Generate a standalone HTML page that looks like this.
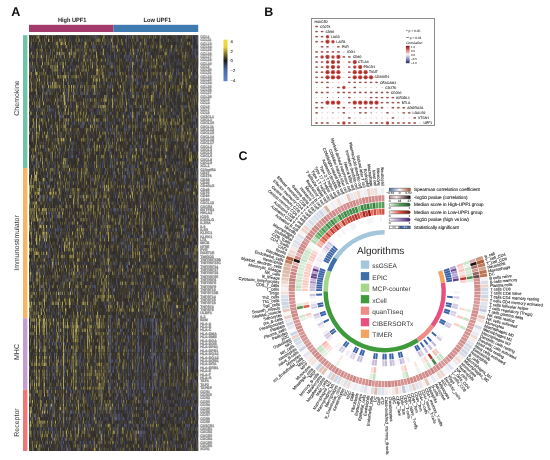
<!DOCTYPE html>
<html><head><meta charset="utf-8"><title>Figure</title>
<style>
html,body{margin:0;padding:0;background:#fff;}
body{width:550px;height:460px;overflow:hidden;}
svg{display:block;font-family:"Liberation Sans", Arial, sans-serif;text-rendering:geometricPrecision;filter:blur(0.3px);}
</style></head>
<body>
<svg width="550" height="460" viewBox="0 0 550 460">
<defs><filter id="hblur" x="-2%" y="-2%" width="104%" height="104%"><feGaussianBlur stdDeviation="0.45"/></filter><filter id="tblur" x="-5%" y="-1%" width="110%" height="102%"><feGaussianBlur stdDeviation="0.25"/></filter></defs>
<rect width="550" height="460" fill="#fff"/>
<text x="11.2" y="15.7" font-size="12.6" font-weight="bold" fill="#111">A</text>
<rect x="29" y="24.8" width="84.6" height="7.2" fill="#a33a6b"/>
<rect x="113.6" y="24.8" width="84.6" height="7.2" fill="#3f7bb0"/>
<text x="58" y="21.7" font-size="6.1" font-weight="bold" fill="#222" textLength="28.4" lengthAdjust="spacingAndGlyphs">High UPF1</text>
<text x="143.6" y="21.8" font-size="6.1" font-weight="bold" fill="#222" textLength="27.6" lengthAdjust="spacingAndGlyphs">Low UPF1</text>
<rect x="23" y="35.2" width="4.4" height="132.80" fill="#6cc6a5"/>
<text transform="translate(18.6 98) rotate(-90)" font-size="7" fill="#333" text-anchor="middle">Chemokine</text>
<rect x="23" y="168.0" width="4.4" height="150.30" fill="#f6b567"/>
<text transform="translate(18.6 243) rotate(-90)" font-size="7" fill="#333" text-anchor="middle">Immunostimulator</text>
<rect x="23" y="318.3" width="4.4" height="71.50" fill="#c69bd2"/>
<text transform="translate(18.6 352) rotate(-90)" font-size="7" fill="#333" text-anchor="middle">MHC</text>
<rect x="23" y="389.8" width="4.4" height="61.20" fill="#f27774"/>
<text transform="translate(18.6 422.6) rotate(-90)" font-size="7" fill="#333" text-anchor="middle">Receptor</text>
<rect x="29.0" y="35.2" width="169.20" height="415.80" fill="#322d27"/>
<g filter="url(#hblur)">
<path d="M29.0 36.9h1.0M50.0 36.9h1.0M71.0 36.9h1.0M98.1 36.9h2.0M113.1 36.9h2.0M124.1 36.9h1.0M134.1 36.9h1.0M146.1 36.9h1.0M156.2 36.9h2.0M164.2 36.9h2.0M179.2 36.9h1.0M184.2 36.9h1.0M45.0 40.2h1.0M53.0 40.2h1.0M63.0 40.2h1.0M73.1 40.2h1.0M83.1 40.2h1.0M107.1 40.2h1.0M134.1 40.2h1.0M141.1 40.2h1.0M148.1 40.2h2.0M170.2 40.2h1.0M193.2 40.2h1.0M37.0 43.5h1.0M41.0 43.5h1.0M43.0 43.5h1.0M47.0 43.5h1.0M83.1 43.5h1.0M107.1 43.5h1.0M115.1 43.5h1.0M129.1 43.5h1.0M134.1 43.5h1.0M163.2 43.5h2.0M172.2 43.5h1.0M178.2 43.5h2.0M186.2 43.5h1.0M195.2 43.5h1.0M32.0 46.8h2.0M52.0 46.8h1.0M73.1 46.8h1.0M77.1 46.8h1.0M79.1 46.8h1.0M86.1 46.8h1.0M90.1 46.8h1.0M100.1 46.8h1.0M104.1 46.8h1.0M108.1 46.8h1.0M115.1 46.8h1.0M120.1 46.8h1.0M137.1 46.8h2.0M168.2 46.8h1.0M172.2 46.8h1.0M178.2 46.8h1.0M189.2 46.8h2.0M197.2 46.8h1.0M31.0 50.1h4.0M72.1 50.1h1.0M105.1 50.1h1.0M111.1 50.1h1.0M118.1 50.1h1.0M126.1 50.1h1.0M136.1 50.1h1.0M153.1 50.1h1.0M173.2 50.1h1.0M183.2 50.1h1.0M40.0 53.5h1.0M44.0 53.5h1.0M47.0 53.5h1.0M54.0 53.5h1.0M99.1 53.5h1.0M115.1 53.5h2.0M140.1 53.5h1.0M154.1 53.5h2.0M157.2 53.5h1.0M161.2 53.5h1.0M171.2 53.5h1.0M174.2 53.5h1.0M176.2 53.5h1.0M197.2 53.5h1.0M55.0 56.8h1.0M66.0 56.8h1.0M72.1 56.8h1.0M82.1 56.8h1.0M86.1 56.8h1.0M112.1 56.8h1.0M115.1 56.8h1.0M117.1 56.8h2.0M134.1 56.8h1.0M138.1 56.8h1.0M140.1 56.8h2.0M143.1 56.8h1.0M150.1 56.8h1.0M155.1 56.8h1.0M169.2 56.8h2.0M183.2 56.8h1.0M186.2 56.8h1.0M188.2 56.8h1.0M190.2 56.8h1.0M194.2 56.8h1.0M32.0 60.1h2.0M59.0 60.1h1.0M80.1 60.1h1.0M82.1 60.1h1.0M91.1 60.1h1.0M93.1 60.1h1.0M103.1 60.1h1.0M109.1 60.1h1.0M114.1 60.1h1.0M123.1 60.1h1.0M149.1 60.1h1.0M167.2 60.1h1.0M176.2 60.1h2.0M179.2 60.1h1.0M181.2 60.1h1.0M187.2 60.1h1.0M39.0 63.4h1.0M67.0 63.4h1.0M72.1 63.4h1.0M91.1 63.4h1.0M108.1 63.4h1.0M113.1 63.4h1.0M134.1 63.4h1.0M140.1 63.4h1.0M143.1 63.4h1.0M149.1 63.4h1.0M162.2 63.4h1.0M164.2 63.4h1.0M167.2 63.4h1.0M172.2 63.4h1.0M197.2 63.4h1.0M45.0 66.7h1.0M58.0 66.7h1.0M66.0 66.7h1.0M68.0 66.7h1.0M72.1 66.7h1.0M74.1 66.7h2.0M80.1 66.7h2.0M84.1 66.7h1.0M91.1 66.7h1.0M94.1 66.7h1.0M122.1 66.7h1.0M134.1 66.7h1.0M162.2 66.7h1.0M167.2 66.7h1.0M172.2 66.7h2.0M176.2 66.7h1.0M186.2 66.7h1.0M39.0 70.1h1.0M67.0 70.1h1.0M69.0 70.1h1.0M71.0 70.1h1.0M77.1 70.1h1.0M94.1 70.1h1.0M109.1 70.1h2.0M124.1 70.1h2.0M133.1 70.1h1.0M138.1 70.1h1.0M141.1 70.1h2.0M164.2 70.1h1.0M167.2 70.1h1.0M181.2 70.1h1.0M184.2 70.1h1.0M32.0 73.4h1.0M34.0 73.4h1.0M49.0 73.4h1.0M53.0 73.4h2.0M73.1 73.4h2.0M86.1 73.4h1.0M92.1 73.4h1.0M107.1 73.4h1.0M111.1 73.4h1.0M114.1 73.4h1.0M136.1 73.4h1.0M164.2 73.4h1.0M181.2 73.4h1.0M41.0 76.7h1.0M49.0 76.7h1.0M79.1 76.7h1.0M92.1 76.7h1.0M107.1 76.7h1.0M112.1 76.7h1.0M114.1 76.7h2.0M117.1 76.7h1.0M146.1 76.7h1.0M150.1 76.7h1.0M154.1 76.7h1.0M164.2 76.7h1.0M179.2 76.7h1.0M34.0 80.0h1.0M42.0 80.0h1.0M46.0 80.0h1.0M48.0 80.0h1.0M57.0 80.0h2.0M61.0 80.0h1.0M69.0 80.0h1.0M72.1 80.0h1.0M81.1 80.0h1.0M88.1 80.0h1.0M119.1 80.0h1.0M123.1 80.0h1.0M145.1 80.0h1.0M148.1 80.0h2.0M151.1 80.0h2.0M158.2 80.0h1.0M34.0 83.3h1.0M43.0 83.3h1.0M45.0 83.3h1.0M49.0 83.3h1.0M79.1 83.3h1.0M82.1 83.3h1.0M95.1 83.3h1.0M98.1 83.3h1.0M102.1 83.3h1.0M105.1 83.3h1.0M109.1 83.3h1.0M114.1 83.3h1.0M128.1 83.3h1.0M133.1 83.3h1.0M140.1 83.3h1.0M145.1 83.3h2.0M154.1 83.3h1.0M159.2 83.3h1.0M167.2 83.3h1.0M187.2 83.3h1.0M30.0 86.7h1.0M33.0 86.7h1.0M90.1 86.7h1.0M97.1 86.7h1.0M114.1 86.7h1.0M124.1 86.7h1.0M126.1 86.7h1.0M152.1 86.7h1.0M56.0 90.0h1.0M58.0 90.0h1.0M72.1 90.0h1.0M85.1 90.0h1.0M91.1 90.0h1.0M97.1 90.0h1.0M103.1 90.0h1.0M110.1 90.0h1.0M128.1 90.0h1.0M149.1 90.0h1.0M152.1 90.0h1.0M174.2 90.0h1.0M192.2 90.0h1.0M194.2 90.0h2.0M29.0 93.3h1.0M54.0 93.3h1.0M60.0 93.3h1.0M70.0 93.3h1.0M78.1 93.3h1.0M85.1 93.3h1.0M88.1 93.3h1.0M91.1 93.3h2.0M96.1 93.3h1.0M98.1 93.3h1.0M164.2 93.3h1.0M175.2 93.3h2.0M30.0 96.6h1.0M35.0 96.6h1.0M43.0 96.6h1.0M67.0 96.6h1.0M72.1 96.6h1.0M87.1 96.6h2.0M99.1 96.6h1.0M108.1 96.6h1.0M110.1 96.6h1.0M114.1 96.6h1.0M119.1 96.6h1.0M129.1 96.6h1.0M131.1 96.6h1.0M143.1 96.6h1.0M155.1 96.6h1.0M158.2 96.6h1.0M171.2 96.6h2.0M190.2 96.6h3.0M197.2 96.6h1.0M34.0 99.9h1.0M49.0 99.9h1.0M56.0 99.9h1.0M66.0 99.9h1.0M80.1 99.9h1.0M88.1 99.9h1.0M100.1 99.9h1.0M109.1 99.9h1.0M121.1 99.9h1.0M131.1 99.9h1.0M155.1 99.9h1.0M158.2 99.9h1.0M170.2 99.9h1.0M35.0 103.3h1.0M46.0 103.3h1.0M79.1 103.3h1.0M88.1 103.3h1.0M92.1 103.3h1.0M109.1 103.3h2.0M114.1 103.3h1.0M127.1 103.3h1.0M144.1 103.3h1.0M146.1 103.3h1.0M150.1 103.3h1.0M155.1 103.3h1.0M158.2 103.3h1.0M171.2 103.3h1.0M183.2 103.3h1.0M186.2 103.3h1.0M42.0 106.6h1.0M52.0 106.6h2.0M73.1 106.6h1.0M90.1 106.6h1.0M97.1 106.6h1.0M106.1 106.6h1.0M110.1 106.6h1.0M113.1 106.6h1.0M115.1 106.6h1.0M161.2 106.6h1.0M163.2 106.6h1.0M168.2 106.6h1.0M174.2 106.6h1.0M187.2 106.6h1.0M196.2 106.6h1.0M54.0 109.9h1.0M70.0 109.9h1.0M96.1 109.9h1.0M99.1 109.9h1.0M116.1 109.9h1.0M124.1 109.9h1.0M131.1 109.9h1.0M142.1 109.9h1.0M148.1 109.9h1.0M155.1 109.9h1.0M167.2 109.9h1.0M170.2 109.9h1.0M172.2 109.9h1.0M175.2 109.9h1.0M178.2 109.9h1.0M188.2 109.9h1.0M195.2 109.9h1.0M43.0 113.2h1.0M50.0 113.2h2.0M66.0 113.2h1.0M72.1 113.2h1.0M90.1 113.2h1.0M95.1 113.2h2.0M98.1 113.2h1.0M107.1 113.2h1.0M109.1 113.2h1.0M113.1 113.2h1.0M115.1 113.2h1.0M149.1 113.2h1.0M151.1 113.2h1.0M170.2 113.2h1.0M189.2 113.2h1.0M35.0 116.5h1.0M39.0 116.5h1.0M42.0 116.5h1.0M49.0 116.5h2.0M54.0 116.5h1.0M56.0 116.5h1.0M72.1 116.5h1.0M86.1 116.5h1.0M115.1 116.5h1.0M120.1 116.5h1.0M126.1 116.5h1.0M130.1 116.5h1.0M134.1 116.5h1.0M141.1 116.5h1.0M149.1 116.5h1.0M153.1 116.5h1.0M156.2 116.5h1.0M189.2 116.5h2.0M75.1 119.9h1.0M95.1 119.9h1.0M124.1 119.9h2.0M130.1 119.9h1.0M142.1 119.9h1.0M197.2 119.9h1.0M73.1 123.2h1.0M75.1 123.2h2.0M81.1 123.2h1.0M86.1 123.2h1.0M103.1 123.2h1.0M106.1 123.2h1.0M115.1 123.2h1.0M142.1 123.2h1.0M146.1 123.2h1.0M154.1 123.2h1.0M185.2 123.2h2.0M188.2 123.2h1.0M193.2 123.2h1.0M35.0 126.5h1.0M49.0 126.5h1.0M55.0 126.5h1.0M60.0 126.5h1.0M68.0 126.5h1.0M75.1 126.5h1.0M89.1 126.5h1.0M95.1 126.5h1.0M99.1 126.5h1.0M101.1 126.5h1.0M104.1 126.5h1.0M109.1 126.5h1.0M118.1 126.5h1.0M121.1 126.5h1.0M125.1 126.5h1.0M149.1 126.5h1.0M152.1 126.5h1.0M174.2 126.5h1.0M176.2 126.5h1.0M180.2 126.5h1.0M194.2 126.5h1.0M82.1 129.8h1.0M84.1 129.8h1.0M104.1 129.8h1.0M113.1 129.8h1.0M117.1 129.8h2.0M120.1 129.8h1.0M137.1 129.8h1.0M140.1 129.8h2.0M147.1 129.8h1.0M150.1 129.8h1.0M154.1 129.8h1.0M180.2 129.8h1.0M183.2 129.8h1.0M185.2 129.8h1.0M33.0 133.1h1.0M62.0 133.1h1.0M67.0 133.1h1.0M70.0 133.1h1.0M72.1 133.1h2.0M81.1 133.1h1.0M87.1 133.1h2.0M90.1 133.1h1.0M92.1 133.1h1.0M128.1 133.1h1.0M142.1 133.1h1.0M153.1 133.1h1.0M166.2 133.1h1.0M183.2 133.1h1.0M188.2 133.1h1.0M31.0 136.5h1.0M35.0 136.5h1.0M50.0 136.5h2.0M89.1 136.5h1.0M93.1 136.5h1.0M121.1 136.5h1.0M130.1 136.5h1.0M135.1 136.5h1.0M141.1 136.5h1.0M143.1 136.5h1.0M185.2 136.5h1.0M29.0 139.8h1.0M50.0 139.8h1.0M73.1 139.8h1.0M77.1 139.8h3.0M86.1 139.8h1.0M89.1 139.8h1.0M139.1 139.8h1.0M142.1 139.8h1.0M149.1 139.8h1.0M170.2 139.8h1.0M172.2 139.8h1.0M178.2 139.8h1.0M195.2 139.8h1.0M42.0 143.1h1.0M47.0 143.1h1.0M65.0 143.1h1.0M75.1 143.1h1.0M88.1 143.1h1.0M99.1 143.1h1.0M117.1 143.1h1.0M144.1 143.1h1.0M152.1 143.1h1.0M159.2 143.1h1.0M163.2 143.1h1.0M170.2 143.1h1.0M173.2 143.1h1.0M180.2 143.1h1.0M186.2 143.1h1.0M41.0 146.4h1.0M66.0 146.4h1.0M71.0 146.4h1.0M85.1 146.4h1.0M102.1 146.4h1.0M138.1 146.4h1.0M141.1 146.4h1.0M149.1 146.4h1.0M155.1 146.4h3.0M178.2 146.4h2.0M191.2 146.4h1.0M29.0 149.7h1.0M43.0 149.7h2.0M61.0 149.7h1.0M90.1 149.7h1.0M123.1 149.7h1.0M125.1 149.7h1.0M133.1 149.7h2.0M138.1 149.7h1.0M141.1 149.7h1.0M157.2 149.7h1.0M167.2 149.7h2.0M174.2 149.7h1.0M178.2 149.7h1.0M192.2 149.7h1.0M37.0 153.1h1.0M44.0 153.1h1.0M49.0 153.1h1.0M56.0 153.1h1.0M60.0 153.1h1.0M66.0 153.1h1.0M78.1 153.1h1.0M86.1 153.1h1.0M88.1 153.1h1.0M106.1 153.1h1.0M117.1 153.1h1.0M128.1 153.1h1.0M131.1 153.1h1.0M141.1 153.1h1.0M148.1 153.1h1.0M159.2 153.1h1.0M167.2 153.1h1.0M176.2 153.1h1.0M188.2 153.1h1.0M29.0 156.4h1.0M58.0 156.4h1.0M64.0 156.4h1.0M73.1 156.4h1.0M78.1 156.4h1.0M88.1 156.4h1.0M91.1 156.4h1.0M97.1 156.4h1.0M107.1 156.4h1.0M128.1 156.4h1.0M131.1 156.4h1.0M142.1 156.4h2.0M153.1 156.4h1.0M156.2 156.4h1.0M162.2 156.4h1.0M167.2 156.4h2.0M170.2 156.4h1.0M186.2 156.4h1.0M196.2 156.4h1.0M30.0 159.7h1.0M34.0 159.7h2.0M54.0 159.7h1.0M57.0 159.7h1.0M59.0 159.7h1.0M76.1 159.7h1.0M82.1 159.7h1.0M86.1 159.7h1.0M97.1 159.7h1.0M105.1 159.7h1.0M109.1 159.7h1.0M119.1 159.7h1.0M122.1 159.7h1.0M134.1 159.7h1.0M137.1 159.7h3.0M143.1 159.7h1.0M148.1 159.7h1.0M162.2 159.7h1.0M168.2 159.7h1.0M173.2 159.7h1.0M180.2 159.7h1.0M183.2 159.7h1.0M29.0 163.0h1.0M40.0 163.0h1.0M50.0 163.0h1.0M69.0 163.0h2.0M83.1 163.0h1.0M95.1 163.0h1.0M131.1 163.0h1.0M134.1 163.0h1.0M144.1 163.0h1.0M159.2 163.0h1.0M164.2 163.0h1.0M169.2 163.0h2.0M181.2 163.0h1.0M183.2 163.0h1.0M195.2 163.0h1.0M46.0 166.3h1.0M74.1 166.3h1.0M76.1 166.3h1.0M87.1 166.3h1.0M92.1 166.3h1.0M103.1 166.3h1.0M118.1 166.3h2.0M125.1 166.3h1.0M143.1 166.3h1.0M148.1 166.3h1.0M150.1 166.3h1.0M159.2 166.3h1.0M176.2 166.3h1.0M180.2 166.3h1.0M184.2 166.3h1.0M186.2 166.3h1.0M191.2 166.3h1.0M30.0 169.7h1.0M38.0 169.7h1.0M49.0 169.7h1.0M61.0 169.7h1.0M68.0 169.7h1.0M92.1 169.7h1.0M100.1 169.7h1.0M102.1 169.7h1.0M108.1 169.7h1.0M113.1 169.7h1.0M120.1 169.7h1.0M140.1 169.7h1.0M151.1 169.7h2.0M179.2 169.7h1.0M181.2 169.7h1.0M192.2 169.7h1.0M31.0 173.0h1.0M38.0 173.0h1.0M44.0 173.0h2.0M48.0 173.0h1.0M55.0 173.0h2.0M60.0 173.0h1.0M75.1 173.0h2.0M110.1 173.0h1.0M126.1 173.0h1.0M135.1 173.0h1.0M140.1 173.0h1.0M144.1 173.0h1.0M156.2 173.0h1.0M171.2 173.0h1.0M192.2 173.0h1.0M37.0 176.4h1.0M48.0 176.4h1.0M56.0 176.4h1.0M72.1 176.4h1.0M79.1 176.4h1.0M82.1 176.4h1.0M91.1 176.4h1.0M110.1 176.4h1.0M112.1 176.4h1.0M116.1 176.4h1.0M127.1 176.4h1.0M146.1 176.4h1.0M152.1 176.4h1.0M160.2 176.4h2.0M172.2 176.4h2.0M175.2 176.4h2.0M178.2 176.4h1.0M190.2 176.4h1.0M58.0 179.7h1.0M63.0 179.7h1.0M71.0 179.7h2.0M74.1 179.7h1.0M82.1 179.7h1.0M102.1 179.7h1.0M109.1 179.7h1.0M111.1 179.7h1.0M113.1 179.7h2.0M123.1 179.7h1.0M126.1 179.7h1.0M130.1 179.7h1.0M134.1 179.7h1.0M149.1 179.7h2.0M156.2 179.7h1.0M173.2 179.7h1.0M185.2 179.7h1.0M193.2 179.7h1.0M195.2 179.7h2.0M37.0 183.0h1.0M45.0 183.0h1.0M71.0 183.0h1.0M99.1 183.0h1.0M121.1 183.0h1.0M127.1 183.0h1.0M144.1 183.0h1.0M166.2 183.0h1.0M171.2 183.0h1.0M182.2 183.0h1.0M189.2 183.0h1.0M55.0 186.4h1.0M64.0 186.4h1.0M68.0 186.4h1.0M71.0 186.4h1.0M75.1 186.4h1.0M96.1 186.4h1.0M116.1 186.4h1.0M132.1 186.4h1.0M138.1 186.4h1.0M146.1 186.4h1.0M154.1 186.4h1.0M162.2 186.4h1.0M175.2 186.4h1.0M177.2 186.4h1.0M189.2 186.4h1.0M193.2 186.4h1.0M43.0 189.7h1.0M54.0 189.7h1.0M63.0 189.7h1.0M80.1 189.7h1.0M100.1 189.7h1.0M110.1 189.7h2.0M113.1 189.7h1.0M116.1 189.7h1.0M118.1 189.7h1.0M132.1 189.7h1.0M134.1 189.7h1.0M149.1 189.7h1.0M157.2 189.7h1.0M172.2 189.7h2.0M177.2 189.7h2.0M64.0 193.1h1.0M67.0 193.1h1.0M71.0 193.1h1.0M79.1 193.1h1.0M82.1 193.1h1.0M84.1 193.1h1.0M107.1 193.1h1.0M110.1 193.1h2.0M115.1 193.1h1.0M117.1 193.1h1.0M126.1 193.1h2.0M144.1 193.1h1.0M171.2 193.1h1.0M182.2 193.1h1.0M55.0 196.4h1.0M59.0 196.4h1.0M61.0 196.4h1.0M64.0 196.4h1.0M79.1 196.4h1.0M125.1 196.4h1.0M138.1 196.4h1.0M146.1 196.4h1.0M150.1 196.4h2.0M162.2 196.4h1.0M165.2 196.4h1.0M170.2 196.4h1.0M173.2 196.4h1.0M175.2 196.4h1.0M183.2 196.4h1.0M191.2 196.4h2.0M31.0 199.7h1.0M41.0 199.7h1.0M47.0 199.7h1.0M58.0 199.7h1.0M62.0 199.7h1.0M76.1 199.7h1.0M110.1 199.7h1.0M114.1 199.7h1.0M121.1 199.7h1.0M125.1 199.7h1.0M129.1 199.7h1.0M135.1 199.7h1.0M138.1 199.7h1.0M160.2 199.7h1.0M167.2 199.7h1.0M182.2 199.7h2.0M186.2 199.7h1.0M192.2 199.7h1.0M195.2 199.7h1.0M59.0 203.1h1.0M68.0 203.1h1.0M87.1 203.1h1.0M95.1 203.1h1.0M125.1 203.1h1.0M134.1 203.1h1.0M138.1 203.1h1.0M145.1 203.1h1.0M164.2 203.1h1.0M176.2 203.1h1.0M45.0 206.4h1.0M74.1 206.4h1.0M79.1 206.4h1.0M83.1 206.4h1.0M89.1 206.4h1.0M99.1 206.4h2.0M107.1 206.4h1.0M115.1 206.4h2.0M128.1 206.4h1.0M132.1 206.4h2.0M136.1 206.4h1.0M144.1 206.4h1.0M168.2 206.4h1.0M174.2 206.4h1.0M185.2 206.4h1.0M195.2 206.4h1.0M49.0 209.8h1.0M60.0 209.8h1.0M116.1 209.8h1.0M152.1 209.8h1.0M154.1 209.8h1.0M171.2 209.8h1.0M192.2 209.8h1.0M32.0 213.1h1.0M47.0 213.1h1.0M60.0 213.1h1.0M72.1 213.1h1.0M92.1 213.1h1.0M110.1 213.1h2.0M118.1 213.1h1.0M120.1 213.1h1.0M131.1 213.1h1.0M133.1 213.1h1.0M155.1 213.1h1.0M159.2 213.1h1.0M163.2 213.1h1.0M178.2 213.1h1.0M186.2 213.1h1.0M190.2 213.1h1.0M192.2 213.1h1.0M55.0 216.4h1.0M70.0 216.4h1.0M105.1 216.4h1.0M131.1 216.4h1.0M159.2 216.4h1.0M171.2 216.4h1.0M42.0 219.8h1.0M45.0 219.8h1.0M55.0 219.8h1.0M58.0 219.8h1.0M63.0 219.8h1.0M70.0 219.8h1.0M75.1 219.8h2.0M88.1 219.8h1.0M99.1 219.8h1.0M101.1 219.8h1.0M124.1 219.8h1.0M140.1 219.8h1.0M147.1 219.8h1.0M149.1 219.8h1.0M156.2 219.8h1.0M159.2 219.8h2.0M171.2 219.8h1.0M174.2 219.8h1.0M178.2 219.8h1.0M194.2 219.8h1.0M37.0 223.1h1.0M55.0 223.1h1.0M57.0 223.1h1.0M76.1 223.1h1.0M78.1 223.1h1.0M87.1 223.1h1.0M109.1 223.1h1.0M114.1 223.1h1.0M116.1 223.1h2.0M124.1 223.1h1.0M140.1 223.1h1.0M149.1 223.1h1.0M185.2 223.1h1.0M195.2 223.1h1.0M35.0 226.4h1.0M49.0 226.4h1.0M61.0 226.4h1.0M64.0 226.4h1.0M66.0 226.4h1.0M82.1 226.4h2.0M94.1 226.4h1.0M97.1 226.4h1.0M116.1 226.4h1.0M125.1 226.4h1.0M127.1 226.4h1.0M139.1 226.4h2.0M152.1 226.4h1.0M156.2 226.4h2.0M168.2 226.4h1.0M37.0 229.8h1.0M54.0 229.8h1.0M62.0 229.8h1.0M64.0 229.8h1.0M73.1 229.8h1.0M97.1 229.8h1.0M118.1 229.8h2.0M126.1 229.8h2.0M143.1 229.8h1.0M180.2 229.8h1.0M187.2 229.8h1.0M32.0 233.1h1.0M41.0 233.1h1.0M61.0 233.1h1.0M67.0 233.1h1.0M78.1 233.1h1.0M92.1 233.1h1.0M94.1 233.1h1.0M110.1 233.1h1.0M124.1 233.1h1.0M129.1 233.1h1.0M146.1 233.1h1.0M152.1 233.1h1.0M154.1 233.1h1.0M170.2 233.1h1.0M172.2 233.1h1.0M178.2 233.1h1.0M185.2 233.1h1.0M41.0 236.5h1.0M48.0 236.5h1.0M61.0 236.5h2.0M64.0 236.5h1.0M82.1 236.5h1.0M86.1 236.5h1.0M88.1 236.5h1.0M90.1 236.5h1.0M99.1 236.5h1.0M104.1 236.5h1.0M133.1 236.5h1.0M155.1 236.5h1.0M159.2 236.5h1.0M164.2 236.5h1.0M188.2 236.5h1.0M32.0 239.8h1.0M41.0 239.8h1.0M61.0 239.8h1.0M92.1 239.8h1.0M102.1 239.8h1.0M106.1 239.8h1.0M120.1 239.8h1.0M122.1 239.8h1.0M136.1 239.8h1.0M138.1 239.8h1.0M155.1 239.8h1.0M179.2 239.8h1.0M181.2 239.8h1.0M192.2 239.8h1.0M32.0 243.2h2.0M48.0 243.2h1.0M56.0 243.2h1.0M61.0 243.2h1.0M72.1 243.2h1.0M88.1 243.2h1.0M102.1 243.2h1.0M110.1 243.2h2.0M114.1 243.2h1.0M124.1 243.2h1.0M128.1 243.2h1.0M133.1 243.2h2.0M143.1 243.2h1.0M145.1 243.2h1.0M159.2 243.2h1.0M162.2 243.2h1.0M173.2 243.2h1.0M179.2 243.2h1.0M48.0 246.5h1.0M50.0 246.5h1.0M55.0 246.5h1.0M88.1 246.5h1.0M96.1 246.5h1.0M141.1 246.5h1.0M143.1 246.5h1.0M153.1 246.5h1.0M157.2 246.5h1.0M167.2 246.5h2.0M179.2 246.5h1.0M188.2 246.5h1.0M190.2 246.5h2.0M39.0 249.8h2.0M53.0 249.8h1.0M110.1 249.8h1.0M115.1 249.8h1.0M119.1 249.8h1.0M125.1 249.8h1.0M131.1 249.8h1.0M161.2 249.8h1.0M163.2 249.8h1.0M186.2 249.8h1.0M49.0 253.2h1.0M64.0 253.2h2.0M74.1 253.2h2.0M97.1 253.2h1.0M100.1 253.2h1.0M109.1 253.2h1.0M116.1 253.2h2.0M141.1 253.2h1.0M167.2 253.2h1.0M173.2 253.2h1.0M190.2 253.2h1.0M40.0 256.5h1.0M44.0 256.5h1.0M96.1 256.5h1.0M104.1 256.5h1.0M106.1 256.5h1.0M125.1 256.5h1.0M129.1 256.5h1.0M131.1 256.5h1.0M140.1 256.5h1.0M153.1 256.5h1.0M157.2 256.5h1.0M165.2 256.5h1.0M170.2 256.5h2.0M173.2 256.5h2.0M184.2 256.5h1.0M197.2 256.5h1.0M57.0 259.9h1.0M64.0 259.9h1.0M105.1 259.9h2.0M153.1 259.9h1.0M157.2 259.9h1.0M179.2 259.9h1.0M181.2 259.9h1.0M192.2 259.9h1.0M47.0 263.2h2.0M57.0 263.2h1.0M80.1 263.2h1.0M85.1 263.2h1.0M89.1 263.2h1.0M112.1 263.2h1.0M117.1 263.2h1.0M119.1 263.2h1.0M125.1 263.2h1.0M133.1 263.2h1.0M143.1 263.2h2.0M164.2 263.2h1.0M174.2 263.2h1.0M177.2 263.2h2.0M189.2 263.2h2.0M38.0 266.5h1.0M42.0 266.5h1.0M62.0 266.5h1.0M71.0 266.5h1.0M91.1 266.5h1.0M94.1 266.5h1.0M101.1 266.5h1.0M107.1 266.5h1.0M123.1 266.5h1.0M139.1 266.5h1.0M157.2 266.5h1.0M159.2 266.5h1.0M177.2 266.5h1.0M190.2 266.5h1.0M35.0 269.9h1.0M42.0 269.9h1.0M46.0 269.9h2.0M68.0 269.9h1.0M76.1 269.9h1.0M79.1 269.9h1.0M81.1 269.9h1.0M91.1 269.9h1.0M111.1 269.9h1.0M136.1 269.9h1.0M155.1 269.9h1.0M160.2 269.9h1.0M162.2 269.9h2.0M168.2 269.9h1.0M172.2 269.9h2.0M180.2 269.9h1.0M182.2 269.9h1.0M186.2 269.9h1.0M188.2 269.9h1.0M190.2 269.9h1.0M45.0 273.2h1.0M48.0 273.2h1.0M82.1 273.2h1.0M88.1 273.2h1.0M91.1 273.2h1.0M115.1 273.2h2.0M127.1 273.2h1.0M130.1 273.2h1.0M133.1 273.2h2.0M169.2 273.2h1.0M179.2 273.2h1.0M189.2 273.2h1.0M31.0 276.6h1.0M48.0 276.6h1.0M119.1 276.6h1.0M137.1 276.6h1.0M149.1 276.6h1.0M152.1 276.6h2.0M156.2 276.6h1.0M192.2 276.6h1.0M195.2 276.6h1.0M31.0 279.9h1.0M41.0 279.9h1.0M54.0 279.9h1.0M60.0 279.9h1.0M88.1 279.9h1.0M107.1 279.9h1.0M109.1 279.9h1.0M119.1 279.9h1.0M133.1 279.9h1.0M155.1 279.9h1.0M158.2 279.9h1.0M164.2 279.9h1.0M42.0 283.2h1.0M47.0 283.2h1.0M76.1 283.2h1.0M82.1 283.2h1.0M88.1 283.2h1.0M109.1 283.2h1.0M113.1 283.2h1.0M117.1 283.2h1.0M119.1 283.2h1.0M139.1 283.2h1.0M144.1 283.2h1.0M150.1 283.2h1.0M160.2 283.2h1.0M176.2 283.2h1.0M190.2 283.2h2.0M50.0 286.6h1.0M62.0 286.6h1.0M91.1 286.6h1.0M98.1 286.6h1.0M109.1 286.6h1.0M124.1 286.6h1.0M129.1 286.6h2.0M149.1 286.6h1.0M157.2 286.6h1.0M161.2 286.6h1.0M163.2 286.6h1.0M192.2 286.6h1.0M195.2 286.6h1.0M45.0 289.9h2.0M76.1 289.9h1.0M94.1 289.9h1.0M111.1 289.9h1.0M127.1 289.9h1.0M130.1 289.9h1.0M137.1 289.9h1.0M140.1 289.9h1.0M147.1 289.9h1.0M161.2 289.9h1.0M163.2 289.9h1.0M168.2 289.9h1.0M170.2 289.9h1.0M175.2 289.9h1.0M177.2 289.9h1.0M181.2 289.9h1.0M190.2 289.9h1.0M35.0 293.2h1.0M66.0 293.2h1.0M71.0 293.2h1.0M73.1 293.2h1.0M80.1 293.2h1.0M89.1 293.2h1.0M94.1 293.2h3.0M107.1 293.2h1.0M109.1 293.2h1.0M113.1 293.2h1.0M116.1 293.2h1.0M136.1 293.2h1.0M141.1 293.2h1.0M147.1 293.2h1.0M152.1 293.2h1.0M155.1 293.2h1.0M163.2 293.2h2.0M172.2 293.2h2.0M177.2 293.2h1.0M180.2 293.2h1.0M185.2 293.2h2.0M42.0 296.6h1.0M47.0 296.6h1.0M53.0 296.6h1.0M63.0 296.6h1.0M66.0 296.6h2.0M78.1 296.6h1.0M124.1 296.6h1.0M133.1 296.6h1.0M135.1 296.6h1.0M154.1 296.6h1.0M172.2 296.6h2.0M188.2 296.6h1.0M191.2 296.6h1.0M37.0 299.9h1.0M48.0 299.9h1.0M50.0 299.9h1.0M119.1 299.9h1.0M162.2 299.9h1.0M165.2 299.9h1.0M181.2 299.9h1.0M184.2 299.9h1.0M194.2 299.9h1.0M54.0 303.3h1.0M103.1 303.3h1.0M105.1 303.3h1.0M120.1 303.3h1.0M128.1 303.3h1.0M133.1 303.3h1.0M140.1 303.3h1.0M172.2 303.3h1.0M174.2 303.3h1.0M180.2 303.3h1.0M184.2 303.3h1.0M189.2 303.3h1.0M193.2 303.3h2.0M35.0 306.6h1.0M45.0 306.6h1.0M47.0 306.6h1.0M50.0 306.6h1.0M75.1 306.6h1.0M82.1 306.6h1.0M86.1 306.6h1.0M104.1 306.6h1.0M123.1 306.6h1.0M128.1 306.6h1.0M154.1 306.6h1.0M173.2 306.6h1.0M175.2 306.6h1.0M38.0 309.9h2.0M42.0 309.9h1.0M48.0 309.9h1.0M54.0 309.9h1.0M59.0 309.9h1.0M99.1 309.9h1.0M105.1 309.9h1.0M139.1 309.9h1.0M148.1 309.9h1.0M174.2 309.9h1.0M178.2 309.9h1.0M184.2 309.9h1.0M194.2 309.9h1.0M197.2 309.9h1.0M47.0 313.3h1.0M49.0 313.3h1.0M52.0 313.3h1.0M57.0 313.3h1.0M63.0 313.3h1.0M66.0 313.3h1.0M78.1 313.3h1.0M86.1 313.3h1.0M91.1 313.3h1.0M101.1 313.3h1.0M126.1 313.3h1.0M134.1 313.3h1.0M137.1 313.3h1.0M156.2 313.3h1.0M161.2 313.3h1.0M168.2 313.3h1.0M175.2 313.3h1.0M178.2 313.3h1.0M32.0 316.6h1.0M37.0 316.6h1.0M50.0 316.6h1.0M61.0 316.6h1.0M70.0 316.6h1.0M72.1 316.6h1.0M99.1 316.6h1.0M105.1 316.6h1.0M112.1 316.6h1.0M117.1 316.6h1.0M125.1 316.6h1.0M132.1 316.6h1.0M140.1 316.6h1.0M156.2 316.6h1.0M164.2 316.6h1.0M172.2 316.6h1.0M175.2 316.6h1.0M178.2 316.6h1.0M181.2 316.6h1.0M184.2 316.6h1.0M193.2 316.6h2.0M59.0 320.0h1.0M64.0 320.0h1.0M85.1 320.0h1.0M113.1 320.0h1.0M117.1 320.0h1.0M121.1 320.0h1.0M124.1 320.0h1.0M129.1 320.0h1.0M140.1 320.0h1.0M143.1 320.0h1.0M146.1 320.0h1.0M148.1 320.0h1.0M165.2 320.0h1.0M176.2 320.0h1.0M178.2 320.0h1.0M186.2 320.0h1.0M191.2 320.0h1.0M31.0 323.4h2.0M52.0 323.4h1.0M55.0 323.4h1.0M95.1 323.4h1.0M106.1 323.4h1.0M109.1 323.4h1.0M124.1 323.4h1.0M127.1 323.4h1.0M139.1 323.4h1.0M145.1 323.4h1.0M153.1 323.4h1.0M163.2 323.4h1.0M168.2 323.4h1.0M197.2 323.4h1.0M45.0 326.8h1.0M47.0 326.8h1.0M61.0 326.8h1.0M69.0 326.8h1.0M85.1 326.8h1.0M94.1 326.8h1.0M100.1 326.8h1.0M125.1 326.8h1.0M128.1 326.8h1.0M144.1 326.8h1.0M157.2 326.8h1.0M163.2 326.8h1.0M168.2 326.8h1.0M188.2 326.8h1.0M29.0 330.2h1.0M41.0 330.2h1.0M47.0 330.2h1.0M80.1 330.2h1.0M92.1 330.2h1.0M112.1 330.2h1.0M125.1 330.2h1.0M127.1 330.2h1.0M142.1 330.2h1.0M146.1 330.2h1.0M165.2 330.2h1.0M37.0 333.6h1.0M48.0 333.6h1.0M61.0 333.6h2.0M65.0 333.6h1.0M70.0 333.6h1.0M80.1 333.6h1.0M92.1 333.6h1.0M94.1 333.6h1.0M121.1 333.6h1.0M127.1 333.6h1.0M148.1 333.6h1.0M166.2 333.6h1.0M176.2 333.6h1.0M29.0 337.0h1.0M35.0 337.0h1.0M37.0 337.0h1.0M42.0 337.0h1.0M52.0 337.0h1.0M55.0 337.0h1.0M61.0 337.0h2.0M111.1 337.0h1.0M121.1 337.0h1.0M135.1 337.0h2.0M141.1 337.0h1.0M163.2 337.0h1.0M171.2 337.0h1.0M191.2 337.0h1.0M194.2 337.0h1.0M33.0 340.4h1.0M35.0 340.4h1.0M40.0 340.4h1.0M50.0 340.4h3.0M59.0 340.4h1.0M61.0 340.4h1.0M86.1 340.4h1.0M96.1 340.4h1.0M106.1 340.4h1.0M116.1 340.4h1.0M127.1 340.4h1.0M133.1 340.4h1.0M137.1 340.4h1.0M141.1 340.4h1.0M144.1 340.4h1.0M148.1 340.4h1.0M150.1 340.4h2.0M171.2 340.4h1.0M176.2 340.4h1.0M179.2 340.4h1.0M194.2 340.4h1.0M29.0 343.8h1.0M51.0 343.8h1.0M53.0 343.8h1.0M58.0 343.8h1.0M68.0 343.8h1.0M74.1 343.8h1.0M83.1 343.8h1.0M86.1 343.8h1.0M92.1 343.8h1.0M98.1 343.8h1.0M113.1 343.8h2.0M117.1 343.8h1.0M122.1 343.8h1.0M125.1 343.8h1.0M144.1 343.8h1.0M153.1 343.8h1.0M162.2 343.8h1.0M171.2 343.8h1.0M186.2 343.8h1.0M47.0 347.2h2.0M61.0 347.2h1.0M80.1 347.2h1.0M82.1 347.2h1.0M92.1 347.2h2.0M111.1 347.2h1.0M113.1 347.2h1.0M122.1 347.2h1.0M130.1 347.2h2.0M159.2 347.2h1.0M174.2 347.2h1.0M196.2 347.2h1.0M38.0 350.6h1.0M40.0 350.6h1.0M80.1 350.6h1.0M114.1 350.6h1.0M125.1 350.6h1.0M127.1 350.6h1.0M131.1 350.6h1.0M142.1 350.6h2.0M146.1 350.6h1.0M153.1 350.6h1.0M157.2 350.6h1.0M171.2 350.6h1.0M179.2 350.6h1.0M196.2 350.6h1.0M30.0 354.1h1.0M37.0 354.1h1.0M49.0 354.1h1.0M55.0 354.1h1.0M61.0 354.1h1.0M65.0 354.1h1.0M70.0 354.1h1.0M78.1 354.1h1.0M93.1 354.1h1.0M96.1 354.1h2.0M149.1 354.1h1.0M157.2 354.1h1.0M160.2 354.1h1.0M172.2 354.1h1.0M176.2 354.1h1.0M188.2 354.1h1.0M194.2 354.1h1.0M43.0 357.5h1.0M61.0 357.5h1.0M65.0 357.5h1.0M69.0 357.5h1.0M83.1 357.5h1.0M85.1 357.5h1.0M90.1 357.5h1.0M93.1 357.5h1.0M100.1 357.5h1.0M105.1 357.5h1.0M112.1 357.5h1.0M122.1 357.5h1.0M130.1 357.5h2.0M133.1 357.5h1.0M140.1 357.5h1.0M158.2 357.5h1.0M162.2 357.5h1.0M171.2 357.5h2.0M179.2 357.5h1.0M184.2 357.5h1.0M196.2 357.5h1.0M48.0 360.9h1.0M50.0 360.9h1.0M85.1 360.9h1.0M92.1 360.9h1.0M118.1 360.9h1.0M121.1 360.9h1.0M125.1 360.9h1.0M128.1 360.9h1.0M131.1 360.9h1.0M133.1 360.9h1.0M145.1 360.9h1.0M150.1 360.9h1.0M153.1 360.9h1.0M157.2 360.9h2.0M162.2 360.9h1.0M168.2 360.9h1.0M185.2 360.9h1.0M196.2 360.9h2.0M47.0 364.3h1.0M59.0 364.3h1.0M62.0 364.3h1.0M68.0 364.3h1.0M82.1 364.3h1.0M93.1 364.3h2.0M116.1 364.3h1.0M125.1 364.3h1.0M140.1 364.3h1.0M145.1 364.3h1.0M148.1 364.3h1.0M168.2 364.3h1.0M186.2 364.3h1.0M196.2 364.3h2.0M33.0 367.7h1.0M50.0 367.7h1.0M53.0 367.7h1.0M62.0 367.7h1.0M74.1 367.7h1.0M82.1 367.7h2.0M102.1 367.7h1.0M111.1 367.7h1.0M120.1 367.7h2.0M127.1 367.7h1.0M140.1 367.7h1.0M145.1 367.7h1.0M162.2 367.7h1.0M173.2 367.7h1.0M175.2 367.7h1.0M186.2 367.7h1.0M196.2 367.7h1.0M29.0 371.1h1.0M54.0 371.1h1.0M61.0 371.1h1.0M65.0 371.1h1.0M118.1 371.1h1.0M127.1 371.1h1.0M151.1 371.1h1.0M159.2 371.1h1.0M162.2 371.1h1.0M178.2 371.1h1.0M29.0 374.5h1.0M37.0 374.5h1.0M45.0 374.5h1.0M50.0 374.5h1.0M55.0 374.5h1.0M62.0 374.5h1.0M65.0 374.5h1.0M70.0 374.5h1.0M72.1 374.5h1.0M80.1 374.5h1.0M82.1 374.5h2.0M122.1 374.5h1.0M129.1 374.5h1.0M133.1 374.5h1.0M139.1 374.5h2.0M144.1 374.5h1.0M148.1 374.5h1.0M179.2 374.5h1.0M185.2 374.5h1.0M188.2 374.5h1.0M195.2 374.5h1.0M29.0 377.9h1.0M48.0 377.9h1.0M66.0 377.9h1.0M69.0 377.9h2.0M77.1 377.9h2.0M93.1 377.9h1.0M100.1 377.9h1.0M130.1 377.9h1.0M138.1 377.9h1.0M146.1 377.9h1.0M148.1 377.9h1.0M165.2 377.9h2.0M183.2 377.9h1.0M37.0 381.3h1.0M48.0 381.3h1.0M54.0 381.3h1.0M59.0 381.3h1.0M64.0 381.3h1.0M80.1 381.3h1.0M83.1 381.3h1.0M94.1 381.3h1.0M106.1 381.3h1.0M118.1 381.3h1.0M121.1 381.3h2.0M130.1 381.3h1.0M139.1 381.3h2.0M145.1 381.3h1.0M172.2 381.3h1.0M41.0 384.7h1.0M66.0 384.7h1.0M69.0 384.7h1.0M83.1 384.7h1.0M86.1 384.7h1.0M93.1 384.7h1.0M107.1 384.7h1.0M111.1 384.7h3.0M115.1 384.7h1.0M125.1 384.7h1.0M130.1 384.7h2.0M142.1 384.7h1.0M162.2 384.7h1.0M184.2 384.7h1.0M190.2 384.7h1.0M29.0 388.1h1.0M41.0 388.1h1.0M45.0 388.1h1.0M47.0 388.1h1.0M52.0 388.1h2.0M57.0 388.1h1.0M62.0 388.1h1.0M68.0 388.1h1.0M78.1 388.1h1.0M105.1 388.1h1.0M120.1 388.1h1.0M131.1 388.1h1.0M135.1 388.1h1.0M140.1 388.1h1.0M145.1 388.1h1.0M148.1 388.1h1.0M151.1 388.1h1.0M161.2 388.1h1.0M177.2 388.1h1.0M179.2 388.1h1.0M183.2 388.1h1.0M186.2 388.1h1.0M188.2 388.1h1.0M192.2 388.1h1.0M52.0 391.5h1.0M56.0 391.5h1.0M59.0 391.5h1.0M67.0 391.5h2.0M91.1 391.5h1.0M95.1 391.5h1.0M106.1 391.5h1.0M111.1 391.5h1.0M113.1 391.5h2.0M119.1 391.5h1.0M124.1 391.5h2.0M129.1 391.5h1.0M138.1 391.5h1.0M146.1 391.5h2.0M150.1 391.5h1.0M161.2 391.5h1.0M165.2 391.5h1.0M176.2 391.5h2.0M180.2 391.5h1.0M183.2 391.5h1.0M186.2 391.5h1.0M192.2 391.5h1.0M194.2 391.5h1.0M31.0 394.9h2.0M51.0 394.9h2.0M64.0 394.9h1.0M67.0 394.9h1.0M85.1 394.9h1.0M91.1 394.9h1.0M114.1 394.9h1.0M123.1 394.9h1.0M125.1 394.9h1.0M131.1 394.9h1.0M137.1 394.9h1.0M141.1 394.9h1.0M144.1 394.9h2.0M147.1 394.9h1.0M157.2 394.9h1.0M161.2 394.9h2.0M165.2 394.9h2.0M190.2 394.9h1.0M31.0 398.3h1.0M36.0 398.3h2.0M41.0 398.3h1.0M45.0 398.3h1.0M47.0 398.3h1.0M65.0 398.3h1.0M67.0 398.3h2.0M71.0 398.3h1.0M87.1 398.3h1.0M97.1 398.3h1.0M119.1 398.3h1.0M130.1 398.3h1.0M142.1 398.3h1.0M164.2 398.3h1.0M167.2 398.3h1.0M180.2 398.3h1.0M188.2 398.3h1.0M42.0 401.7h2.0M81.1 401.7h1.0M91.1 401.7h1.0M98.1 401.7h1.0M100.1 401.7h1.0M113.1 401.7h1.0M122.1 401.7h1.0M134.1 401.7h1.0M149.1 401.7h1.0M171.2 401.7h2.0M176.2 401.7h1.0M39.0 405.1h1.0M43.0 405.1h1.0M62.0 405.1h1.0M76.1 405.1h1.0M81.1 405.1h1.0M88.1 405.1h2.0M115.1 405.1h1.0M127.1 405.1h2.0M134.1 405.1h2.0M143.1 405.1h1.0M145.1 405.1h1.0M157.2 405.1h1.0M167.2 405.1h1.0M174.2 405.1h1.0M181.2 405.1h4.0M186.2 405.1h2.0M190.2 405.1h1.0M55.0 408.5h1.0M58.0 408.5h1.0M62.0 408.5h1.0M73.1 408.5h1.0M90.1 408.5h1.0M92.1 408.5h2.0M129.1 408.5h1.0M135.1 408.5h1.0M138.1 408.5h1.0M141.1 408.5h2.0M149.1 408.5h1.0M157.2 408.5h1.0M172.2 408.5h2.0M189.2 408.5h1.0M50.0 411.9h1.0M55.0 411.9h2.0M69.0 411.9h1.0M74.1 411.9h1.0M91.1 411.9h1.0M103.1 411.9h2.0M118.1 411.9h2.0M121.1 411.9h1.0M124.1 411.9h1.0M126.1 411.9h1.0M140.1 411.9h2.0M144.1 411.9h1.0M148.1 411.9h1.0M150.1 411.9h1.0M155.1 411.9h1.0M162.2 411.9h1.0M167.2 411.9h1.0M181.2 411.9h1.0M184.2 411.9h1.0M187.2 411.9h2.0M29.0 415.3h1.0M40.0 415.3h1.0M47.0 415.3h1.0M55.0 415.3h2.0M64.0 415.3h1.0M73.1 415.3h1.0M86.1 415.3h1.0M89.1 415.3h2.0M96.1 415.3h1.0M98.1 415.3h1.0M107.1 415.3h2.0M122.1 415.3h1.0M152.1 415.3h2.0M161.2 415.3h1.0M169.2 415.3h1.0M177.2 415.3h2.0M180.2 415.3h1.0M187.2 415.3h1.0M191.2 415.3h1.0M196.2 415.3h1.0M29.0 418.7h1.0M34.0 418.7h1.0M36.0 418.7h1.0M43.0 418.7h1.0M51.0 418.7h1.0M74.1 418.7h1.0M86.1 418.7h1.0M98.1 418.7h1.0M108.1 418.7h1.0M120.1 418.7h1.0M124.1 418.7h1.0M130.1 418.7h1.0M133.1 418.7h1.0M135.1 418.7h1.0M148.1 418.7h1.0M151.1 418.7h3.0M156.2 418.7h1.0M159.2 418.7h1.0M167.2 418.7h1.0M170.2 418.7h1.0M176.2 418.7h1.0M178.2 418.7h1.0M181.2 418.7h2.0M197.2 418.7h1.0M46.0 422.1h1.0M57.0 422.1h1.0M62.0 422.1h1.0M76.1 422.1h1.0M80.1 422.1h2.0M87.1 422.1h1.0M91.1 422.1h1.0M93.1 422.1h1.0M106.1 422.1h1.0M109.1 422.1h1.0M113.1 422.1h3.0M118.1 422.1h2.0M124.1 422.1h1.0M126.1 422.1h1.0M133.1 422.1h1.0M148.1 422.1h1.0M160.2 422.1h1.0M171.2 422.1h1.0M176.2 422.1h1.0M180.2 422.1h1.0M195.2 422.1h2.0M44.0 425.5h1.0M46.0 425.5h1.0M48.0 425.5h1.0M50.0 425.5h1.0M56.0 425.5h1.0M61.0 425.5h2.0M66.0 425.5h1.0M73.1 425.5h1.0M76.1 425.5h1.0M91.1 425.5h2.0M95.1 425.5h1.0M112.1 425.5h1.0M119.1 425.5h1.0M143.1 425.5h1.0M165.2 425.5h1.0M194.2 425.5h1.0M197.2 425.5h1.0M32.0 428.9h1.0M46.0 428.9h1.0M49.0 428.9h1.0M54.0 428.9h1.0M61.0 428.9h2.0M71.0 428.9h1.0M76.1 428.9h1.0M80.1 428.9h2.0M95.1 428.9h1.0M100.1 428.9h1.0M102.1 428.9h1.0M106.1 428.9h1.0M121.1 428.9h1.0M125.1 428.9h1.0M134.1 428.9h1.0M140.1 428.9h1.0M142.1 428.9h1.0M148.1 428.9h2.0M151.1 428.9h1.0M153.1 428.9h1.0M165.2 428.9h1.0M178.2 428.9h1.0M186.2 428.9h1.0M35.0 432.3h1.0M43.0 432.3h1.0M53.0 432.3h1.0M72.1 432.3h1.0M95.1 432.3h1.0M97.1 432.3h2.0M145.1 432.3h1.0M147.1 432.3h1.0M158.2 432.3h1.0M167.2 432.3h2.0M171.2 432.3h1.0M180.2 432.3h1.0M182.2 432.3h1.0M192.2 432.3h1.0M197.2 432.3h1.0M53.0 435.7h2.0M61.0 435.7h1.0M73.1 435.7h1.0M80.1 435.7h1.0M90.1 435.7h1.0M98.1 435.7h1.0M102.1 435.7h1.0M107.1 435.7h1.0M138.1 435.7h1.0M142.1 435.7h1.0M150.1 435.7h1.0M155.1 435.7h1.0M168.2 435.7h1.0M183.2 435.7h1.0M188.2 435.7h1.0M190.2 435.7h1.0M196.2 435.7h1.0M39.0 439.1h1.0M48.0 439.1h2.0M59.0 439.1h1.0M67.0 439.1h1.0M73.1 439.1h1.0M79.1 439.1h1.0M85.1 439.1h2.0M88.1 439.1h1.0M90.1 439.1h1.0M93.1 439.1h1.0M124.1 439.1h1.0M141.1 439.1h1.0M161.2 439.1h1.0M169.2 439.1h1.0M172.2 439.1h1.0M178.2 439.1h1.0M185.2 439.1h1.0M195.2 439.1h1.0M35.0 442.5h1.0M53.0 442.5h1.0M56.0 442.5h1.0M58.0 442.5h1.0M65.0 442.5h1.0M72.1 442.5h1.0M82.1 442.5h1.0M88.1 442.5h1.0M92.1 442.5h1.0M118.1 442.5h1.0M127.1 442.5h1.0M154.1 442.5h1.0M179.2 442.5h2.0M184.2 442.5h2.0M192.2 442.5h1.0M29.0 445.9h1.0M42.0 445.9h1.0M45.0 445.9h1.0M48.0 445.9h1.0M64.0 445.9h2.0M68.0 445.9h1.0M88.1 445.9h1.0M90.1 445.9h1.0M118.1 445.9h1.0M153.1 445.9h2.0M162.2 445.9h1.0M178.2 445.9h1.0M185.2 445.9h1.0M189.2 445.9h1.0M36.0 449.3h1.0M42.0 449.3h1.0M51.0 449.3h1.0M59.0 449.3h1.0M82.1 449.3h1.0M97.1 449.3h1.0M105.1 449.3h1.0M126.1 449.3h1.0M137.1 449.3h1.0M143.1 449.3h1.0M151.1 449.3h1.0M161.2 449.3h1.0M168.2 449.3h1.0M174.2 449.3h1.0M179.2 449.3h1.0M182.2 449.3h2.0" stroke="#3b393e" stroke-width="3.45" fill="none"/>
<path d="M31.0 36.9h1.0M33.0 36.9h1.0M44.0 36.9h1.0M54.0 36.9h1.0M63.0 36.9h3.0M85.1 36.9h1.0M89.1 36.9h2.0M93.1 36.9h2.0M96.1 36.9h1.0M102.1 36.9h1.0M111.1 36.9h1.0M116.1 36.9h1.0M135.1 36.9h1.0M139.1 36.9h2.0M144.1 36.9h1.0M151.1 36.9h1.0M159.2 36.9h1.0M172.2 36.9h1.0M175.2 36.9h1.0M189.2 36.9h1.0M35.0 40.2h2.0M40.0 40.2h1.0M42.0 40.2h1.0M55.0 40.2h1.0M57.0 40.2h1.0M70.0 40.2h1.0M87.1 40.2h1.0M89.1 40.2h2.0M94.1 40.2h1.0M100.1 40.2h1.0M103.1 40.2h1.0M105.1 40.2h2.0M108.1 40.2h1.0M117.1 40.2h1.0M142.1 40.2h1.0M166.2 40.2h1.0M177.2 40.2h1.0M180.2 40.2h1.0M185.2 40.2h1.0M196.2 40.2h1.0M30.0 43.5h1.0M40.0 43.5h1.0M46.0 43.5h1.0M54.0 43.5h2.0M58.0 43.5h1.0M76.1 43.5h1.0M95.1 43.5h1.0M98.1 43.5h2.0M125.1 43.5h1.0M139.1 43.5h1.0M151.1 43.5h1.0M155.1 43.5h1.0M180.2 43.5h1.0M31.0 46.8h1.0M45.0 46.8h1.0M53.0 46.8h1.0M55.0 46.8h1.0M60.0 46.8h2.0M67.0 46.8h1.0M74.1 46.8h1.0M88.1 46.8h1.0M123.1 46.8h1.0M130.1 46.8h1.0M133.1 46.8h1.0M140.1 46.8h1.0M151.1 46.8h1.0M164.2 46.8h1.0M167.2 46.8h1.0M170.2 46.8h1.0M182.2 46.8h1.0M39.0 50.1h1.0M52.0 50.1h1.0M56.0 50.1h2.0M79.1 50.1h3.0M91.1 50.1h2.0M96.1 50.1h1.0M100.1 50.1h1.0M122.1 50.1h2.0M150.1 50.1h1.0M160.2 50.1h1.0M178.2 50.1h1.0M29.0 53.5h2.0M34.0 53.5h1.0M78.1 53.5h1.0M83.1 53.5h2.0M93.1 53.5h1.0M106.1 53.5h1.0M134.1 53.5h1.0M158.2 53.5h1.0M181.2 53.5h1.0M187.2 53.5h2.0M191.2 53.5h1.0M29.0 56.8h2.0M34.0 56.8h1.0M38.0 56.8h1.0M43.0 56.8h1.0M48.0 56.8h1.0M59.0 56.8h1.0M61.0 56.8h1.0M67.0 56.8h1.0M70.0 56.8h1.0M85.1 56.8h1.0M97.1 56.8h1.0M119.1 56.8h1.0M132.1 56.8h1.0M168.2 56.8h1.0M61.0 60.1h2.0M71.0 60.1h1.0M75.1 60.1h1.0M88.1 60.1h2.0M92.1 60.1h1.0M95.1 60.1h1.0M100.1 60.1h1.0M102.1 60.1h1.0M115.1 60.1h1.0M120.1 60.1h1.0M127.1 60.1h1.0M139.1 60.1h1.0M147.1 60.1h2.0M150.1 60.1h2.0M159.2 60.1h1.0M165.2 60.1h1.0M168.2 60.1h1.0M188.2 60.1h1.0M193.2 60.1h1.0M29.0 63.4h1.0M34.0 63.4h1.0M50.0 63.4h1.0M53.0 63.4h1.0M56.0 63.4h1.0M61.0 63.4h1.0M70.0 63.4h2.0M78.1 63.4h1.0M82.1 63.4h1.0M94.1 63.4h1.0M100.1 63.4h1.0M122.1 63.4h1.0M145.1 63.4h2.0M150.1 63.4h1.0M171.2 63.4h1.0M186.2 63.4h1.0M191.2 63.4h1.0M29.0 66.7h1.0M31.0 66.7h1.0M38.0 66.7h1.0M42.0 66.7h1.0M47.0 66.7h1.0M53.0 66.7h1.0M105.1 66.7h1.0M109.1 66.7h1.0M116.1 66.7h1.0M123.1 66.7h1.0M127.1 66.7h1.0M152.1 66.7h1.0M156.2 66.7h1.0M184.2 66.7h1.0M194.2 66.7h1.0M46.0 70.1h1.0M51.0 70.1h1.0M74.1 70.1h1.0M76.1 70.1h1.0M84.1 70.1h1.0M92.1 70.1h1.0M108.1 70.1h1.0M118.1 70.1h1.0M129.1 70.1h1.0M157.2 70.1h1.0M40.0 73.4h3.0M46.0 73.4h1.0M65.0 73.4h1.0M76.1 73.4h1.0M99.1 73.4h2.0M105.1 73.4h1.0M108.1 73.4h1.0M116.1 73.4h2.0M123.1 73.4h1.0M141.1 73.4h1.0M144.1 73.4h1.0M152.1 73.4h1.0M154.1 73.4h1.0M161.2 73.4h1.0M169.2 73.4h1.0M185.2 73.4h1.0M30.0 76.7h1.0M33.0 76.7h1.0M48.0 76.7h1.0M53.0 76.7h1.0M59.0 76.7h1.0M61.0 76.7h1.0M77.1 76.7h1.0M96.1 76.7h3.0M104.1 76.7h1.0M106.1 76.7h1.0M116.1 76.7h1.0M120.1 76.7h1.0M125.1 76.7h1.0M129.1 76.7h1.0M138.1 76.7h1.0M161.2 76.7h1.0M165.2 76.7h2.0M184.2 76.7h1.0M187.2 76.7h1.0M190.2 76.7h1.0M35.0 80.0h2.0M44.0 80.0h1.0M51.0 80.0h1.0M59.0 80.0h1.0M65.0 80.0h1.0M94.1 80.0h1.0M105.1 80.0h1.0M129.1 80.0h1.0M154.1 80.0h1.0M165.2 80.0h1.0M168.2 80.0h1.0M188.2 80.0h1.0M192.2 80.0h1.0M29.0 83.3h2.0M33.0 83.3h1.0M35.0 83.3h1.0M58.0 83.3h1.0M76.1 83.3h1.0M78.1 83.3h1.0M80.1 83.3h1.0M108.1 83.3h1.0M118.1 83.3h1.0M125.1 83.3h1.0M127.1 83.3h1.0M158.2 83.3h1.0M170.2 83.3h1.0M173.2 83.3h1.0M185.2 83.3h1.0M189.2 83.3h1.0M39.0 86.7h1.0M44.0 86.7h1.0M58.0 86.7h1.0M64.0 86.7h1.0M86.1 86.7h1.0M100.1 86.7h2.0M104.1 86.7h1.0M108.1 86.7h1.0M119.1 86.7h1.0M122.1 86.7h1.0M131.1 86.7h1.0M136.1 86.7h1.0M142.1 86.7h2.0M145.1 86.7h1.0M151.1 86.7h1.0M160.2 86.7h2.0M188.2 86.7h1.0M196.2 86.7h1.0M42.0 90.0h1.0M53.0 90.0h2.0M92.1 90.0h1.0M98.1 90.0h1.0M100.1 90.0h1.0M107.1 90.0h1.0M113.1 90.0h1.0M119.1 90.0h1.0M135.1 90.0h1.0M139.1 90.0h1.0M145.1 90.0h1.0M147.1 90.0h1.0M153.1 90.0h1.0M44.0 93.3h1.0M52.0 93.3h1.0M58.0 93.3h1.0M65.0 93.3h1.0M75.1 93.3h2.0M83.1 93.3h1.0M106.1 93.3h1.0M112.1 93.3h1.0M123.1 93.3h1.0M130.1 93.3h1.0M141.1 93.3h2.0M146.1 93.3h1.0M151.1 93.3h1.0M161.2 93.3h1.0M169.2 93.3h1.0M178.2 93.3h1.0M31.0 96.6h1.0M40.0 96.6h1.0M47.0 96.6h1.0M56.0 96.6h1.0M65.0 96.6h1.0M71.0 96.6h1.0M78.1 96.6h2.0M116.1 96.6h1.0M118.1 96.6h1.0M120.1 96.6h2.0M147.1 96.6h1.0M184.2 96.6h1.0M189.2 96.6h1.0M31.0 99.9h1.0M44.0 99.9h1.0M47.0 99.9h2.0M50.0 99.9h1.0M71.0 99.9h1.0M89.1 99.9h1.0M91.1 99.9h2.0M98.1 99.9h1.0M110.1 99.9h2.0M116.1 99.9h2.0M119.1 99.9h1.0M135.1 99.9h1.0M150.1 99.9h1.0M187.2 99.9h1.0M37.0 103.3h1.0M51.0 103.3h1.0M62.0 103.3h1.0M78.1 103.3h1.0M85.1 103.3h1.0M89.1 103.3h1.0M99.1 103.3h1.0M113.1 103.3h1.0M121.1 103.3h1.0M123.1 103.3h1.0M129.1 103.3h1.0M134.1 103.3h1.0M160.2 103.3h1.0M166.2 103.3h1.0M168.2 103.3h1.0M181.2 103.3h1.0M191.2 103.3h1.0M30.0 106.6h1.0M40.0 106.6h1.0M45.0 106.6h1.0M48.0 106.6h1.0M59.0 106.6h1.0M63.0 106.6h1.0M68.0 106.6h2.0M74.1 106.6h1.0M80.1 106.6h1.0M96.1 106.6h1.0M99.1 106.6h1.0M107.1 106.6h2.0M111.1 106.6h1.0M122.1 106.6h1.0M132.1 106.6h1.0M135.1 106.6h1.0M144.1 106.6h1.0M148.1 106.6h1.0M157.2 106.6h1.0M175.2 106.6h1.0M183.2 106.6h1.0M191.2 106.6h4.0M41.0 109.9h1.0M52.0 109.9h1.0M74.1 109.9h1.0M80.1 109.9h1.0M102.1 109.9h1.0M106.1 109.9h3.0M122.1 109.9h1.0M144.1 109.9h1.0M163.2 109.9h2.0M190.2 109.9h1.0M193.2 109.9h1.0M40.0 113.2h1.0M46.0 113.2h1.0M81.1 113.2h1.0M92.1 113.2h1.0M103.1 113.2h1.0M111.1 113.2h1.0M116.1 113.2h1.0M121.1 113.2h1.0M123.1 113.2h1.0M162.2 113.2h1.0M165.2 113.2h1.0M175.2 113.2h1.0M184.2 113.2h1.0M187.2 113.2h1.0M190.2 113.2h2.0M34.0 116.5h1.0M43.0 116.5h1.0M77.1 116.5h1.0M80.1 116.5h1.0M82.1 116.5h1.0M91.1 116.5h1.0M103.1 116.5h1.0M105.1 116.5h1.0M109.1 116.5h1.0M127.1 116.5h1.0M164.2 116.5h1.0M166.2 116.5h1.0M181.2 116.5h1.0M29.0 119.9h1.0M40.0 119.9h1.0M43.0 119.9h3.0M51.0 119.9h1.0M55.0 119.9h1.0M69.0 119.9h1.0M81.1 119.9h1.0M83.1 119.9h1.0M86.1 119.9h1.0M99.1 119.9h1.0M112.1 119.9h1.0M118.1 119.9h1.0M121.1 119.9h1.0M152.1 119.9h1.0M156.2 119.9h2.0M172.2 119.9h1.0M188.2 119.9h1.0M43.0 123.2h1.0M48.0 123.2h1.0M52.0 123.2h1.0M56.0 123.2h1.0M80.1 123.2h1.0M97.1 123.2h1.0M121.1 123.2h1.0M123.1 123.2h1.0M129.1 123.2h1.0M145.1 123.2h1.0M173.2 123.2h1.0M187.2 123.2h1.0M54.0 126.5h1.0M66.0 126.5h1.0M70.0 126.5h1.0M106.1 126.5h1.0M120.1 126.5h1.0M122.1 126.5h1.0M134.1 126.5h1.0M143.1 126.5h1.0M153.1 126.5h1.0M161.2 126.5h1.0M196.2 126.5h1.0M29.0 129.8h1.0M47.0 129.8h1.0M64.0 129.8h1.0M67.0 129.8h1.0M73.1 129.8h1.0M75.1 129.8h2.0M85.1 129.8h1.0M88.1 129.8h1.0M102.1 129.8h1.0M115.1 129.8h1.0M144.1 129.8h1.0M175.2 129.8h1.0M186.2 129.8h1.0M192.2 129.8h1.0M59.0 133.1h1.0M65.0 133.1h1.0M69.0 133.1h1.0M77.1 133.1h1.0M91.1 133.1h1.0M93.1 133.1h1.0M117.1 133.1h1.0M145.1 133.1h1.0M151.1 133.1h2.0M164.2 133.1h1.0M168.2 133.1h1.0M172.2 133.1h1.0M177.2 133.1h1.0M179.2 133.1h1.0M185.2 133.1h1.0M196.2 133.1h1.0M43.0 136.5h1.0M48.0 136.5h1.0M59.0 136.5h1.0M69.0 136.5h1.0M78.1 136.5h1.0M98.1 136.5h1.0M101.1 136.5h1.0M108.1 136.5h1.0M122.1 136.5h1.0M125.1 136.5h1.0M157.2 136.5h1.0M159.2 136.5h1.0M169.2 136.5h1.0M174.2 136.5h1.0M186.2 136.5h1.0M31.0 139.8h1.0M33.0 139.8h1.0M38.0 139.8h1.0M49.0 139.8h1.0M66.0 139.8h1.0M85.1 139.8h1.0M104.1 139.8h1.0M106.1 139.8h1.0M125.1 139.8h2.0M148.1 139.8h1.0M156.2 139.8h1.0M164.2 139.8h1.0M173.2 139.8h2.0M184.2 139.8h1.0M186.2 139.8h1.0M196.2 139.8h1.0M33.0 143.1h1.0M39.0 143.1h1.0M41.0 143.1h1.0M45.0 143.1h1.0M57.0 143.1h1.0M63.0 143.1h2.0M74.1 143.1h1.0M123.1 143.1h1.0M135.1 143.1h1.0M138.1 143.1h1.0M145.1 143.1h1.0M155.1 143.1h1.0M161.2 143.1h1.0M164.2 143.1h1.0M177.2 143.1h1.0M191.2 143.1h1.0M196.2 143.1h1.0M39.0 146.4h1.0M47.0 146.4h1.0M76.1 146.4h1.0M81.1 146.4h3.0M87.1 146.4h1.0M101.1 146.4h1.0M113.1 146.4h1.0M115.1 146.4h1.0M118.1 146.4h1.0M122.1 146.4h1.0M126.1 146.4h1.0M147.1 146.4h1.0M161.2 146.4h1.0M31.0 149.7h1.0M36.0 149.7h1.0M40.0 149.7h1.0M46.0 149.7h1.0M50.0 149.7h1.0M54.0 149.7h2.0M67.0 149.7h1.0M76.1 149.7h1.0M81.1 149.7h1.0M84.1 149.7h1.0M95.1 149.7h1.0M100.1 149.7h1.0M115.1 149.7h1.0M129.1 149.7h1.0M139.1 149.7h1.0M152.1 149.7h1.0M176.2 149.7h1.0M181.2 149.7h1.0M184.2 149.7h1.0M187.2 149.7h1.0M33.0 153.1h1.0M39.0 153.1h1.0M42.0 153.1h1.0M46.0 153.1h1.0M70.0 153.1h1.0M85.1 153.1h1.0M87.1 153.1h1.0M129.1 153.1h1.0M132.1 153.1h2.0M144.1 153.1h1.0M146.1 153.1h1.0M171.2 153.1h1.0M40.0 156.4h1.0M46.0 156.4h1.0M51.0 156.4h1.0M59.0 156.4h1.0M63.0 156.4h1.0M104.1 156.4h1.0M109.1 156.4h1.0M117.1 156.4h2.0M147.1 156.4h1.0M195.2 156.4h1.0M51.0 159.7h1.0M61.0 159.7h1.0M67.0 159.7h1.0M98.1 159.7h1.0M104.1 159.7h1.0M128.1 159.7h2.0M133.1 159.7h1.0M151.1 159.7h2.0M155.1 159.7h1.0M182.2 159.7h1.0M53.0 163.0h1.0M61.0 163.0h2.0M91.1 163.0h1.0M130.1 163.0h1.0M132.1 163.0h1.0M135.1 163.0h1.0M138.1 163.0h1.0M154.1 163.0h1.0M184.2 163.0h1.0M190.2 163.0h2.0M196.2 163.0h1.0M30.0 166.3h1.0M33.0 166.3h1.0M43.0 166.3h1.0M47.0 166.3h1.0M54.0 166.3h1.0M57.0 166.3h1.0M62.0 166.3h1.0M73.1 166.3h1.0M97.1 166.3h1.0M109.1 166.3h1.0M115.1 166.3h1.0M121.1 166.3h1.0M145.1 166.3h1.0M154.1 166.3h1.0M177.2 166.3h1.0M182.2 166.3h1.0M193.2 166.3h1.0M33.0 169.7h1.0M36.0 169.7h1.0M41.0 169.7h1.0M54.0 169.7h1.0M63.0 169.7h1.0M66.0 169.7h1.0M72.1 169.7h1.0M74.1 169.7h1.0M83.1 169.7h2.0M96.1 169.7h1.0M106.1 169.7h2.0M112.1 169.7h1.0M126.1 169.7h1.0M134.1 169.7h1.0M136.1 169.7h1.0M158.2 169.7h1.0M161.2 169.7h1.0M163.2 169.7h1.0M168.2 169.7h1.0M177.2 169.7h1.0M193.2 169.7h1.0M196.2 169.7h1.0M40.0 173.0h1.0M49.0 173.0h1.0M53.0 173.0h1.0M65.0 173.0h1.0M69.0 173.0h1.0M87.1 173.0h2.0M95.1 173.0h1.0M99.1 173.0h1.0M115.1 173.0h1.0M119.1 173.0h1.0M151.1 173.0h1.0M155.1 173.0h1.0M158.2 173.0h1.0M182.2 173.0h1.0M44.0 176.4h1.0M62.0 176.4h1.0M80.1 176.4h1.0M85.1 176.4h1.0M98.1 176.4h1.0M103.1 176.4h1.0M120.1 176.4h1.0M128.1 176.4h1.0M133.1 176.4h1.0M135.1 176.4h1.0M138.1 176.4h1.0M145.1 176.4h1.0M147.1 176.4h1.0M157.2 176.4h1.0M166.2 176.4h1.0M179.2 176.4h2.0M187.2 176.4h1.0M195.2 176.4h1.0M49.0 179.7h1.0M55.0 179.7h1.0M69.0 179.7h1.0M78.1 179.7h1.0M97.1 179.7h1.0M117.1 179.7h1.0M122.1 179.7h1.0M131.1 179.7h1.0M137.1 179.7h1.0M142.1 179.7h1.0M157.2 179.7h1.0M170.2 179.7h2.0M183.2 179.7h2.0M29.0 183.0h1.0M66.0 183.0h1.0M81.1 183.0h1.0M95.1 183.0h1.0M97.1 183.0h2.0M113.1 183.0h1.0M117.1 183.0h1.0M123.1 183.0h1.0M167.2 183.0h1.0M181.2 183.0h1.0M195.2 183.0h1.0M35.0 186.4h1.0M51.0 186.4h1.0M58.0 186.4h3.0M67.0 186.4h1.0M82.1 186.4h1.0M87.1 186.4h1.0M90.1 186.4h1.0M113.1 186.4h1.0M131.1 186.4h1.0M143.1 186.4h1.0M163.2 186.4h1.0M168.2 186.4h1.0M188.2 186.4h1.0M34.0 189.7h1.0M36.0 189.7h1.0M45.0 189.7h1.0M60.0 189.7h1.0M70.0 189.7h1.0M74.1 189.7h2.0M87.1 189.7h1.0M97.1 189.7h1.0M112.1 189.7h1.0M119.1 189.7h1.0M135.1 189.7h1.0M138.1 189.7h1.0M143.1 189.7h1.0M150.1 189.7h1.0M160.2 189.7h1.0M162.2 189.7h1.0M170.2 189.7h1.0M196.2 189.7h1.0M31.0 193.1h1.0M43.0 193.1h1.0M45.0 193.1h1.0M83.1 193.1h1.0M87.1 193.1h1.0M108.1 193.1h1.0M114.1 193.1h1.0M136.1 193.1h1.0M142.1 193.1h1.0M149.1 193.1h1.0M153.1 193.1h2.0M167.2 193.1h2.0M173.2 193.1h1.0M183.2 193.1h1.0M188.2 193.1h1.0M195.2 193.1h1.0M46.0 196.4h1.0M50.0 196.4h1.0M54.0 196.4h1.0M60.0 196.4h1.0M67.0 196.4h1.0M84.1 196.4h1.0M108.1 196.4h1.0M120.1 196.4h2.0M129.1 196.4h1.0M155.1 196.4h1.0M157.2 196.4h2.0M161.2 196.4h1.0M168.2 196.4h1.0M172.2 196.4h1.0M178.2 196.4h2.0M187.2 196.4h1.0M189.2 196.4h1.0M34.0 199.7h2.0M37.0 199.7h1.0M52.0 199.7h1.0M68.0 199.7h1.0M85.1 199.7h1.0M94.1 199.7h2.0M105.1 199.7h1.0M132.1 199.7h1.0M134.1 199.7h1.0M145.1 199.7h1.0M149.1 199.7h1.0M158.2 199.7h1.0M163.2 199.7h1.0M177.2 199.7h2.0M187.2 199.7h1.0M197.2 199.7h1.0M30.0 203.1h1.0M52.0 203.1h1.0M75.1 203.1h1.0M92.1 203.1h1.0M99.1 203.1h1.0M103.1 203.1h1.0M113.1 203.1h1.0M123.1 203.1h1.0M126.1 203.1h1.0M146.1 203.1h1.0M152.1 203.1h1.0M158.2 203.1h1.0M169.2 203.1h1.0M190.2 203.1h1.0M196.2 203.1h1.0M30.0 206.4h1.0M32.0 206.4h1.0M35.0 206.4h1.0M38.0 206.4h2.0M52.0 206.4h1.0M56.0 206.4h1.0M94.1 206.4h1.0M101.1 206.4h1.0M105.1 206.4h1.0M113.1 206.4h2.0M150.1 206.4h1.0M158.2 206.4h1.0M169.2 206.4h1.0M190.2 206.4h1.0M196.2 206.4h1.0M35.0 209.8h1.0M59.0 209.8h1.0M65.0 209.8h1.0M69.0 209.8h1.0M73.1 209.8h1.0M81.1 209.8h1.0M89.1 209.8h1.0M106.1 209.8h1.0M111.1 209.8h1.0M125.1 209.8h2.0M132.1 209.8h1.0M146.1 209.8h1.0M161.2 209.8h1.0M166.2 209.8h1.0M180.2 209.8h1.0M191.2 209.8h1.0M45.0 213.1h1.0M52.0 213.1h2.0M63.0 213.1h1.0M71.0 213.1h1.0M74.1 213.1h1.0M86.1 213.1h1.0M97.1 213.1h2.0M106.1 213.1h2.0M116.1 213.1h1.0M129.1 213.1h2.0M145.1 213.1h1.0M165.2 213.1h1.0M31.0 216.4h1.0M33.0 216.4h1.0M38.0 216.4h1.0M40.0 216.4h1.0M68.0 216.4h1.0M81.1 216.4h1.0M93.1 216.4h2.0M99.1 216.4h2.0M109.1 216.4h2.0M132.1 216.4h1.0M144.1 216.4h1.0M167.2 216.4h1.0M179.2 216.4h1.0M35.0 219.8h1.0M73.1 219.8h1.0M85.1 219.8h1.0M87.1 219.8h1.0M103.1 219.8h2.0M123.1 219.8h1.0M136.1 219.8h1.0M152.1 219.8h1.0M158.2 219.8h1.0M165.2 219.8h1.0M175.2 219.8h1.0M183.2 219.8h1.0M187.2 219.8h1.0M33.0 223.1h1.0M40.0 223.1h1.0M53.0 223.1h1.0M65.0 223.1h2.0M68.0 223.1h2.0M93.1 223.1h1.0M104.1 223.1h1.0M113.1 223.1h1.0M120.1 223.1h1.0M128.1 223.1h1.0M132.1 223.1h1.0M134.1 223.1h1.0M138.1 223.1h1.0M148.1 223.1h1.0M150.1 223.1h1.0M161.2 223.1h1.0M164.2 223.1h1.0M166.2 223.1h1.0M171.2 223.1h1.0M183.2 223.1h1.0M190.2 223.1h1.0M196.2 223.1h1.0M33.0 226.4h2.0M38.0 226.4h1.0M44.0 226.4h1.0M69.0 226.4h1.0M91.1 226.4h1.0M112.1 226.4h2.0M130.1 226.4h1.0M149.1 226.4h1.0M151.1 226.4h1.0M158.2 226.4h1.0M169.2 226.4h1.0M174.2 226.4h1.0M187.2 226.4h1.0M41.0 229.8h2.0M65.0 229.8h1.0M78.1 229.8h1.0M86.1 229.8h1.0M102.1 229.8h2.0M166.2 229.8h1.0M35.0 233.1h1.0M37.0 233.1h1.0M54.0 233.1h1.0M62.0 233.1h1.0M66.0 233.1h1.0M69.0 233.1h1.0M84.1 233.1h1.0M93.1 233.1h1.0M102.1 233.1h1.0M105.1 233.1h1.0M114.1 233.1h2.0M117.1 233.1h1.0M145.1 233.1h1.0M176.2 233.1h1.0M30.0 236.5h1.0M37.0 236.5h1.0M58.0 236.5h1.0M72.1 236.5h1.0M95.1 236.5h1.0M117.1 236.5h1.0M140.1 236.5h1.0M158.2 236.5h1.0M163.2 236.5h1.0M174.2 236.5h1.0M190.2 236.5h1.0M193.2 236.5h1.0M70.0 239.8h2.0M73.1 239.8h1.0M80.1 239.8h1.0M99.1 239.8h1.0M115.1 239.8h1.0M123.1 239.8h1.0M140.1 239.8h1.0M142.1 239.8h1.0M144.1 239.8h1.0M167.2 239.8h1.0M186.2 239.8h1.0M189.2 239.8h1.0M53.0 243.2h2.0M62.0 243.2h1.0M70.0 243.2h1.0M91.1 243.2h1.0M98.1 243.2h1.0M116.1 243.2h1.0M137.1 243.2h1.0M139.1 243.2h1.0M141.1 243.2h1.0M146.1 243.2h1.0M156.2 243.2h1.0M170.2 243.2h1.0M172.2 243.2h1.0M184.2 243.2h1.0M29.0 246.5h2.0M33.0 246.5h2.0M39.0 246.5h1.0M41.0 246.5h1.0M72.1 246.5h1.0M79.1 246.5h1.0M83.1 246.5h1.0M86.1 246.5h1.0M93.1 246.5h1.0M113.1 246.5h1.0M136.1 246.5h1.0M156.2 246.5h1.0M173.2 246.5h1.0M176.2 246.5h1.0M178.2 246.5h1.0M194.2 246.5h1.0M36.0 249.8h1.0M54.0 249.8h1.0M58.0 249.8h1.0M81.1 249.8h1.0M95.1 249.8h1.0M134.1 249.8h1.0M160.2 249.8h1.0M168.2 249.8h1.0M177.2 249.8h1.0M31.0 253.2h1.0M33.0 253.2h1.0M39.0 253.2h1.0M44.0 253.2h1.0M50.0 253.2h1.0M56.0 253.2h1.0M70.0 253.2h1.0M76.1 253.2h1.0M80.1 253.2h1.0M103.1 253.2h1.0M106.1 253.2h1.0M120.1 253.2h1.0M123.1 253.2h1.0M126.1 253.2h2.0M138.1 253.2h1.0M154.1 253.2h1.0M157.2 253.2h1.0M159.2 253.2h1.0M191.2 253.2h1.0M196.2 253.2h1.0M43.0 256.5h1.0M50.0 256.5h1.0M76.1 256.5h1.0M78.1 256.5h1.0M87.1 256.5h1.0M107.1 256.5h1.0M122.1 256.5h1.0M137.1 256.5h1.0M152.1 256.5h1.0M158.2 256.5h1.0M187.2 256.5h1.0M195.2 256.5h1.0M32.0 259.9h2.0M40.0 259.9h1.0M42.0 259.9h1.0M56.0 259.9h1.0M62.0 259.9h1.0M66.0 259.9h1.0M69.0 259.9h2.0M73.1 259.9h1.0M81.1 259.9h2.0M87.1 259.9h1.0M91.1 259.9h1.0M99.1 259.9h2.0M115.1 259.9h1.0M132.1 259.9h1.0M146.1 259.9h1.0M148.1 259.9h1.0M172.2 259.9h1.0M178.2 259.9h1.0M183.2 259.9h1.0M31.0 263.2h1.0M36.0 263.2h1.0M60.0 263.2h1.0M62.0 263.2h1.0M69.0 263.2h1.0M74.1 263.2h1.0M103.1 263.2h1.0M111.1 263.2h1.0M115.1 263.2h2.0M145.1 263.2h1.0M158.2 263.2h1.0M182.2 263.2h1.0M187.2 263.2h1.0M29.0 266.5h2.0M36.0 266.5h1.0M51.0 266.5h1.0M75.1 266.5h1.0M82.1 266.5h1.0M92.1 266.5h1.0M111.1 266.5h1.0M140.1 266.5h1.0M145.1 266.5h1.0M147.1 266.5h1.0M152.1 266.5h1.0M155.1 266.5h1.0M176.2 266.5h1.0M180.2 266.5h1.0M194.2 266.5h1.0M196.2 266.5h1.0M43.0 269.9h1.0M51.0 269.9h2.0M61.0 269.9h3.0M90.1 269.9h1.0M93.1 269.9h1.0M97.1 269.9h1.0M103.1 269.9h1.0M112.1 269.9h1.0M114.1 269.9h1.0M116.1 269.9h1.0M119.1 269.9h1.0M130.1 269.9h1.0M145.1 269.9h1.0M147.1 269.9h1.0M152.1 269.9h1.0M175.2 269.9h1.0M29.0 273.2h1.0M61.0 273.2h1.0M66.0 273.2h1.0M72.1 273.2h1.0M75.1 273.2h1.0M77.1 273.2h2.0M84.1 273.2h3.0M96.1 273.2h1.0M103.1 273.2h1.0M108.1 273.2h1.0M113.1 273.2h1.0M131.1 273.2h1.0M135.1 273.2h1.0M140.1 273.2h2.0M161.2 273.2h2.0M184.2 273.2h1.0M188.2 273.2h1.0M29.0 276.6h1.0M33.0 276.6h1.0M47.0 276.6h1.0M50.0 276.6h1.0M54.0 276.6h1.0M59.0 276.6h1.0M64.0 276.6h1.0M75.1 276.6h1.0M84.1 276.6h1.0M92.1 276.6h1.0M96.1 276.6h1.0M105.1 276.6h1.0M113.1 276.6h1.0M117.1 276.6h2.0M128.1 276.6h1.0M131.1 276.6h1.0M150.1 276.6h2.0M155.1 276.6h1.0M158.2 276.6h1.0M161.2 276.6h1.0M172.2 276.6h1.0M180.2 276.6h1.0M187.2 276.6h1.0M35.0 279.9h1.0M45.0 279.9h1.0M50.0 279.9h1.0M57.0 279.9h2.0M62.0 279.9h1.0M75.1 279.9h1.0M86.1 279.9h1.0M93.1 279.9h2.0M96.1 279.9h1.0M122.1 279.9h1.0M131.1 279.9h1.0M135.1 279.9h1.0M161.2 279.9h1.0M167.2 279.9h2.0M170.2 279.9h1.0M175.2 279.9h2.0M183.2 279.9h1.0M34.0 283.2h1.0M66.0 283.2h1.0M75.1 283.2h1.0M90.1 283.2h1.0M124.1 283.2h1.0M130.1 283.2h1.0M154.1 283.2h1.0M156.2 283.2h1.0M158.2 283.2h1.0M172.2 283.2h1.0M179.2 283.2h1.0M187.2 283.2h1.0M30.0 286.6h1.0M59.0 286.6h1.0M64.0 286.6h1.0M67.0 286.6h1.0M72.1 286.6h1.0M97.1 286.6h1.0M100.1 286.6h1.0M125.1 286.6h1.0M134.1 286.6h1.0M138.1 286.6h1.0M153.1 286.6h1.0M166.2 286.6h2.0M169.2 286.6h1.0M178.2 286.6h2.0M193.2 286.6h2.0M63.0 289.9h1.0M72.1 289.9h1.0M75.1 289.9h1.0M82.1 289.9h1.0M89.1 289.9h1.0M123.1 289.9h1.0M129.1 289.9h1.0M153.1 289.9h1.0M174.2 289.9h1.0M196.2 289.9h2.0M41.0 293.2h2.0M45.0 293.2h1.0M53.0 293.2h2.0M67.0 293.2h1.0M69.0 293.2h1.0M85.1 293.2h1.0M88.1 293.2h1.0M90.1 293.2h1.0M98.1 293.2h1.0M101.1 293.2h1.0M104.1 293.2h1.0M110.1 293.2h1.0M120.1 293.2h1.0M122.1 293.2h1.0M150.1 293.2h1.0M161.2 293.2h1.0M187.2 293.2h1.0M197.2 293.2h1.0M35.0 296.6h1.0M39.0 296.6h1.0M50.0 296.6h1.0M58.0 296.6h1.0M69.0 296.6h2.0M79.1 296.6h1.0M81.1 296.6h1.0M90.1 296.6h1.0M106.1 296.6h1.0M122.1 296.6h1.0M137.1 296.6h1.0M151.1 296.6h1.0M158.2 296.6h1.0M166.2 296.6h1.0M175.2 296.6h2.0M193.2 296.6h1.0M196.2 296.6h1.0M30.0 299.9h1.0M38.0 299.9h1.0M51.0 299.9h1.0M56.0 299.9h2.0M67.0 299.9h2.0M70.0 299.9h3.0M94.1 299.9h1.0M104.1 299.9h1.0M110.1 299.9h1.0M122.1 299.9h1.0M135.1 299.9h1.0M142.1 299.9h1.0M147.1 299.9h2.0M151.1 299.9h1.0M154.1 299.9h1.0M160.2 299.9h1.0M166.2 299.9h1.0M188.2 299.9h1.0M30.0 303.3h1.0M36.0 303.3h1.0M38.0 303.3h1.0M50.0 303.3h1.0M68.0 303.3h1.0M72.1 303.3h1.0M74.1 303.3h1.0M98.1 303.3h1.0M106.1 303.3h1.0M136.1 303.3h1.0M158.2 303.3h1.0M162.2 303.3h2.0M167.2 303.3h1.0M32.0 306.6h1.0M34.0 306.6h1.0M41.0 306.6h1.0M65.0 306.6h1.0M78.1 306.6h1.0M97.1 306.6h1.0M109.1 306.6h1.0M112.1 306.6h1.0M121.1 306.6h1.0M142.1 306.6h1.0M144.1 306.6h2.0M147.1 306.6h3.0M157.2 306.6h2.0M162.2 306.6h1.0M164.2 306.6h1.0M179.2 306.6h2.0M34.0 309.9h1.0M44.0 309.9h1.0M52.0 309.9h1.0M72.1 309.9h1.0M87.1 309.9h1.0M107.1 309.9h1.0M111.1 309.9h1.0M114.1 309.9h1.0M117.1 309.9h1.0M124.1 309.9h1.0M127.1 309.9h1.0M141.1 309.9h1.0M150.1 309.9h1.0M177.2 309.9h1.0M196.2 309.9h1.0M30.0 313.3h2.0M35.0 313.3h1.0M40.0 313.3h1.0M51.0 313.3h1.0M82.1 313.3h1.0M92.1 313.3h2.0M108.1 313.3h1.0M132.1 313.3h1.0M136.1 313.3h1.0M145.1 313.3h1.0M151.1 313.3h1.0M153.1 313.3h1.0M164.2 313.3h1.0M177.2 313.3h1.0M195.2 313.3h1.0M31.0 316.6h1.0M44.0 316.6h1.0M47.0 316.6h1.0M58.0 316.6h1.0M64.0 316.6h1.0M71.0 316.6h1.0M76.1 316.6h1.0M80.1 316.6h2.0M89.1 316.6h1.0M95.1 316.6h1.0M129.1 316.6h1.0M138.1 316.6h1.0M151.1 316.6h1.0M179.2 316.6h1.0M196.2 316.6h1.0M41.0 320.0h2.0M60.0 320.0h1.0M65.0 320.0h2.0M71.0 320.0h1.0M78.1 320.0h1.0M89.1 320.0h1.0M102.1 320.0h1.0M107.1 320.0h1.0M114.1 320.0h1.0M126.1 320.0h1.0M135.1 320.0h1.0M164.2 320.0h1.0M167.2 320.0h1.0M169.2 320.0h1.0M177.2 320.0h1.0M181.2 320.0h2.0M192.2 320.0h2.0M42.0 323.4h1.0M56.0 323.4h1.0M71.0 323.4h1.0M73.1 323.4h1.0M89.1 323.4h1.0M105.1 323.4h1.0M107.1 323.4h1.0M114.1 323.4h1.0M125.1 323.4h1.0M134.1 323.4h3.0M140.1 323.4h1.0M164.2 323.4h1.0M177.2 323.4h1.0M35.0 326.8h1.0M38.0 326.8h1.0M41.0 326.8h1.0M70.0 326.8h1.0M96.1 326.8h1.0M102.1 326.8h1.0M112.1 326.8h1.0M124.1 326.8h1.0M136.1 326.8h1.0M169.2 326.8h1.0M190.2 326.8h1.0M192.2 326.8h1.0M35.0 330.2h1.0M49.0 330.2h1.0M79.1 330.2h1.0M81.1 330.2h1.0M83.1 330.2h1.0M96.1 330.2h3.0M102.1 330.2h1.0M114.1 330.2h1.0M154.1 330.2h1.0M186.2 330.2h1.0M196.2 330.2h1.0M34.0 333.6h1.0M42.0 333.6h1.0M53.0 333.6h1.0M56.0 333.6h1.0M58.0 333.6h1.0M85.1 333.6h1.0M89.1 333.6h1.0M100.1 333.6h1.0M102.1 333.6h1.0M105.1 333.6h1.0M112.1 333.6h1.0M118.1 333.6h1.0M126.1 333.6h1.0M142.1 333.6h1.0M173.2 333.6h1.0M183.2 333.6h1.0M193.2 333.6h1.0M196.2 333.6h1.0M31.0 337.0h1.0M39.0 337.0h1.0M56.0 337.0h1.0M74.1 337.0h1.0M78.1 337.0h1.0M99.1 337.0h2.0M102.1 337.0h1.0M107.1 337.0h1.0M167.2 337.0h1.0M169.2 337.0h1.0M177.2 337.0h1.0M181.2 337.0h1.0M58.0 340.4h1.0M66.0 340.4h1.0M72.1 340.4h1.0M74.1 340.4h1.0M88.1 340.4h1.0M102.1 340.4h1.0M104.1 340.4h1.0M129.1 340.4h1.0M135.1 340.4h1.0M146.1 340.4h1.0M154.1 340.4h1.0M177.2 340.4h1.0M33.0 343.8h1.0M43.0 343.8h1.0M49.0 343.8h1.0M76.1 343.8h1.0M93.1 343.8h1.0M103.1 343.8h1.0M135.1 343.8h1.0M146.1 343.8h1.0M156.2 343.8h1.0M167.2 343.8h1.0M169.2 343.8h1.0M174.2 343.8h1.0M182.2 343.8h1.0M32.0 347.2h1.0M35.0 347.2h1.0M46.0 347.2h1.0M81.1 347.2h1.0M85.1 347.2h1.0M88.1 347.2h1.0M132.1 347.2h1.0M140.1 347.2h1.0M147.1 347.2h1.0M169.2 347.2h1.0M181.2 347.2h1.0M42.0 350.6h1.0M51.0 350.6h1.0M66.0 350.6h1.0M72.1 350.6h1.0M82.1 350.6h2.0M102.1 350.6h1.0M118.1 350.6h2.0M134.1 350.6h2.0M158.2 350.6h1.0M160.2 350.6h2.0M168.2 350.6h3.0M175.2 350.6h1.0M192.2 350.6h2.0M35.0 354.1h1.0M68.0 354.1h1.0M81.1 354.1h1.0M100.1 354.1h1.0M111.1 354.1h1.0M124.1 354.1h1.0M135.1 354.1h1.0M143.1 354.1h1.0M150.1 354.1h1.0M181.2 354.1h2.0M190.2 354.1h1.0M29.0 357.5h1.0M34.0 357.5h1.0M40.0 357.5h1.0M71.0 357.5h1.0M88.1 357.5h1.0M91.1 357.5h1.0M97.1 357.5h1.0M107.1 357.5h1.0M124.1 357.5h1.0M134.1 357.5h3.0M150.1 357.5h1.0M169.2 357.5h1.0M183.2 357.5h1.0M34.0 360.9h2.0M45.0 360.9h2.0M62.0 360.9h1.0M65.0 360.9h1.0M102.1 360.9h1.0M104.1 360.9h1.0M117.1 360.9h1.0M126.1 360.9h1.0M167.2 360.9h1.0M170.2 360.9h1.0M180.2 360.9h1.0M190.2 360.9h1.0M52.0 364.3h1.0M86.1 364.3h1.0M91.1 364.3h1.0M95.1 364.3h1.0M100.1 364.3h1.0M104.1 364.3h2.0M117.1 364.3h1.0M119.1 364.3h1.0M124.1 364.3h1.0M131.1 364.3h1.0M135.1 364.3h1.0M143.1 364.3h1.0M154.1 364.3h1.0M164.2 364.3h1.0M173.2 364.3h1.0M180.2 364.3h1.0M183.2 364.3h1.0M43.0 367.7h2.0M46.0 367.7h1.0M58.0 367.7h1.0M75.1 367.7h2.0M86.1 367.7h1.0M104.1 367.7h2.0M118.1 367.7h1.0M126.1 367.7h1.0M134.1 367.7h2.0M158.2 367.7h1.0M170.2 367.7h1.0M174.2 367.7h1.0M190.2 367.7h1.0M32.0 371.1h1.0M35.0 371.1h1.0M49.0 371.1h1.0M55.0 371.1h1.0M58.0 371.1h1.0M60.0 371.1h1.0M86.1 371.1h1.0M88.1 371.1h1.0M96.1 371.1h2.0M119.1 371.1h1.0M145.1 371.1h1.0M179.2 371.1h2.0M190.2 371.1h1.0M31.0 374.5h1.0M35.0 374.5h1.0M38.0 374.5h1.0M60.0 374.5h1.0M86.1 374.5h1.0M93.1 374.5h1.0M102.1 374.5h1.0M107.1 374.5h1.0M121.1 374.5h1.0M123.1 374.5h1.0M126.1 374.5h1.0M135.1 374.5h1.0M147.1 374.5h1.0M160.2 374.5h1.0M173.2 374.5h2.0M183.2 374.5h1.0M186.2 374.5h1.0M34.0 377.9h1.0M42.0 377.9h1.0M49.0 377.9h1.0M57.0 377.9h1.0M71.0 377.9h1.0M86.1 377.9h1.0M91.1 377.9h1.0M103.1 377.9h1.0M126.1 377.9h1.0M131.1 377.9h1.0M143.1 377.9h1.0M168.2 377.9h1.0M171.2 377.9h1.0M191.2 377.9h1.0M31.0 381.3h1.0M41.0 381.3h1.0M49.0 381.3h1.0M60.0 381.3h1.0M67.0 381.3h1.0M72.1 381.3h1.0M89.1 381.3h1.0M101.1 381.3h1.0M111.1 381.3h1.0M156.2 381.3h1.0M174.2 381.3h1.0M179.2 381.3h1.0M182.2 381.3h1.0M196.2 381.3h1.0M31.0 384.7h1.0M49.0 384.7h1.0M58.0 384.7h1.0M76.1 384.7h1.0M119.1 384.7h1.0M135.1 384.7h1.0M156.2 384.7h1.0M167.2 384.7h1.0M179.2 384.7h1.0M182.2 384.7h1.0M186.2 384.7h1.0M197.2 384.7h1.0M35.0 388.1h1.0M39.0 388.1h1.0M46.0 388.1h1.0M72.1 388.1h1.0M85.1 388.1h1.0M88.1 388.1h1.0M124.1 388.1h1.0M149.1 388.1h1.0M164.2 388.1h1.0M169.2 388.1h1.0M191.2 388.1h1.0M29.0 391.5h2.0M33.0 391.5h1.0M57.0 391.5h1.0M60.0 391.5h2.0M75.1 391.5h1.0M78.1 391.5h1.0M102.1 391.5h1.0M122.1 391.5h1.0M148.1 391.5h1.0M182.2 391.5h1.0M187.2 391.5h1.0M189.2 391.5h2.0M196.2 391.5h1.0M33.0 394.9h1.0M53.0 394.9h2.0M57.0 394.9h1.0M66.0 394.9h1.0M76.1 394.9h2.0M82.1 394.9h1.0M105.1 394.9h2.0M138.1 394.9h1.0M140.1 394.9h1.0M146.1 394.9h1.0M148.1 394.9h1.0M170.2 394.9h1.0M188.2 394.9h1.0M196.2 394.9h2.0M29.0 398.3h1.0M32.0 398.3h1.0M34.0 398.3h1.0M59.0 398.3h1.0M69.0 398.3h1.0M75.1 398.3h1.0M85.1 398.3h1.0M99.1 398.3h1.0M112.1 398.3h1.0M156.2 398.3h1.0M179.2 398.3h1.0M184.2 398.3h1.0M190.2 398.3h1.0M36.0 401.7h1.0M39.0 401.7h1.0M59.0 401.7h1.0M61.0 401.7h1.0M66.0 401.7h2.0M94.1 401.7h1.0M102.1 401.7h1.0M105.1 401.7h1.0M112.1 401.7h1.0M132.1 401.7h1.0M136.1 401.7h1.0M140.1 401.7h1.0M148.1 401.7h1.0M163.2 401.7h1.0M197.2 401.7h1.0M31.0 405.1h1.0M35.0 405.1h1.0M53.0 405.1h2.0M56.0 405.1h1.0M61.0 405.1h1.0M77.1 405.1h1.0M83.1 405.1h1.0M126.1 405.1h1.0M130.1 405.1h1.0M141.1 405.1h1.0M158.2 405.1h1.0M191.2 405.1h1.0M197.2 405.1h1.0M37.0 408.5h3.0M47.0 408.5h1.0M53.0 408.5h1.0M64.0 408.5h1.0M66.0 408.5h2.0M72.1 408.5h1.0M83.1 408.5h1.0M87.1 408.5h1.0M91.1 408.5h1.0M104.1 408.5h1.0M112.1 408.5h2.0M120.1 408.5h1.0M171.2 408.5h1.0M175.2 408.5h1.0M187.2 408.5h1.0M32.0 411.9h1.0M36.0 411.9h1.0M38.0 411.9h1.0M40.0 411.9h1.0M43.0 411.9h1.0M53.0 411.9h1.0M59.0 411.9h1.0M66.0 411.9h2.0M76.1 411.9h1.0M83.1 411.9h1.0M101.1 411.9h1.0M136.1 411.9h1.0M159.2 411.9h1.0M169.2 411.9h1.0M175.2 411.9h2.0M180.2 411.9h1.0M191.2 411.9h1.0M32.0 415.3h1.0M42.0 415.3h1.0M51.0 415.3h1.0M105.1 415.3h1.0M112.1 415.3h1.0M130.1 415.3h1.0M149.1 415.3h1.0M154.1 415.3h1.0M172.2 415.3h1.0M73.1 418.7h1.0M75.1 418.7h1.0M105.1 418.7h1.0M172.2 418.7h1.0M196.2 418.7h1.0M31.0 422.1h1.0M33.0 422.1h1.0M36.0 422.1h1.0M45.0 422.1h1.0M49.0 422.1h1.0M53.0 422.1h1.0M58.0 422.1h2.0M72.1 422.1h2.0M77.1 422.1h1.0M82.1 422.1h1.0M101.1 422.1h1.0M122.1 422.1h1.0M135.1 422.1h1.0M139.1 422.1h1.0M158.2 422.1h1.0M164.2 422.1h1.0M169.2 422.1h1.0M187.2 422.1h1.0M192.2 422.1h1.0M35.0 425.5h2.0M42.0 425.5h1.0M57.0 425.5h1.0M68.0 425.5h1.0M72.1 425.5h1.0M94.1 425.5h1.0M106.1 425.5h1.0M146.1 425.5h1.0M151.1 425.5h1.0M169.2 425.5h1.0M181.2 425.5h2.0M65.0 428.9h1.0M82.1 428.9h2.0M103.1 428.9h2.0M107.1 428.9h1.0M114.1 428.9h1.0M152.1 428.9h1.0M156.2 428.9h1.0M163.2 428.9h1.0M176.2 428.9h1.0M183.2 428.9h1.0M33.0 432.3h1.0M46.0 432.3h2.0M50.0 432.3h1.0M56.0 432.3h1.0M58.0 432.3h1.0M65.0 432.3h1.0M81.1 432.3h1.0M87.1 432.3h1.0M101.1 432.3h1.0M125.1 432.3h1.0M132.1 432.3h1.0M156.2 432.3h1.0M169.2 432.3h1.0M177.2 432.3h2.0M183.2 432.3h1.0M187.2 432.3h1.0M29.0 435.7h1.0M37.0 435.7h1.0M45.0 435.7h1.0M56.0 435.7h1.0M58.0 435.7h1.0M97.1 435.7h1.0M123.1 435.7h1.0M127.1 435.7h1.0M149.1 435.7h1.0M153.1 435.7h1.0M160.2 435.7h1.0M197.2 435.7h1.0M31.0 439.1h1.0M57.0 439.1h1.0M70.0 439.1h1.0M72.1 439.1h1.0M77.1 439.1h1.0M81.1 439.1h1.0M84.1 439.1h1.0M98.1 439.1h1.0M126.1 439.1h1.0M130.1 439.1h1.0M134.1 439.1h1.0M165.2 439.1h1.0M184.2 439.1h1.0M187.2 439.1h1.0M194.2 439.1h1.0M31.0 442.5h1.0M34.0 442.5h1.0M39.0 442.5h1.0M54.0 442.5h1.0M59.0 442.5h1.0M84.1 442.5h1.0M109.1 442.5h1.0M120.1 442.5h1.0M122.1 442.5h1.0M152.1 442.5h1.0M165.2 442.5h1.0M38.0 445.9h1.0M74.1 445.9h1.0M144.1 445.9h1.0M147.1 445.9h1.0M164.2 445.9h1.0M166.2 445.9h1.0M172.2 445.9h1.0M190.2 445.9h1.0M29.0 449.3h1.0M37.0 449.3h1.0M40.0 449.3h1.0M44.0 449.3h1.0M57.0 449.3h1.0M69.0 449.3h1.0M84.1 449.3h1.0M92.1 449.3h2.0M98.1 449.3h1.0M103.1 449.3h1.0M106.1 449.3h1.0M108.1 449.3h1.0M110.1 449.3h2.0M117.1 449.3h1.0M122.1 449.3h1.0M136.1 449.3h1.0M190.2 449.3h1.0M192.2 449.3h1.0M196.2 449.3h2.0" stroke="#4c4731" stroke-width="3.45" fill="none"/>
<path d="M57.0 36.9h1.0M59.0 36.9h1.0M70.0 36.9h1.0M79.1 36.9h1.0M84.1 36.9h1.0M100.1 36.9h1.0M118.1 36.9h1.0M120.1 36.9h1.0M123.1 36.9h1.0M143.1 36.9h1.0M148.1 36.9h1.0M154.1 36.9h1.0M170.2 36.9h1.0M177.2 36.9h1.0M181.2 36.9h1.0M32.0 40.2h1.0M38.0 40.2h1.0M46.0 40.2h1.0M56.0 40.2h1.0M66.0 40.2h1.0M68.0 40.2h1.0M84.1 40.2h1.0M91.1 40.2h1.0M93.1 40.2h1.0M115.1 40.2h1.0M120.1 40.2h1.0M123.1 40.2h1.0M129.1 40.2h1.0M143.1 40.2h1.0M145.1 40.2h1.0M175.2 40.2h1.0M29.0 43.5h1.0M34.0 43.5h1.0M42.0 43.5h1.0M50.0 43.5h1.0M69.0 43.5h1.0M74.1 43.5h1.0M80.1 43.5h1.0M87.1 43.5h2.0M94.1 43.5h1.0M106.1 43.5h1.0M136.1 43.5h1.0M138.1 43.5h1.0M142.1 43.5h1.0M149.1 43.5h1.0M152.1 43.5h1.0M154.1 43.5h1.0M157.2 43.5h1.0M162.2 43.5h1.0M168.2 43.5h1.0M170.2 43.5h2.0M181.2 43.5h1.0M185.2 43.5h1.0M188.2 43.5h1.0M190.2 43.5h1.0M196.2 43.5h1.0M43.0 46.8h1.0M48.0 46.8h1.0M56.0 46.8h1.0M63.0 46.8h1.0M81.1 46.8h1.0M83.1 46.8h1.0M142.1 46.8h1.0M147.1 46.8h1.0M157.2 46.8h1.0M162.2 46.8h1.0M185.2 46.8h2.0M29.0 50.1h1.0M47.0 50.1h1.0M60.0 50.1h1.0M62.0 50.1h1.0M68.0 50.1h1.0M74.1 50.1h1.0M83.1 50.1h1.0M87.1 50.1h1.0M106.1 50.1h1.0M109.1 50.1h1.0M116.1 50.1h1.0M125.1 50.1h1.0M144.1 50.1h2.0M152.1 50.1h1.0M156.2 50.1h1.0M167.2 50.1h1.0M177.2 50.1h1.0M179.2 50.1h1.0M187.2 50.1h1.0M42.0 53.5h1.0M45.0 53.5h1.0M48.0 53.5h2.0M66.0 53.5h1.0M76.1 53.5h1.0M87.1 53.5h2.0M90.1 53.5h1.0M108.1 53.5h1.0M111.1 53.5h1.0M117.1 53.5h1.0M119.1 53.5h2.0M126.1 53.5h1.0M128.1 53.5h1.0M136.1 53.5h1.0M142.1 53.5h1.0M150.1 53.5h1.0M159.2 53.5h1.0M168.2 53.5h1.0M180.2 53.5h1.0M44.0 56.8h1.0M58.0 56.8h1.0M63.0 56.8h1.0M78.1 56.8h1.0M87.1 56.8h1.0M102.1 56.8h2.0M105.1 56.8h1.0M123.1 56.8h1.0M161.2 56.8h2.0M173.2 56.8h1.0M40.0 60.1h1.0M47.0 60.1h1.0M52.0 60.1h1.0M57.0 60.1h1.0M64.0 60.1h1.0M69.0 60.1h1.0M85.1 60.1h1.0M104.1 60.1h1.0M113.1 60.1h1.0M132.1 60.1h2.0M144.1 60.1h1.0M157.2 60.1h1.0M171.2 60.1h1.0M173.2 60.1h1.0M175.2 60.1h1.0M183.2 60.1h1.0M190.2 60.1h3.0M54.0 63.4h1.0M87.1 63.4h2.0M99.1 63.4h1.0M104.1 63.4h1.0M115.1 63.4h1.0M117.1 63.4h1.0M120.1 63.4h2.0M125.1 63.4h1.0M127.1 63.4h1.0M144.1 63.4h1.0M147.1 63.4h1.0M153.1 63.4h1.0M161.2 63.4h1.0M179.2 63.4h1.0M187.2 63.4h1.0M192.2 63.4h1.0M194.2 63.4h1.0M35.0 66.7h1.0M44.0 66.7h1.0M46.0 66.7h1.0M65.0 66.7h1.0M79.1 66.7h1.0M85.1 66.7h1.0M99.1 66.7h2.0M102.1 66.7h1.0M106.1 66.7h1.0M113.1 66.7h1.0M118.1 66.7h1.0M121.1 66.7h1.0M129.1 66.7h1.0M138.1 66.7h1.0M144.1 66.7h1.0M157.2 66.7h1.0M171.2 66.7h1.0M191.2 66.7h1.0M196.2 66.7h1.0M37.0 70.1h2.0M59.0 70.1h1.0M63.0 70.1h1.0M91.1 70.1h1.0M103.1 70.1h1.0M111.1 70.1h1.0M126.1 70.1h1.0M134.1 70.1h1.0M151.1 70.1h1.0M156.2 70.1h1.0M160.2 70.1h1.0M169.2 70.1h1.0M171.2 70.1h1.0M187.2 70.1h1.0M44.0 73.4h1.0M50.0 73.4h1.0M58.0 73.4h1.0M66.0 73.4h1.0M70.0 73.4h1.0M79.1 73.4h1.0M83.1 73.4h1.0M85.1 73.4h1.0M91.1 73.4h1.0M124.1 73.4h1.0M134.1 73.4h1.0M139.1 73.4h1.0M142.1 73.4h1.0M158.2 73.4h1.0M163.2 73.4h1.0M168.2 73.4h1.0M173.2 73.4h1.0M177.2 73.4h1.0M180.2 73.4h1.0M186.2 73.4h1.0M42.0 76.7h1.0M45.0 76.7h1.0M51.0 76.7h2.0M70.0 76.7h1.0M80.1 76.7h1.0M82.1 76.7h1.0M84.1 76.7h2.0M113.1 76.7h1.0M119.1 76.7h1.0M127.1 76.7h1.0M141.1 76.7h1.0M153.1 76.7h1.0M163.2 76.7h1.0M175.2 76.7h1.0M29.0 80.0h1.0M31.0 80.0h3.0M38.0 80.0h1.0M41.0 80.0h1.0M45.0 80.0h1.0M50.0 80.0h1.0M64.0 80.0h1.0M74.1 80.0h1.0M86.1 80.0h1.0M89.1 80.0h1.0M92.1 80.0h1.0M101.1 80.0h2.0M109.1 80.0h1.0M118.1 80.0h1.0M139.1 80.0h1.0M170.2 80.0h1.0M183.2 80.0h2.0M187.2 80.0h1.0M189.2 80.0h1.0M32.0 83.3h1.0M38.0 83.3h1.0M40.0 83.3h1.0M42.0 83.3h1.0M57.0 83.3h1.0M59.0 83.3h2.0M84.1 83.3h1.0M112.1 83.3h1.0M120.1 83.3h1.0M163.2 83.3h2.0M168.2 83.3h1.0M175.2 83.3h1.0M188.2 83.3h1.0M192.2 83.3h1.0M29.0 86.7h1.0M34.0 86.7h1.0M38.0 86.7h1.0M41.0 86.7h1.0M45.0 86.7h1.0M62.0 86.7h1.0M76.1 86.7h1.0M78.1 86.7h1.0M89.1 86.7h1.0M103.1 86.7h1.0M113.1 86.7h1.0M127.1 86.7h1.0M133.1 86.7h1.0M158.2 86.7h1.0M171.2 86.7h1.0M179.2 86.7h1.0M192.2 86.7h1.0M30.0 90.0h1.0M33.0 90.0h2.0M39.0 90.0h1.0M46.0 90.0h1.0M52.0 90.0h1.0M62.0 90.0h1.0M74.1 90.0h2.0M89.1 90.0h1.0M93.1 90.0h1.0M108.1 90.0h1.0M122.1 90.0h1.0M129.1 90.0h1.0M140.1 90.0h1.0M142.1 90.0h1.0M146.1 90.0h1.0M151.1 90.0h1.0M159.2 90.0h1.0M168.2 90.0h1.0M171.2 90.0h2.0M180.2 90.0h1.0M182.2 90.0h1.0M184.2 90.0h1.0M186.2 90.0h1.0M191.2 90.0h1.0M196.2 90.0h1.0M30.0 93.3h1.0M57.0 93.3h1.0M62.0 93.3h1.0M71.0 93.3h1.0M89.1 93.3h1.0M126.1 93.3h2.0M139.1 93.3h1.0M184.2 93.3h1.0M188.2 93.3h1.0M50.0 96.6h1.0M54.0 96.6h2.0M75.1 96.6h1.0M77.1 96.6h1.0M94.1 96.6h1.0M102.1 96.6h1.0M126.1 96.6h1.0M139.1 96.6h1.0M141.1 96.6h1.0M149.1 96.6h2.0M154.1 96.6h1.0M160.2 96.6h1.0M173.2 96.6h1.0M179.2 96.6h1.0M188.2 96.6h1.0M194.2 96.6h1.0M35.0 99.9h1.0M53.0 99.9h2.0M78.1 99.9h1.0M82.1 99.9h1.0M86.1 99.9h1.0M93.1 99.9h1.0M99.1 99.9h1.0M118.1 99.9h1.0M129.1 99.9h1.0M139.1 99.9h1.0M144.1 99.9h1.0M147.1 99.9h1.0M154.1 99.9h1.0M159.2 99.9h1.0M168.2 99.9h1.0M178.2 99.9h1.0M188.2 99.9h1.0M29.0 103.3h1.0M31.0 103.3h1.0M41.0 103.3h1.0M44.0 103.3h2.0M60.0 103.3h1.0M63.0 103.3h1.0M77.1 103.3h1.0M93.1 103.3h1.0M100.1 103.3h1.0M105.1 103.3h1.0M139.1 103.3h1.0M142.1 103.3h1.0M167.2 103.3h1.0M179.2 103.3h1.0M182.2 103.3h1.0M193.2 103.3h1.0M29.0 106.6h1.0M43.0 106.6h1.0M55.0 106.6h1.0M81.1 106.6h1.0M85.1 106.6h1.0M91.1 106.6h1.0M117.1 106.6h1.0M119.1 106.6h1.0M125.1 106.6h1.0M133.1 106.6h1.0M152.1 106.6h1.0M158.2 106.6h1.0M165.2 106.6h1.0M177.2 106.6h1.0M31.0 109.9h1.0M34.0 109.9h1.0M36.0 109.9h1.0M45.0 109.9h1.0M57.0 109.9h1.0M73.1 109.9h1.0M75.1 109.9h1.0M83.1 109.9h2.0M93.1 109.9h1.0M113.1 109.9h1.0M117.1 109.9h1.0M121.1 109.9h1.0M127.1 109.9h1.0M136.1 109.9h1.0M143.1 109.9h1.0M146.1 109.9h1.0M156.2 109.9h1.0M158.2 109.9h2.0M169.2 109.9h1.0M184.2 109.9h1.0M186.2 109.9h1.0M191.2 109.9h1.0M33.0 113.2h1.0M48.0 113.2h1.0M53.0 113.2h1.0M57.0 113.2h1.0M77.1 113.2h1.0M79.1 113.2h1.0M84.1 113.2h2.0M100.1 113.2h1.0M108.1 113.2h1.0M118.1 113.2h1.0M134.1 113.2h1.0M152.1 113.2h1.0M156.2 113.2h1.0M166.2 113.2h2.0M30.0 116.5h1.0M48.0 116.5h1.0M76.1 116.5h1.0M84.1 116.5h1.0M87.1 116.5h1.0M118.1 116.5h1.0M121.1 116.5h1.0M139.1 116.5h1.0M145.1 116.5h1.0M150.1 116.5h1.0M174.2 116.5h1.0M186.2 116.5h1.0M52.0 119.9h2.0M60.0 119.9h1.0M73.1 119.9h1.0M77.1 119.9h1.0M79.1 119.9h1.0M84.1 119.9h1.0M89.1 119.9h1.0M92.1 119.9h1.0M102.1 119.9h1.0M108.1 119.9h2.0M111.1 119.9h1.0M113.1 119.9h1.0M122.1 119.9h1.0M133.1 119.9h1.0M146.1 119.9h1.0M153.1 119.9h1.0M158.2 119.9h1.0M161.2 119.9h1.0M186.2 119.9h1.0M189.2 119.9h2.0M192.2 119.9h1.0M51.0 123.2h1.0M61.0 123.2h1.0M64.0 123.2h1.0M71.0 123.2h1.0M89.1 123.2h2.0M104.1 123.2h1.0M112.1 123.2h1.0M119.1 123.2h1.0M130.1 123.2h1.0M136.1 123.2h1.0M139.1 123.2h1.0M143.1 123.2h1.0M148.1 123.2h1.0M156.2 123.2h1.0M159.2 123.2h1.0M166.2 123.2h1.0M168.2 123.2h1.0M176.2 123.2h1.0M179.2 123.2h1.0M189.2 123.2h1.0M29.0 126.5h1.0M42.0 126.5h1.0M62.0 126.5h1.0M72.1 126.5h1.0M77.1 126.5h1.0M131.1 126.5h1.0M138.1 126.5h1.0M163.2 126.5h2.0M184.2 126.5h1.0M32.0 129.8h1.0M53.0 129.8h2.0M56.0 129.8h1.0M62.0 129.8h1.0M68.0 129.8h2.0M74.1 129.8h1.0M95.1 129.8h1.0M99.1 129.8h1.0M101.1 129.8h1.0M123.1 129.8h1.0M127.1 129.8h1.0M130.1 129.8h1.0M136.1 129.8h1.0M148.1 129.8h1.0M161.2 129.8h1.0M163.2 129.8h1.0M166.2 129.8h1.0M169.2 129.8h1.0M171.2 129.8h1.0M173.2 129.8h1.0M46.0 133.1h1.0M48.0 133.1h2.0M58.0 133.1h1.0M63.0 133.1h1.0M74.1 133.1h1.0M78.1 133.1h1.0M84.1 133.1h2.0M89.1 133.1h1.0M107.1 133.1h1.0M112.1 133.1h1.0M120.1 133.1h1.0M123.1 133.1h1.0M135.1 133.1h1.0M162.2 133.1h1.0M39.0 136.5h1.0M49.0 136.5h1.0M52.0 136.5h1.0M58.0 136.5h1.0M62.0 136.5h2.0M68.0 136.5h1.0M70.0 136.5h1.0M80.1 136.5h1.0M82.1 136.5h1.0M84.1 136.5h1.0M92.1 136.5h1.0M97.1 136.5h1.0M117.1 136.5h2.0M129.1 136.5h1.0M133.1 136.5h1.0M148.1 136.5h2.0M152.1 136.5h1.0M158.2 136.5h1.0M172.2 136.5h1.0M187.2 136.5h2.0M191.2 136.5h1.0M196.2 136.5h1.0M35.0 139.8h1.0M39.0 139.8h1.0M43.0 139.8h1.0M45.0 139.8h1.0M47.0 139.8h1.0M51.0 139.8h1.0M59.0 139.8h1.0M65.0 139.8h1.0M74.1 139.8h1.0M80.1 139.8h1.0M91.1 139.8h1.0M96.1 139.8h1.0M101.1 139.8h1.0M119.1 139.8h1.0M121.1 139.8h1.0M123.1 139.8h1.0M133.1 139.8h1.0M144.1 139.8h2.0M154.1 139.8h1.0M190.2 139.8h1.0M194.2 139.8h1.0M35.0 143.1h1.0M46.0 143.1h1.0M51.0 143.1h1.0M53.0 143.1h2.0M62.0 143.1h1.0M66.0 143.1h1.0M70.0 143.1h1.0M85.1 143.1h2.0M96.1 143.1h2.0M118.1 143.1h1.0M157.2 143.1h1.0M162.2 143.1h1.0M166.2 143.1h1.0M179.2 143.1h1.0M181.2 143.1h2.0M187.2 143.1h1.0M48.0 146.4h1.0M50.0 146.4h2.0M53.0 146.4h1.0M57.0 146.4h1.0M62.0 146.4h1.0M78.1 146.4h1.0M120.1 146.4h1.0M124.1 146.4h2.0M142.1 146.4h1.0M154.1 146.4h1.0M168.2 146.4h2.0M181.2 146.4h1.0M197.2 146.4h1.0M34.0 149.7h1.0M39.0 149.7h1.0M51.0 149.7h2.0M62.0 149.7h1.0M64.0 149.7h1.0M69.0 149.7h2.0M78.1 149.7h1.0M101.1 149.7h1.0M149.1 149.7h1.0M179.2 149.7h2.0M197.2 149.7h1.0M35.0 153.1h1.0M47.0 153.1h2.0M54.0 153.1h1.0M63.0 153.1h1.0M81.1 153.1h2.0M91.1 153.1h1.0M95.1 153.1h1.0M100.1 153.1h1.0M103.1 153.1h1.0M105.1 153.1h1.0M118.1 153.1h2.0M122.1 153.1h1.0M135.1 153.1h1.0M153.1 153.1h1.0M156.2 153.1h1.0M170.2 153.1h1.0M32.0 156.4h1.0M45.0 156.4h1.0M47.0 156.4h1.0M70.0 156.4h1.0M82.1 156.4h1.0M94.1 156.4h1.0M98.1 156.4h1.0M100.1 156.4h1.0M106.1 156.4h1.0M115.1 156.4h1.0M124.1 156.4h1.0M136.1 156.4h1.0M139.1 156.4h1.0M152.1 156.4h1.0M182.2 156.4h1.0M184.2 156.4h1.0M187.2 156.4h2.0M190.2 156.4h1.0M48.0 159.7h1.0M68.0 159.7h1.0M72.1 159.7h1.0M83.1 159.7h1.0M89.1 159.7h1.0M92.1 159.7h1.0M101.1 159.7h1.0M113.1 159.7h1.0M130.1 159.7h1.0M149.1 159.7h1.0M153.1 159.7h1.0M165.2 159.7h1.0M171.2 159.7h1.0M184.2 159.7h1.0M192.2 159.7h1.0M31.0 163.0h1.0M46.0 163.0h1.0M51.0 163.0h2.0M58.0 163.0h1.0M78.1 163.0h1.0M97.1 163.0h1.0M99.1 163.0h1.0M119.1 163.0h1.0M121.1 163.0h1.0M128.1 163.0h1.0M146.1 163.0h1.0M153.1 163.0h1.0M158.2 163.0h1.0M177.2 163.0h1.0M186.2 163.0h1.0M37.0 166.3h1.0M49.0 166.3h1.0M51.0 166.3h1.0M61.0 166.3h1.0M77.1 166.3h1.0M99.1 166.3h1.0M108.1 166.3h1.0M116.1 166.3h1.0M123.1 166.3h1.0M146.1 166.3h1.0M149.1 166.3h1.0M152.1 166.3h1.0M157.2 166.3h1.0M160.2 166.3h2.0M42.0 169.7h1.0M44.0 169.7h2.0M60.0 169.7h1.0M67.0 169.7h1.0M70.0 169.7h1.0M76.1 169.7h1.0M78.1 169.7h1.0M82.1 169.7h1.0M101.1 169.7h1.0M109.1 169.7h2.0M121.1 169.7h1.0M130.1 169.7h1.0M137.1 169.7h1.0M160.2 169.7h1.0M169.2 169.7h2.0M180.2 169.7h1.0M182.2 169.7h1.0M43.0 173.0h1.0M94.1 173.0h1.0M101.1 173.0h1.0M112.1 173.0h1.0M149.1 173.0h2.0M167.2 173.0h2.0M195.2 173.0h1.0M43.0 176.4h1.0M49.0 176.4h1.0M65.0 176.4h1.0M67.0 176.4h1.0M83.1 176.4h1.0M86.1 176.4h1.0M93.1 176.4h2.0M101.1 176.4h1.0M108.1 176.4h2.0M111.1 176.4h1.0M118.1 176.4h1.0M121.1 176.4h1.0M170.2 176.4h2.0M186.2 176.4h1.0M37.0 179.7h1.0M48.0 179.7h1.0M59.0 179.7h1.0M61.0 179.7h1.0M70.0 179.7h1.0M85.1 179.7h2.0M99.1 179.7h1.0M119.1 179.7h1.0M128.1 179.7h1.0M135.1 179.7h1.0M172.2 179.7h1.0M188.2 179.7h1.0M34.0 183.0h1.0M41.0 183.0h1.0M44.0 183.0h1.0M56.0 183.0h1.0M59.0 183.0h1.0M77.1 183.0h1.0M83.1 183.0h1.0M85.1 183.0h1.0M93.1 183.0h1.0M100.1 183.0h1.0M120.1 183.0h1.0M122.1 183.0h1.0M129.1 183.0h1.0M136.1 183.0h1.0M160.2 183.0h1.0M179.2 183.0h1.0M184.2 183.0h1.0M191.2 183.0h1.0M34.0 186.4h1.0M38.0 186.4h1.0M40.0 186.4h1.0M42.0 186.4h1.0M46.0 186.4h1.0M72.1 186.4h1.0M83.1 186.4h1.0M94.1 186.4h1.0M105.1 186.4h1.0M127.1 186.4h1.0M149.1 186.4h1.0M167.2 186.4h1.0M176.2 186.4h1.0M182.2 186.4h1.0M195.2 186.4h1.0M30.0 189.7h1.0M44.0 189.7h1.0M48.0 189.7h1.0M51.0 189.7h1.0M57.0 189.7h1.0M84.1 189.7h1.0M94.1 189.7h1.0M101.1 189.7h1.0M103.1 189.7h1.0M123.1 189.7h1.0M137.1 189.7h1.0M147.1 189.7h1.0M161.2 189.7h1.0M165.2 189.7h2.0M168.2 189.7h1.0M171.2 189.7h1.0M195.2 189.7h1.0M47.0 193.1h1.0M54.0 193.1h1.0M58.0 193.1h1.0M68.0 193.1h1.0M75.1 193.1h2.0M81.1 193.1h1.0M86.1 193.1h1.0M93.1 193.1h1.0M99.1 193.1h1.0M109.1 193.1h1.0M118.1 193.1h1.0M120.1 193.1h1.0M134.1 193.1h2.0M139.1 193.1h1.0M143.1 193.1h1.0M147.1 193.1h2.0M151.1 193.1h1.0M166.2 193.1h1.0M170.2 193.1h1.0M172.2 193.1h1.0M176.2 193.1h1.0M178.2 193.1h1.0M185.2 193.1h1.0M187.2 193.1h1.0M190.2 193.1h1.0M197.2 193.1h1.0M30.0 196.4h1.0M45.0 196.4h1.0M51.0 196.4h1.0M56.0 196.4h1.0M65.0 196.4h1.0M76.1 196.4h1.0M85.1 196.4h1.0M101.1 196.4h1.0M110.1 196.4h1.0M142.1 196.4h1.0M145.1 196.4h1.0M153.1 196.4h1.0M156.2 196.4h1.0M184.2 196.4h1.0M64.0 199.7h1.0M67.0 199.7h1.0M75.1 199.7h1.0M89.1 199.7h1.0M92.1 199.7h1.0M97.1 199.7h1.0M99.1 199.7h1.0M103.1 199.7h1.0M106.1 199.7h1.0M142.1 199.7h1.0M150.1 199.7h1.0M155.1 199.7h1.0M162.2 199.7h1.0M179.2 199.7h3.0M190.2 199.7h1.0M37.0 203.1h1.0M39.0 203.1h1.0M42.0 203.1h3.0M50.0 203.1h2.0M62.0 203.1h1.0M72.1 203.1h1.0M80.1 203.1h1.0M106.1 203.1h2.0M114.1 203.1h1.0M131.1 203.1h1.0M135.1 203.1h1.0M142.1 203.1h1.0M154.1 203.1h1.0M160.2 203.1h2.0M43.0 206.4h1.0M57.0 206.4h1.0M86.1 206.4h1.0M92.1 206.4h1.0M104.1 206.4h1.0M108.1 206.4h1.0M112.1 206.4h1.0M120.1 206.4h1.0M122.1 206.4h1.0M131.1 206.4h1.0M137.1 206.4h1.0M160.2 206.4h1.0M167.2 206.4h1.0M171.2 206.4h1.0M184.2 206.4h1.0M41.0 209.8h1.0M103.1 209.8h1.0M107.1 209.8h1.0M122.1 209.8h2.0M134.1 209.8h1.0M139.1 209.8h1.0M141.1 209.8h1.0M150.1 209.8h1.0M156.2 209.8h1.0M169.2 209.8h1.0M187.2 209.8h1.0M196.2 209.8h1.0M37.0 213.1h1.0M65.0 213.1h1.0M70.0 213.1h1.0M91.1 213.1h1.0M124.1 213.1h1.0M127.1 213.1h2.0M138.1 213.1h1.0M140.1 213.1h1.0M150.1 213.1h1.0M156.2 213.1h1.0M160.2 213.1h1.0M168.2 213.1h2.0M180.2 213.1h1.0M183.2 213.1h1.0M53.0 216.4h1.0M65.0 216.4h1.0M78.1 216.4h1.0M83.1 216.4h1.0M90.1 216.4h1.0M107.1 216.4h1.0M122.1 216.4h1.0M127.1 216.4h1.0M130.1 216.4h1.0M137.1 216.4h1.0M148.1 216.4h1.0M152.1 216.4h1.0M36.0 219.8h1.0M46.0 219.8h1.0M48.0 219.8h1.0M59.0 219.8h1.0M68.0 219.8h1.0M71.0 219.8h1.0M100.1 219.8h1.0M105.1 219.8h1.0M114.1 219.8h1.0M116.1 219.8h1.0M131.1 219.8h3.0M138.1 219.8h1.0M166.2 219.8h1.0M173.2 219.8h1.0M190.2 219.8h1.0M44.0 223.1h1.0M50.0 223.1h1.0M89.1 223.1h1.0M94.1 223.1h1.0M108.1 223.1h1.0M112.1 223.1h1.0M127.1 223.1h1.0M131.1 223.1h1.0M137.1 223.1h1.0M153.1 223.1h1.0M179.2 223.1h1.0M30.0 226.4h1.0M42.0 226.4h1.0M53.0 226.4h1.0M60.0 226.4h1.0M65.0 226.4h1.0M87.1 226.4h1.0M89.1 226.4h1.0M95.1 226.4h1.0M111.1 226.4h1.0M115.1 226.4h1.0M122.1 226.4h1.0M134.1 226.4h1.0M143.1 226.4h1.0M145.1 226.4h1.0M148.1 226.4h1.0M150.1 226.4h1.0M160.2 226.4h2.0M167.2 226.4h1.0M171.2 226.4h1.0M178.2 226.4h1.0M196.2 226.4h1.0M53.0 229.8h1.0M63.0 229.8h1.0M84.1 229.8h2.0M87.1 229.8h1.0M92.1 229.8h2.0M99.1 229.8h2.0M109.1 229.8h1.0M120.1 229.8h1.0M122.1 229.8h1.0M135.1 229.8h1.0M137.1 229.8h2.0M147.1 229.8h1.0M157.2 229.8h1.0M161.2 229.8h1.0M176.2 229.8h1.0M178.2 229.8h1.0M182.2 229.8h1.0M29.0 233.1h1.0M40.0 233.1h1.0M53.0 233.1h1.0M58.0 233.1h1.0M63.0 233.1h1.0M65.0 233.1h1.0M81.1 233.1h1.0M103.1 233.1h1.0M112.1 233.1h1.0M126.1 233.1h1.0M131.1 233.1h1.0M135.1 233.1h1.0M137.1 233.1h1.0M148.1 233.1h1.0M168.2 233.1h1.0M173.2 233.1h1.0M197.2 233.1h1.0M35.0 236.5h1.0M52.0 236.5h1.0M54.0 236.5h1.0M65.0 236.5h1.0M67.0 236.5h1.0M81.1 236.5h1.0M107.1 236.5h1.0M109.1 236.5h1.0M118.1 236.5h1.0M125.1 236.5h1.0M147.1 236.5h1.0M169.2 236.5h1.0M183.2 236.5h1.0M43.0 239.8h1.0M74.1 239.8h1.0M81.1 239.8h1.0M85.1 239.8h1.0M95.1 239.8h1.0M103.1 239.8h1.0M114.1 239.8h1.0M126.1 239.8h1.0M130.1 239.8h1.0M133.1 239.8h1.0M146.1 239.8h1.0M163.2 239.8h1.0M187.2 239.8h1.0M52.0 243.2h1.0M66.0 243.2h1.0M71.0 243.2h1.0M75.1 243.2h1.0M99.1 243.2h1.0M104.1 243.2h2.0M115.1 243.2h1.0M118.1 243.2h2.0M129.1 243.2h1.0M138.1 243.2h1.0M148.1 243.2h1.0M157.2 243.2h2.0M171.2 243.2h1.0M174.2 243.2h1.0M177.2 243.2h2.0M182.2 243.2h1.0M187.2 243.2h1.0M31.0 246.5h1.0M42.0 246.5h1.0M44.0 246.5h1.0M52.0 246.5h1.0M54.0 246.5h1.0M68.0 246.5h1.0M71.0 246.5h1.0M76.1 246.5h2.0M81.1 246.5h1.0M90.1 246.5h2.0M115.1 246.5h2.0M119.1 246.5h1.0M144.1 246.5h1.0M151.1 246.5h1.0M174.2 246.5h1.0M183.2 246.5h1.0M186.2 246.5h1.0M34.0 249.8h1.0M41.0 249.8h1.0M46.0 249.8h1.0M56.0 249.8h1.0M65.0 249.8h1.0M67.0 249.8h1.0M71.0 249.8h1.0M75.1 249.8h2.0M79.1 249.8h1.0M86.1 249.8h1.0M89.1 249.8h1.0M97.1 249.8h1.0M101.1 249.8h1.0M107.1 249.8h1.0M111.1 249.8h1.0M120.1 249.8h1.0M127.1 249.8h1.0M139.1 249.8h1.0M142.1 249.8h1.0M147.1 249.8h1.0M152.1 249.8h1.0M157.2 249.8h1.0M193.2 249.8h1.0M42.0 253.2h1.0M54.0 253.2h1.0M60.0 253.2h1.0M68.0 253.2h1.0M72.1 253.2h1.0M81.1 253.2h1.0M83.1 253.2h2.0M111.1 253.2h1.0M118.1 253.2h1.0M130.1 253.2h1.0M145.1 253.2h2.0M156.2 253.2h1.0M163.2 253.2h1.0M166.2 253.2h1.0M168.2 253.2h1.0M176.2 253.2h1.0M178.2 253.2h1.0M182.2 253.2h1.0M197.2 253.2h1.0M41.0 256.5h2.0M46.0 256.5h1.0M60.0 256.5h1.0M66.0 256.5h1.0M97.1 256.5h1.0M105.1 256.5h1.0M109.1 256.5h1.0M115.1 256.5h1.0M123.1 256.5h1.0M142.1 256.5h1.0M149.1 256.5h1.0M156.2 256.5h1.0M159.2 256.5h1.0M163.2 256.5h1.0M178.2 256.5h1.0M180.2 256.5h1.0M38.0 259.9h1.0M41.0 259.9h1.0M47.0 259.9h1.0M50.0 259.9h1.0M59.0 259.9h1.0M63.0 259.9h1.0M71.0 259.9h1.0M86.1 259.9h1.0M90.1 259.9h1.0M94.1 259.9h1.0M97.1 259.9h1.0M112.1 259.9h2.0M120.1 259.9h1.0M122.1 259.9h1.0M124.1 259.9h1.0M127.1 259.9h1.0M129.1 259.9h1.0M135.1 259.9h3.0M140.1 259.9h1.0M149.1 259.9h1.0M152.1 259.9h1.0M155.1 259.9h1.0M168.2 259.9h1.0M180.2 259.9h1.0M29.0 263.2h1.0M33.0 263.2h2.0M67.0 263.2h1.0M78.1 263.2h1.0M87.1 263.2h1.0M92.1 263.2h1.0M95.1 263.2h1.0M99.1 263.2h1.0M105.1 263.2h1.0M134.1 263.2h1.0M140.1 263.2h1.0M149.1 263.2h1.0M171.2 263.2h1.0M185.2 263.2h1.0M196.2 263.2h1.0M39.0 266.5h1.0M58.0 266.5h2.0M64.0 266.5h1.0M66.0 266.5h2.0M76.1 266.5h1.0M90.1 266.5h1.0M98.1 266.5h1.0M103.1 266.5h2.0M110.1 266.5h1.0M112.1 266.5h1.0M115.1 266.5h1.0M154.1 266.5h1.0M162.2 266.5h1.0M166.2 266.5h1.0M173.2 266.5h1.0M189.2 266.5h1.0M36.0 269.9h1.0M40.0 269.9h2.0M50.0 269.9h1.0M55.0 269.9h1.0M57.0 269.9h1.0M60.0 269.9h1.0M70.0 269.9h1.0M73.1 269.9h1.0M82.1 269.9h1.0M84.1 269.9h1.0M104.1 269.9h1.0M107.1 269.9h1.0M117.1 269.9h1.0M121.1 269.9h1.0M123.1 269.9h2.0M132.1 269.9h2.0M138.1 269.9h1.0M153.1 269.9h2.0M156.2 269.9h1.0M158.2 269.9h1.0M161.2 269.9h1.0M169.2 269.9h1.0M177.2 269.9h1.0M187.2 269.9h1.0M194.2 269.9h1.0M33.0 273.2h1.0M41.0 273.2h1.0M43.0 273.2h1.0M52.0 273.2h2.0M63.0 273.2h1.0M80.1 273.2h1.0M107.1 273.2h1.0M128.1 273.2h1.0M132.1 273.2h1.0M150.1 273.2h1.0M157.2 273.2h1.0M174.2 273.2h1.0M178.2 273.2h1.0M180.2 273.2h1.0M182.2 273.2h1.0M196.2 273.2h1.0M46.0 276.6h1.0M49.0 276.6h1.0M62.0 276.6h1.0M97.1 276.6h1.0M101.1 276.6h1.0M112.1 276.6h1.0M115.1 276.6h1.0M138.1 276.6h1.0M146.1 276.6h1.0M157.2 276.6h1.0M176.2 276.6h1.0M188.2 276.6h1.0M190.2 276.6h1.0M197.2 276.6h1.0M34.0 279.9h1.0M40.0 279.9h1.0M42.0 279.9h1.0M47.0 279.9h1.0M49.0 279.9h1.0M63.0 279.9h2.0M74.1 279.9h1.0M84.1 279.9h1.0M97.1 279.9h1.0M117.1 279.9h1.0M120.1 279.9h1.0M125.1 279.9h1.0M147.1 279.9h1.0M165.2 279.9h1.0M179.2 279.9h1.0M182.2 279.9h1.0M184.2 279.9h1.0M189.2 279.9h1.0M29.0 283.2h1.0M41.0 283.2h1.0M44.0 283.2h1.0M54.0 283.2h1.0M58.0 283.2h1.0M67.0 283.2h1.0M72.1 283.2h1.0M78.1 283.2h1.0M86.1 283.2h1.0M110.1 283.2h1.0M129.1 283.2h1.0M147.1 283.2h1.0M155.1 283.2h1.0M157.2 283.2h1.0M163.2 283.2h1.0M165.2 283.2h1.0M169.2 283.2h1.0M188.2 283.2h1.0M197.2 283.2h1.0M35.0 286.6h2.0M44.0 286.6h1.0M47.0 286.6h1.0M56.0 286.6h1.0M60.0 286.6h1.0M66.0 286.6h1.0M82.1 286.6h1.0M87.1 286.6h2.0M99.1 286.6h1.0M114.1 286.6h1.0M120.1 286.6h1.0M122.1 286.6h1.0M139.1 286.6h1.0M145.1 286.6h1.0M155.1 286.6h1.0M184.2 286.6h2.0M191.2 286.6h1.0M30.0 289.9h1.0M37.0 289.9h1.0M60.0 289.9h1.0M62.0 289.9h1.0M64.0 289.9h2.0M67.0 289.9h1.0M69.0 289.9h2.0M79.1 289.9h1.0M86.1 289.9h1.0M92.1 289.9h1.0M106.1 289.9h1.0M119.1 289.9h3.0M124.1 289.9h3.0M139.1 289.9h1.0M146.1 289.9h1.0M148.1 289.9h1.0M165.2 289.9h1.0M176.2 289.9h1.0M30.0 293.2h1.0M40.0 293.2h1.0M43.0 293.2h1.0M52.0 293.2h1.0M55.0 293.2h1.0M79.1 293.2h1.0M86.1 293.2h2.0M92.1 293.2h1.0M100.1 293.2h1.0M121.1 293.2h1.0M123.1 293.2h3.0M139.1 293.2h1.0M168.2 293.2h2.0M183.2 293.2h1.0M34.0 296.6h1.0M52.0 296.6h1.0M64.0 296.6h2.0M68.0 296.6h1.0M86.1 296.6h1.0M112.1 296.6h1.0M114.1 296.6h1.0M116.1 296.6h1.0M123.1 296.6h1.0M147.1 296.6h1.0M155.1 296.6h1.0M160.2 296.6h1.0M170.2 296.6h1.0M177.2 296.6h1.0M192.2 296.6h1.0M31.0 299.9h1.0M55.0 299.9h1.0M62.0 299.9h1.0M66.0 299.9h1.0M80.1 299.9h1.0M88.1 299.9h1.0M98.1 299.9h1.0M111.1 299.9h1.0M116.1 299.9h1.0M121.1 299.9h1.0M131.1 299.9h1.0M136.1 299.9h1.0M144.1 299.9h1.0M156.2 299.9h1.0M171.2 299.9h1.0M179.2 299.9h1.0M182.2 299.9h1.0M185.2 299.9h1.0M193.2 299.9h1.0M67.0 303.3h1.0M73.1 303.3h1.0M80.1 303.3h2.0M86.1 303.3h1.0M88.1 303.3h1.0M96.1 303.3h1.0M112.1 303.3h1.0M114.1 303.3h1.0M119.1 303.3h1.0M135.1 303.3h1.0M137.1 303.3h1.0M144.1 303.3h1.0M147.1 303.3h2.0M160.2 303.3h1.0M177.2 303.3h1.0M181.2 303.3h1.0M187.2 303.3h1.0M48.0 306.6h1.0M53.0 306.6h1.0M64.0 306.6h1.0M72.1 306.6h1.0M77.1 306.6h1.0M83.1 306.6h2.0M89.1 306.6h1.0M95.1 306.6h1.0M98.1 306.6h1.0M106.1 306.6h1.0M118.1 306.6h1.0M134.1 306.6h1.0M160.2 306.6h1.0M190.2 306.6h1.0M192.2 306.6h1.0M53.0 309.9h1.0M63.0 309.9h1.0M73.1 309.9h2.0M89.1 309.9h1.0M94.1 309.9h1.0M96.1 309.9h3.0M100.1 309.9h2.0M110.1 309.9h1.0M113.1 309.9h1.0M118.1 309.9h1.0M126.1 309.9h1.0M135.1 309.9h1.0M137.1 309.9h1.0M144.1 309.9h1.0M160.2 309.9h2.0M176.2 309.9h1.0M181.2 309.9h2.0M32.0 313.3h1.0M46.0 313.3h1.0M53.0 313.3h1.0M71.0 313.3h1.0M107.1 313.3h1.0M111.1 313.3h1.0M119.1 313.3h1.0M127.1 313.3h1.0M129.1 313.3h1.0M131.1 313.3h1.0M138.1 313.3h1.0M142.1 313.3h1.0M144.1 313.3h1.0M147.1 313.3h1.0M172.2 313.3h1.0M194.2 313.3h1.0M196.2 313.3h1.0M34.0 316.6h1.0M36.0 316.6h1.0M52.0 316.6h1.0M85.1 316.6h1.0M87.1 316.6h1.0M102.1 316.6h1.0M107.1 316.6h1.0M115.1 316.6h1.0M118.1 316.6h1.0M124.1 316.6h1.0M131.1 316.6h1.0M135.1 316.6h1.0M186.2 316.6h2.0M195.2 316.6h1.0M35.0 320.0h1.0M45.0 320.0h1.0M51.0 320.0h1.0M68.0 320.0h1.0M74.1 320.0h1.0M83.1 320.0h1.0M86.1 320.0h1.0M136.1 320.0h1.0M175.2 320.0h1.0M41.0 323.4h1.0M51.0 323.4h1.0M61.0 323.4h1.0M84.1 323.4h1.0M86.1 323.4h1.0M90.1 323.4h1.0M104.1 323.4h1.0M50.0 326.8h2.0M53.0 326.8h1.0M57.0 326.8h1.0M60.0 326.8h1.0M84.1 326.8h1.0M107.1 326.8h1.0M111.1 326.8h1.0M114.1 326.8h2.0M118.1 326.8h1.0M143.1 326.8h1.0M193.2 326.8h1.0M197.2 326.8h1.0M30.0 330.2h3.0M40.0 330.2h1.0M69.0 330.2h1.0M101.1 330.2h1.0M118.1 330.2h1.0M132.1 330.2h1.0M139.1 330.2h2.0M145.1 330.2h1.0M149.1 330.2h2.0M164.2 330.2h1.0M167.2 330.2h1.0M38.0 333.6h1.0M66.0 333.6h1.0M77.1 333.6h1.0M104.1 333.6h1.0M111.1 333.6h1.0M113.1 333.6h1.0M124.1 333.6h1.0M131.1 333.6h1.0M133.1 333.6h1.0M146.1 333.6h1.0M150.1 333.6h1.0M154.1 333.6h1.0M171.2 333.6h1.0M182.2 333.6h1.0M43.0 337.0h1.0M49.0 337.0h1.0M53.0 337.0h1.0M85.1 337.0h1.0M90.1 337.0h1.0M98.1 337.0h1.0M103.1 337.0h1.0M119.1 337.0h1.0M123.1 337.0h2.0M156.2 337.0h1.0M174.2 337.0h1.0M190.2 337.0h1.0M193.2 337.0h1.0M55.0 340.4h1.0M62.0 340.4h1.0M71.0 340.4h1.0M81.1 340.4h1.0M98.1 340.4h1.0M119.1 340.4h1.0M122.1 340.4h1.0M126.1 340.4h1.0M136.1 340.4h1.0M147.1 340.4h1.0M173.2 340.4h1.0M175.2 340.4h1.0M91.1 343.8h1.0M107.1 343.8h1.0M112.1 343.8h1.0M119.1 343.8h1.0M128.1 343.8h2.0M134.1 343.8h1.0M140.1 343.8h1.0M143.1 343.8h1.0M147.1 343.8h1.0M183.2 343.8h1.0M42.0 347.2h1.0M51.0 347.2h1.0M123.1 347.2h1.0M134.1 347.2h1.0M148.1 347.2h1.0M154.1 347.2h1.0M164.2 347.2h1.0M177.2 347.2h1.0M31.0 350.6h1.0M34.0 350.6h2.0M46.0 350.6h1.0M53.0 350.6h1.0M56.0 350.6h1.0M60.0 350.6h1.0M67.0 350.6h1.0M88.1 350.6h1.0M112.1 350.6h1.0M154.1 350.6h1.0M167.2 350.6h1.0M34.0 354.1h1.0M46.0 354.1h1.0M57.0 354.1h1.0M86.1 354.1h1.0M90.1 354.1h1.0M102.1 354.1h1.0M108.1 354.1h1.0M113.1 354.1h2.0M122.1 354.1h1.0M125.1 354.1h2.0M129.1 354.1h1.0M136.1 354.1h1.0M146.1 354.1h1.0M156.2 354.1h1.0M158.2 354.1h1.0M175.2 354.1h1.0M179.2 354.1h1.0M186.2 354.1h1.0M30.0 357.5h1.0M32.0 357.5h1.0M35.0 357.5h1.0M70.0 357.5h1.0M92.1 357.5h1.0M98.1 357.5h1.0M103.1 357.5h1.0M114.1 357.5h1.0M132.1 357.5h1.0M146.1 357.5h1.0M173.2 357.5h1.0M175.2 357.5h1.0M180.2 357.5h1.0M186.2 357.5h1.0M29.0 360.9h1.0M40.0 360.9h1.0M43.0 360.9h1.0M55.0 360.9h1.0M66.0 360.9h1.0M68.0 360.9h1.0M84.1 360.9h1.0M96.1 360.9h1.0M98.1 360.9h1.0M101.1 360.9h1.0M134.1 360.9h1.0M169.2 360.9h1.0M175.2 360.9h1.0M181.2 360.9h1.0M191.2 360.9h1.0M193.2 360.9h1.0M29.0 364.3h1.0M37.0 364.3h1.0M40.0 364.3h1.0M55.0 364.3h1.0M84.1 364.3h1.0M89.1 364.3h2.0M102.1 364.3h2.0M134.1 364.3h1.0M139.1 364.3h1.0M149.1 364.3h1.0M171.2 364.3h1.0M181.2 364.3h1.0M38.0 367.7h1.0M66.0 367.7h1.0M77.1 367.7h1.0M100.1 367.7h1.0M114.1 367.7h1.0M124.1 367.7h1.0M143.1 367.7h1.0M151.1 367.7h1.0M179.2 367.7h1.0M30.0 371.1h2.0M45.0 371.1h1.0M59.0 371.1h1.0M68.0 371.1h1.0M72.1 371.1h1.0M77.1 371.1h1.0M92.1 371.1h2.0M100.1 371.1h1.0M107.1 371.1h1.0M132.1 371.1h1.0M164.2 371.1h1.0M173.2 371.1h1.0M196.2 371.1h1.0M33.0 374.5h1.0M108.1 374.5h1.0M124.1 374.5h1.0M134.1 374.5h1.0M136.1 374.5h1.0M143.1 374.5h1.0M150.1 374.5h1.0M158.2 374.5h1.0M170.2 374.5h1.0M35.0 377.9h1.0M41.0 377.9h1.0M56.0 377.9h1.0M58.0 377.9h2.0M67.0 377.9h2.0M74.1 377.9h1.0M88.1 377.9h1.0M107.1 377.9h1.0M114.1 377.9h1.0M121.1 377.9h1.0M136.1 377.9h1.0M173.2 377.9h1.0M180.2 377.9h2.0M196.2 377.9h1.0M46.0 381.3h1.0M56.0 381.3h2.0M74.1 381.3h1.0M78.1 381.3h1.0M85.1 381.3h1.0M90.1 381.3h1.0M98.1 381.3h1.0M119.1 381.3h1.0M124.1 381.3h1.0M134.1 381.3h1.0M143.1 381.3h1.0M153.1 381.3h1.0M166.2 381.3h1.0M170.2 381.3h1.0M175.2 381.3h1.0M181.2 381.3h1.0M190.2 381.3h1.0M193.2 381.3h1.0M37.0 384.7h1.0M53.0 384.7h1.0M89.1 384.7h1.0M95.1 384.7h3.0M147.1 384.7h1.0M158.2 384.7h1.0M174.2 384.7h1.0M177.2 384.7h1.0M183.2 384.7h1.0M32.0 388.1h2.0M37.0 388.1h1.0M50.0 388.1h1.0M56.0 388.1h1.0M67.0 388.1h1.0M77.1 388.1h1.0M94.1 388.1h1.0M112.1 388.1h1.0M117.1 388.1h2.0M126.1 388.1h1.0M181.2 388.1h1.0M196.2 388.1h1.0M38.0 391.5h1.0M53.0 391.5h1.0M58.0 391.5h1.0M65.0 391.5h1.0M85.1 391.5h1.0M96.1 391.5h2.0M149.1 391.5h1.0M154.1 391.5h1.0M175.2 391.5h1.0M60.0 394.9h1.0M78.1 394.9h1.0M93.1 394.9h1.0M112.1 394.9h1.0M124.1 394.9h1.0M142.1 394.9h1.0M167.2 394.9h1.0M173.2 394.9h1.0M176.2 394.9h1.0M33.0 398.3h1.0M39.0 398.3h1.0M53.0 398.3h1.0M60.0 398.3h2.0M73.1 398.3h1.0M92.1 398.3h1.0M95.1 398.3h1.0M98.1 398.3h1.0M104.1 398.3h1.0M109.1 398.3h1.0M117.1 398.3h1.0M176.2 398.3h1.0M189.2 398.3h1.0M191.2 398.3h1.0M31.0 401.7h1.0M38.0 401.7h1.0M48.0 401.7h2.0M72.1 401.7h1.0M75.1 401.7h2.0M79.1 401.7h1.0M82.1 401.7h1.0M87.1 401.7h1.0M95.1 401.7h1.0M117.1 401.7h1.0M130.1 401.7h2.0M194.2 401.7h1.0M36.0 405.1h1.0M59.0 405.1h1.0M68.0 405.1h1.0M73.1 405.1h1.0M95.1 405.1h2.0M99.1 405.1h1.0M109.1 405.1h1.0M113.1 405.1h1.0M117.1 405.1h1.0M136.1 405.1h1.0M152.1 405.1h1.0M159.2 405.1h1.0M163.2 405.1h2.0M29.0 408.5h1.0M51.0 408.5h1.0M61.0 408.5h1.0M70.0 408.5h1.0M75.1 408.5h1.0M80.1 408.5h1.0M98.1 408.5h1.0M102.1 408.5h1.0M117.1 408.5h1.0M130.1 408.5h1.0M145.1 408.5h1.0M147.1 408.5h1.0M161.2 408.5h1.0M170.2 408.5h1.0M186.2 408.5h1.0M188.2 408.5h1.0M39.0 411.9h1.0M41.0 411.9h1.0M65.0 411.9h1.0M68.0 411.9h1.0M98.1 411.9h1.0M105.1 411.9h1.0M112.1 411.9h2.0M123.1 411.9h1.0M130.1 411.9h1.0M135.1 411.9h1.0M138.1 411.9h1.0M149.1 411.9h1.0M165.2 411.9h1.0M190.2 411.9h1.0M37.0 415.3h1.0M58.0 415.3h1.0M66.0 415.3h2.0M70.0 415.3h1.0M75.1 415.3h1.0M101.1 415.3h1.0M131.1 415.3h1.0M135.1 415.3h1.0M146.1 415.3h1.0M157.2 415.3h1.0M160.2 415.3h1.0M197.2 415.3h1.0M54.0 418.7h2.0M78.1 418.7h1.0M113.1 418.7h1.0M137.1 418.7h1.0M140.1 418.7h1.0M147.1 418.7h1.0M158.2 418.7h1.0M186.2 418.7h1.0M190.2 418.7h1.0M192.2 418.7h1.0M29.0 422.1h1.0M66.0 422.1h1.0M68.0 422.1h1.0M94.1 422.1h1.0M107.1 422.1h2.0M111.1 422.1h1.0M121.1 422.1h1.0M123.1 422.1h1.0M134.1 422.1h1.0M140.1 422.1h1.0M152.1 422.1h1.0M175.2 422.1h1.0M177.2 422.1h1.0M186.2 422.1h1.0M39.0 425.5h1.0M45.0 425.5h1.0M59.0 425.5h1.0M70.0 425.5h1.0M77.1 425.5h1.0M87.1 425.5h1.0M96.1 425.5h1.0M122.1 425.5h1.0M132.1 425.5h1.0M134.1 425.5h2.0M145.1 425.5h1.0M155.1 425.5h1.0M172.2 425.5h1.0M183.2 425.5h1.0M191.2 425.5h1.0M45.0 428.9h1.0M66.0 428.9h1.0M70.0 428.9h1.0M77.1 428.9h1.0M88.1 428.9h1.0M92.1 428.9h1.0M96.1 428.9h1.0M98.1 428.9h1.0M101.1 428.9h1.0M108.1 428.9h1.0M120.1 428.9h1.0M127.1 428.9h1.0M154.1 428.9h1.0M164.2 428.9h1.0M174.2 428.9h1.0M187.2 428.9h1.0M41.0 432.3h1.0M51.0 432.3h1.0M71.0 432.3h1.0M77.1 432.3h1.0M86.1 432.3h1.0M92.1 432.3h1.0M115.1 432.3h1.0M120.1 432.3h1.0M129.1 432.3h1.0M146.1 432.3h1.0M160.2 432.3h1.0M172.2 432.3h1.0M174.2 432.3h1.0M33.0 435.7h1.0M38.0 435.7h1.0M59.0 435.7h1.0M86.1 435.7h2.0M91.1 435.7h1.0M103.1 435.7h1.0M106.1 435.7h1.0M110.1 435.7h1.0M125.1 435.7h1.0M129.1 435.7h1.0M144.1 435.7h1.0M148.1 435.7h1.0M158.2 435.7h1.0M171.2 435.7h3.0M187.2 435.7h1.0M33.0 439.1h1.0M37.0 439.1h1.0M43.0 439.1h1.0M68.0 439.1h1.0M78.1 439.1h1.0M108.1 439.1h1.0M148.1 439.1h1.0M156.2 439.1h1.0M166.2 439.1h1.0M33.0 442.5h1.0M57.0 442.5h1.0M66.0 442.5h1.0M85.1 442.5h1.0M123.1 442.5h1.0M129.1 442.5h1.0M132.1 442.5h1.0M158.2 442.5h1.0M166.2 442.5h1.0M177.2 442.5h1.0M187.2 442.5h2.0M191.2 442.5h1.0M194.2 442.5h1.0M31.0 445.9h1.0M44.0 445.9h1.0M54.0 445.9h3.0M58.0 445.9h1.0M67.0 445.9h1.0M92.1 445.9h1.0M95.1 445.9h1.0M103.1 445.9h2.0M106.1 445.9h1.0M109.1 445.9h2.0M114.1 445.9h1.0M119.1 445.9h1.0M123.1 445.9h1.0M129.1 445.9h1.0M131.1 445.9h2.0M135.1 445.9h1.0M137.1 445.9h1.0M139.1 445.9h1.0M142.1 445.9h1.0M195.2 445.9h1.0M30.0 449.3h2.0M53.0 449.3h1.0M63.0 449.3h1.0M85.1 449.3h4.0M90.1 449.3h2.0M119.1 449.3h1.0M121.1 449.3h1.0M133.1 449.3h1.0M180.2 449.3h2.0M184.2 449.3h1.0" stroke="#3f3a2a" stroke-width="3.45" fill="none"/>
<path d="M48.0 40.2h1.0M111.1 40.2h1.0M61.0 43.5h1.0M65.0 43.5h1.0M85.1 43.5h1.0M160.2 46.8h1.0M171.2 46.8h1.0M103.1 50.1h1.0M117.1 50.1h1.0M59.0 53.5h1.0M69.0 53.5h1.0M96.1 53.5h1.0M103.1 53.5h1.0M133.1 53.5h1.0M165.2 53.5h1.0M41.0 56.8h1.0M96.1 56.8h1.0M156.2 60.1h1.0M42.0 63.4h1.0M132.1 63.4h1.0M57.0 66.7h1.0M63.0 66.7h1.0M92.1 66.7h1.0M132.1 66.7h1.0M96.1 70.1h2.0M36.0 73.4h1.0M165.2 73.4h1.0M182.2 73.4h1.0M191.2 73.4h1.0M65.0 76.7h1.0M132.1 76.7h1.0M169.2 76.7h1.0M189.2 76.7h1.0M39.0 80.0h1.0M63.0 80.0h1.0M93.1 80.0h1.0M96.1 80.0h1.0M99.1 80.0h1.0M182.2 80.0h1.0M52.0 83.3h1.0M182.2 83.3h1.0M48.0 86.7h1.0M71.0 86.7h1.0M73.1 86.7h1.0M94.1 86.7h1.0M120.1 86.7h1.0M156.2 86.7h1.0M181.2 86.7h1.0M189.2 86.7h2.0M94.1 90.0h1.0M112.1 90.0h1.0M189.2 90.0h1.0M63.0 93.3h1.0M64.0 96.6h1.0M73.1 96.6h1.0M151.1 96.6h1.0M64.0 99.9h1.0M105.1 99.9h1.0M112.1 99.9h1.0M151.1 99.9h1.0M43.0 103.3h1.0M64.0 103.3h1.0M83.1 103.3h1.0M112.1 103.3h1.0M126.1 103.3h1.0M76.1 106.6h1.0M103.1 106.6h1.0M112.1 106.6h1.0M160.2 106.6h1.0M65.0 109.9h1.0M132.1 113.2h1.0M154.1 113.2h1.0M123.1 116.5h1.0M132.1 116.5h1.0M36.0 119.9h1.0M78.1 119.9h1.0M87.1 119.9h1.0M94.1 119.9h1.0M105.1 119.9h1.0M147.1 119.9h1.0M160.2 119.9h1.0M163.2 119.9h1.0M179.2 119.9h1.0M36.0 123.2h1.0M36.0 126.5h1.0M39.0 126.5h1.0M90.1 126.5h1.0M39.0 129.8h1.0M57.0 129.8h1.0M165.2 129.8h1.0M182.2 129.8h1.0M196.2 129.8h1.0M36.0 133.1h1.0M132.1 133.1h1.0M187.2 133.1h1.0M46.0 136.5h1.0M151.1 136.5h1.0M61.0 139.8h1.0M63.0 139.8h1.0M70.0 139.8h1.0M120.1 139.8h1.0M147.1 139.8h1.0M177.2 139.8h1.0M147.1 143.1h1.0M99.1 146.4h1.0M35.0 149.7h1.0M136.1 149.7h1.0M166.2 149.7h1.0M111.1 156.4h1.0M132.1 156.4h1.0M165.2 156.4h1.0M191.2 156.4h1.0M160.2 159.7h1.0M189.2 159.7h1.0M42.0 163.0h1.0M63.0 163.0h1.0M96.1 166.3h1.0M69.0 169.7h1.0M166.2 169.7h1.0M34.0 173.0h1.0M36.0 173.0h1.0M81.1 173.0h1.0M157.2 173.0h1.0M174.2 173.0h1.0M31.0 176.4h1.0M35.0 176.4h2.0M59.0 176.4h1.0M36.0 179.7h1.0M43.0 179.7h1.0M148.1 179.7h1.0M163.2 179.7h1.0M29.0 186.4h1.0M104.1 186.4h1.0M106.1 186.4h1.0M108.1 186.4h1.0M196.2 186.4h1.0M29.0 189.7h1.0M39.0 189.7h1.0M104.1 189.7h1.0M108.1 189.7h1.0M29.0 193.1h1.0M38.0 193.1h1.0M50.0 193.1h1.0M53.0 193.1h1.0M132.1 193.1h1.0M193.2 193.1h1.0M83.1 196.4h1.0M86.1 196.4h1.0M130.1 196.4h1.0M132.1 196.4h1.0M29.0 199.7h1.0M73.1 199.7h1.0M108.1 199.7h1.0M29.0 203.1h1.0M36.0 203.1h1.0M73.1 203.1h1.0M34.0 206.4h1.0M140.1 206.4h1.0M42.0 209.8h1.0M135.1 209.8h1.0M36.0 213.1h1.0M46.0 213.1h1.0M62.0 213.1h1.0M137.1 213.1h1.0M36.0 216.4h1.0M108.1 216.4h1.0M37.0 219.8h1.0M31.0 223.1h1.0M77.1 223.1h1.0M142.1 223.1h1.0M29.0 226.4h1.0M40.0 226.4h1.0M43.0 226.4h1.0M46.0 226.4h1.0M107.1 226.4h1.0M77.1 229.8h1.0M81.1 229.8h1.0M142.1 229.8h1.0M183.2 229.8h1.0M43.0 233.1h1.0M46.0 233.1h1.0M72.1 233.1h1.0M108.1 233.1h1.0M36.0 236.5h1.0M80.1 236.5h1.0M108.1 236.5h1.0M36.0 239.8h1.0M39.0 239.8h1.0M44.0 239.8h1.0M46.0 239.8h1.0M108.1 239.8h1.0M36.0 243.2h1.0M69.0 243.2h1.0M73.1 243.2h1.0M64.0 246.5h1.0M29.0 249.8h1.0M64.0 249.8h1.0M72.1 249.8h1.0M165.2 249.8h1.0M36.0 253.2h1.0M46.0 253.2h1.0M139.1 253.2h1.0M73.1 256.5h1.0M77.1 259.9h1.0M95.1 259.9h1.0M108.1 259.9h1.0M139.1 259.9h1.0M52.0 263.2h1.0M108.1 263.2h1.0M74.1 266.5h1.0M77.1 266.5h1.0M86.1 266.5h1.0M77.1 269.9h1.0M108.1 269.9h1.0M122.1 269.9h1.0M30.0 273.2h1.0M73.1 273.2h1.0M106.1 276.6h1.0M177.2 276.6h1.0M172.2 279.9h1.0M196.2 279.9h1.0M69.0 283.2h1.0M122.1 283.2h1.0M183.2 283.2h1.0M69.0 286.6h1.0M183.2 286.6h1.0M108.1 289.9h1.0M58.0 293.2h1.0M70.0 293.2h1.0M108.1 296.6h1.0M110.1 296.6h1.0M148.1 296.6h1.0M167.2 296.6h1.0M44.0 299.9h1.0M69.0 299.9h1.0M77.1 299.9h1.0M164.2 299.9h1.0M187.2 299.9h1.0M29.0 303.3h1.0M31.0 303.3h1.0M44.0 303.3h1.0M58.0 303.3h1.0M62.0 303.3h1.0M69.0 303.3h1.0M83.1 303.3h1.0M87.1 303.3h1.0M117.1 303.3h1.0M142.1 303.3h1.0M29.0 306.6h1.0M108.1 306.6h1.0M176.2 306.6h2.0M65.0 309.9h1.0M85.1 309.9h1.0M132.1 309.9h1.0M138.1 309.9h1.0M41.0 313.3h1.0M77.1 313.3h1.0M97.1 313.3h1.0M179.2 313.3h1.0M38.0 316.6h1.0M97.1 316.6h1.0M36.0 320.0h1.0M39.0 320.0h1.0M43.0 320.0h2.0M53.0 320.0h1.0M63.0 320.0h1.0M76.1 320.0h1.0M87.1 320.0h1.0M99.1 320.0h1.0M39.0 323.4h1.0M43.0 323.4h1.0M63.0 323.4h1.0M67.0 323.4h1.0M76.1 323.4h1.0M99.1 323.4h1.0M34.0 326.8h1.0M36.0 326.8h1.0M39.0 326.8h1.0M44.0 326.8h1.0M63.0 326.8h1.0M67.0 326.8h1.0M76.1 326.8h2.0M99.1 326.8h1.0M108.1 326.8h1.0M36.0 330.2h1.0M39.0 330.2h1.0M73.1 330.2h1.0M75.1 330.2h2.0M87.1 330.2h1.0M160.2 330.2h1.0M36.0 333.6h1.0M73.1 333.6h1.0M87.1 333.6h1.0M132.1 333.6h1.0M73.1 337.0h1.0M87.1 337.0h1.0M91.1 337.0h1.0M75.1 340.4h1.0M87.1 340.4h1.0M89.1 340.4h1.0M63.0 343.8h1.0M87.1 343.8h1.0M108.1 343.8h1.0M36.0 347.2h1.0M63.0 347.2h1.0M87.1 347.2h1.0M99.1 347.2h1.0M39.0 350.6h1.0M63.0 350.6h1.0M187.2 350.6h1.0M63.0 354.1h1.0M36.0 357.5h1.0M44.0 357.5h1.0M63.0 357.5h1.0M36.0 360.9h1.0M63.0 360.9h1.0M36.0 364.3h1.0M44.0 364.3h1.0M63.0 364.3h1.0M87.1 364.3h1.0M99.1 364.3h1.0M187.2 367.7h1.0M73.1 371.1h1.0M75.1 371.1h1.0M95.1 371.1h1.0M187.2 371.1h1.0M187.2 374.5h1.0M36.0 377.9h1.0M63.0 377.9h1.0M73.1 377.9h1.0M97.1 377.9h1.0M63.0 381.3h1.0M34.0 384.7h1.0M36.0 384.7h1.0M44.0 384.7h1.0M63.0 384.7h1.0M99.1 384.7h1.0M63.0 388.1h1.0M75.1 388.1h1.0M44.0 394.9h1.0M32.0 401.7h1.0M51.0 405.1h1.0M63.0 405.1h1.0M78.1 405.1h1.0M112.1 405.1h1.0M60.0 408.5h1.0M78.1 408.5h1.0M110.1 408.5h1.0M191.2 408.5h1.0M30.0 411.9h1.0M42.0 411.9h1.0M44.0 411.9h1.0M30.0 415.3h1.0M94.1 418.7h1.0M30.0 422.1h1.0M55.0 422.1h1.0M30.0 425.5h1.0M108.1 425.5h1.0M156.2 425.5h1.0M78.1 428.9h1.0M84.1 428.9h1.0M122.1 428.9h1.0M66.0 432.3h1.0M78.1 432.3h1.0M113.1 432.3h1.0M138.1 432.3h1.0M101.1 435.7h1.0M101.1 439.1h1.0M156.2 442.5h1.0M167.2 442.5h1.0M36.0 445.9h1.0M84.1 445.9h1.0M94.1 449.3h1.0M158.2 449.3h1.0" stroke="#aea45d" stroke-width="3.45" fill="none"/>
<path d="M38.0 36.9h1.0M103.1 36.9h1.0M132.1 36.9h1.0M160.2 36.9h1.0M187.2 36.9h1.0M39.0 40.2h1.0M59.0 40.2h1.0M98.1 40.2h1.0M102.1 40.2h1.0M121.1 40.2h1.0M144.1 40.2h1.0M181.2 40.2h1.0M56.0 43.5h2.0M112.1 43.5h1.0M140.1 43.5h1.0M144.1 43.5h1.0M187.2 43.5h1.0M189.2 43.5h1.0M41.0 46.8h1.0M57.0 46.8h1.0M66.0 46.8h1.0M84.1 46.8h1.0M112.1 46.8h1.0M116.1 46.8h1.0M156.2 46.8h1.0M161.2 46.8h1.0M61.0 50.1h1.0M71.0 50.1h1.0M93.1 50.1h1.0M132.1 50.1h2.0M171.2 50.1h1.0M176.2 50.1h1.0M31.0 53.5h1.0M37.0 53.5h1.0M57.0 53.5h1.0M71.0 53.5h1.0M75.1 53.5h1.0M85.1 53.5h1.0M145.1 53.5h1.0M166.2 53.5h1.0M185.2 53.5h1.0M46.0 56.8h1.0M64.0 56.8h1.0M69.0 56.8h1.0M136.1 56.8h1.0M151.1 56.8h1.0M158.2 56.8h1.0M182.2 56.8h1.0M46.0 60.1h1.0M78.1 60.1h1.0M83.1 60.1h2.0M90.1 60.1h1.0M97.1 60.1h1.0M101.1 60.1h1.0M105.1 60.1h1.0M142.1 60.1h1.0M153.1 60.1h1.0M32.0 63.4h1.0M48.0 63.4h1.0M63.0 63.4h1.0M65.0 63.4h1.0M85.1 63.4h1.0M92.1 63.4h1.0M96.1 63.4h1.0M133.1 63.4h1.0M156.2 63.4h1.0M163.2 63.4h1.0M41.0 66.7h1.0M83.1 66.7h1.0M97.1 66.7h1.0M101.1 66.7h1.0M111.1 66.7h1.0M155.1 66.7h1.0M35.0 70.1h1.0M43.0 70.1h1.0M55.0 70.1h1.0M57.0 70.1h1.0M75.1 70.1h1.0M86.1 70.1h1.0M132.1 70.1h1.0M188.2 70.1h1.0M31.0 73.4h1.0M35.0 73.4h1.0M80.1 73.4h1.0M96.1 73.4h2.0M102.1 73.4h1.0M120.1 73.4h1.0M147.1 73.4h1.0M160.2 73.4h1.0M170.2 73.4h1.0M57.0 76.7h2.0M63.0 76.7h2.0M68.0 76.7h1.0M75.1 76.7h2.0M91.1 76.7h1.0M102.1 76.7h2.0M126.1 76.7h1.0M147.1 76.7h1.0M156.2 76.7h1.0M182.2 76.7h1.0M37.0 80.0h1.0M97.1 80.0h1.0M106.1 80.0h1.0M121.1 80.0h1.0M132.1 80.0h1.0M169.2 80.0h1.0M185.2 80.0h1.0M31.0 83.3h1.0M47.0 83.3h1.0M54.0 83.3h2.0M63.0 83.3h1.0M96.1 83.3h1.0M117.1 83.3h1.0M160.2 83.3h1.0M165.2 83.3h1.0M186.2 83.3h1.0M31.0 86.7h1.0M42.0 86.7h1.0M50.0 86.7h1.0M52.0 86.7h1.0M54.0 86.7h2.0M59.0 86.7h1.0M63.0 86.7h1.0M68.0 86.7h1.0M80.1 86.7h1.0M84.1 86.7h1.0M144.1 86.7h1.0M147.1 86.7h1.0M165.2 86.7h1.0M31.0 90.0h1.0M36.0 90.0h1.0M68.0 90.0h1.0M71.0 90.0h1.0M73.1 90.0h1.0M84.1 90.0h1.0M123.1 90.0h1.0M130.1 90.0h1.0M132.1 90.0h1.0M156.2 90.0h1.0M165.2 90.0h1.0M169.2 90.0h1.0M188.2 90.0h1.0M36.0 93.3h1.0M68.0 93.3h1.0M73.1 93.3h1.0M94.1 93.3h1.0M153.1 93.3h1.0M165.2 93.3h1.0M42.0 96.6h1.0M68.0 96.6h1.0M104.1 96.6h1.0M132.1 96.6h2.0M144.1 96.6h1.0M152.1 96.6h1.0M182.2 96.6h1.0M42.0 99.9h1.0M55.0 99.9h1.0M73.1 99.9h1.0M90.1 99.9h1.0M94.1 99.9h1.0M104.1 99.9h1.0M106.1 99.9h1.0M122.1 99.9h1.0M182.2 99.9h1.0M196.2 99.9h1.0M65.0 103.3h1.0M76.1 103.3h1.0M135.1 103.3h1.0M188.2 103.3h1.0M39.0 106.6h1.0M58.0 106.6h1.0M66.0 106.6h1.0M77.1 106.6h1.0M98.1 106.6h1.0M100.1 106.6h1.0M104.1 106.6h2.0M140.1 106.6h1.0M68.0 109.9h1.0M76.1 109.9h1.0M154.1 109.9h1.0M171.2 109.9h1.0M182.2 109.9h1.0M189.2 109.9h1.0M30.0 113.2h1.0M36.0 113.2h1.0M42.0 113.2h1.0M68.0 113.2h1.0M71.0 113.2h1.0M74.1 113.2h1.0M80.1 113.2h1.0M83.1 113.2h1.0M86.1 113.2h1.0M145.1 113.2h2.0M182.2 113.2h1.0M196.2 113.2h1.0M74.1 116.5h1.0M85.1 116.5h1.0M94.1 116.5h1.0M147.1 116.5h1.0M159.2 116.5h1.0M182.2 116.5h1.0M33.0 119.9h1.0M41.0 119.9h1.0M48.0 119.9h1.0M59.0 119.9h1.0M66.0 119.9h1.0M68.0 119.9h1.0M80.1 119.9h1.0M93.1 119.9h1.0M96.1 119.9h1.0M132.1 119.9h1.0M143.1 119.9h1.0M150.1 119.9h1.0M159.2 119.9h1.0M166.2 119.9h1.0M171.2 119.9h1.0M177.2 119.9h1.0M182.2 119.9h1.0M33.0 123.2h1.0M65.0 123.2h1.0M94.1 123.2h1.0M122.1 123.2h1.0M160.2 123.2h1.0M163.2 123.2h1.0M165.2 123.2h1.0M170.2 123.2h2.0M175.2 123.2h1.0M177.2 123.2h1.0M183.2 123.2h1.0M57.0 126.5h1.0M64.0 126.5h2.0M92.1 126.5h1.0M94.1 126.5h1.0M112.1 126.5h1.0M116.1 126.5h1.0M145.1 126.5h1.0M165.2 126.5h1.0M182.2 126.5h1.0M36.0 129.8h1.0M70.0 129.8h1.0M86.1 129.8h1.0M90.1 129.8h1.0M93.1 129.8h1.0M116.1 129.8h1.0M158.2 129.8h1.0M189.2 129.8h1.0M29.0 133.1h1.0M44.0 133.1h1.0M47.0 133.1h1.0M86.1 133.1h1.0M99.1 133.1h1.0M105.1 133.1h1.0M181.2 133.1h1.0M32.0 136.5h1.0M36.0 136.5h1.0M154.1 136.5h1.0M175.2 136.5h1.0M181.2 136.5h1.0M36.0 139.8h1.0M58.0 139.8h1.0M81.1 139.8h1.0M83.1 139.8h1.0M98.1 139.8h1.0M117.1 139.8h1.0M155.1 139.8h1.0M160.2 139.8h1.0M166.2 139.8h1.0M193.2 139.8h1.0M36.0 143.1h1.0M58.0 143.1h1.0M94.1 143.1h1.0M108.1 143.1h1.0M112.1 143.1h1.0M116.1 143.1h1.0M165.2 143.1h1.0M35.0 146.4h1.0M40.0 146.4h1.0M56.0 146.4h1.0M94.1 146.4h1.0M96.1 146.4h2.0M106.1 146.4h1.0M151.1 146.4h1.0M165.2 146.4h1.0M175.2 146.4h1.0M187.2 146.4h1.0M48.0 149.7h1.0M94.1 149.7h1.0M96.1 149.7h1.0M105.1 149.7h1.0M116.1 149.7h1.0M135.1 149.7h1.0M142.1 149.7h1.0M160.2 149.7h1.0M165.2 149.7h1.0M52.0 153.1h1.0M120.1 153.1h1.0M136.1 153.1h1.0M142.1 153.1h1.0M189.2 153.1h1.0M191.2 153.1h1.0M31.0 156.4h1.0M33.0 156.4h1.0M52.0 156.4h1.0M87.1 156.4h1.0M96.1 156.4h1.0M101.1 156.4h1.0M103.1 156.4h1.0M121.1 156.4h1.0M126.1 156.4h1.0M135.1 156.4h1.0M160.2 156.4h1.0M189.2 156.4h1.0M36.0 159.7h1.0M40.0 159.7h1.0M42.0 159.7h1.0M63.0 159.7h3.0M78.1 159.7h1.0M96.1 159.7h1.0M135.1 159.7h1.0M146.1 159.7h1.0M161.2 159.7h1.0M190.2 159.7h2.0M65.0 163.0h1.0M94.1 163.0h1.0M96.1 163.0h1.0M117.1 163.0h1.0M120.1 163.0h1.0M122.1 163.0h1.0M140.1 163.0h1.0M160.2 163.0h1.0M122.1 166.3h1.0M46.0 169.7h1.0M81.1 169.7h1.0M86.1 169.7h1.0M118.1 169.7h1.0M147.1 169.7h1.0M167.2 169.7h1.0M172.2 169.7h1.0M59.0 173.0h1.0M85.1 173.0h1.0M122.1 173.0h1.0M184.2 173.0h1.0M196.2 173.0h1.0M34.0 176.4h1.0M77.1 176.4h1.0M81.1 176.4h1.0M95.1 176.4h1.0M99.1 176.4h1.0M132.1 176.4h1.0M155.1 176.4h1.0M184.2 176.4h1.0M34.0 179.7h2.0M95.1 179.7h1.0M151.1 179.7h1.0M168.2 179.7h1.0M30.0 183.0h1.0M57.0 183.0h1.0M86.1 183.0h1.0M94.1 183.0h1.0M137.1 183.0h1.0M148.1 183.0h1.0M151.1 183.0h1.0M197.2 183.0h1.0M31.0 186.4h3.0M39.0 186.4h1.0M121.1 186.4h1.0M124.1 186.4h1.0M133.1 186.4h1.0M139.1 186.4h1.0M148.1 186.4h1.0M31.0 189.7h1.0M50.0 189.7h1.0M53.0 189.7h1.0M59.0 189.7h1.0M77.1 189.7h2.0M131.1 189.7h1.0M142.1 189.7h1.0M153.1 189.7h1.0M167.2 189.7h1.0M176.2 189.7h1.0M35.0 193.1h1.0M37.0 193.1h1.0M39.0 193.1h1.0M49.0 193.1h1.0M55.0 193.1h1.0M59.0 193.1h1.0M96.1 193.1h1.0M119.1 193.1h1.0M131.1 193.1h1.0M140.1 193.1h1.0M161.2 193.1h1.0M179.2 193.1h1.0M194.2 193.1h1.0M29.0 196.4h1.0M36.0 196.4h1.0M52.0 196.4h1.0M70.0 196.4h1.0M74.1 196.4h1.0M78.1 196.4h1.0M95.1 196.4h2.0M105.1 196.4h1.0M118.1 196.4h1.0M126.1 196.4h1.0M39.0 199.7h1.0M77.1 199.7h1.0M84.1 199.7h1.0M153.1 199.7h1.0M35.0 203.1h1.0M108.1 203.1h1.0M66.0 206.4h1.0M80.1 206.4h2.0M87.1 206.4h1.0M90.1 206.4h2.0M93.1 206.4h1.0M98.1 206.4h1.0M103.1 206.4h1.0M106.1 206.4h1.0M109.1 206.4h1.0M121.1 206.4h1.0M124.1 206.4h1.0M135.1 206.4h1.0M148.1 206.4h1.0M151.1 206.4h1.0M36.0 209.8h1.0M39.0 209.8h1.0M43.0 209.8h4.0M88.1 209.8h1.0M93.1 209.8h1.0M98.1 209.8h1.0M137.1 209.8h1.0M151.1 209.8h1.0M165.2 209.8h1.0M172.2 209.8h1.0M59.0 213.1h1.0M77.1 213.1h1.0M83.1 213.1h1.0M93.1 213.1h1.0M100.1 213.1h1.0M108.1 213.1h1.0M193.2 213.1h1.0M43.0 216.4h1.0M128.1 216.4h1.0M136.1 216.4h1.0M34.0 219.8h1.0M40.0 219.8h1.0M74.1 219.8h1.0M83.1 219.8h1.0M112.1 219.8h1.0M119.1 219.8h1.0M139.1 219.8h1.0M142.1 219.8h1.0M151.1 219.8h1.0M179.2 219.8h1.0M29.0 223.1h1.0M72.1 223.1h1.0M115.1 223.1h1.0M119.1 223.1h1.0M129.1 223.1h1.0M158.2 223.1h1.0M39.0 226.4h1.0M41.0 226.4h1.0M50.0 226.4h1.0M153.1 226.4h1.0M176.2 226.4h1.0M183.2 226.4h1.0M29.0 229.8h1.0M43.0 229.8h1.0M83.1 229.8h1.0M90.1 229.8h1.0M96.1 229.8h1.0M107.1 229.8h1.0M121.1 229.8h1.0M132.1 229.8h1.0M153.1 229.8h1.0M30.0 233.1h2.0M36.0 233.1h1.0M42.0 233.1h1.0M44.0 233.1h1.0M77.1 233.1h1.0M82.1 233.1h1.0M100.1 233.1h1.0M121.1 233.1h1.0M142.1 233.1h1.0M177.2 233.1h1.0M31.0 236.5h1.0M39.0 236.5h1.0M43.0 236.5h1.0M46.0 236.5h1.0M49.0 236.5h1.0M142.1 236.5h1.0M161.2 236.5h1.0M167.2 236.5h1.0M177.2 236.5h1.0M179.2 236.5h1.0M187.2 236.5h1.0M66.0 239.8h1.0M100.1 239.8h1.0M104.1 239.8h1.0M137.1 239.8h1.0M183.2 239.8h1.0M29.0 243.2h1.0M31.0 243.2h1.0M64.0 243.2h1.0M87.1 243.2h1.0M130.1 243.2h1.0M150.1 243.2h1.0M66.0 246.5h1.0M69.0 246.5h1.0M73.1 246.5h1.0M94.1 246.5h1.0M99.1 246.5h1.0M104.1 246.5h1.0M132.1 246.5h1.0M150.1 246.5h1.0M31.0 249.8h1.0M33.0 249.8h1.0M73.1 249.8h1.0M91.1 249.8h1.0M100.1 249.8h1.0M108.1 249.8h1.0M132.1 249.8h1.0M150.1 249.8h1.0M187.2 249.8h1.0M195.2 249.8h1.0M29.0 253.2h1.0M34.0 253.2h1.0M37.0 253.2h2.0M43.0 253.2h1.0M73.1 253.2h1.0M77.1 253.2h1.0M82.1 253.2h1.0M90.1 253.2h1.0M108.1 253.2h1.0M122.1 253.2h1.0M132.1 253.2h1.0M135.1 253.2h1.0M137.1 253.2h1.0M187.2 253.2h1.0M194.2 253.2h1.0M34.0 256.5h1.0M61.0 256.5h2.0M70.0 256.5h2.0M90.1 256.5h1.0M132.1 256.5h1.0M139.1 256.5h1.0M150.1 256.5h2.0M166.2 256.5h1.0M29.0 259.9h1.0M44.0 259.9h1.0M78.1 259.9h1.0M88.1 259.9h1.0M93.1 259.9h1.0M107.1 259.9h1.0M154.1 259.9h1.0M195.2 259.9h1.0M58.0 263.2h1.0M73.1 263.2h1.0M129.1 263.2h1.0M52.0 266.5h1.0M65.0 266.5h1.0M132.1 266.5h1.0M148.1 266.5h1.0M169.2 266.5h2.0M185.2 266.5h2.0M66.0 269.9h1.0M74.1 269.9h1.0M131.1 269.9h1.0M140.1 269.9h1.0M196.2 269.9h1.0M36.0 273.2h2.0M100.1 273.2h1.0M112.1 273.2h1.0M154.1 273.2h1.0M187.2 273.2h1.0M30.0 276.6h1.0M39.0 276.6h1.0M43.0 276.6h1.0M93.1 276.6h1.0M103.1 276.6h1.0M160.2 276.6h1.0M162.2 276.6h1.0M36.0 279.9h2.0M101.1 279.9h1.0M105.1 279.9h1.0M160.2 279.9h1.0M177.2 279.9h1.0M195.2 279.9h1.0M101.1 283.2h1.0M106.1 283.2h1.0M108.1 283.2h1.0M120.1 283.2h1.0M125.1 283.2h1.0M132.1 283.2h1.0M151.1 283.2h1.0M178.2 283.2h1.0M196.2 283.2h1.0M77.1 286.6h1.0M85.1 286.6h1.0M104.1 286.6h1.0M106.1 286.6h1.0M39.0 289.9h1.0M100.1 289.9h1.0M104.1 289.9h1.0M114.1 289.9h1.0M34.0 293.2h1.0M44.0 293.2h1.0M56.0 293.2h1.0M62.0 293.2h1.0M103.1 293.2h1.0M108.1 293.2h1.0M129.1 293.2h1.0M138.1 293.2h1.0M148.1 293.2h1.0M153.1 293.2h1.0M170.2 293.2h1.0M31.0 296.6h1.0M44.0 296.6h1.0M46.0 296.6h1.0M87.1 296.6h1.0M95.1 296.6h1.0M98.1 296.6h1.0M102.1 296.6h3.0M113.1 296.6h1.0M138.1 296.6h1.0M153.1 296.6h1.0M163.2 296.6h1.0M59.0 299.9h1.0M64.0 299.9h1.0M87.1 299.9h1.0M95.1 299.9h1.0M103.1 299.9h1.0M107.1 299.9h2.0M114.1 299.9h1.0M145.1 299.9h1.0M153.1 299.9h1.0M169.2 299.9h1.0M177.2 299.9h1.0M197.2 299.9h1.0M34.0 303.3h1.0M39.0 303.3h1.0M52.0 303.3h2.0M65.0 303.3h1.0M70.0 303.3h1.0M77.1 303.3h1.0M82.1 303.3h1.0M85.1 303.3h1.0M122.1 303.3h1.0M152.1 303.3h1.0M157.2 303.3h1.0M166.2 303.3h1.0M195.2 303.3h1.0M30.0 306.6h1.0M44.0 306.6h1.0M58.0 306.6h1.0M62.0 306.6h1.0M69.0 306.6h1.0M110.1 306.6h1.0M117.1 306.6h1.0M122.1 306.6h1.0M132.1 306.6h1.0M152.1 306.6h1.0M166.2 306.6h1.0M183.2 306.6h1.0M41.0 309.9h1.0M43.0 309.9h1.0M108.1 309.9h1.0M120.1 309.9h2.0M129.1 309.9h1.0M133.1 309.9h1.0M164.2 309.9h1.0M29.0 313.3h1.0M44.0 313.3h1.0M65.0 313.3h1.0M73.1 313.3h1.0M80.1 313.3h1.0M149.1 313.3h1.0M171.2 313.3h1.0M77.1 316.6h1.0M90.1 316.6h1.0M96.1 316.6h1.0M100.1 316.6h1.0M154.1 316.6h1.0M161.2 316.6h1.0M171.2 316.6h1.0M177.2 316.6h1.0M33.0 320.0h2.0M46.0 320.0h1.0M84.1 320.0h1.0M88.1 320.0h1.0M91.1 320.0h1.0M96.1 320.0h1.0M118.1 320.0h1.0M134.1 320.0h1.0M190.2 320.0h1.0M30.0 323.4h1.0M36.0 323.4h1.0M44.0 323.4h1.0M46.0 323.4h1.0M50.0 323.4h1.0M57.0 323.4h2.0M72.1 323.4h1.0M77.1 323.4h1.0M81.1 323.4h1.0M96.1 323.4h2.0M126.1 323.4h1.0M132.1 323.4h1.0M156.2 323.4h1.0M160.2 323.4h1.0M43.0 326.8h1.0M46.0 326.8h1.0M65.0 326.8h1.0M72.1 326.8h2.0M75.1 326.8h1.0M87.1 326.8h1.0M89.1 326.8h3.0M97.1 326.8h2.0M101.1 326.8h1.0M132.1 326.8h1.0M156.2 326.8h1.0M160.2 326.8h2.0M187.2 326.8h1.0M34.0 330.2h1.0M43.0 330.2h2.0M46.0 330.2h1.0M56.0 330.2h1.0M60.0 330.2h1.0M63.0 330.2h1.0M82.1 330.2h1.0M84.1 330.2h2.0M89.1 330.2h1.0M108.1 330.2h1.0M156.2 330.2h1.0M177.2 330.2h1.0M187.2 330.2h1.0M39.0 333.6h1.0M43.0 333.6h1.0M46.0 333.6h1.0M57.0 333.6h1.0M75.1 333.6h2.0M96.1 333.6h1.0M103.1 333.6h1.0M107.1 333.6h1.0M117.1 333.6h1.0M143.1 333.6h1.0M156.2 333.6h1.0M187.2 333.6h1.0M36.0 337.0h1.0M57.0 337.0h2.0M63.0 337.0h1.0M75.1 337.0h1.0M88.1 337.0h1.0M101.1 337.0h1.0M187.2 337.0h1.0M34.0 340.4h1.0M63.0 340.4h1.0M67.0 340.4h1.0M73.1 340.4h1.0M101.1 340.4h1.0M174.2 340.4h1.0M187.2 340.4h1.0M34.0 343.8h1.0M36.0 343.8h1.0M89.1 343.8h1.0M99.1 343.8h1.0M101.1 343.8h1.0M187.2 343.8h1.0M190.2 343.8h1.0M44.0 347.2h1.0M71.0 347.2h1.0M73.1 347.2h1.0M76.1 347.2h1.0M101.1 347.2h2.0M36.0 350.6h1.0M44.0 350.6h2.0M75.1 350.6h2.0M90.1 350.6h2.0M99.1 350.6h1.0M104.1 350.6h1.0M150.1 350.6h1.0M44.0 354.1h1.0M75.1 354.1h1.0M87.1 354.1h1.0M91.1 354.1h1.0M99.1 354.1h1.0M118.1 354.1h1.0M123.1 354.1h1.0M177.2 354.1h1.0M187.2 354.1h1.0M39.0 357.5h1.0M49.0 357.5h1.0M56.0 357.5h1.0M72.1 357.5h2.0M87.1 357.5h1.0M101.1 357.5h1.0M119.1 357.5h1.0M143.1 357.5h1.0M42.0 360.9h1.0M44.0 360.9h1.0M58.0 360.9h1.0M76.1 360.9h1.0M119.1 360.9h1.0M34.0 364.3h1.0M39.0 364.3h1.0M45.0 364.3h1.0M56.0 364.3h2.0M73.1 364.3h1.0M75.1 364.3h2.0M101.1 364.3h1.0M132.1 364.3h1.0M156.2 364.3h1.0M169.2 364.3h2.0M182.2 364.3h1.0M63.0 367.7h1.0M73.1 367.7h1.0M87.1 367.7h1.0M91.1 367.7h1.0M123.1 367.7h1.0M132.1 367.7h1.0M160.2 367.7h1.0M169.2 367.7h1.0M34.0 371.1h1.0M36.0 371.1h1.0M39.0 371.1h1.0M56.0 371.1h1.0M63.0 371.1h1.0M67.0 371.1h1.0M91.1 371.1h1.0M101.1 371.1h1.0M36.0 374.5h1.0M63.0 374.5h1.0M67.0 374.5h1.0M73.1 374.5h1.0M84.1 374.5h1.0M87.1 374.5h1.0M89.1 374.5h1.0M91.1 374.5h1.0M95.1 374.5h1.0M99.1 374.5h1.0M103.1 374.5h1.0M118.1 374.5h1.0M156.2 374.5h1.0M169.2 374.5h1.0M39.0 377.9h1.0M44.0 377.9h1.0M118.1 377.9h1.0M182.2 377.9h1.0M187.2 377.9h1.0M190.2 377.9h1.0M39.0 381.3h1.0M71.0 381.3h1.0M73.1 381.3h1.0M76.1 381.3h1.0M87.1 381.3h1.0M104.1 381.3h1.0M108.1 381.3h1.0M187.2 381.3h1.0M30.0 384.7h1.0M38.0 384.7h2.0M60.0 384.7h1.0M73.1 384.7h1.0M117.1 384.7h1.0M132.1 384.7h1.0M149.1 384.7h1.0M164.2 384.7h1.0M193.2 384.7h1.0M30.0 388.1h1.0M34.0 388.1h1.0M36.0 388.1h1.0M44.0 388.1h1.0M73.1 388.1h1.0M76.1 388.1h1.0M83.1 388.1h1.0M87.1 388.1h1.0M89.1 388.1h2.0M98.1 388.1h2.0M101.1 388.1h1.0M103.1 388.1h1.0M108.1 388.1h1.0M119.1 388.1h1.0M123.1 388.1h1.0M134.1 388.1h1.0M37.0 391.5h1.0M44.0 391.5h1.0M47.0 391.5h1.0M55.0 391.5h1.0M66.0 391.5h1.0M126.1 391.5h1.0M29.0 394.9h2.0M63.0 394.9h1.0M70.0 394.9h1.0M101.1 394.9h1.0M152.1 394.9h1.0M182.2 394.9h1.0M184.2 394.9h1.0M54.0 398.3h1.0M63.0 398.3h1.0M83.1 398.3h1.0M101.1 398.3h1.0M136.1 398.3h1.0M40.0 401.7h1.0M54.0 401.7h1.0M63.0 401.7h1.0M78.1 401.7h1.0M83.1 401.7h1.0M101.1 401.7h1.0M109.1 401.7h1.0M123.1 401.7h1.0M138.1 401.7h1.0M147.1 401.7h1.0M40.0 405.1h1.0M46.0 405.1h1.0M101.1 405.1h1.0M105.1 405.1h2.0M108.1 405.1h1.0M122.1 405.1h1.0M30.0 408.5h2.0M40.0 408.5h1.0M63.0 408.5h1.0M76.1 408.5h1.0M136.1 408.5h1.0M31.0 411.9h1.0M47.0 411.9h1.0M63.0 411.9h1.0M78.1 411.9h1.0M147.1 411.9h1.0M132.1 415.3h1.0M39.0 418.7h1.0M63.0 418.7h1.0M83.1 418.7h1.0M39.0 422.1h2.0M42.0 422.1h1.0M44.0 422.1h1.0M47.0 422.1h1.0M51.0 422.1h1.0M63.0 422.1h1.0M83.1 422.1h1.0M95.1 422.1h1.0M130.1 422.1h1.0M146.1 422.1h1.0M182.2 422.1h1.0M191.2 422.1h1.0M51.0 425.5h1.0M78.1 425.5h1.0M101.1 425.5h1.0M109.1 425.5h1.0M150.1 425.5h1.0M75.1 428.9h1.0M91.1 428.9h1.0M93.1 428.9h1.0M110.1 428.9h1.0M30.0 432.3h1.0M84.1 432.3h1.0M99.1 432.3h1.0M108.1 432.3h1.0M114.1 432.3h1.0M117.1 432.3h1.0M122.1 432.3h1.0M136.1 432.3h1.0M42.0 435.7h1.0M47.0 435.7h1.0M51.0 435.7h1.0M66.0 435.7h1.0M77.1 435.7h1.0M126.1 435.7h1.0M54.0 439.1h1.0M75.1 439.1h1.0M122.1 439.1h1.0M135.1 439.1h1.0M177.2 439.1h1.0M51.0 442.5h1.0M94.1 442.5h1.0M112.1 442.5h1.0M32.0 445.9h1.0M39.0 445.9h1.0M75.1 445.9h1.0M94.1 445.9h1.0M96.1 445.9h1.0M138.1 445.9h1.0M152.1 445.9h1.0M156.2 445.9h1.0M191.2 445.9h1.0M99.1 449.3h1.0M156.2 449.3h1.0M167.2 449.3h1.0M175.2 449.3h1.0M191.2 449.3h1.0" stroke="#877e4b" stroke-width="3.45" fill="none"/>
<path d="M95.1 36.9h1.0M126.1 36.9h1.0M137.1 36.9h1.0M192.2 36.9h1.0M197.2 36.9h1.0M126.1 40.2h1.0M137.1 40.2h1.0M146.1 40.2h1.0M192.2 40.2h1.0M197.2 40.2h1.0M197.2 43.5h1.0M102.1 46.8h1.0M114.1 46.8h1.0M192.2 46.8h1.0M50.0 50.1h1.0M95.1 50.1h1.0M137.1 50.1h1.0M163.2 50.1h1.0M192.2 50.1h1.0M195.2 50.1h1.0M50.0 53.5h1.0M114.1 53.5h1.0M148.1 53.5h1.0M195.2 53.5h1.0M60.0 56.8h1.0M114.1 56.8h1.0M124.1 56.8h1.0M195.2 56.8h1.0M72.1 60.1h1.0M126.1 60.1h1.0M137.1 60.1h1.0M141.1 60.1h1.0M107.1 63.4h1.0M141.1 63.4h1.0M165.2 63.4h1.0M128.1 66.7h1.0M141.1 66.7h1.0M128.1 70.1h1.0M143.1 70.1h1.0M192.2 70.1h1.0M110.1 73.4h1.0M115.1 73.4h1.0M172.2 73.4h1.0M176.2 73.4h1.0M131.1 76.7h1.0M162.2 76.7h1.0M135.1 80.0h1.0M137.1 80.0h1.0M137.1 83.3h1.0M180.2 83.3h1.0M43.0 86.7h1.0M77.1 86.7h1.0M110.1 86.7h1.0M43.0 90.0h1.0M60.0 90.0h1.0M74.1 93.3h1.0M86.1 93.3h1.0M95.1 93.3h1.0M125.1 93.3h1.0M159.2 93.3h1.0M125.1 96.6h1.0M159.2 96.6h1.0M67.0 99.9h1.0M87.1 99.9h1.0M114.1 99.9h1.0M128.1 99.9h1.0M37.0 106.6h1.0M49.0 106.6h1.0M141.1 106.6h1.0M37.0 109.9h1.0M49.0 109.9h1.0M141.1 109.9h1.0M55.0 113.2h1.0M91.1 113.2h1.0M110.1 113.2h1.0M130.1 113.2h1.0M137.1 113.2h1.0M173.2 113.2h1.0M37.0 116.5h1.0M55.0 116.5h1.0M60.0 116.5h1.0M70.0 116.5h1.0M107.1 116.5h1.0M128.1 116.5h1.0M137.1 116.5h1.0M178.2 116.5h1.0M107.1 119.9h1.0M119.1 119.9h1.0M154.1 119.9h1.0M193.2 119.9h1.0M74.1 123.2h1.0M82.1 123.2h2.0M93.1 123.2h1.0M195.2 123.2h1.0M128.1 126.5h1.0M193.2 126.5h1.0M195.2 126.5h1.0M34.0 129.8h1.0M107.1 129.8h1.0M110.1 129.8h1.0M124.1 129.8h1.0M178.2 129.8h1.0M111.1 133.1h1.0M114.1 133.1h1.0M191.2 133.1h1.0M195.2 133.1h1.0M114.1 136.5h1.0M142.1 136.5h1.0M163.2 139.8h1.0M89.1 143.1h1.0M185.2 143.1h1.0M195.2 143.1h1.0M88.1 146.4h1.0M130.1 146.4h1.0M186.2 146.4h1.0M193.2 146.4h2.0M68.0 149.7h1.0M72.1 149.7h1.0M88.1 149.7h1.0M140.1 149.7h1.0M110.1 153.1h1.0M155.1 153.1h1.0M164.2 153.1h1.0M186.2 153.1h1.0M57.0 156.4h1.0M72.1 156.4h1.0M76.1 156.4h1.0M166.2 156.4h1.0M114.1 159.7h1.0M127.1 159.7h1.0M110.1 163.0h1.0M123.1 163.0h1.0M179.2 163.0h1.0M67.0 166.3h1.0M110.1 166.3h1.0M137.1 166.3h1.0M192.2 166.3h1.0M105.1 169.7h1.0M127.1 169.7h1.0M155.1 169.7h1.0M185.2 169.7h1.0M189.2 169.7h1.0M195.2 169.7h1.0M197.2 169.7h1.0M47.0 173.0h1.0M61.0 173.0h1.0M68.0 173.0h1.0M113.1 173.0h2.0M127.1 173.0h1.0M133.1 173.0h1.0M164.2 173.0h1.0M185.2 173.0h1.0M189.2 173.0h1.0M47.0 176.4h1.0M124.1 176.4h2.0M159.2 176.4h1.0M169.2 176.4h1.0M185.2 176.4h1.0M197.2 176.4h1.0M51.0 179.7h1.0M124.1 179.7h1.0M141.1 179.7h1.0M143.1 179.7h1.0M162.2 179.7h1.0M197.2 179.7h1.0M159.2 183.0h1.0M162.2 183.0h1.0M169.2 183.0h1.0M174.2 183.0h1.0M47.0 186.4h1.0M49.0 186.4h1.0M54.0 186.4h1.0M102.1 186.4h1.0M130.1 186.4h1.0M141.1 186.4h1.0M173.2 186.4h1.0M184.2 186.4h1.0M186.2 186.4h1.0M186.2 189.7h1.0M92.1 193.1h1.0M141.1 193.1h1.0M40.0 196.4h1.0M47.0 196.4h1.0M71.0 196.4h1.0M115.1 196.4h1.0M171.2 196.4h1.0M174.2 196.4h1.0M188.2 196.4h1.0M195.2 196.4h1.0M38.0 199.7h1.0M49.0 199.7h1.0M102.1 199.7h1.0M117.1 199.7h1.0M174.2 199.7h1.0M185.2 199.7h1.0M102.1 203.1h1.0M143.1 203.1h1.0M159.2 203.1h1.0M166.2 203.1h1.0M102.1 206.4h1.0M186.2 206.4h1.0M114.1 209.8h2.0M174.2 209.8h1.0M179.2 209.8h1.0M186.2 209.8h1.0M197.2 209.8h1.0M49.0 213.1h1.0M51.0 213.1h1.0M57.0 216.4h1.0M102.1 216.4h1.0M164.2 216.4h1.0M181.2 216.4h1.0M102.1 219.8h1.0M186.2 219.8h1.0M41.0 223.1h2.0M92.1 223.1h1.0M162.2 226.4h2.0M55.0 229.8h1.0M105.1 229.8h1.0M115.1 229.8h2.0M141.1 229.8h1.0M159.2 229.8h1.0M162.2 229.8h1.0M189.2 229.8h1.0M60.0 233.1h1.0M150.1 233.1h1.0M162.2 233.1h1.0M165.2 233.1h1.0M175.2 233.1h1.0M182.2 233.1h1.0M186.2 233.1h1.0M45.0 236.5h1.0M102.1 236.5h1.0M116.1 236.5h1.0M128.1 236.5h1.0M134.1 236.5h1.0M141.1 236.5h1.0M160.2 236.5h1.0M178.2 236.5h1.0M182.2 236.5h1.0M184.2 236.5h1.0M112.1 239.8h2.0M127.1 239.8h1.0M45.0 243.2h1.0M68.0 243.2h1.0M121.1 243.2h1.0M175.2 243.2h1.0M45.0 246.5h1.0M125.1 246.5h1.0M128.1 246.5h1.0M175.2 246.5h1.0M49.0 249.8h1.0M128.1 249.8h1.0M162.2 249.8h1.0M185.2 249.8h1.0M93.1 253.2h1.0M96.1 253.2h1.0M180.2 253.2h1.0M185.2 253.2h2.0M189.2 253.2h1.0M48.0 256.5h1.0M161.2 256.5h1.0M189.2 256.5h1.0M53.0 263.2h1.0M55.0 263.2h1.0M64.0 263.2h1.0M128.1 263.2h1.0M173.2 263.2h1.0M183.2 263.2h1.0M197.2 263.2h1.0M109.1 266.5h1.0M119.1 266.5h1.0M126.1 266.5h2.0M38.0 269.9h1.0M105.1 269.9h1.0M109.1 269.9h1.0M127.1 269.9h1.0M79.1 273.2h1.0M83.1 273.2h1.0M159.2 273.2h1.0M172.2 273.2h1.0M83.1 276.6h1.0M159.2 276.6h1.0M32.0 279.9h1.0M83.1 279.9h1.0M143.1 283.2h1.0M42.0 286.6h1.0M49.0 286.6h1.0M94.1 286.6h1.0M156.2 286.6h1.0M40.0 289.9h1.0M49.0 289.9h1.0M71.0 289.9h1.0M74.1 289.9h1.0M113.1 289.9h1.0M141.1 289.9h1.0M159.2 289.9h1.0M59.0 293.2h1.0M159.2 293.2h1.0M162.2 293.2h1.0M143.1 296.6h1.0M159.2 296.6h1.0M179.2 296.6h1.0M183.2 296.6h1.0M190.2 296.6h1.0M133.1 299.9h1.0M141.1 299.9h1.0M190.2 299.9h1.0M109.1 303.3h1.0M76.1 306.6h1.0M105.1 306.6h1.0M49.0 309.9h1.0M155.1 313.3h1.0M197.2 313.3h1.0M60.0 316.6h1.0M110.1 316.6h1.0M116.1 316.6h1.0M123.1 316.6h1.0M182.2 316.6h1.0M197.2 316.6h1.0M110.1 320.0h1.0M116.1 320.0h1.0M128.1 320.0h1.0M141.1 320.0h1.0M152.1 320.0h2.0M155.1 320.0h1.0M110.1 323.4h1.0M141.1 323.4h1.0M152.1 323.4h1.0M155.1 323.4h1.0M176.2 323.4h1.0M110.1 326.8h1.0M141.1 326.8h1.0M152.1 326.8h1.0M176.2 326.8h1.0M184.2 326.8h2.0M106.1 330.2h1.0M109.1 330.2h2.0M120.1 330.2h1.0M138.1 330.2h1.0M141.1 330.2h1.0M152.1 330.2h1.0M155.1 330.2h1.0M185.2 330.2h1.0M138.1 333.6h1.0M152.1 333.6h1.0M157.2 333.6h1.0M189.2 333.6h1.0M195.2 333.6h1.0M109.1 337.0h2.0M115.1 337.0h1.0M125.1 337.0h1.0M128.1 337.0h1.0M137.1 337.0h1.0M152.1 337.0h1.0M157.2 337.0h1.0M165.2 337.0h1.0M189.2 337.0h1.0M195.2 337.0h1.0M128.1 340.4h1.0M138.1 340.4h1.0M165.2 340.4h1.0M52.0 343.8h1.0M61.0 343.8h1.0M110.1 343.8h1.0M116.1 343.8h1.0M137.1 343.8h2.0M152.1 343.8h1.0M178.2 343.8h1.0M185.2 343.8h1.0M40.0 347.2h1.0M138.1 347.2h1.0M144.1 347.2h1.0M152.1 347.2h1.0M155.1 347.2h1.0M165.2 347.2h2.0M176.2 347.2h1.0M184.2 347.2h1.0M189.2 347.2h1.0M116.1 350.6h1.0M128.1 350.6h1.0M138.1 350.6h1.0M141.1 350.6h1.0M152.1 350.6h1.0M155.1 350.6h1.0M172.2 350.6h1.0M184.2 350.6h1.0M54.0 354.1h1.0M74.1 354.1h1.0M109.1 354.1h2.0M128.1 354.1h1.0M137.1 354.1h1.0M141.1 354.1h1.0M144.1 354.1h1.0M152.1 354.1h2.0M155.1 354.1h1.0M163.2 354.1h1.0M189.2 354.1h1.0M195.2 354.1h1.0M54.0 357.5h1.0M80.1 357.5h1.0M109.1 357.5h2.0M127.1 357.5h1.0M137.1 357.5h1.0M141.1 357.5h1.0M151.1 357.5h2.0M155.1 357.5h1.0M157.2 357.5h1.0M159.2 357.5h1.0M178.2 357.5h1.0M194.2 357.5h2.0M79.1 360.9h1.0M94.1 360.9h1.0M109.1 360.9h2.0M152.1 360.9h1.0M155.1 360.9h1.0M159.2 360.9h1.0M163.2 360.9h1.0M178.2 360.9h1.0M195.2 360.9h1.0M110.1 364.3h1.0M138.1 364.3h1.0M155.1 364.3h1.0M163.2 364.3h1.0M195.2 364.3h1.0M29.0 367.7h1.0M110.1 367.7h1.0M116.1 367.7h1.0M137.1 367.7h1.0M141.1 367.7h1.0M155.1 367.7h1.0M185.2 367.7h1.0M195.2 367.7h1.0M64.0 371.1h1.0M109.1 371.1h2.0M113.1 371.1h1.0M137.1 371.1h1.0M155.1 371.1h1.0M168.2 371.1h1.0M185.2 371.1h1.0M189.2 371.1h1.0M47.0 374.5h1.0M128.1 374.5h1.0M155.1 374.5h1.0M54.0 377.9h1.0M141.1 377.9h1.0M116.1 381.3h1.0M128.1 381.3h1.0M133.1 381.3h1.0M137.1 381.3h1.0M155.1 381.3h1.0M185.2 381.3h1.0M189.2 381.3h1.0M194.2 381.3h2.0M80.1 384.7h1.0M109.1 384.7h1.0M127.1 384.7h1.0M138.1 384.7h1.0M144.1 384.7h1.0M152.1 384.7h1.0M155.1 384.7h1.0M176.2 384.7h1.0M195.2 384.7h1.0M61.0 388.1h1.0M109.1 388.1h2.0M115.1 388.1h1.0M127.1 388.1h1.0M137.1 388.1h1.0M141.1 388.1h1.0M152.1 388.1h2.0M155.1 388.1h1.0M176.2 388.1h1.0M100.1 391.5h1.0M116.1 391.5h1.0M118.1 391.5h1.0M133.1 391.5h1.0M143.1 391.5h2.0M188.2 391.5h1.0M100.1 394.9h1.0M128.1 394.9h1.0M116.1 398.3h1.0M144.1 398.3h1.0M165.2 398.3h1.0M93.1 401.7h1.0M121.1 401.7h1.0M146.1 401.7h1.0M161.2 401.7h1.0M186.2 401.7h1.0M45.0 405.1h1.0M50.0 405.1h1.0M69.0 405.1h1.0M118.1 405.1h1.0M162.2 405.1h1.0M192.2 405.1h1.0M196.2 405.1h1.0M45.0 408.5h1.0M50.0 408.5h1.0M100.1 408.5h1.0M103.1 408.5h1.0M111.1 408.5h1.0M115.1 408.5h1.0M118.1 408.5h1.0M125.1 408.5h1.0M131.1 408.5h1.0M143.1 408.5h1.0M150.1 408.5h1.0M162.2 408.5h1.0M196.2 408.5h1.0M45.0 411.9h1.0M62.0 411.9h1.0M70.0 411.9h2.0M82.1 411.9h1.0M97.1 411.9h1.0M168.2 411.9h1.0M186.2 411.9h1.0M195.2 411.9h1.0M35.0 415.3h1.0M79.1 415.3h1.0M82.1 415.3h1.0M155.1 415.3h1.0M182.2 415.3h1.0M190.2 415.3h1.0M195.2 415.3h1.0M35.0 418.7h1.0M60.0 418.7h1.0M69.0 418.7h1.0M100.1 418.7h1.0M114.1 418.7h3.0M123.1 418.7h1.0M155.1 418.7h1.0M180.2 418.7h1.0M195.2 418.7h1.0M163.2 422.1h1.0M74.1 425.5h1.0M89.1 425.5h1.0M118.1 425.5h1.0M124.1 425.5h1.0M137.1 425.5h1.0M185.2 425.5h1.0M187.2 425.5h1.0M189.2 425.5h1.0M48.0 428.9h1.0M72.1 428.9h1.0M74.1 428.9h1.0M85.1 428.9h1.0M131.1 428.9h1.0M137.1 428.9h1.0M188.2 428.9h1.0M52.0 432.3h1.0M100.1 432.3h1.0M140.1 432.3h2.0M144.1 432.3h1.0M181.2 432.3h1.0M52.0 435.7h1.0M62.0 435.7h1.0M100.1 435.7h1.0M151.1 435.7h1.0M195.2 435.7h1.0M52.0 439.1h1.0M65.0 439.1h1.0M155.1 439.1h1.0M162.2 439.1h1.0M174.2 439.1h1.0M196.2 439.1h1.0M63.0 442.5h1.0M80.1 442.5h1.0M90.1 442.5h1.0M100.1 442.5h1.0M121.1 442.5h1.0M186.2 442.5h1.0M196.2 442.5h1.0M86.1 445.9h1.0M115.1 445.9h1.0M155.1 445.9h1.0M186.2 445.9h1.0M67.0 449.3h1.0M79.1 449.3h1.0M140.1 449.3h1.0" stroke="#575a7a" stroke-width="3.45" fill="none"/>
<path d="M34.0 36.9h1.0M45.0 36.9h1.0M58.0 36.9h1.0M61.0 36.9h1.0M67.0 36.9h1.0M69.0 36.9h1.0M77.1 36.9h1.0M82.1 36.9h1.0M87.1 36.9h1.0M110.1 36.9h1.0M122.1 36.9h1.0M129.1 36.9h1.0M150.1 36.9h1.0M161.2 36.9h2.0M173.2 36.9h2.0M183.2 36.9h1.0M196.2 36.9h1.0M82.1 40.2h1.0M86.1 40.2h1.0M88.1 40.2h1.0M109.1 40.2h2.0M128.1 40.2h1.0M167.2 40.2h1.0M171.2 40.2h1.0M174.2 40.2h1.0M178.2 40.2h1.0M183.2 40.2h2.0M186.2 40.2h1.0M52.0 43.5h1.0M81.1 43.5h1.0M92.1 43.5h1.0M103.1 43.5h1.0M109.1 43.5h1.0M113.1 43.5h1.0M119.1 43.5h1.0M128.1 43.5h1.0M156.2 43.5h1.0M165.2 43.5h1.0M176.2 43.5h1.0M183.2 43.5h1.0M37.0 46.8h1.0M39.0 46.8h1.0M44.0 46.8h1.0M69.0 46.8h1.0M72.1 46.8h1.0M78.1 46.8h1.0M82.1 46.8h1.0M97.1 46.8h1.0M111.1 46.8h1.0M141.1 46.8h1.0M179.2 46.8h2.0M183.2 46.8h1.0M195.2 46.8h1.0M69.0 50.1h1.0M102.1 50.1h1.0M135.1 50.1h1.0M148.1 50.1h1.0M151.1 50.1h1.0M158.2 50.1h1.0M180.2 50.1h1.0M189.2 50.1h1.0M193.2 50.1h2.0M196.2 50.1h1.0M32.0 53.5h1.0M39.0 53.5h1.0M43.0 53.5h1.0M72.1 53.5h1.0M79.1 53.5h2.0M82.1 53.5h1.0M100.1 53.5h2.0M107.1 53.5h1.0M110.1 53.5h1.0M118.1 53.5h1.0M121.1 53.5h1.0M131.1 53.5h2.0M135.1 53.5h1.0M146.1 53.5h1.0M170.2 53.5h1.0M172.2 53.5h2.0M177.2 53.5h1.0M183.2 53.5h1.0M39.0 56.8h1.0M42.0 56.8h1.0M47.0 56.8h1.0M81.1 56.8h1.0M89.1 56.8h1.0M108.1 56.8h2.0M125.1 56.8h1.0M127.1 56.8h1.0M137.1 56.8h1.0M148.1 56.8h2.0M174.2 56.8h1.0M189.2 56.8h1.0M192.2 56.8h1.0M31.0 60.1h1.0M39.0 60.1h1.0M41.0 60.1h1.0M63.0 60.1h1.0M66.0 60.1h1.0M76.1 60.1h1.0M117.1 60.1h1.0M125.1 60.1h1.0M138.1 60.1h1.0M143.1 60.1h1.0M195.2 60.1h1.0M45.0 63.4h1.0M49.0 63.4h1.0M59.0 63.4h1.0M80.1 63.4h1.0M93.1 63.4h1.0M95.1 63.4h1.0M103.1 63.4h1.0M106.1 63.4h1.0M114.1 63.4h1.0M124.1 63.4h1.0M131.1 63.4h1.0M135.1 63.4h1.0M137.1 63.4h2.0M152.1 63.4h1.0M160.2 63.4h1.0M166.2 63.4h1.0M168.2 63.4h1.0M173.2 63.4h1.0M176.2 63.4h3.0M185.2 63.4h1.0M189.2 63.4h2.0M33.0 66.7h1.0M60.0 66.7h1.0M70.0 66.7h1.0M73.1 66.7h1.0M137.1 66.7h1.0M139.1 66.7h1.0M145.1 66.7h2.0M150.1 66.7h1.0M164.2 66.7h1.0M195.2 66.7h1.0M197.2 66.7h1.0M30.0 70.1h1.0M58.0 70.1h1.0M60.0 70.1h1.0M65.0 70.1h1.0M72.1 70.1h2.0M107.1 70.1h1.0M114.1 70.1h1.0M120.1 70.1h1.0M131.1 70.1h1.0M136.1 70.1h1.0M177.2 70.1h1.0M183.2 70.1h1.0M190.2 70.1h1.0M59.0 73.4h2.0M67.0 73.4h1.0M69.0 73.4h1.0M89.1 73.4h1.0M146.1 73.4h1.0M150.1 73.4h1.0M162.2 73.4h1.0M167.2 73.4h1.0M190.2 73.4h1.0M192.2 73.4h1.0M67.0 76.7h1.0M89.1 76.7h1.0M110.1 76.7h1.0M123.1 76.7h1.0M130.1 76.7h1.0M139.1 76.7h1.0M157.2 76.7h1.0M172.2 76.7h1.0M174.2 76.7h1.0M180.2 76.7h2.0M188.2 76.7h1.0M43.0 80.0h1.0M70.0 80.0h2.0M107.1 80.0h1.0M128.1 80.0h1.0M130.1 80.0h2.0M134.1 80.0h1.0M136.1 80.0h1.0M141.1 80.0h1.0M143.1 80.0h1.0M150.1 80.0h1.0M155.1 80.0h1.0M162.2 80.0h1.0M166.2 80.0h2.0M172.2 80.0h1.0M174.2 80.0h1.0M191.2 80.0h1.0M193.2 80.0h1.0M195.2 80.0h1.0M53.0 83.3h1.0M61.0 83.3h1.0M72.1 83.3h1.0M77.1 83.3h1.0M83.1 83.3h1.0M100.1 83.3h1.0M107.1 83.3h1.0M110.1 83.3h1.0M113.1 83.3h1.0M129.1 83.3h2.0M148.1 83.3h2.0M152.1 83.3h1.0M162.2 83.3h1.0M171.2 83.3h2.0M195.2 83.3h1.0M85.1 86.7h1.0M111.1 86.7h1.0M125.1 86.7h1.0M137.1 86.7h1.0M140.1 86.7h1.0M155.1 86.7h1.0M167.2 86.7h1.0M185.2 86.7h1.0M40.0 90.0h1.0M50.0 90.0h2.0M67.0 90.0h1.0M77.1 90.0h1.0M79.1 90.0h1.0M86.1 90.0h1.0M102.1 90.0h1.0M109.1 90.0h1.0M116.1 90.0h1.0M124.1 90.0h2.0M166.2 90.0h1.0M37.0 93.3h1.0M51.0 93.3h1.0M66.0 93.3h2.0M69.0 93.3h1.0M72.1 93.3h1.0M77.1 93.3h1.0M109.1 93.3h1.0M129.1 93.3h1.0M134.1 93.3h1.0M138.1 93.3h1.0M148.1 93.3h1.0M155.1 93.3h2.0M179.2 93.3h1.0M185.2 93.3h2.0M37.0 96.6h2.0M62.0 96.6h1.0M66.0 96.6h1.0M85.1 96.6h2.0M92.1 96.6h1.0M98.1 96.6h1.0M128.1 96.6h1.0M130.1 96.6h1.0M134.1 96.6h1.0M164.2 96.6h1.0M167.2 96.6h1.0M181.2 96.6h1.0M183.2 96.6h1.0M40.0 99.9h1.0M59.0 99.9h1.0M72.1 99.9h1.0M134.1 99.9h1.0M141.1 99.9h1.0M161.2 99.9h4.0M175.2 99.9h1.0M40.0 103.3h1.0M67.0 103.3h1.0M71.0 103.3h1.0M73.1 103.3h1.0M75.1 103.3h1.0M87.1 103.3h1.0M97.1 103.3h1.0M102.1 103.3h1.0M115.1 103.3h1.0M124.1 103.3h1.0M128.1 103.3h1.0M131.1 103.3h1.0M138.1 103.3h1.0M141.1 103.3h1.0M156.2 103.3h1.0M172.2 103.3h2.0M176.2 103.3h1.0M56.0 106.6h1.0M62.0 106.6h1.0M70.0 106.6h1.0M82.1 106.6h1.0M88.1 106.6h1.0M92.1 106.6h1.0M137.1 106.6h3.0M167.2 106.6h1.0M176.2 106.6h1.0M32.0 109.9h1.0M39.0 109.9h2.0M48.0 109.9h1.0M51.0 109.9h1.0M53.0 109.9h1.0M55.0 109.9h1.0M85.1 109.9h1.0M90.1 109.9h1.0M92.1 109.9h1.0M97.1 109.9h1.0M100.1 109.9h1.0M110.1 109.9h1.0M115.1 109.9h1.0M129.1 109.9h1.0M152.1 109.9h1.0M157.2 109.9h1.0M173.2 109.9h1.0M176.2 109.9h2.0M38.0 113.2h1.0M49.0 113.2h1.0M70.0 113.2h1.0M93.1 113.2h1.0M102.1 113.2h1.0M122.1 113.2h1.0M124.1 113.2h2.0M128.1 113.2h1.0M131.1 113.2h1.0M141.1 113.2h1.0M143.1 113.2h1.0M150.1 113.2h1.0M161.2 113.2h1.0M172.2 113.2h1.0M174.2 113.2h1.0M188.2 113.2h1.0M194.2 113.2h1.0M38.0 116.5h1.0M44.0 116.5h2.0M66.0 116.5h1.0M90.1 116.5h1.0M95.1 116.5h1.0M106.1 116.5h1.0M113.1 116.5h1.0M129.1 116.5h1.0M142.1 116.5h1.0M144.1 116.5h1.0M167.2 116.5h3.0M172.2 116.5h1.0M179.2 116.5h1.0M184.2 116.5h1.0M195.2 116.5h1.0M197.2 116.5h1.0M30.0 119.9h1.0M49.0 119.9h1.0M117.1 119.9h1.0M120.1 119.9h1.0M128.1 119.9h2.0M134.1 119.9h1.0M141.1 119.9h1.0M155.1 119.9h1.0M66.0 123.2h1.0M72.1 123.2h1.0M79.1 123.2h1.0M95.1 123.2h1.0M98.1 123.2h1.0M110.1 123.2h2.0M113.1 123.2h1.0M140.1 123.2h1.0M149.1 123.2h1.0M162.2 123.2h1.0M191.2 123.2h1.0M197.2 123.2h1.0M52.0 126.5h1.0M100.1 126.5h1.0M110.1 126.5h1.0M144.1 126.5h1.0M162.2 126.5h1.0M169.2 126.5h1.0M185.2 126.5h2.0M188.2 126.5h1.0M197.2 126.5h1.0M31.0 129.8h1.0M50.0 129.8h1.0M71.0 129.8h1.0M89.1 129.8h1.0M98.1 129.8h1.0M100.1 129.8h1.0M103.1 129.8h1.0M109.1 129.8h1.0M111.1 129.8h1.0M129.1 129.8h1.0M155.1 129.8h1.0M159.2 129.8h1.0M179.2 129.8h1.0M191.2 129.8h1.0M195.2 129.8h1.0M34.0 133.1h2.0M55.0 133.1h2.0M71.0 133.1h1.0M75.1 133.1h1.0M106.1 133.1h1.0M110.1 133.1h1.0M134.1 133.1h1.0M137.1 133.1h1.0M154.1 133.1h1.0M165.2 133.1h1.0M171.2 133.1h1.0M174.2 133.1h1.0M178.2 133.1h1.0M180.2 133.1h1.0M194.2 133.1h1.0M33.0 136.5h2.0M55.0 136.5h1.0M71.0 136.5h1.0M88.1 136.5h1.0M94.1 136.5h1.0M110.1 136.5h1.0M124.1 136.5h1.0M134.1 136.5h1.0M140.1 136.5h1.0M145.1 136.5h2.0M150.1 136.5h1.0M171.2 136.5h1.0M192.2 136.5h1.0M197.2 136.5h1.0M53.0 139.8h2.0M56.0 139.8h1.0M69.0 139.8h1.0M115.1 139.8h1.0M137.1 139.8h1.0M150.1 139.8h1.0M180.2 139.8h1.0M187.2 139.8h1.0M40.0 143.1h1.0M55.0 143.1h1.0M69.0 143.1h1.0M76.1 143.1h1.0M93.1 143.1h1.0M125.1 143.1h1.0M143.1 143.1h1.0M150.1 143.1h1.0M176.2 143.1h1.0M192.2 143.1h1.0M194.2 143.1h1.0M197.2 143.1h1.0M44.0 146.4h2.0M55.0 146.4h1.0M61.0 146.4h1.0M73.1 146.4h1.0M89.1 146.4h1.0M92.1 146.4h1.0M131.1 146.4h1.0M133.1 146.4h1.0M137.1 146.4h1.0M139.1 146.4h1.0M183.2 146.4h1.0M47.0 149.7h1.0M58.0 149.7h1.0M74.1 149.7h1.0M79.1 149.7h1.0M86.1 149.7h1.0M107.1 149.7h1.0M110.1 149.7h1.0M114.1 149.7h1.0M121.1 149.7h1.0M145.1 149.7h1.0M150.1 149.7h1.0M163.2 149.7h2.0M185.2 149.7h1.0M29.0 153.1h1.0M58.0 153.1h1.0M62.0 153.1h1.0M71.0 153.1h1.0M90.1 153.1h1.0M114.1 153.1h1.0M125.1 153.1h1.0M140.1 153.1h1.0M174.2 153.1h1.0M195.2 153.1h1.0M35.0 156.4h1.0M37.0 156.4h1.0M54.0 156.4h1.0M68.0 156.4h2.0M99.1 156.4h1.0M114.1 156.4h1.0M129.1 156.4h1.0M171.2 156.4h1.0M173.2 156.4h1.0M176.2 156.4h1.0M47.0 159.7h1.0M50.0 159.7h1.0M79.1 159.7h1.0M100.1 159.7h1.0M106.1 159.7h1.0M112.1 159.7h1.0M117.1 159.7h1.0M126.1 159.7h1.0M131.1 159.7h1.0M142.1 159.7h1.0M170.2 159.7h1.0M179.2 159.7h1.0M35.0 163.0h1.0M39.0 163.0h1.0M44.0 163.0h1.0M48.0 163.0h1.0M54.0 163.0h2.0M60.0 163.0h1.0M66.0 163.0h2.0M98.1 163.0h1.0M100.1 163.0h1.0M103.1 163.0h1.0M107.1 163.0h1.0M111.1 163.0h1.0M143.1 163.0h1.0M145.1 163.0h1.0M157.2 163.0h1.0M167.2 163.0h2.0M180.2 163.0h1.0M192.2 163.0h1.0M35.0 166.3h1.0M44.0 166.3h1.0M52.0 166.3h1.0M78.1 166.3h1.0M81.1 166.3h1.0M83.1 166.3h1.0M88.1 166.3h1.0M90.1 166.3h1.0M107.1 166.3h1.0M111.1 166.3h1.0M113.1 166.3h1.0M130.1 166.3h1.0M153.1 166.3h1.0M155.1 166.3h1.0M166.2 166.3h1.0M170.2 166.3h1.0M179.2 166.3h1.0M181.2 166.3h1.0M185.2 166.3h1.0M32.0 169.7h1.0M40.0 169.7h1.0M48.0 169.7h1.0M55.0 169.7h1.0M62.0 169.7h1.0M94.1 169.7h1.0M153.1 169.7h1.0M164.2 169.7h1.0M173.2 169.7h1.0M183.2 169.7h1.0M186.2 169.7h2.0M57.0 173.0h1.0M70.0 173.0h1.0M72.1 173.0h1.0M80.1 173.0h1.0M89.1 173.0h1.0M100.1 173.0h1.0M120.1 173.0h1.0M124.1 173.0h1.0M152.1 173.0h1.0M162.2 173.0h1.0M178.2 173.0h1.0M190.2 173.0h1.0M194.2 173.0h1.0M41.0 176.4h1.0M46.0 176.4h1.0M73.1 176.4h2.0M92.1 176.4h1.0M114.1 176.4h1.0M123.1 176.4h1.0M134.1 176.4h1.0M164.2 176.4h1.0M189.2 176.4h1.0M191.2 176.4h1.0M45.0 179.7h1.0M54.0 179.7h1.0M57.0 179.7h1.0M110.1 179.7h1.0M118.1 179.7h1.0M120.1 179.7h1.0M125.1 179.7h1.0M133.1 179.7h1.0M140.1 179.7h1.0M145.1 179.7h1.0M182.2 179.7h1.0M190.2 179.7h1.0M38.0 183.0h1.0M47.0 183.0h1.0M61.0 183.0h1.0M72.1 183.0h1.0M75.1 183.0h2.0M96.1 183.0h1.0M101.1 183.0h1.0M107.1 183.0h1.0M133.1 183.0h3.0M150.1 183.0h1.0M153.1 183.0h1.0M175.2 183.0h1.0M185.2 183.0h2.0M190.2 183.0h1.0M61.0 186.4h1.0M91.1 186.4h1.0M99.1 186.4h1.0M114.1 186.4h1.0M159.2 186.4h1.0M169.2 186.4h1.0M174.2 186.4h1.0M185.2 186.4h1.0M191.2 186.4h1.0M61.0 189.7h1.0M71.0 189.7h1.0M102.1 189.7h1.0M124.1 189.7h1.0M184.2 189.7h1.0M61.0 193.1h1.0M66.0 193.1h1.0M94.1 193.1h1.0M98.1 193.1h1.0M113.1 193.1h1.0M116.1 193.1h1.0M133.1 193.1h1.0M146.1 193.1h1.0M155.1 193.1h1.0M163.2 193.1h1.0M186.2 193.1h1.0M189.2 193.1h1.0M41.0 196.4h1.0M49.0 196.4h1.0M57.0 196.4h1.0M66.0 196.4h1.0M113.1 196.4h1.0M117.1 196.4h1.0M128.1 196.4h1.0M144.1 196.4h1.0M152.1 196.4h1.0M181.2 196.4h2.0M193.2 196.4h1.0M42.0 199.7h1.0M57.0 199.7h1.0M81.1 199.7h1.0M124.1 199.7h1.0M146.1 199.7h1.0M159.2 199.7h1.0M164.2 199.7h1.0M171.2 199.7h1.0M188.2 199.7h1.0M31.0 203.1h1.0M45.0 203.1h1.0M47.0 203.1h2.0M65.0 203.1h1.0M70.0 203.1h1.0M74.1 203.1h1.0M76.1 203.1h1.0M85.1 203.1h1.0M88.1 203.1h1.0M111.1 203.1h1.0M115.1 203.1h1.0M132.1 203.1h1.0M139.1 203.1h1.0M141.1 203.1h1.0M174.2 203.1h1.0M177.2 203.1h1.0M179.2 203.1h1.0M184.2 203.1h3.0M188.2 203.1h1.0M191.2 203.1h2.0M194.2 203.1h1.0M47.0 206.4h1.0M55.0 206.4h1.0M138.1 206.4h1.0M154.1 206.4h1.0M181.2 206.4h1.0M193.2 206.4h1.0M51.0 209.8h1.0M54.0 209.8h1.0M67.0 209.8h1.0M110.1 209.8h1.0M129.1 209.8h1.0M140.1 209.8h1.0M143.1 209.8h1.0M162.2 209.8h1.0M173.2 209.8h1.0M177.2 209.8h1.0M185.2 209.8h1.0M189.2 209.8h2.0M195.2 209.8h1.0M40.0 213.1h1.0M48.0 213.1h1.0M54.0 213.1h2.0M67.0 213.1h1.0M80.1 213.1h1.0M102.1 213.1h1.0M114.1 213.1h2.0M162.2 213.1h1.0M164.2 213.1h1.0M197.2 213.1h1.0M54.0 216.4h1.0M56.0 216.4h1.0M61.0 216.4h1.0M74.1 216.4h1.0M80.1 216.4h1.0M88.1 216.4h2.0M113.1 216.4h1.0M126.1 216.4h1.0M141.1 216.4h1.0M162.2 216.4h1.0M165.2 216.4h1.0M174.2 216.4h1.0M177.2 216.4h1.0M182.2 216.4h1.0M192.2 216.4h1.0M41.0 219.8h1.0M49.0 219.8h1.0M56.0 219.8h1.0M82.1 219.8h1.0M92.1 219.8h1.0M117.1 219.8h1.0M134.1 219.8h1.0M143.1 219.8h1.0M155.1 219.8h1.0M157.2 219.8h1.0M161.2 219.8h2.0M38.0 223.1h1.0M49.0 223.1h1.0M54.0 223.1h1.0M56.0 223.1h1.0M70.0 223.1h2.0M91.1 223.1h1.0M99.1 223.1h1.0M147.1 223.1h1.0M157.2 223.1h1.0M162.2 223.1h1.0M170.2 223.1h1.0M180.2 223.1h1.0M188.2 223.1h1.0M47.0 226.4h1.0M54.0 226.4h1.0M58.0 226.4h2.0M68.0 226.4h1.0M72.1 226.4h1.0M78.1 226.4h1.0M93.1 226.4h1.0M100.1 226.4h1.0M102.1 226.4h1.0M118.1 226.4h1.0M124.1 226.4h1.0M131.1 226.4h1.0M159.2 226.4h1.0M175.2 226.4h1.0M179.2 226.4h1.0M184.2 226.4h1.0M191.2 226.4h1.0M35.0 229.8h1.0M47.0 229.8h2.0M51.0 229.8h1.0M56.0 229.8h1.0M71.0 229.8h1.0M89.1 229.8h1.0M110.1 229.8h1.0M124.1 229.8h1.0M129.1 229.8h1.0M150.1 229.8h1.0M158.2 229.8h1.0M164.2 229.8h1.0M173.2 229.8h1.0M181.2 229.8h1.0M51.0 233.1h1.0M64.0 233.1h1.0M88.1 233.1h1.0M116.1 233.1h1.0M125.1 233.1h1.0M127.1 233.1h2.0M130.1 233.1h1.0M159.2 233.1h1.0M189.2 233.1h1.0M191.2 233.1h1.0M194.2 233.1h1.0M196.2 233.1h1.0M33.0 236.5h1.0M51.0 236.5h1.0M55.0 236.5h1.0M57.0 236.5h1.0M59.0 236.5h2.0M71.0 236.5h1.0M74.1 236.5h1.0M85.1 236.5h1.0M94.1 236.5h1.0M97.1 236.5h1.0M112.1 236.5h1.0M136.1 236.5h1.0M139.1 236.5h1.0M152.1 236.5h1.0M154.1 236.5h1.0M173.2 236.5h1.0M175.2 236.5h1.0M181.2 236.5h1.0M186.2 236.5h1.0M192.2 236.5h1.0M42.0 239.8h1.0M82.1 239.8h1.0M88.1 239.8h2.0M98.1 239.8h1.0M101.1 239.8h1.0M105.1 239.8h1.0M121.1 239.8h1.0M124.1 239.8h1.0M134.1 239.8h1.0M154.1 239.8h1.0M173.2 239.8h1.0M178.2 239.8h1.0M180.2 239.8h1.0M38.0 243.2h1.0M41.0 243.2h3.0M47.0 243.2h1.0M49.0 243.2h1.0M92.1 243.2h1.0M96.1 243.2h2.0M120.1 243.2h1.0M127.1 243.2h1.0M140.1 243.2h1.0M181.2 243.2h1.0M193.2 243.2h1.0M37.0 246.5h2.0M40.0 246.5h1.0M46.0 246.5h2.0M63.0 246.5h1.0M85.1 246.5h1.0M87.1 246.5h1.0M92.1 246.5h1.0M110.1 246.5h1.0M124.1 246.5h1.0M129.1 246.5h1.0M142.1 246.5h1.0M149.1 246.5h1.0M154.1 246.5h1.0M162.2 246.5h2.0M180.2 246.5h1.0M32.0 249.8h1.0M43.0 249.8h1.0M45.0 249.8h1.0M48.0 249.8h1.0M55.0 249.8h1.0M96.1 249.8h1.0M123.1 249.8h1.0M126.1 249.8h1.0M129.1 249.8h1.0M136.1 249.8h1.0M138.1 249.8h1.0M141.1 249.8h1.0M173.2 249.8h3.0M180.2 249.8h1.0M188.2 249.8h2.0M53.0 253.2h1.0M55.0 253.2h1.0M61.0 253.2h1.0M102.1 253.2h1.0M107.1 253.2h1.0M128.1 253.2h1.0M147.1 253.2h1.0M171.2 253.2h1.0M32.0 256.5h2.0M47.0 256.5h1.0M49.0 256.5h1.0M54.0 256.5h2.0M100.1 256.5h2.0M111.1 256.5h2.0M114.1 256.5h1.0M124.1 256.5h1.0M145.1 256.5h1.0M160.2 256.5h1.0M168.2 256.5h2.0M177.2 256.5h1.0M179.2 256.5h1.0M181.2 256.5h1.0M183.2 256.5h1.0M45.0 259.9h1.0M48.0 259.9h1.0M61.0 259.9h1.0M102.1 259.9h1.0M134.1 259.9h1.0M141.1 259.9h1.0M143.1 259.9h1.0M147.1 259.9h1.0M173.2 259.9h1.0M176.2 259.9h1.0M184.2 259.9h1.0M186.2 259.9h1.0M191.2 259.9h1.0M35.0 263.2h1.0M41.0 263.2h1.0M43.0 263.2h1.0M45.0 263.2h1.0M49.0 263.2h1.0M51.0 263.2h1.0M66.0 263.2h1.0M82.1 263.2h1.0M90.1 263.2h2.0M100.1 263.2h1.0M126.1 263.2h2.0M137.1 263.2h1.0M146.1 263.2h1.0M150.1 263.2h1.0M179.2 263.2h1.0M195.2 263.2h1.0M32.0 266.5h1.0M34.0 266.5h1.0M54.0 266.5h1.0M97.1 266.5h1.0M102.1 266.5h1.0M114.1 266.5h1.0M134.1 266.5h1.0M136.1 266.5h1.0M165.2 266.5h1.0M168.2 266.5h1.0M33.0 269.9h1.0M85.1 269.9h1.0M88.1 269.9h1.0M94.1 269.9h1.0M157.2 269.9h1.0M192.2 269.9h1.0M32.0 273.2h1.0M35.0 273.2h1.0M40.0 273.2h1.0M42.0 273.2h1.0M64.0 273.2h1.0M81.1 273.2h1.0M119.1 273.2h2.0M123.1 273.2h2.0M138.1 273.2h1.0M185.2 273.2h1.0M45.0 276.6h1.0M56.0 276.6h1.0M60.0 276.6h1.0M63.0 276.6h1.0M65.0 276.6h2.0M68.0 276.6h1.0M98.1 276.6h2.0M116.1 276.6h1.0M127.1 276.6h1.0M130.1 276.6h1.0M133.1 276.6h1.0M140.1 276.6h1.0M143.1 276.6h1.0M145.1 276.6h1.0M179.2 276.6h1.0M191.2 276.6h1.0M48.0 279.9h1.0M82.1 279.9h1.0M111.1 279.9h1.0M127.1 279.9h2.0M134.1 279.9h1.0M139.1 279.9h1.0M141.1 279.9h1.0M152.1 279.9h1.0M173.2 279.9h2.0M185.2 279.9h1.0M191.2 279.9h1.0M32.0 283.2h1.0M40.0 283.2h1.0M48.0 283.2h2.0M60.0 283.2h2.0M79.1 283.2h1.0M83.1 283.2h1.0M94.1 283.2h1.0M111.1 283.2h1.0M127.1 283.2h1.0M136.1 283.2h1.0M162.2 283.2h1.0M173.2 283.2h1.0M175.2 283.2h1.0M185.2 283.2h1.0M189.2 283.2h1.0M61.0 286.6h1.0M71.0 286.6h1.0M93.1 286.6h1.0M102.1 286.6h1.0M105.1 286.6h1.0M110.1 286.6h2.0M115.1 286.6h1.0M128.1 286.6h1.0M132.1 286.6h2.0M144.1 286.6h1.0M148.1 286.6h1.0M150.1 286.6h1.0M152.1 286.6h1.0M160.2 286.6h1.0M165.2 286.6h1.0M177.2 286.6h1.0M180.2 286.6h1.0M188.2 286.6h2.0M42.0 289.9h1.0M57.0 289.9h1.0M59.0 289.9h1.0M61.0 289.9h1.0M66.0 289.9h1.0M91.1 289.9h1.0M107.1 289.9h1.0M112.1 289.9h1.0M117.1 289.9h1.0M128.1 289.9h1.0M131.1 289.9h1.0M134.1 289.9h1.0M143.1 289.9h1.0M152.1 289.9h1.0M154.1 289.9h1.0M164.2 289.9h1.0M179.2 289.9h1.0M184.2 289.9h1.0M186.2 289.9h1.0M193.2 289.9h1.0M47.0 293.2h1.0M61.0 293.2h1.0M76.1 293.2h1.0M91.1 293.2h1.0M118.1 293.2h1.0M127.1 293.2h2.0M130.1 293.2h2.0M154.1 293.2h1.0M171.2 293.2h1.0M179.2 293.2h1.0M181.2 293.2h1.0M55.0 296.6h1.0M61.0 296.6h1.0M74.1 296.6h1.0M88.1 296.6h1.0M118.1 296.6h1.0M144.1 296.6h1.0M157.2 296.6h1.0M161.2 296.6h2.0M194.2 296.6h1.0M33.0 299.9h1.0M42.0 299.9h1.0M49.0 299.9h1.0M84.1 299.9h1.0M89.1 299.9h1.0M143.1 299.9h1.0M149.1 299.9h1.0M159.2 299.9h1.0M186.2 299.9h1.0M189.2 299.9h1.0M32.0 303.3h1.0M76.1 303.3h1.0M91.1 303.3h1.0M111.1 303.3h1.0M113.1 303.3h1.0M118.1 303.3h1.0M129.1 303.3h2.0M141.1 303.3h1.0M150.1 303.3h1.0M155.1 303.3h1.0M175.2 303.3h1.0M191.2 303.3h1.0M37.0 306.6h1.0M51.0 306.6h1.0M54.0 306.6h1.0M59.0 306.6h1.0M88.1 306.6h1.0M91.1 306.6h1.0M131.1 306.6h1.0M146.1 306.6h1.0M151.1 306.6h1.0M159.2 306.6h1.0M165.2 306.6h1.0M168.2 306.6h1.0M171.2 306.6h1.0M174.2 306.6h1.0M182.2 306.6h1.0M197.2 306.6h1.0M47.0 309.9h1.0M56.0 309.9h1.0M79.1 309.9h1.0M82.1 309.9h2.0M88.1 309.9h1.0M140.1 309.9h1.0M152.1 309.9h1.0M155.1 309.9h1.0M159.2 309.9h1.0M175.2 309.9h1.0M186.2 309.9h1.0M54.0 313.3h1.0M56.0 313.3h1.0M59.0 313.3h1.0M84.1 313.3h1.0M90.1 313.3h1.0M105.1 313.3h1.0M110.1 313.3h1.0M139.1 313.3h1.0M143.1 313.3h1.0M148.1 313.3h1.0M157.2 313.3h1.0M173.2 313.3h2.0M185.2 313.3h1.0M189.2 313.3h1.0M191.2 313.3h1.0M48.0 316.6h2.0M55.0 316.6h1.0M68.0 316.6h1.0M75.1 316.6h1.0M83.1 316.6h1.0M92.1 316.6h1.0M130.1 316.6h1.0M143.1 316.6h1.0M147.1 316.6h2.0M173.2 316.6h1.0M180.2 316.6h1.0M188.2 316.6h1.0M192.2 316.6h1.0M52.0 320.0h1.0M54.0 320.0h1.0M80.1 320.0h1.0M93.1 320.0h1.0M109.1 320.0h1.0M130.1 320.0h1.0M142.1 320.0h1.0M147.1 320.0h1.0M149.1 320.0h1.0M163.2 320.0h1.0M166.2 320.0h1.0M172.2 320.0h1.0M47.0 323.4h1.0M64.0 323.4h1.0M74.1 323.4h1.0M82.1 323.4h1.0M85.1 323.4h1.0M115.1 323.4h1.0M129.1 323.4h1.0M142.1 323.4h1.0M150.1 323.4h2.0M157.2 323.4h1.0M165.2 323.4h1.0M179.2 323.4h1.0M181.2 323.4h1.0M183.2 323.4h3.0M54.0 326.8h1.0M59.0 326.8h1.0M106.1 326.8h1.0M116.1 326.8h1.0M120.1 326.8h1.0M142.1 326.8h1.0M145.1 326.8h1.0M162.2 326.8h1.0M173.2 326.8h1.0M191.2 326.8h1.0M195.2 326.8h1.0M54.0 330.2h1.0M64.0 330.2h1.0M94.1 330.2h1.0M115.1 330.2h2.0M122.1 330.2h1.0M153.1 330.2h1.0M159.2 330.2h1.0M168.2 330.2h1.0M184.2 330.2h1.0M192.2 330.2h1.0M194.2 330.2h1.0M29.0 333.6h1.0M52.0 333.6h1.0M55.0 333.6h1.0M69.0 333.6h1.0M82.1 333.6h1.0M106.1 333.6h1.0M115.1 333.6h1.0M120.1 333.6h1.0M130.1 333.6h1.0M137.1 333.6h1.0M141.1 333.6h1.0M155.1 333.6h1.0M172.2 333.6h1.0M184.2 333.6h1.0M188.2 333.6h1.0M48.0 337.0h1.0M51.0 337.0h1.0M59.0 337.0h1.0M64.0 337.0h1.0M70.0 337.0h1.0M86.1 337.0h1.0M95.1 337.0h1.0M104.1 337.0h1.0M116.1 337.0h1.0M122.1 337.0h1.0M133.1 337.0h1.0M139.1 337.0h1.0M148.1 337.0h2.0M151.1 337.0h1.0M153.1 337.0h1.0M162.2 337.0h1.0M166.2 337.0h1.0M170.2 337.0h1.0M176.2 337.0h1.0M179.2 337.0h1.0M184.2 337.0h1.0M196.2 337.0h1.0M37.0 340.4h1.0M48.0 340.4h1.0M111.1 340.4h1.0M115.1 340.4h1.0M153.1 340.4h1.0M155.1 340.4h1.0M157.2 340.4h1.0M159.2 340.4h1.0M178.2 340.4h1.0M195.2 340.4h2.0M41.0 343.8h1.0M47.0 343.8h1.0M69.0 343.8h1.0M111.1 343.8h1.0M126.1 343.8h1.0M130.1 343.8h1.0M145.1 343.8h1.0M151.1 343.8h1.0M157.2 343.8h1.0M163.2 343.8h1.0M170.2 343.8h1.0M172.2 343.8h1.0M179.2 343.8h2.0M188.2 343.8h1.0M195.2 343.8h1.0M197.2 343.8h1.0M41.0 347.2h1.0M55.0 347.2h1.0M109.1 347.2h1.0M115.1 347.2h1.0M121.1 347.2h1.0M127.1 347.2h1.0M151.1 347.2h1.0M153.1 347.2h1.0M157.2 347.2h1.0M162.2 347.2h1.0M170.2 347.2h1.0M179.2 347.2h1.0M185.2 347.2h1.0M188.2 347.2h1.0M194.2 347.2h1.0M41.0 350.6h1.0M47.0 350.6h1.0M52.0 350.6h1.0M62.0 350.6h1.0M69.0 350.6h1.0M74.1 350.6h1.0M121.1 350.6h1.0M133.1 350.6h1.0M151.1 350.6h1.0M178.2 350.6h1.0M185.2 350.6h1.0M188.2 350.6h1.0M195.2 350.6h1.0M33.0 354.1h1.0M40.0 354.1h2.0M47.0 354.1h2.0M79.1 354.1h1.0M131.1 354.1h1.0M147.1 354.1h1.0M165.2 354.1h2.0M170.2 354.1h1.0M191.2 354.1h1.0M197.2 354.1h1.0M47.0 357.5h1.0M50.0 357.5h2.0M78.1 357.5h2.0M116.1 357.5h1.0M138.1 357.5h1.0M144.1 357.5h1.0M149.1 357.5h1.0M161.2 357.5h1.0M165.2 357.5h1.0M185.2 357.5h1.0M37.0 360.9h1.0M78.1 360.9h1.0M82.1 360.9h1.0M93.1 360.9h1.0M105.1 360.9h1.0M113.1 360.9h1.0M138.1 360.9h1.0M141.1 360.9h1.0M149.1 360.9h1.0M151.1 360.9h1.0M171.2 360.9h1.0M179.2 360.9h1.0M184.2 360.9h1.0M188.2 360.9h1.0M192.2 360.9h1.0M194.2 360.9h1.0M54.0 364.3h1.0M64.0 364.3h1.0M70.0 364.3h1.0M78.1 364.3h1.0M109.1 364.3h1.0M133.1 364.3h1.0M136.1 364.3h2.0M179.2 364.3h1.0M192.2 364.3h1.0M40.0 367.7h1.0M48.0 367.7h1.0M51.0 367.7h1.0M55.0 367.7h1.0M59.0 367.7h1.0M61.0 367.7h1.0M68.0 367.7h1.0M94.1 367.7h1.0M106.1 367.7h1.0M112.1 367.7h1.0M115.1 367.7h1.0M125.1 367.7h1.0M144.1 367.7h1.0M146.1 367.7h1.0M159.2 367.7h1.0M167.2 367.7h2.0M172.2 367.7h1.0M188.2 367.7h1.0M33.0 371.1h1.0M51.0 371.1h1.0M74.1 371.1h1.0M79.1 371.1h2.0M106.1 371.1h1.0M116.1 371.1h1.0M121.1 371.1h2.0M125.1 371.1h1.0M136.1 371.1h1.0M140.1 371.1h1.0M144.1 371.1h1.0M149.1 371.1h1.0M153.1 371.1h1.0M163.2 371.1h1.0M172.2 371.1h1.0M184.2 371.1h1.0M188.2 371.1h1.0M194.2 371.1h2.0M69.0 374.5h1.0M85.1 374.5h1.0M109.1 374.5h1.0M115.1 374.5h2.0M120.1 374.5h1.0M125.1 374.5h1.0M130.1 374.5h2.0M138.1 374.5h1.0M146.1 374.5h1.0M149.1 374.5h1.0M168.2 374.5h1.0M172.2 374.5h1.0M189.2 374.5h1.0M55.0 377.9h1.0M61.0 377.9h2.0M64.0 377.9h1.0M82.1 377.9h2.0M94.1 377.9h1.0M105.1 377.9h1.0M109.1 377.9h1.0M116.1 377.9h1.0M120.1 377.9h1.0M125.1 377.9h1.0M128.1 377.9h1.0M133.1 377.9h1.0M137.1 377.9h1.0M139.1 377.9h1.0M144.1 377.9h1.0M153.1 377.9h1.0M159.2 377.9h1.0M162.2 377.9h2.0M172.2 377.9h1.0M185.2 377.9h1.0M192.2 377.9h1.0M51.0 381.3h1.0M61.0 381.3h1.0M105.1 381.3h1.0M125.1 381.3h1.0M127.1 381.3h1.0M135.1 381.3h2.0M138.1 381.3h1.0M142.1 381.3h1.0M146.1 381.3h1.0M151.1 381.3h1.0M157.2 381.3h1.0M163.2 381.3h1.0M188.2 381.3h1.0M47.0 384.7h1.0M51.0 384.7h1.0M70.0 384.7h1.0M78.1 384.7h1.0M94.1 384.7h1.0M133.1 384.7h1.0M136.1 384.7h1.0M140.1 384.7h1.0M143.1 384.7h1.0M146.1 384.7h1.0M153.1 384.7h1.0M172.2 384.7h1.0M178.2 384.7h1.0M189.2 384.7h1.0M194.2 384.7h1.0M48.0 388.1h1.0M54.0 388.1h1.0M80.1 388.1h1.0M113.1 388.1h1.0M116.1 388.1h1.0M121.1 388.1h1.0M125.1 388.1h1.0M129.1 388.1h2.0M146.1 388.1h1.0M150.1 388.1h1.0M162.2 388.1h1.0M168.2 388.1h1.0M170.2 388.1h1.0M172.2 388.1h1.0M185.2 388.1h1.0M189.2 388.1h1.0M195.2 388.1h1.0M32.0 391.5h1.0M34.0 391.5h1.0M49.0 391.5h1.0M82.1 391.5h1.0M89.1 391.5h1.0M103.1 391.5h1.0M121.1 391.5h1.0M134.1 391.5h1.0M141.1 391.5h1.0M159.2 391.5h2.0M162.2 391.5h1.0M167.2 391.5h1.0M171.2 391.5h2.0M174.2 391.5h1.0M181.2 391.5h1.0M193.2 391.5h1.0M50.0 394.9h1.0M73.1 394.9h1.0M88.1 394.9h3.0M111.1 394.9h1.0M118.1 394.9h1.0M120.1 394.9h1.0M127.1 394.9h1.0M129.1 394.9h2.0M135.1 394.9h1.0M177.2 394.9h1.0M181.2 394.9h1.0M183.2 394.9h1.0M194.2 394.9h1.0M43.0 398.3h1.0M50.0 398.3h2.0M57.0 398.3h1.0M66.0 398.3h1.0M79.1 398.3h1.0M86.1 398.3h1.0M88.1 398.3h1.0M90.1 398.3h1.0M93.1 398.3h1.0M108.1 398.3h1.0M114.1 398.3h1.0M126.1 398.3h1.0M133.1 398.3h1.0M141.1 398.3h1.0M147.1 398.3h1.0M149.1 398.3h2.0M154.1 398.3h2.0M166.2 398.3h1.0M171.2 398.3h1.0M174.2 398.3h2.0M183.2 398.3h1.0M197.2 398.3h1.0M62.0 401.7h1.0M64.0 401.7h1.0M68.0 401.7h2.0M88.1 401.7h1.0M90.1 401.7h1.0M114.1 401.7h2.0M124.1 401.7h1.0M141.1 401.7h1.0M143.1 401.7h1.0M155.1 401.7h1.0M157.2 401.7h1.0M159.2 401.7h1.0M168.2 401.7h3.0M178.2 401.7h1.0M181.2 401.7h1.0M183.2 401.7h2.0M187.2 401.7h1.0M189.2 401.7h1.0M191.2 401.7h1.0M49.0 405.1h1.0M74.1 405.1h1.0M90.1 405.1h1.0M92.1 405.1h1.0M97.1 405.1h2.0M111.1 405.1h1.0M116.1 405.1h1.0M124.1 405.1h1.0M129.1 405.1h1.0M133.1 405.1h1.0M140.1 405.1h1.0M146.1 405.1h1.0M150.1 405.1h1.0M153.1 405.1h1.0M166.2 405.1h1.0M177.2 405.1h1.0M179.2 405.1h1.0M195.2 405.1h1.0M49.0 408.5h1.0M114.1 408.5h1.0M124.1 408.5h1.0M126.1 408.5h2.0M134.1 408.5h1.0M139.1 408.5h2.0M151.1 408.5h1.0M153.1 408.5h1.0M160.2 408.5h1.0M174.2 408.5h1.0M179.2 408.5h1.0M183.2 408.5h1.0M193.2 408.5h1.0M195.2 408.5h1.0M57.0 411.9h1.0M61.0 411.9h1.0M72.1 411.9h1.0M88.1 411.9h2.0M92.1 411.9h1.0M108.1 411.9h1.0M125.1 411.9h1.0M133.1 411.9h1.0M146.1 411.9h1.0M151.1 411.9h1.0M163.2 411.9h1.0M166.2 411.9h1.0M173.2 411.9h2.0M178.2 411.9h2.0M185.2 411.9h1.0M193.2 411.9h1.0M196.2 411.9h1.0M33.0 415.3h1.0M36.0 415.3h1.0M43.0 415.3h1.0M45.0 415.3h1.0M49.0 415.3h1.0M60.0 415.3h2.0M74.1 415.3h1.0M92.1 415.3h1.0M103.1 415.3h1.0M117.1 415.3h1.0M127.1 415.3h1.0M150.1 415.3h2.0M158.2 415.3h1.0M166.2 415.3h2.0M184.2 415.3h1.0M193.2 415.3h1.0M48.0 418.7h1.0M50.0 418.7h1.0M62.0 418.7h1.0M64.0 418.7h1.0M67.0 418.7h2.0M81.1 418.7h1.0M87.1 418.7h1.0M91.1 418.7h2.0M103.1 418.7h2.0M106.1 418.7h1.0M111.1 418.7h1.0M117.1 418.7h1.0M121.1 418.7h2.0M128.1 418.7h1.0M131.1 418.7h1.0M139.1 418.7h1.0M141.1 418.7h1.0M150.1 418.7h1.0M163.2 418.7h1.0M165.2 418.7h1.0M185.2 418.7h1.0M64.0 422.1h1.0M67.0 422.1h1.0M85.1 422.1h2.0M89.1 422.1h1.0M120.1 422.1h1.0M125.1 422.1h1.0M145.1 422.1h1.0M151.1 422.1h1.0M154.1 422.1h1.0M162.2 422.1h1.0M166.2 422.1h2.0M178.2 422.1h2.0M43.0 425.5h1.0M52.0 425.5h1.0M60.0 425.5h1.0M64.0 425.5h1.0M120.1 425.5h1.0M128.1 425.5h2.0M131.1 425.5h1.0M174.2 425.5h1.0M192.2 425.5h1.0M36.0 428.9h1.0M39.0 428.9h1.0M41.0 428.9h1.0M44.0 428.9h1.0M50.0 428.9h1.0M55.0 428.9h1.0M97.1 428.9h1.0M112.1 428.9h1.0M124.1 428.9h1.0M126.1 428.9h1.0M141.1 428.9h1.0M144.1 428.9h1.0M155.1 428.9h1.0M159.2 428.9h1.0M166.2 428.9h2.0M169.2 428.9h1.0M172.2 428.9h1.0M182.2 428.9h1.0M189.2 428.9h1.0M38.0 432.3h2.0M57.0 432.3h1.0M74.1 432.3h1.0M85.1 432.3h1.0M89.1 432.3h1.0M96.1 432.3h1.0M104.1 432.3h1.0M116.1 432.3h1.0M121.1 432.3h1.0M155.1 432.3h1.0M165.2 432.3h1.0M74.1 435.7h1.0M109.1 435.7h1.0M113.1 435.7h1.0M118.1 435.7h1.0M121.1 435.7h1.0M133.1 435.7h1.0M145.1 435.7h1.0M154.1 435.7h1.0M157.2 435.7h1.0M169.2 435.7h1.0M174.2 435.7h1.0M181.2 435.7h1.0M186.2 435.7h1.0M189.2 435.7h1.0M192.2 435.7h1.0M29.0 439.1h1.0M34.0 439.1h1.0M64.0 439.1h1.0M100.1 439.1h1.0M121.1 439.1h1.0M128.1 439.1h1.0M133.1 439.1h1.0M140.1 439.1h1.0M144.1 439.1h1.0M186.2 439.1h1.0M30.0 442.5h1.0M60.0 442.5h1.0M68.0 442.5h1.0M73.1 442.5h1.0M79.1 442.5h1.0M97.1 442.5h1.0M102.1 442.5h1.0M116.1 442.5h1.0M124.1 442.5h1.0M141.1 442.5h1.0M145.1 442.5h1.0M153.1 442.5h1.0M157.2 442.5h1.0M168.2 442.5h1.0M173.2 442.5h1.0M183.2 442.5h1.0M35.0 445.9h1.0M60.0 445.9h1.0M79.1 445.9h1.0M89.1 445.9h1.0M93.1 445.9h1.0M100.1 445.9h1.0M102.1 445.9h1.0M112.1 445.9h1.0M116.1 445.9h1.0M121.1 445.9h1.0M124.1 445.9h1.0M134.1 445.9h1.0M143.1 445.9h1.0M150.1 445.9h1.0M170.2 445.9h2.0M174.2 445.9h1.0M179.2 445.9h2.0M193.2 445.9h1.0M55.0 449.3h2.0M62.0 449.3h1.0M64.0 449.3h1.0M68.0 449.3h1.0M73.1 449.3h1.0M76.1 449.3h1.0M80.1 449.3h1.0M100.1 449.3h1.0M107.1 449.3h1.0M115.1 449.3h2.0M124.1 449.3h1.0M128.1 449.3h1.0M130.1 449.3h1.0M187.2 449.3h1.0M195.2 449.3h1.0" stroke="#41414c" stroke-width="3.45" fill="none"/>
<path d="M37.0 36.9h1.0M46.0 36.9h1.0M52.0 36.9h1.0M104.1 36.9h1.0M112.1 36.9h1.0M149.1 36.9h1.0M153.1 36.9h1.0M155.1 36.9h1.0M44.0 40.2h1.0M52.0 40.2h1.0M60.0 40.2h1.0M64.0 40.2h1.0M76.1 40.2h1.0M78.1 40.2h2.0M96.1 40.2h2.0M99.1 40.2h1.0M112.1 40.2h1.0M118.1 40.2h1.0M125.1 40.2h1.0M168.2 40.2h1.0M31.0 43.5h1.0M38.0 43.5h1.0M45.0 43.5h1.0M60.0 43.5h1.0M62.0 43.5h1.0M84.1 43.5h1.0M86.1 43.5h1.0M91.1 43.5h1.0M93.1 43.5h1.0M117.1 43.5h1.0M121.1 43.5h2.0M145.1 43.5h1.0M159.2 43.5h2.0M71.0 46.8h1.0M85.1 46.8h1.0M93.1 46.8h1.0M113.1 46.8h1.0M117.1 46.8h1.0M132.1 46.8h1.0M152.1 46.8h1.0M159.2 46.8h1.0M191.2 46.8h1.0M36.0 50.1h1.0M41.0 50.1h2.0M75.1 50.1h1.0M78.1 50.1h1.0M84.1 50.1h1.0M89.1 50.1h1.0M130.1 50.1h1.0M138.1 50.1h1.0M140.1 50.1h1.0M142.1 50.1h1.0M166.2 50.1h1.0M181.2 50.1h1.0M56.0 53.5h1.0M61.0 53.5h3.0M73.1 53.5h2.0M86.1 53.5h1.0M125.1 53.5h1.0M130.1 53.5h1.0M164.2 53.5h1.0M182.2 53.5h1.0M32.0 56.8h1.0M36.0 56.8h1.0M54.0 56.8h1.0M56.0 56.8h1.0M73.1 56.8h2.0M83.1 56.8h2.0M145.1 56.8h1.0M160.2 56.8h1.0M184.2 56.8h2.0M36.0 60.1h1.0M42.0 60.1h1.0M48.0 60.1h1.0M51.0 60.1h1.0M53.0 60.1h1.0M87.1 60.1h1.0M146.1 60.1h1.0M161.2 60.1h1.0M57.0 63.4h1.0M62.0 63.4h1.0M90.1 63.4h1.0M182.2 63.4h1.0M50.0 66.7h3.0M54.0 66.7h2.0M62.0 66.7h1.0M76.1 66.7h1.0M78.1 66.7h1.0M88.1 66.7h1.0M96.1 66.7h1.0M103.1 66.7h1.0M112.1 66.7h1.0M119.1 66.7h1.0M151.1 66.7h1.0M154.1 66.7h1.0M161.2 66.7h1.0M183.2 66.7h1.0M189.2 66.7h1.0M52.0 70.1h1.0M54.0 70.1h1.0M56.0 70.1h1.0M62.0 70.1h1.0M70.0 70.1h1.0M82.1 70.1h2.0M85.1 70.1h1.0M88.1 70.1h1.0M99.1 70.1h1.0M101.1 70.1h2.0M119.1 70.1h1.0M147.1 70.1h1.0M166.2 70.1h1.0M173.2 70.1h1.0M37.0 73.4h1.0M43.0 73.4h1.0M45.0 73.4h1.0M57.0 73.4h1.0M64.0 73.4h1.0M87.1 73.4h1.0M103.1 73.4h1.0M119.1 73.4h1.0M122.1 73.4h1.0M153.1 73.4h1.0M166.2 73.4h1.0M188.2 73.4h1.0M31.0 76.7h1.0M36.0 76.7h1.0M39.0 76.7h1.0M47.0 76.7h1.0M60.0 76.7h1.0M78.1 76.7h1.0M87.1 76.7h1.0M93.1 76.7h2.0M99.1 76.7h1.0M160.2 76.7h1.0M170.2 76.7h2.0M185.2 76.7h1.0M30.0 80.0h1.0M47.0 80.0h1.0M53.0 80.0h1.0M66.0 80.0h1.0M95.1 80.0h1.0M103.1 80.0h1.0M111.1 80.0h1.0M115.1 80.0h1.0M133.1 80.0h1.0M146.1 80.0h2.0M161.2 80.0h1.0M186.2 80.0h1.0M36.0 83.3h1.0M44.0 83.3h1.0M56.0 83.3h1.0M68.0 83.3h1.0M86.1 83.3h1.0M132.1 83.3h1.0M153.1 83.3h1.0M179.2 83.3h1.0M181.2 83.3h1.0M36.0 86.7h1.0M56.0 86.7h2.0M69.0 86.7h1.0M74.1 86.7h1.0M82.1 86.7h1.0M92.1 86.7h2.0M96.1 86.7h1.0M99.1 86.7h1.0M107.1 86.7h1.0M112.1 86.7h1.0M118.1 86.7h1.0M123.1 86.7h1.0M132.1 86.7h1.0M153.1 86.7h2.0M163.2 86.7h1.0M172.2 86.7h1.0M186.2 86.7h1.0M197.2 86.7h1.0M35.0 90.0h1.0M64.0 90.0h1.0M87.1 90.0h1.0M143.1 90.0h1.0M162.2 90.0h1.0M177.2 90.0h2.0M42.0 93.3h1.0M46.0 93.3h1.0M64.0 93.3h1.0M84.1 93.3h1.0M87.1 93.3h1.0M117.1 93.3h1.0M121.1 93.3h2.0M132.1 93.3h1.0M160.2 93.3h1.0M168.2 93.3h1.0M182.2 93.3h1.0M61.0 96.6h1.0M63.0 96.6h1.0M105.1 96.6h2.0M112.1 96.6h1.0M122.1 96.6h1.0M136.1 96.6h1.0M138.1 96.6h1.0M142.1 96.6h1.0M146.1 96.6h1.0M153.1 96.6h1.0M187.2 96.6h1.0M29.0 99.9h1.0M39.0 99.9h1.0M57.0 99.9h1.0M63.0 99.9h1.0M68.0 99.9h1.0M70.0 99.9h1.0M83.1 99.9h1.0M85.1 99.9h1.0M101.1 99.9h1.0M103.1 99.9h1.0M126.1 99.9h1.0M136.1 99.9h1.0M143.1 99.9h1.0M152.1 99.9h1.0M165.2 99.9h1.0M190.2 99.9h1.0M194.2 99.9h1.0M32.0 103.3h1.0M34.0 103.3h1.0M39.0 103.3h1.0M54.0 103.3h1.0M57.0 103.3h1.0M104.1 103.3h1.0M108.1 103.3h1.0M122.1 103.3h1.0M143.1 103.3h1.0M145.1 103.3h1.0M194.2 103.3h1.0M36.0 106.6h1.0M57.0 106.6h1.0M65.0 106.6h1.0M86.1 106.6h1.0M101.1 106.6h2.0M116.1 106.6h1.0M121.1 106.6h1.0M126.1 106.6h1.0M143.1 106.6h1.0M147.1 106.6h1.0M153.1 106.6h1.0M166.2 106.6h1.0M181.2 106.6h1.0M188.2 106.6h2.0M29.0 109.9h1.0M58.0 109.9h1.0M77.1 109.9h1.0M101.1 109.9h1.0M104.1 109.9h2.0M125.1 109.9h2.0M132.1 109.9h1.0M151.1 109.9h1.0M153.1 109.9h1.0M162.2 109.9h1.0M181.2 109.9h1.0M31.0 113.2h1.0M58.0 113.2h2.0M65.0 113.2h1.0M99.1 113.2h1.0M105.1 113.2h1.0M117.1 113.2h1.0M148.1 113.2h1.0M158.2 113.2h1.0M163.2 113.2h1.0M185.2 113.2h1.0M36.0 116.5h1.0M51.0 116.5h1.0M59.0 116.5h1.0M63.0 116.5h1.0M78.1 116.5h1.0M83.1 116.5h1.0M112.1 116.5h1.0M133.1 116.5h1.0M151.1 116.5h1.0M160.2 116.5h1.0M163.2 116.5h1.0M191.2 116.5h1.0M196.2 116.5h1.0M39.0 119.9h1.0M42.0 119.9h1.0M65.0 119.9h1.0M76.1 119.9h1.0M85.1 119.9h1.0M90.1 119.9h1.0M97.1 119.9h1.0M103.1 119.9h1.0M123.1 119.9h1.0M126.1 119.9h1.0M145.1 119.9h1.0M173.2 119.9h1.0M42.0 123.2h1.0M55.0 123.2h1.0M63.0 123.2h1.0M68.0 123.2h1.0M147.1 123.2h1.0M152.1 123.2h1.0M158.2 123.2h1.0M161.2 123.2h1.0M164.2 123.2h1.0M167.2 123.2h1.0M178.2 123.2h1.0M182.2 123.2h1.0M32.0 126.5h2.0M46.0 126.5h1.0M51.0 126.5h1.0M56.0 126.5h1.0M63.0 126.5h1.0M96.1 126.5h1.0M117.1 126.5h1.0M129.1 126.5h1.0M135.1 126.5h1.0M156.2 126.5h1.0M158.2 126.5h1.0M160.2 126.5h1.0M171.2 126.5h1.0M181.2 126.5h1.0M65.0 129.8h2.0M78.1 129.8h1.0M87.1 129.8h1.0M96.1 129.8h1.0M132.1 129.8h1.0M135.1 129.8h1.0M152.1 129.8h1.0M164.2 129.8h1.0M181.2 129.8h1.0M32.0 133.1h1.0M37.0 133.1h1.0M39.0 133.1h1.0M52.0 133.1h1.0M54.0 133.1h1.0M57.0 133.1h1.0M102.1 133.1h1.0M104.1 133.1h1.0M108.1 133.1h1.0M113.1 133.1h1.0M116.1 133.1h1.0M118.1 133.1h1.0M149.1 133.1h1.0M175.2 133.1h1.0M182.2 133.1h1.0M184.2 133.1h1.0M189.2 133.1h2.0M38.0 136.5h1.0M42.0 136.5h1.0M47.0 136.5h1.0M57.0 136.5h1.0M65.0 136.5h1.0M87.1 136.5h1.0M99.1 136.5h2.0M105.1 136.5h1.0M116.1 136.5h1.0M120.1 136.5h1.0M132.1 136.5h1.0M139.1 136.5h1.0M147.1 136.5h1.0M160.2 136.5h1.0M166.2 136.5h1.0M177.2 136.5h1.0M182.2 136.5h2.0M190.2 136.5h1.0M32.0 139.8h1.0M46.0 139.8h1.0M57.0 139.8h1.0M62.0 139.8h1.0M64.0 139.8h1.0M90.1 139.8h1.0M92.1 139.8h1.0M97.1 139.8h1.0M122.1 139.8h1.0M162.2 139.8h1.0M165.2 139.8h1.0M181.2 139.8h1.0M183.2 139.8h1.0M188.2 139.8h2.0M52.0 143.1h1.0M61.0 143.1h1.0M106.1 143.1h1.0M132.1 143.1h1.0M136.1 143.1h1.0M188.2 143.1h1.0M29.0 146.4h1.0M43.0 146.4h1.0M54.0 146.4h1.0M65.0 146.4h1.0M69.0 146.4h1.0M108.1 146.4h2.0M111.1 146.4h1.0M116.1 146.4h1.0M160.2 146.4h1.0M184.2 146.4h1.0M57.0 149.7h1.0M65.0 149.7h1.0M87.1 149.7h1.0M89.1 149.7h1.0M97.1 149.7h1.0M104.1 149.7h1.0M108.1 149.7h1.0M122.1 149.7h1.0M175.2 149.7h1.0M189.2 149.7h1.0M38.0 153.1h1.0M40.0 153.1h1.0M55.0 153.1h1.0M59.0 153.1h1.0M89.1 153.1h1.0M94.1 153.1h1.0M104.1 153.1h1.0M160.2 153.1h1.0M34.0 156.4h1.0M42.0 156.4h1.0M84.1 156.4h2.0M102.1 156.4h1.0M120.1 156.4h1.0M134.1 156.4h1.0M138.1 156.4h1.0M179.2 156.4h1.0M197.2 156.4h1.0M32.0 159.7h1.0M46.0 159.7h1.0M52.0 159.7h1.0M87.1 159.7h1.0M132.1 159.7h1.0M150.1 159.7h1.0M154.1 159.7h1.0M158.2 159.7h2.0M185.2 159.7h1.0M36.0 163.0h1.0M77.1 163.0h1.0M84.1 163.0h2.0M116.1 163.0h1.0M165.2 163.0h1.0M36.0 166.3h1.0M38.0 166.3h1.0M42.0 166.3h1.0M58.0 166.3h1.0M63.0 166.3h2.0M68.0 166.3h1.0M84.1 166.3h1.0M86.1 166.3h1.0M94.1 166.3h1.0M104.1 166.3h1.0M112.1 166.3h1.0M147.1 166.3h1.0M165.2 166.3h1.0M34.0 169.7h1.0M43.0 169.7h1.0M50.0 169.7h3.0M77.1 169.7h1.0M85.1 169.7h1.0M87.1 169.7h1.0M117.1 169.7h1.0M125.1 169.7h1.0M138.1 169.7h1.0M150.1 169.7h1.0M175.2 169.7h1.0M37.0 173.0h1.0M50.0 173.0h1.0M77.1 173.0h1.0M86.1 173.0h1.0M107.1 173.0h1.0M118.1 173.0h1.0M132.1 173.0h1.0M139.1 173.0h1.0M163.2 173.0h1.0M180.2 173.0h1.0M84.1 176.4h1.0M97.1 176.4h1.0M115.1 176.4h1.0M122.1 176.4h1.0M129.1 176.4h1.0M148.1 176.4h1.0M151.1 176.4h1.0M158.2 176.4h1.0M196.2 176.4h1.0M30.0 179.7h2.0M44.0 179.7h1.0M50.0 179.7h1.0M52.0 179.7h1.0M64.0 179.7h1.0M66.0 179.7h1.0M80.1 179.7h1.0M84.1 179.7h1.0M98.1 179.7h1.0M108.1 179.7h1.0M132.1 179.7h1.0M166.2 179.7h1.0M175.2 179.7h1.0M31.0 183.0h1.0M33.0 183.0h1.0M36.0 183.0h1.0M39.0 183.0h1.0M60.0 183.0h1.0M65.0 183.0h1.0M73.1 183.0h1.0M78.1 183.0h1.0M90.1 183.0h1.0M104.1 183.0h1.0M108.1 183.0h1.0M111.1 183.0h1.0M154.1 183.0h1.0M163.2 183.0h1.0M168.2 183.0h1.0M187.2 183.0h2.0M30.0 186.4h1.0M44.0 186.4h1.0M48.0 186.4h1.0M63.0 186.4h1.0M65.0 186.4h1.0M97.1 186.4h1.0M100.1 186.4h1.0M111.1 186.4h1.0M117.1 186.4h1.0M129.1 186.4h1.0M137.1 186.4h1.0M142.1 186.4h1.0M150.1 186.4h1.0M170.2 186.4h1.0M37.0 189.7h2.0M58.0 189.7h1.0M65.0 189.7h1.0M72.1 189.7h2.0M95.1 189.7h2.0M107.1 189.7h1.0M133.1 189.7h1.0M139.1 189.7h1.0M148.1 189.7h1.0M156.2 189.7h1.0M183.2 189.7h1.0M187.2 189.7h2.0M30.0 193.1h1.0M34.0 193.1h1.0M51.0 193.1h1.0M56.0 193.1h1.0M73.1 193.1h2.0M78.1 193.1h1.0M85.1 193.1h1.0M95.1 193.1h1.0M104.1 193.1h1.0M121.1 193.1h1.0M128.1 193.1h1.0M137.1 193.1h1.0M156.2 193.1h1.0M31.0 196.4h1.0M39.0 196.4h1.0M43.0 196.4h1.0M58.0 196.4h1.0M69.0 196.4h1.0M87.1 196.4h1.0M90.1 196.4h1.0M93.1 196.4h1.0M100.1 196.4h1.0M103.1 196.4h2.0M106.1 196.4h1.0M122.1 196.4h1.0M140.1 196.4h1.0M164.2 196.4h1.0M169.2 196.4h1.0M197.2 196.4h1.0M43.0 199.7h1.0M60.0 199.7h1.0M65.0 199.7h1.0M78.1 199.7h1.0M83.1 199.7h1.0M86.1 199.7h1.0M90.1 199.7h1.0M93.1 199.7h1.0M98.1 199.7h1.0M133.1 199.7h1.0M157.2 199.7h1.0M165.2 199.7h1.0M193.2 199.7h1.0M33.0 203.1h2.0M66.0 203.1h1.0M77.1 203.1h2.0M90.1 203.1h2.0M109.1 203.1h1.0M122.1 203.1h1.0M153.1 203.1h1.0M155.1 203.1h1.0M29.0 206.4h1.0M36.0 206.4h1.0M44.0 206.4h1.0M59.0 206.4h1.0M73.1 206.4h1.0M88.1 206.4h1.0M119.1 206.4h1.0M156.2 206.4h1.0M161.2 206.4h1.0M165.2 206.4h1.0M170.2 206.4h1.0M172.2 206.4h1.0M29.0 209.8h6.0M38.0 209.8h1.0M52.0 209.8h1.0M55.0 209.8h1.0M57.0 209.8h1.0M61.0 209.8h1.0M63.0 209.8h1.0M82.1 209.8h1.0M90.1 209.8h1.0M97.1 209.8h1.0M100.1 209.8h1.0M104.1 209.8h1.0M131.1 209.8h1.0M153.1 209.8h1.0M170.2 209.8h1.0M183.2 209.8h1.0M194.2 209.8h1.0M30.0 213.1h2.0M33.0 213.1h2.0M41.0 213.1h2.0M58.0 213.1h1.0M69.0 213.1h1.0M82.1 213.1h1.0M85.1 213.1h1.0M99.1 213.1h1.0M104.1 213.1h1.0M134.1 213.1h1.0M136.1 213.1h1.0M142.1 213.1h1.0M151.1 213.1h1.0M157.2 213.1h1.0M166.2 213.1h1.0M29.0 216.4h1.0M32.0 216.4h1.0M34.0 216.4h1.0M37.0 216.4h1.0M46.0 216.4h1.0M52.0 216.4h1.0M58.0 216.4h2.0M62.0 216.4h1.0M73.1 216.4h1.0M85.1 216.4h1.0M95.1 216.4h1.0M97.1 216.4h1.0M103.1 216.4h1.0M106.1 216.4h1.0M120.1 216.4h1.0M123.1 216.4h1.0M139.1 216.4h1.0M142.1 216.4h1.0M151.1 216.4h1.0M158.2 216.4h1.0M172.2 216.4h1.0M184.2 216.4h1.0M196.2 216.4h1.0M29.0 219.8h1.0M31.0 219.8h1.0M33.0 219.8h1.0M38.0 219.8h2.0M44.0 219.8h1.0M50.0 219.8h1.0M80.1 219.8h2.0M86.1 219.8h1.0M96.1 219.8h1.0M106.1 219.8h1.0M108.1 219.8h1.0M120.1 219.8h1.0M130.1 219.8h1.0M184.2 219.8h1.0M193.2 219.8h1.0M39.0 223.1h1.0M96.1 223.1h1.0M118.1 223.1h1.0M135.1 223.1h1.0M139.1 223.1h1.0M151.1 223.1h1.0M165.2 223.1h1.0M169.2 223.1h1.0M177.2 223.1h1.0M184.2 223.1h1.0M193.2 223.1h1.0M31.0 226.4h1.0M52.0 226.4h1.0M81.1 226.4h1.0M90.1 226.4h1.0M101.1 226.4h1.0M104.1 226.4h1.0M108.1 226.4h2.0M120.1 226.4h1.0M142.1 226.4h1.0M166.2 226.4h1.0M181.2 226.4h2.0M193.2 226.4h1.0M34.0 229.8h1.0M79.1 229.8h1.0M82.1 229.8h1.0M95.1 229.8h1.0M108.1 229.8h1.0M193.2 229.8h1.0M83.1 233.1h1.0M90.1 233.1h1.0M95.1 233.1h2.0M106.1 233.1h2.0M111.1 233.1h1.0M132.1 233.1h1.0M153.1 233.1h1.0M166.2 233.1h2.0M183.2 233.1h1.0M40.0 236.5h1.0M44.0 236.5h1.0M66.0 236.5h1.0M75.1 236.5h1.0M77.1 236.5h1.0M83.1 236.5h1.0M100.1 236.5h1.0M151.1 236.5h1.0M168.2 236.5h1.0M191.2 236.5h1.0M31.0 239.8h1.0M35.0 239.8h1.0M63.0 239.8h1.0M67.0 239.8h1.0M69.0 239.8h1.0M78.1 239.8h1.0M149.1 239.8h1.0M165.2 239.8h1.0M168.2 239.8h1.0M196.2 239.8h1.0M39.0 243.2h1.0M65.0 243.2h1.0M76.1 243.2h2.0M81.1 243.2h1.0M83.1 243.2h1.0M85.1 243.2h1.0M89.1 243.2h2.0M93.1 243.2h1.0M132.1 243.2h1.0M144.1 243.2h1.0M147.1 243.2h1.0M151.1 243.2h1.0M153.1 243.2h1.0M165.2 243.2h1.0M176.2 243.2h1.0M186.2 243.2h1.0M59.0 246.5h1.0M67.0 246.5h1.0M75.1 246.5h1.0M95.1 246.5h1.0M101.1 246.5h1.0M117.1 246.5h1.0M137.1 246.5h1.0M166.2 246.5h1.0M195.2 246.5h2.0M35.0 249.8h1.0M68.0 249.8h2.0M84.1 249.8h1.0M93.1 249.8h1.0M99.1 249.8h1.0M103.1 249.8h1.0M117.1 249.8h1.0M122.1 249.8h1.0M137.1 249.8h1.0M144.1 249.8h1.0M158.2 249.8h1.0M169.2 249.8h1.0M176.2 249.8h1.0M194.2 249.8h1.0M196.2 249.8h2.0M35.0 253.2h1.0M41.0 253.2h1.0M58.0 253.2h1.0M79.1 253.2h1.0M91.1 253.2h1.0M133.1 253.2h1.0M142.1 253.2h1.0M158.2 253.2h1.0M164.2 253.2h2.0M172.2 253.2h1.0M195.2 253.2h1.0M38.0 256.5h2.0M53.0 256.5h1.0M57.0 256.5h2.0M64.0 256.5h1.0M69.0 256.5h1.0M72.1 256.5h1.0M82.1 256.5h1.0M103.1 256.5h1.0M108.1 256.5h1.0M133.1 256.5h1.0M135.1 256.5h1.0M193.2 256.5h1.0M34.0 259.9h1.0M52.0 259.9h2.0M79.1 259.9h1.0M104.1 259.9h1.0M109.1 259.9h1.0M151.1 259.9h1.0M93.1 263.2h1.0M104.1 263.2h1.0M135.1 263.2h1.0M169.2 263.2h1.0M37.0 266.5h1.0M40.0 266.5h2.0M43.0 266.5h1.0M61.0 266.5h1.0M69.0 266.5h1.0M83.1 266.5h1.0M108.1 266.5h1.0M120.1 266.5h1.0M122.1 266.5h1.0M143.1 266.5h1.0M146.1 266.5h1.0M158.2 266.5h1.0M161.2 266.5h1.0M182.2 266.5h1.0M187.2 266.5h1.0M30.0 269.9h1.0M56.0 269.9h1.0M59.0 269.9h1.0M78.1 269.9h1.0M86.1 269.9h1.0M96.1 269.9h1.0M99.1 269.9h2.0M110.1 269.9h1.0M139.1 269.9h1.0M148.1 269.9h1.0M151.1 269.9h1.0M193.2 269.9h1.0M39.0 273.2h1.0M55.0 273.2h1.0M57.0 273.2h1.0M69.0 273.2h1.0M71.0 273.2h1.0M74.1 273.2h1.0M90.1 273.2h1.0M93.1 273.2h1.0M98.1 273.2h1.0M118.1 273.2h1.0M122.1 273.2h1.0M139.1 273.2h1.0M36.0 276.6h1.0M40.0 276.6h1.0M57.0 276.6h1.0M77.1 276.6h1.0M81.1 276.6h1.0M94.1 276.6h1.0M100.1 276.6h1.0M108.1 276.6h1.0M132.1 276.6h1.0M144.1 276.6h1.0M163.2 276.6h1.0M183.2 276.6h2.0M30.0 279.9h1.0M39.0 279.9h1.0M73.1 279.9h1.0M87.1 279.9h1.0M104.1 279.9h1.0M33.0 283.2h1.0M37.0 283.2h1.0M39.0 283.2h1.0M43.0 283.2h1.0M46.0 283.2h1.0M64.0 283.2h1.0M77.1 283.2h1.0M80.1 283.2h2.0M131.1 283.2h1.0M133.1 283.2h1.0M135.1 283.2h1.0M142.1 283.2h1.0M164.2 283.2h1.0M167.2 283.2h1.0M177.2 283.2h1.0M180.2 283.2h1.0M184.2 283.2h1.0M194.2 283.2h2.0M31.0 286.6h1.0M33.0 286.6h1.0M39.0 286.6h1.0M41.0 286.6h1.0M43.0 286.6h1.0M52.0 286.6h1.0M57.0 286.6h1.0M63.0 286.6h1.0M75.1 286.6h2.0M81.1 286.6h1.0M86.1 286.6h1.0M103.1 286.6h1.0M158.2 286.6h1.0M168.2 286.6h1.0M187.2 286.6h1.0M196.2 286.6h1.0M44.0 289.9h1.0M77.1 289.9h1.0M88.1 289.9h1.0M103.1 289.9h1.0M132.1 289.9h1.0M166.2 289.9h1.0M183.2 289.9h1.0M29.0 293.2h1.0M33.0 293.2h1.0M36.0 293.2h1.0M50.0 293.2h1.0M60.0 293.2h1.0M64.0 293.2h1.0M72.1 293.2h1.0M77.1 293.2h1.0M146.1 293.2h1.0M166.2 293.2h1.0M182.2 293.2h1.0M56.0 296.6h1.0M77.1 296.6h1.0M84.1 296.6h1.0M97.1 296.6h1.0M101.1 296.6h1.0M129.1 296.6h1.0M145.1 296.6h1.0M169.2 296.6h1.0M29.0 299.9h1.0M43.0 299.9h1.0M58.0 299.9h1.0M65.0 299.9h1.0M83.1 299.9h1.0M93.1 299.9h1.0M96.1 299.9h1.0M101.1 299.9h2.0M128.1 299.9h1.0M146.1 299.9h1.0M152.1 299.9h1.0M163.2 299.9h1.0M167.2 299.9h2.0M40.0 303.3h1.0M55.0 303.3h3.0M84.1 303.3h1.0M94.1 303.3h2.0M132.1 303.3h1.0M149.1 303.3h1.0M164.2 303.3h1.0M183.2 303.3h1.0M196.2 303.3h1.0M31.0 306.6h1.0M36.0 306.6h1.0M42.0 306.6h1.0M85.1 306.6h1.0M111.1 306.6h1.0M119.1 306.6h1.0M136.1 306.6h1.0M150.1 306.6h1.0M163.2 306.6h1.0M188.2 306.6h1.0M193.2 306.6h1.0M195.2 306.6h1.0M29.0 309.9h2.0M36.0 309.9h1.0M46.0 309.9h1.0M62.0 309.9h1.0M77.1 309.9h1.0M90.1 309.9h1.0M92.1 309.9h1.0M109.1 309.9h1.0M116.1 309.9h1.0M119.1 309.9h1.0M131.1 309.9h1.0M147.1 309.9h1.0M149.1 309.9h1.0M158.2 309.9h1.0M169.2 309.9h1.0M171.2 309.9h1.0M183.2 309.9h1.0M34.0 313.3h1.0M36.0 313.3h1.0M38.0 313.3h1.0M58.0 313.3h1.0M120.1 313.3h1.0M160.2 313.3h1.0M29.0 316.6h2.0M39.0 316.6h1.0M43.0 316.6h1.0M45.0 316.6h1.0M62.0 316.6h1.0M73.1 316.6h1.0M78.1 316.6h1.0M82.1 316.6h1.0M103.1 316.6h2.0M122.1 316.6h1.0M30.0 320.0h3.0M40.0 320.0h1.0M56.0 320.0h1.0M67.0 320.0h1.0M77.1 320.0h1.0M81.1 320.0h1.0M97.1 320.0h1.0M103.1 320.0h1.0M108.1 320.0h1.0M119.1 320.0h1.0M174.2 320.0h1.0M187.2 320.0h1.0M38.0 323.4h1.0M45.0 323.4h1.0M53.0 323.4h1.0M75.1 323.4h1.0M88.1 323.4h1.0M98.1 323.4h1.0M101.1 323.4h1.0M103.1 323.4h1.0M117.1 323.4h3.0M167.2 323.4h1.0M30.0 326.8h1.0M32.0 326.8h1.0M42.0 326.8h1.0M49.0 326.8h1.0M56.0 326.8h1.0M58.0 326.8h1.0M68.0 326.8h1.0M78.1 326.8h1.0M117.1 326.8h1.0M126.1 326.8h1.0M58.0 330.2h1.0M71.0 330.2h1.0M78.1 330.2h1.0M90.1 330.2h1.0M95.1 330.2h1.0M135.1 330.2h1.0M161.2 330.2h1.0M30.0 333.6h1.0M33.0 333.6h1.0M44.0 333.6h1.0M63.0 333.6h1.0M67.0 333.6h1.0M72.1 333.6h1.0M90.1 333.6h2.0M95.1 333.6h1.0M98.1 333.6h2.0M108.1 333.6h1.0M123.1 333.6h1.0M147.1 333.6h1.0M158.2 333.6h1.0M161.2 333.6h1.0M44.0 337.0h1.0M60.0 337.0h1.0M67.0 337.0h1.0M72.1 337.0h1.0M76.1 337.0h2.0M89.1 337.0h1.0M182.2 337.0h1.0M30.0 340.4h1.0M36.0 340.4h1.0M39.0 340.4h1.0M49.0 340.4h1.0M56.0 340.4h2.0M60.0 340.4h1.0M76.1 340.4h2.0M91.1 340.4h1.0M93.1 340.4h1.0M97.1 340.4h1.0M103.1 340.4h1.0M108.1 340.4h1.0M112.1 340.4h1.0M124.1 340.4h1.0M164.2 340.4h1.0M167.2 340.4h1.0M169.2 340.4h1.0M182.2 340.4h1.0M190.2 340.4h1.0M39.0 343.8h1.0M44.0 343.8h1.0M56.0 343.8h1.0M133.1 343.8h1.0M160.2 343.8h1.0M164.2 343.8h1.0M34.0 347.2h1.0M39.0 347.2h1.0M45.0 347.2h1.0M49.0 347.2h1.0M56.0 347.2h2.0M65.0 347.2h1.0M72.1 347.2h1.0M91.1 347.2h1.0M95.1 347.2h2.0M98.1 347.2h1.0M103.1 347.2h2.0M108.1 347.2h1.0M118.1 347.2h1.0M135.1 347.2h1.0M167.2 347.2h1.0M182.2 347.2h1.0M187.2 347.2h1.0M190.2 347.2h1.0M43.0 350.6h1.0M73.1 350.6h1.0M87.1 350.6h1.0M98.1 350.6h1.0M101.1 350.6h1.0M103.1 350.6h1.0M123.1 350.6h2.0M126.1 350.6h1.0M132.1 350.6h1.0M36.0 354.1h1.0M56.0 354.1h1.0M73.1 354.1h1.0M84.1 354.1h1.0M95.1 354.1h1.0M101.1 354.1h1.0M103.1 354.1h1.0M119.1 354.1h1.0M154.1 354.1h1.0M45.0 357.5h2.0M67.0 357.5h1.0M75.1 357.5h2.0M95.1 357.5h1.0M99.1 357.5h1.0M177.2 357.5h1.0M187.2 357.5h1.0M49.0 360.9h1.0M56.0 360.9h2.0M67.0 360.9h1.0M69.0 360.9h1.0M72.1 360.9h2.0M75.1 360.9h1.0M88.1 360.9h1.0M99.1 360.9h1.0M123.1 360.9h1.0M132.1 360.9h1.0M135.1 360.9h1.0M143.1 360.9h1.0M147.1 360.9h1.0M156.2 360.9h1.0M164.2 360.9h1.0M187.2 360.9h1.0M31.0 364.3h2.0M35.0 364.3h1.0M38.0 364.3h1.0M42.0 364.3h2.0M46.0 364.3h1.0M49.0 364.3h1.0M97.1 364.3h2.0M107.1 364.3h1.0M118.1 364.3h1.0M122.1 364.3h2.0M126.1 364.3h1.0M187.2 364.3h1.0M36.0 367.7h1.0M56.0 367.7h2.0M71.0 367.7h1.0M101.1 367.7h1.0M103.1 367.7h1.0M122.1 367.7h1.0M38.0 371.1h1.0M42.0 371.1h1.0M44.0 371.1h1.0M46.0 371.1h1.0M57.0 371.1h1.0M71.0 371.1h1.0M76.1 371.1h1.0M84.1 371.1h1.0M99.1 371.1h1.0M108.1 371.1h1.0M117.1 371.1h1.0M147.1 371.1h1.0M174.2 371.1h1.0M39.0 374.5h1.0M43.0 374.5h2.0M59.0 374.5h1.0M76.1 374.5h1.0M81.1 374.5h1.0M90.1 374.5h1.0M96.1 374.5h2.0M111.1 374.5h1.0M154.1 374.5h1.0M177.2 374.5h1.0M182.2 374.5h1.0M30.0 377.9h1.0M46.0 377.9h1.0M76.1 377.9h1.0M89.1 377.9h1.0M96.1 377.9h1.0M99.1 377.9h1.0M101.1 377.9h2.0M104.1 377.9h1.0M119.1 377.9h1.0M123.1 377.9h1.0M134.1 377.9h1.0M156.2 377.9h1.0M169.2 377.9h1.0M177.2 377.9h1.0M186.2 377.9h1.0M32.0 381.3h1.0M34.0 381.3h1.0M36.0 381.3h1.0M44.0 381.3h1.0M58.0 381.3h1.0M75.1 381.3h1.0M84.1 381.3h1.0M91.1 381.3h1.0M99.1 381.3h1.0M126.1 381.3h1.0M154.1 381.3h1.0M160.2 381.3h1.0M164.2 381.3h1.0M169.2 381.3h1.0M177.2 381.3h1.0M186.2 381.3h1.0M32.0 384.7h1.0M67.0 384.7h1.0M71.0 384.7h1.0M75.1 384.7h1.0M87.1 384.7h1.0M98.1 384.7h1.0M100.1 384.7h1.0M103.1 384.7h1.0M124.1 384.7h1.0M126.1 384.7h1.0M134.1 384.7h1.0M160.2 384.7h1.0M169.2 384.7h1.0M173.2 384.7h1.0M187.2 384.7h1.0M49.0 388.1h1.0M81.1 388.1h1.0M84.1 388.1h1.0M93.1 388.1h1.0M95.1 388.1h1.0M97.1 388.1h1.0M100.1 388.1h1.0M102.1 388.1h1.0M132.1 388.1h1.0M36.0 391.5h1.0M51.0 391.5h1.0M92.1 391.5h1.0M101.1 391.5h1.0M108.1 391.5h2.0M120.1 391.5h1.0M152.1 391.5h1.0M163.2 391.5h1.0M47.0 394.9h1.0M83.1 394.9h1.0M92.1 394.9h1.0M98.1 394.9h2.0M102.1 394.9h1.0M109.1 394.9h1.0M117.1 394.9h1.0M158.2 394.9h1.0M163.2 394.9h1.0M187.2 394.9h1.0M191.2 394.9h1.0M30.0 398.3h1.0M72.1 398.3h1.0M76.1 398.3h1.0M94.1 398.3h1.0M96.1 398.3h1.0M102.1 398.3h1.0M135.1 398.3h1.0M30.0 401.7h1.0M41.0 401.7h1.0M46.0 401.7h1.0M70.0 401.7h1.0M77.1 401.7h1.0M104.1 401.7h1.0M126.1 401.7h1.0M135.1 401.7h1.0M158.2 401.7h1.0M32.0 405.1h1.0M37.0 405.1h1.0M41.0 405.1h1.0M44.0 405.1h1.0M66.0 405.1h1.0M72.1 405.1h1.0M80.1 405.1h1.0M82.1 405.1h1.0M87.1 405.1h1.0M110.1 405.1h1.0M147.1 405.1h1.0M160.2 405.1h1.0M59.0 408.5h1.0M65.0 408.5h1.0M94.1 408.5h2.0M99.1 408.5h1.0M105.1 408.5h2.0M109.1 408.5h1.0M159.2 408.5h1.0M178.2 408.5h1.0M54.0 411.9h1.0M75.1 411.9h1.0M84.1 411.9h1.0M94.1 411.9h2.0M106.1 411.9h1.0M109.1 411.9h1.0M145.1 411.9h1.0M153.1 411.9h1.0M157.2 411.9h2.0M34.0 415.3h1.0M53.0 415.3h2.0M59.0 415.3h1.0M63.0 415.3h1.0M77.1 415.3h1.0M94.1 415.3h1.0M136.1 415.3h1.0M138.1 415.3h1.0M145.1 415.3h1.0M147.1 415.3h1.0M32.0 418.7h1.0M38.0 418.7h1.0M66.0 418.7h1.0M112.1 418.7h1.0M146.1 418.7h1.0M164.2 418.7h1.0M191.2 418.7h1.0M32.0 422.1h1.0M37.0 422.1h1.0M41.0 422.1h1.0M43.0 422.1h1.0M75.1 422.1h1.0M96.1 422.1h1.0M112.1 422.1h1.0M129.1 422.1h1.0M132.1 422.1h1.0M153.1 422.1h1.0M156.2 422.1h1.0M184.2 422.1h1.0M194.2 422.1h1.0M37.0 425.5h1.0M40.0 425.5h2.0M84.1 425.5h1.0M99.1 425.5h1.0M152.1 425.5h2.0M158.2 425.5h1.0M175.2 425.5h1.0M30.0 428.9h1.0M60.0 428.9h1.0M67.0 428.9h1.0M87.1 428.9h1.0M117.1 428.9h1.0M123.1 428.9h1.0M170.2 428.9h1.0M175.2 428.9h1.0M177.2 428.9h1.0M197.2 428.9h1.0M29.0 432.3h1.0M40.0 432.3h1.0M42.0 432.3h1.0M45.0 432.3h1.0M48.0 432.3h1.0M60.0 432.3h1.0M63.0 432.3h1.0M70.0 432.3h1.0M75.1 432.3h1.0M82.1 432.3h1.0M123.1 432.3h1.0M127.1 432.3h1.0M130.1 432.3h1.0M135.1 432.3h1.0M163.2 432.3h2.0M30.0 435.7h1.0M41.0 435.7h1.0M44.0 435.7h1.0M46.0 435.7h1.0M55.0 435.7h1.0M63.0 435.7h1.0M70.0 435.7h2.0M75.1 435.7h1.0M78.1 435.7h1.0M81.1 435.7h1.0M89.1 435.7h1.0M104.1 435.7h1.0M130.1 435.7h2.0M135.1 435.7h1.0M166.2 435.7h1.0M177.2 435.7h1.0M41.0 439.1h1.0M66.0 439.1h1.0M94.1 439.1h1.0M111.1 439.1h1.0M131.1 439.1h1.0M136.1 439.1h1.0M32.0 442.5h1.0M47.0 442.5h1.0M99.1 442.5h1.0M101.1 442.5h1.0M110.1 442.5h1.0M113.1 442.5h1.0M136.1 442.5h1.0M163.2 442.5h2.0M77.1 445.9h1.0M133.1 445.9h1.0M163.2 445.9h1.0M167.2 445.9h1.0M175.2 445.9h1.0M181.2 445.9h1.0M197.2 445.9h1.0M32.0 449.3h1.0M38.0 449.3h2.0M48.0 449.3h1.0M78.1 449.3h1.0M83.1 449.3h1.0M95.1 449.3h1.0M123.1 449.3h1.0M152.1 449.3h1.0M160.2 449.3h1.0M163.2 449.3h1.0M169.2 449.3h1.0" stroke="#6f6740" stroke-width="3.45" fill="none"/>
<path d="M40.0 36.9h1.0M43.0 36.9h1.0M56.0 36.9h1.0M72.1 36.9h1.0M74.1 36.9h1.0M81.1 36.9h1.0M83.1 36.9h1.0M86.1 36.9h1.0M106.1 36.9h1.0M108.1 36.9h1.0M119.1 36.9h1.0M121.1 36.9h1.0M127.1 36.9h1.0M131.1 36.9h1.0M138.1 36.9h1.0M152.1 36.9h1.0M169.2 36.9h1.0M178.2 36.9h1.0M193.2 36.9h1.0M34.0 40.2h1.0M54.0 40.2h1.0M58.0 40.2h1.0M71.0 40.2h2.0M74.1 40.2h1.0M113.1 40.2h1.0M116.1 40.2h1.0M124.1 40.2h1.0M127.1 40.2h1.0M140.1 40.2h1.0M150.1 40.2h1.0M156.2 40.2h1.0M164.2 40.2h1.0M172.2 40.2h2.0M179.2 40.2h1.0M190.2 40.2h2.0M194.2 40.2h2.0M33.0 43.5h1.0M44.0 43.5h1.0M51.0 43.5h1.0M53.0 43.5h1.0M72.1 43.5h1.0M75.1 43.5h1.0M82.1 43.5h1.0M97.1 43.5h1.0M100.1 43.5h1.0M102.1 43.5h1.0M116.1 43.5h1.0M120.1 43.5h1.0M130.1 43.5h1.0M137.1 43.5h1.0M143.1 43.5h1.0M158.2 43.5h1.0M169.2 43.5h1.0M194.2 43.5h1.0M34.0 46.8h1.0M38.0 46.8h1.0M42.0 46.8h1.0M50.0 46.8h1.0M62.0 46.8h1.0M64.0 46.8h1.0M68.0 46.8h1.0M89.1 46.8h1.0M98.1 46.8h1.0M109.1 46.8h1.0M119.1 46.8h1.0M124.1 46.8h2.0M129.1 46.8h1.0M131.1 46.8h1.0M134.1 46.8h1.0M136.1 46.8h1.0M154.1 46.8h2.0M169.2 46.8h1.0M174.2 46.8h1.0M184.2 46.8h1.0M194.2 46.8h1.0M38.0 50.1h1.0M46.0 50.1h1.0M51.0 50.1h1.0M65.0 50.1h2.0M73.1 50.1h1.0M88.1 50.1h1.0M97.1 50.1h2.0M107.1 50.1h2.0M127.1 50.1h2.0M139.1 50.1h1.0M149.1 50.1h1.0M164.2 50.1h1.0M168.2 50.1h1.0M172.2 50.1h1.0M182.2 50.1h1.0M188.2 50.1h1.0M33.0 53.5h1.0M35.0 53.5h1.0M55.0 53.5h1.0M65.0 53.5h1.0M67.0 53.5h1.0M77.1 53.5h1.0M89.1 53.5h1.0M92.1 53.5h1.0M97.1 53.5h1.0M105.1 53.5h1.0M109.1 53.5h1.0M113.1 53.5h1.0M123.1 53.5h1.0M127.1 53.5h1.0M141.1 53.5h1.0M151.1 53.5h1.0M153.1 53.5h1.0M175.2 53.5h1.0M193.2 53.5h1.0M31.0 56.8h1.0M50.0 56.8h1.0M57.0 56.8h1.0M62.0 56.8h1.0M80.1 56.8h1.0M91.1 56.8h1.0M101.1 56.8h1.0M106.1 56.8h1.0M120.1 56.8h2.0M146.1 56.8h1.0M152.1 56.8h1.0M154.1 56.8h1.0M157.2 56.8h1.0M172.2 56.8h1.0M175.2 56.8h2.0M178.2 56.8h1.0M180.2 56.8h1.0M29.0 60.1h1.0M37.0 60.1h2.0M55.0 60.1h1.0M67.0 60.1h1.0M70.0 60.1h1.0M74.1 60.1h1.0M77.1 60.1h1.0M79.1 60.1h1.0M106.1 60.1h1.0M112.1 60.1h1.0M129.1 60.1h1.0M140.1 60.1h1.0M152.1 60.1h1.0M180.2 60.1h1.0M186.2 60.1h1.0M197.2 60.1h1.0M40.0 63.4h1.0M58.0 63.4h1.0M66.0 63.4h1.0M73.1 63.4h1.0M75.1 63.4h1.0M77.1 63.4h1.0M79.1 63.4h1.0M98.1 63.4h1.0M102.1 63.4h1.0M118.1 63.4h1.0M128.1 63.4h1.0M158.2 63.4h1.0M170.2 63.4h1.0M175.2 63.4h1.0M181.2 63.4h1.0M188.2 63.4h1.0M40.0 66.7h1.0M43.0 66.7h1.0M49.0 66.7h1.0M69.0 66.7h1.0M89.1 66.7h1.0M93.1 66.7h1.0M95.1 66.7h1.0M107.1 66.7h1.0M115.1 66.7h1.0M120.1 66.7h1.0M124.1 66.7h2.0M133.1 66.7h1.0M135.1 66.7h1.0M148.1 66.7h1.0M166.2 66.7h1.0M168.2 66.7h1.0M174.2 66.7h1.0M178.2 66.7h3.0M185.2 66.7h1.0M187.2 66.7h2.0M190.2 66.7h1.0M31.0 70.1h1.0M34.0 70.1h1.0M40.0 70.1h1.0M42.0 70.1h1.0M47.0 70.1h1.0M68.0 70.1h1.0M80.1 70.1h1.0M93.1 70.1h1.0M95.1 70.1h1.0M104.1 70.1h1.0M121.1 70.1h1.0M146.1 70.1h1.0M149.1 70.1h1.0M152.1 70.1h1.0M154.1 70.1h1.0M168.2 70.1h1.0M174.2 70.1h1.0M179.2 70.1h1.0M182.2 70.1h1.0M191.2 70.1h1.0M193.2 70.1h2.0M56.0 73.4h1.0M72.1 73.4h1.0M77.1 73.4h2.0M88.1 73.4h1.0M90.1 73.4h1.0M94.1 73.4h1.0M121.1 73.4h1.0M143.1 73.4h1.0M174.2 73.4h1.0M184.2 73.4h1.0M32.0 76.7h1.0M35.0 76.7h1.0M43.0 76.7h1.0M83.1 76.7h1.0M86.1 76.7h1.0M88.1 76.7h1.0M90.1 76.7h1.0M100.1 76.7h1.0M122.1 76.7h1.0M158.2 76.7h1.0M167.2 76.7h1.0M173.2 76.7h1.0M197.2 76.7h1.0M40.0 80.0h1.0M49.0 80.0h1.0M52.0 80.0h1.0M56.0 80.0h1.0M67.0 80.0h1.0M73.1 80.0h1.0M82.1 80.0h1.0M84.1 80.0h1.0M91.1 80.0h1.0M116.1 80.0h1.0M127.1 80.0h1.0M138.1 80.0h1.0M140.1 80.0h1.0M144.1 80.0h1.0M173.2 80.0h1.0M178.2 80.0h1.0M180.2 80.0h2.0M51.0 83.3h1.0M62.0 83.3h1.0M64.0 83.3h1.0M73.1 83.3h1.0M88.1 83.3h2.0M91.1 83.3h1.0M106.1 83.3h1.0M134.1 83.3h2.0M147.1 83.3h1.0M176.2 83.3h1.0M178.2 83.3h1.0M193.2 83.3h1.0M35.0 86.7h1.0M40.0 86.7h1.0M46.0 86.7h2.0M49.0 86.7h1.0M66.0 86.7h2.0M72.1 86.7h1.0M98.1 86.7h1.0M106.1 86.7h1.0M115.1 86.7h1.0M117.1 86.7h1.0M121.1 86.7h1.0M128.1 86.7h1.0M134.1 86.7h1.0M149.1 86.7h2.0M157.2 86.7h1.0M184.2 86.7h1.0M195.2 86.7h1.0M57.0 90.0h1.0M78.1 90.0h1.0M81.1 90.0h2.0M99.1 90.0h1.0M101.1 90.0h1.0M104.1 90.0h2.0M148.1 90.0h1.0M157.2 90.0h1.0M163.2 90.0h1.0M167.2 90.0h1.0M170.2 90.0h1.0M185.2 90.0h1.0M35.0 93.3h1.0M48.0 93.3h1.0M79.1 93.3h1.0M90.1 93.3h1.0M100.1 93.3h1.0M102.1 93.3h2.0M108.1 93.3h1.0M110.1 93.3h1.0M114.1 93.3h1.0M119.1 93.3h2.0M128.1 93.3h1.0M135.1 93.3h1.0M143.1 93.3h1.0M150.1 93.3h1.0M157.2 93.3h1.0M174.2 93.3h1.0M195.2 93.3h1.0M197.2 93.3h1.0M29.0 96.6h1.0M32.0 96.6h1.0M46.0 96.6h1.0M49.0 96.6h1.0M51.0 96.6h1.0M69.0 96.6h1.0M82.1 96.6h1.0M91.1 96.6h1.0M93.1 96.6h1.0M97.1 96.6h1.0M124.1 96.6h1.0M127.1 96.6h1.0M135.1 96.6h1.0M140.1 96.6h1.0M161.2 96.6h1.0M177.2 96.6h1.0M185.2 96.6h1.0M32.0 99.9h1.0M38.0 99.9h1.0M45.0 99.9h1.0M69.0 99.9h1.0M76.1 99.9h1.0M79.1 99.9h1.0M107.1 99.9h1.0M124.1 99.9h1.0M127.1 99.9h1.0M138.1 99.9h1.0M146.1 99.9h1.0M166.2 99.9h1.0M172.2 99.9h2.0M180.2 99.9h1.0M185.2 99.9h2.0M197.2 99.9h1.0M33.0 103.3h1.0M42.0 103.3h1.0M48.0 103.3h1.0M58.0 103.3h1.0M61.0 103.3h1.0M74.1 103.3h1.0M82.1 103.3h1.0M130.1 103.3h1.0M148.1 103.3h1.0M159.2 103.3h1.0M164.2 103.3h1.0M170.2 103.3h1.0M174.2 103.3h1.0M180.2 103.3h1.0M187.2 103.3h1.0M32.0 106.6h1.0M44.0 106.6h1.0M46.0 106.6h1.0M50.0 106.6h2.0M67.0 106.6h1.0M72.1 106.6h1.0M79.1 106.6h1.0M109.1 106.6h1.0M127.1 106.6h1.0M145.1 106.6h1.0M150.1 106.6h1.0M172.2 106.6h1.0M33.0 109.9h1.0M35.0 109.9h1.0M38.0 109.9h1.0M61.0 109.9h1.0M71.0 109.9h1.0M78.1 109.9h1.0M82.1 109.9h1.0M109.1 109.9h1.0M123.1 109.9h1.0M128.1 109.9h1.0M130.1 109.9h1.0M140.1 109.9h1.0M185.2 109.9h1.0M187.2 109.9h1.0M196.2 109.9h2.0M32.0 113.2h1.0M34.0 113.2h1.0M37.0 113.2h1.0M52.0 113.2h1.0M56.0 113.2h1.0M60.0 113.2h1.0M62.0 113.2h1.0M69.0 113.2h1.0M87.1 113.2h1.0M104.1 113.2h1.0M114.1 113.2h1.0M120.1 113.2h1.0M126.1 113.2h2.0M140.1 113.2h1.0M168.2 113.2h1.0M176.2 113.2h3.0M183.2 113.2h1.0M193.2 113.2h1.0M197.2 113.2h1.0M40.0 116.5h1.0M58.0 116.5h1.0M69.0 116.5h1.0M89.1 116.5h1.0M93.1 116.5h1.0M99.1 116.5h3.0M110.1 116.5h1.0M125.1 116.5h1.0M135.1 116.5h1.0M148.1 116.5h1.0M157.2 116.5h1.0M161.2 116.5h1.0M165.2 116.5h1.0M188.2 116.5h1.0M34.0 119.9h2.0M47.0 119.9h1.0M56.0 119.9h1.0M58.0 119.9h1.0M61.0 119.9h1.0M70.0 119.9h1.0M72.1 119.9h1.0M115.1 119.9h2.0M131.1 119.9h1.0M139.1 119.9h1.0M168.2 119.9h1.0M176.2 119.9h1.0M178.2 119.9h1.0M185.2 119.9h1.0M35.0 123.2h1.0M40.0 123.2h1.0M50.0 123.2h1.0M53.0 123.2h1.0M62.0 123.2h1.0M70.0 123.2h1.0M87.1 123.2h1.0M102.1 123.2h1.0M120.1 123.2h1.0M134.1 123.2h1.0M151.1 123.2h1.0M155.1 123.2h1.0M180.2 123.2h1.0M194.2 123.2h1.0M37.0 126.5h1.0M40.0 126.5h2.0M43.0 126.5h2.0M53.0 126.5h1.0M58.0 126.5h1.0M73.1 126.5h2.0M79.1 126.5h1.0M93.1 126.5h1.0M103.1 126.5h1.0M111.1 126.5h1.0M114.1 126.5h2.0M127.1 126.5h1.0M139.1 126.5h1.0M148.1 126.5h1.0M155.1 126.5h1.0M173.2 126.5h1.0M178.2 126.5h1.0M37.0 129.8h1.0M40.0 129.8h1.0M42.0 129.8h2.0M46.0 129.8h1.0M48.0 129.8h1.0M55.0 129.8h1.0M58.0 129.8h1.0M79.1 129.8h2.0M91.1 129.8h1.0M142.1 129.8h1.0M149.1 129.8h1.0M157.2 129.8h1.0M160.2 129.8h1.0M177.2 129.8h1.0M184.2 129.8h1.0M188.2 129.8h1.0M194.2 129.8h1.0M30.0 133.1h2.0M45.0 133.1h1.0M50.0 133.1h1.0M53.0 133.1h1.0M80.1 133.1h1.0M109.1 133.1h1.0M115.1 133.1h1.0M122.1 133.1h1.0M130.1 133.1h2.0M144.1 133.1h1.0M147.1 133.1h1.0M155.1 133.1h1.0M170.2 133.1h1.0M29.0 136.5h2.0M53.0 136.5h1.0M64.0 136.5h1.0M72.1 136.5h2.0M79.1 136.5h1.0M86.1 136.5h1.0M90.1 136.5h2.0M96.1 136.5h1.0M103.1 136.5h1.0M107.1 136.5h1.0M111.1 136.5h1.0M115.1 136.5h1.0M126.1 136.5h1.0M128.1 136.5h1.0M136.1 136.5h1.0M153.1 136.5h1.0M161.2 136.5h1.0M164.2 136.5h1.0M37.0 139.8h1.0M44.0 139.8h1.0M52.0 139.8h1.0M67.0 139.8h2.0M76.1 139.8h1.0M93.1 139.8h1.0M99.1 139.8h1.0M103.1 139.8h1.0M111.1 139.8h1.0M116.1 139.8h1.0M128.1 139.8h1.0M131.1 139.8h1.0M143.1 139.8h1.0M146.1 139.8h1.0M185.2 139.8h1.0M44.0 143.1h1.0M50.0 143.1h1.0M67.0 143.1h2.0M90.1 143.1h2.0M98.1 143.1h1.0M100.1 143.1h1.0M103.1 143.1h1.0M105.1 143.1h1.0M115.1 143.1h1.0M121.1 143.1h1.0M128.1 143.1h1.0M131.1 143.1h1.0M148.1 143.1h1.0M153.1 143.1h1.0M160.2 143.1h1.0M168.2 143.1h1.0M171.2 143.1h1.0M174.2 143.1h1.0M189.2 143.1h1.0M32.0 146.4h2.0M38.0 146.4h1.0M58.0 146.4h1.0M60.0 146.4h1.0M63.0 146.4h1.0M68.0 146.4h1.0M86.1 146.4h1.0M91.1 146.4h1.0M95.1 146.4h1.0M98.1 146.4h1.0M100.1 146.4h1.0M107.1 146.4h1.0M114.1 146.4h1.0M121.1 146.4h1.0M127.1 146.4h1.0M129.1 146.4h1.0M132.1 146.4h1.0M136.1 146.4h1.0M146.1 146.4h1.0M148.1 146.4h1.0M158.2 146.4h2.0M170.2 146.4h1.0M172.2 146.4h1.0M189.2 146.4h1.0M196.2 146.4h1.0M41.0 149.7h1.0M66.0 149.7h1.0M75.1 149.7h1.0M77.1 149.7h1.0M92.1 149.7h2.0M98.1 149.7h1.0M102.1 149.7h1.0M112.1 149.7h1.0M117.1 149.7h1.0M126.1 149.7h3.0M137.1 149.7h1.0M144.1 149.7h1.0M162.2 149.7h1.0M172.2 149.7h1.0M182.2 149.7h1.0M191.2 149.7h1.0M30.0 153.1h1.0M34.0 153.1h1.0M57.0 153.1h1.0M69.0 153.1h1.0M74.1 153.1h1.0M80.1 153.1h1.0M92.1 153.1h2.0M97.1 153.1h1.0M108.1 153.1h1.0M115.1 153.1h2.0M123.1 153.1h1.0M137.1 153.1h1.0M143.1 153.1h1.0M152.1 153.1h1.0M154.1 153.1h1.0M158.2 153.1h1.0M161.2 153.1h1.0M163.2 153.1h1.0M169.2 153.1h1.0M177.2 153.1h1.0M192.2 153.1h2.0M56.0 156.4h1.0M60.0 156.4h1.0M65.0 156.4h2.0M74.1 156.4h2.0M93.1 156.4h1.0M108.1 156.4h1.0M130.1 156.4h1.0M146.1 156.4h1.0M149.1 156.4h1.0M154.1 156.4h1.0M159.2 156.4h1.0M163.2 156.4h1.0M175.2 156.4h1.0M180.2 156.4h1.0M192.2 156.4h1.0M43.0 159.7h2.0M55.0 159.7h1.0M60.0 159.7h1.0M62.0 159.7h1.0M69.0 159.7h2.0M75.1 159.7h1.0M81.1 159.7h1.0M85.1 159.7h1.0M88.1 159.7h1.0M91.1 159.7h1.0M93.1 159.7h1.0M108.1 159.7h1.0M115.1 159.7h1.0M118.1 159.7h1.0M140.1 159.7h1.0M169.2 159.7h1.0M172.2 159.7h1.0M174.2 159.7h2.0M194.2 159.7h1.0M197.2 159.7h1.0M41.0 163.0h1.0M43.0 163.0h1.0M59.0 163.0h1.0M71.0 163.0h1.0M73.1 163.0h1.0M79.1 163.0h3.0M89.1 163.0h1.0M93.1 163.0h1.0M101.1 163.0h1.0M109.1 163.0h1.0M118.1 163.0h1.0M133.1 163.0h1.0M136.1 163.0h1.0M149.1 163.0h1.0M152.1 163.0h1.0M193.2 163.0h1.0M45.0 166.3h1.0M53.0 166.3h1.0M60.0 166.3h1.0M79.1 166.3h2.0M82.1 166.3h1.0M93.1 166.3h1.0M95.1 166.3h1.0M106.1 166.3h1.0M124.1 166.3h1.0M129.1 166.3h1.0M135.1 166.3h1.0M142.1 166.3h1.0M163.2 166.3h1.0M173.2 166.3h1.0M31.0 169.7h1.0M35.0 169.7h1.0M47.0 169.7h1.0M56.0 169.7h1.0M65.0 169.7h1.0M88.1 169.7h2.0M91.1 169.7h1.0M98.1 169.7h1.0M116.1 169.7h1.0M119.1 169.7h1.0M123.1 169.7h1.0M129.1 169.7h1.0M142.1 169.7h1.0M159.2 169.7h1.0M184.2 169.7h1.0M188.2 169.7h1.0M191.2 169.7h1.0M194.2 169.7h1.0M30.0 173.0h1.0M32.0 173.0h1.0M39.0 173.0h1.0M42.0 173.0h1.0M46.0 173.0h1.0M51.0 173.0h1.0M63.0 173.0h1.0M73.1 173.0h1.0M79.1 173.0h1.0M97.1 173.0h1.0M111.1 173.0h1.0M116.1 173.0h1.0M123.1 173.0h1.0M125.1 173.0h1.0M130.1 173.0h1.0M134.1 173.0h1.0M141.1 173.0h1.0M143.1 173.0h1.0M146.1 173.0h1.0M172.2 173.0h2.0M181.2 173.0h1.0M183.2 173.0h1.0M191.2 173.0h1.0M193.2 173.0h1.0M42.0 176.4h1.0M45.0 176.4h1.0M51.0 176.4h1.0M54.0 176.4h1.0M57.0 176.4h1.0M61.0 176.4h1.0M75.1 176.4h1.0M100.1 176.4h1.0M104.1 176.4h1.0M119.1 176.4h1.0M130.1 176.4h1.0M141.1 176.4h1.0M144.1 176.4h1.0M153.1 176.4h2.0M156.2 176.4h1.0M163.2 176.4h1.0M177.2 176.4h1.0M188.2 176.4h1.0M41.0 179.7h1.0M47.0 179.7h1.0M56.0 179.7h1.0M65.0 179.7h1.0M76.1 179.7h1.0M87.1 179.7h1.0M116.1 179.7h1.0M127.1 179.7h1.0M138.1 179.7h1.0M144.1 179.7h1.0M146.1 179.7h2.0M165.2 179.7h1.0M169.2 179.7h1.0M187.2 179.7h1.0M194.2 179.7h1.0M32.0 183.0h1.0M35.0 183.0h1.0M52.0 183.0h1.0M63.0 183.0h2.0M70.0 183.0h1.0M92.1 183.0h1.0M116.1 183.0h1.0M118.1 183.0h1.0M126.1 183.0h1.0M155.1 183.0h1.0M161.2 183.0h1.0M193.2 183.0h1.0M43.0 186.4h1.0M50.0 186.4h1.0M62.0 186.4h1.0M66.0 186.4h1.0M78.1 186.4h1.0M80.1 186.4h2.0M85.1 186.4h1.0M89.1 186.4h1.0M93.1 186.4h1.0M95.1 186.4h1.0M98.1 186.4h1.0M109.1 186.4h1.0M125.1 186.4h1.0M134.1 186.4h1.0M156.2 186.4h2.0M165.2 186.4h1.0M171.2 186.4h2.0M179.2 186.4h3.0M183.2 186.4h1.0M187.2 186.4h1.0M197.2 186.4h1.0M32.0 189.7h1.0M42.0 189.7h1.0M46.0 189.7h1.0M49.0 189.7h1.0M56.0 189.7h1.0M62.0 189.7h1.0M69.0 189.7h1.0M89.1 189.7h1.0M127.1 189.7h2.0M155.1 189.7h1.0M159.2 189.7h1.0M169.2 189.7h1.0M174.2 189.7h1.0M180.2 189.7h2.0M191.2 189.7h1.0M32.0 193.1h1.0M41.0 193.1h1.0M48.0 193.1h1.0M80.1 193.1h1.0M112.1 193.1h1.0M124.1 193.1h1.0M129.1 193.1h1.0M152.1 193.1h1.0M174.2 193.1h1.0M196.2 193.1h1.0M37.0 196.4h1.0M48.0 196.4h1.0M68.0 196.4h1.0M72.1 196.4h1.0M89.1 196.4h1.0M116.1 196.4h1.0M124.1 196.4h1.0M127.1 196.4h1.0M131.1 196.4h1.0M137.1 196.4h1.0M143.1 196.4h1.0M147.1 196.4h1.0M159.2 196.4h1.0M167.2 196.4h1.0M176.2 196.4h1.0M48.0 199.7h1.0M55.0 199.7h1.0M63.0 199.7h1.0M66.0 199.7h1.0M69.0 199.7h1.0M71.0 199.7h1.0M82.1 199.7h1.0M88.1 199.7h1.0M91.1 199.7h1.0M100.1 199.7h2.0M111.1 199.7h1.0M115.1 199.7h1.0M118.1 199.7h1.0M128.1 199.7h1.0M131.1 199.7h1.0M151.1 199.7h2.0M166.2 199.7h1.0M170.2 199.7h1.0M176.2 199.7h1.0M194.2 199.7h1.0M46.0 203.1h1.0M49.0 203.1h1.0M54.0 203.1h5.0M71.0 203.1h1.0M82.1 203.1h1.0M86.1 203.1h1.0M93.1 203.1h1.0M100.1 203.1h1.0M129.1 203.1h2.0M147.1 203.1h1.0M149.1 203.1h1.0M171.2 203.1h1.0M175.2 203.1h1.0M178.2 203.1h1.0M182.2 203.1h1.0M31.0 206.4h1.0M41.0 206.4h2.0M50.0 206.4h1.0M58.0 206.4h1.0M62.0 206.4h1.0M85.1 206.4h1.0M96.1 206.4h1.0M111.1 206.4h1.0M141.1 206.4h1.0M147.1 206.4h1.0M162.2 206.4h1.0M177.2 206.4h2.0M191.2 206.4h2.0M58.0 209.8h1.0M72.1 209.8h1.0M74.1 209.8h1.0M78.1 209.8h2.0M83.1 209.8h1.0M99.1 209.8h1.0M109.1 209.8h1.0M112.1 209.8h1.0M119.1 209.8h1.0M133.1 209.8h1.0M136.1 209.8h1.0M142.1 209.8h1.0M147.1 209.8h1.0M149.1 209.8h1.0M167.2 209.8h1.0M176.2 209.8h1.0M178.2 209.8h1.0M181.2 209.8h1.0M61.0 213.1h1.0M64.0 213.1h1.0M78.1 213.1h1.0M89.1 213.1h1.0M101.1 213.1h1.0M105.1 213.1h1.0M109.1 213.1h1.0M113.1 213.1h1.0M117.1 213.1h1.0M119.1 213.1h1.0M123.1 213.1h1.0M143.1 213.1h1.0M147.1 213.1h1.0M167.2 213.1h1.0M182.2 213.1h1.0M185.2 213.1h1.0M188.2 213.1h1.0M39.0 216.4h1.0M48.0 216.4h1.0M64.0 216.4h1.0M67.0 216.4h1.0M75.1 216.4h1.0M91.1 216.4h1.0M96.1 216.4h1.0M98.1 216.4h1.0M101.1 216.4h1.0M116.1 216.4h1.0M124.1 216.4h1.0M129.1 216.4h1.0M140.1 216.4h1.0M147.1 216.4h1.0M153.1 216.4h2.0M160.2 216.4h1.0M166.2 216.4h1.0M178.2 216.4h1.0M183.2 216.4h1.0M187.2 216.4h1.0M194.2 216.4h1.0M57.0 219.8h1.0M60.0 219.8h1.0M67.0 219.8h1.0M79.1 219.8h1.0M91.1 219.8h1.0M118.1 219.8h1.0M145.1 219.8h1.0M169.2 219.8h2.0M180.2 219.8h1.0M192.2 219.8h1.0M197.2 219.8h1.0M30.0 223.1h1.0M46.0 223.1h1.0M48.0 223.1h1.0M59.0 223.1h1.0M75.1 223.1h1.0M85.1 223.1h1.0M88.1 223.1h1.0M95.1 223.1h1.0M97.1 223.1h1.0M101.1 223.1h1.0M111.1 223.1h1.0M122.1 223.1h1.0M155.1 223.1h1.0M159.2 223.1h1.0M167.2 223.1h1.0M172.2 223.1h3.0M176.2 223.1h1.0M178.2 223.1h1.0M181.2 223.1h1.0M48.0 226.4h1.0M51.0 226.4h1.0M55.0 226.4h1.0M70.0 226.4h1.0M76.1 226.4h1.0M84.1 226.4h1.0M123.1 226.4h1.0M144.1 226.4h1.0M147.1 226.4h1.0M154.1 226.4h2.0M170.2 226.4h1.0M172.2 226.4h2.0M185.2 226.4h2.0M188.2 226.4h1.0M194.2 226.4h1.0M40.0 229.8h1.0M59.0 229.8h1.0M66.0 229.8h1.0M74.1 229.8h2.0M88.1 229.8h1.0M98.1 229.8h1.0M104.1 229.8h1.0M111.1 229.8h1.0M128.1 229.8h1.0M131.1 229.8h1.0M133.1 229.8h1.0M144.1 229.8h1.0M146.1 229.8h1.0M149.1 229.8h1.0M151.1 229.8h1.0M156.2 229.8h1.0M168.2 229.8h1.0M174.2 229.8h2.0M194.2 229.8h1.0M197.2 229.8h1.0M52.0 233.1h1.0M71.0 233.1h1.0M74.1 233.1h1.0M85.1 233.1h2.0M91.1 233.1h1.0M101.1 233.1h1.0M104.1 233.1h1.0M120.1 233.1h1.0M136.1 233.1h1.0M141.1 233.1h1.0M147.1 233.1h1.0M157.2 233.1h1.0M180.2 233.1h1.0M187.2 233.1h1.0M190.2 233.1h1.0M192.2 233.1h1.0M195.2 233.1h1.0M32.0 236.5h1.0M50.0 236.5h1.0M70.0 236.5h1.0M84.1 236.5h1.0M87.1 236.5h1.0M89.1 236.5h1.0M93.1 236.5h1.0M119.1 236.5h1.0M127.1 236.5h1.0M131.1 236.5h1.0M146.1 236.5h1.0M165.2 236.5h1.0M171.2 236.5h1.0M180.2 236.5h1.0M185.2 236.5h1.0M197.2 236.5h1.0M33.0 239.8h2.0M47.0 239.8h2.0M53.0 239.8h1.0M83.1 239.8h2.0M91.1 239.8h1.0M97.1 239.8h1.0M141.1 239.8h1.0M143.1 239.8h1.0M150.1 239.8h1.0M153.1 239.8h1.0M157.2 239.8h1.0M171.2 239.8h1.0M175.2 239.8h1.0M177.2 239.8h1.0M185.2 239.8h1.0M188.2 239.8h1.0M193.2 239.8h1.0M195.2 239.8h1.0M197.2 239.8h1.0M30.0 243.2h1.0M58.0 243.2h1.0M80.1 243.2h1.0M84.1 243.2h1.0M95.1 243.2h1.0M109.1 243.2h1.0M154.1 243.2h1.0M163.2 243.2h1.0M168.2 243.2h1.0M180.2 243.2h1.0M183.2 243.2h1.0M188.2 243.2h2.0M194.2 243.2h1.0M32.0 246.5h1.0M35.0 246.5h1.0M43.0 246.5h1.0M57.0 246.5h2.0M60.0 246.5h1.0M74.1 246.5h1.0M97.1 246.5h1.0M102.1 246.5h2.0M114.1 246.5h1.0M120.1 246.5h1.0M122.1 246.5h2.0M127.1 246.5h1.0M140.1 246.5h1.0M148.1 246.5h1.0M161.2 246.5h1.0M169.2 246.5h1.0M172.2 246.5h1.0M181.2 246.5h2.0M44.0 249.8h1.0M59.0 249.8h1.0M77.1 249.8h2.0M88.1 249.8h1.0M92.1 249.8h1.0M105.1 249.8h1.0M113.1 249.8h1.0M140.1 249.8h1.0M156.2 249.8h1.0M159.2 249.8h1.0M45.0 253.2h1.0M66.0 253.2h2.0M69.0 253.2h1.0M71.0 253.2h1.0M94.1 253.2h1.0M98.1 253.2h1.0M101.1 253.2h1.0M104.1 253.2h1.0M129.1 253.2h1.0M140.1 253.2h1.0M144.1 253.2h1.0M155.1 253.2h1.0M169.2 253.2h2.0M174.2 253.2h1.0M179.2 253.2h1.0M65.0 256.5h1.0M67.0 256.5h1.0M80.1 256.5h1.0M83.1 256.5h1.0M89.1 256.5h1.0M93.1 256.5h1.0M95.1 256.5h1.0M98.1 256.5h1.0M113.1 256.5h1.0M116.1 256.5h2.0M119.1 256.5h1.0M127.1 256.5h1.0M134.1 256.5h1.0M141.1 256.5h1.0M143.1 256.5h1.0M146.1 256.5h2.0M162.2 256.5h1.0M164.2 256.5h1.0M167.2 256.5h1.0M175.2 256.5h1.0M191.2 256.5h1.0M49.0 259.9h1.0M65.0 259.9h1.0M75.1 259.9h1.0M84.1 259.9h1.0M96.1 259.9h1.0M101.1 259.9h1.0M117.1 259.9h2.0M121.1 259.9h1.0M125.1 259.9h2.0M131.1 259.9h1.0M144.1 259.9h1.0M150.1 259.9h1.0M159.2 259.9h1.0M163.2 259.9h3.0M175.2 259.9h1.0M185.2 259.9h1.0M189.2 259.9h1.0M37.0 263.2h3.0M42.0 263.2h1.0M59.0 263.2h1.0M61.0 263.2h1.0M63.0 263.2h1.0M65.0 263.2h1.0M71.0 263.2h2.0M75.1 263.2h1.0M79.1 263.2h1.0M86.1 263.2h1.0M109.1 263.2h1.0M118.1 263.2h1.0M123.1 263.2h2.0M136.1 263.2h1.0M142.1 263.2h1.0M151.1 263.2h1.0M154.1 263.2h1.0M156.2 263.2h1.0M160.2 263.2h3.0M165.2 263.2h1.0M168.2 263.2h1.0M170.2 263.2h1.0M175.2 263.2h1.0M180.2 263.2h2.0M184.2 263.2h1.0M193.2 263.2h1.0M33.0 266.5h1.0M35.0 266.5h1.0M46.0 266.5h1.0M50.0 266.5h1.0M60.0 266.5h1.0M68.0 266.5h1.0M84.1 266.5h1.0M88.1 266.5h1.0M116.1 266.5h1.0M125.1 266.5h1.0M128.1 266.5h1.0M137.1 266.5h1.0M156.2 266.5h1.0M163.2 266.5h1.0M178.2 266.5h2.0M183.2 266.5h2.0M45.0 269.9h1.0M92.1 269.9h1.0M113.1 269.9h1.0M125.1 269.9h2.0M129.1 269.9h1.0M134.1 269.9h1.0M149.1 269.9h1.0M165.2 269.9h2.0M176.2 269.9h1.0M195.2 269.9h1.0M46.0 273.2h1.0M50.0 273.2h1.0M65.0 273.2h1.0M70.0 273.2h1.0M89.1 273.2h1.0M94.1 273.2h1.0M99.1 273.2h1.0M117.1 273.2h1.0M121.1 273.2h1.0M136.1 273.2h1.0M142.1 273.2h1.0M144.1 273.2h1.0M152.1 273.2h1.0M156.2 273.2h1.0M160.2 273.2h1.0M163.2 273.2h1.0M165.2 273.2h1.0M170.2 273.2h1.0M183.2 273.2h1.0M191.2 273.2h1.0M197.2 273.2h1.0M34.0 276.6h1.0M38.0 276.6h1.0M41.0 276.6h2.0M51.0 276.6h1.0M70.0 276.6h1.0M88.1 276.6h1.0M109.1 276.6h1.0M111.1 276.6h1.0M114.1 276.6h1.0M121.1 276.6h1.0M136.1 276.6h1.0M141.1 276.6h1.0M147.1 276.6h1.0M166.2 276.6h2.0M169.2 276.6h3.0M175.2 276.6h1.0M181.2 276.6h1.0M186.2 276.6h1.0M189.2 276.6h1.0M193.2 276.6h2.0M51.0 279.9h1.0M53.0 279.9h1.0M61.0 279.9h1.0M69.0 279.9h1.0M90.1 279.9h1.0M95.1 279.9h1.0M110.1 279.9h1.0M126.1 279.9h1.0M130.1 279.9h1.0M146.1 279.9h1.0M148.1 279.9h2.0M153.1 279.9h1.0M162.2 279.9h1.0M178.2 279.9h1.0M30.0 283.2h1.0M50.0 283.2h2.0M55.0 283.2h2.0M65.0 283.2h1.0M68.0 283.2h1.0M87.1 283.2h1.0M92.1 283.2h2.0M112.1 283.2h1.0M114.1 283.2h1.0M128.1 283.2h1.0M134.1 283.2h1.0M138.1 283.2h1.0M141.1 283.2h1.0M152.1 283.2h2.0M161.2 283.2h1.0M192.2 283.2h1.0M37.0 286.6h1.0M74.1 286.6h1.0M79.1 286.6h1.0M118.1 286.6h1.0M123.1 286.6h1.0M154.1 286.6h1.0M162.2 286.6h1.0M170.2 286.6h1.0M172.2 286.6h2.0M186.2 286.6h1.0M32.0 289.9h1.0M34.0 289.9h1.0M36.0 289.9h1.0M38.0 289.9h1.0M41.0 289.9h1.0M51.0 289.9h2.0M55.0 289.9h1.0M80.1 289.9h1.0M87.1 289.9h1.0M98.1 289.9h1.0M118.1 289.9h1.0M144.1 289.9h1.0M150.1 289.9h1.0M171.2 289.9h1.0M185.2 289.9h1.0M194.2 289.9h1.0M37.0 293.2h1.0M49.0 293.2h1.0M51.0 293.2h1.0M57.0 293.2h1.0M63.0 293.2h1.0M81.1 293.2h1.0M84.1 293.2h1.0M114.1 293.2h1.0M119.1 293.2h1.0M126.1 293.2h1.0M137.1 293.2h1.0M140.1 293.2h1.0M145.1 293.2h1.0M149.1 293.2h1.0M156.2 293.2h1.0M160.2 293.2h1.0M175.2 293.2h2.0M188.2 293.2h3.0M33.0 296.6h1.0M37.0 296.6h1.0M43.0 296.6h1.0M54.0 296.6h1.0M73.1 296.6h1.0M82.1 296.6h2.0M85.1 296.6h1.0M91.1 296.6h1.0M121.1 296.6h1.0M130.1 296.6h1.0M142.1 296.6h1.0M150.1 296.6h1.0M174.2 296.6h1.0M178.2 296.6h1.0M180.2 296.6h2.0M189.2 296.6h1.0M197.2 296.6h1.0M35.0 299.9h2.0M40.0 299.9h2.0M54.0 299.9h1.0M60.0 299.9h1.0M86.1 299.9h1.0M91.1 299.9h2.0M115.1 299.9h1.0M118.1 299.9h1.0M120.1 299.9h1.0M123.1 299.9h1.0M132.1 299.9h1.0M138.1 299.9h1.0M140.1 299.9h1.0M172.2 299.9h2.0M178.2 299.9h1.0M195.2 299.9h2.0M35.0 303.3h1.0M37.0 303.3h1.0M46.0 303.3h4.0M59.0 303.3h1.0M61.0 303.3h1.0M63.0 303.3h1.0M99.1 303.3h4.0M115.1 303.3h1.0M124.1 303.3h1.0M126.1 303.3h1.0M131.1 303.3h1.0M154.1 303.3h1.0M161.2 303.3h1.0M165.2 303.3h1.0M169.2 303.3h1.0M182.2 303.3h1.0M192.2 303.3h1.0M197.2 303.3h1.0M38.0 306.6h1.0M46.0 306.6h1.0M55.0 306.6h1.0M57.0 306.6h1.0M60.0 306.6h1.0M73.1 306.6h2.0M80.1 306.6h1.0M99.1 306.6h1.0M102.1 306.6h1.0M113.1 306.6h1.0M115.1 306.6h1.0M120.1 306.6h1.0M141.1 306.6h1.0M167.2 306.6h1.0M184.2 306.6h1.0M191.2 306.6h1.0M194.2 306.6h1.0M33.0 309.9h1.0M37.0 309.9h1.0M64.0 309.9h1.0M70.0 309.9h1.0M78.1 309.9h1.0M86.1 309.9h1.0M91.1 309.9h1.0M95.1 309.9h1.0M102.1 309.9h1.0M104.1 309.9h1.0M136.1 309.9h1.0M157.2 309.9h1.0M162.2 309.9h1.0M165.2 309.9h1.0M170.2 309.9h1.0M179.2 309.9h2.0M185.2 309.9h1.0M39.0 313.3h1.0M42.0 313.3h1.0M48.0 313.3h1.0M50.0 313.3h1.0M55.0 313.3h1.0M61.0 313.3h1.0M64.0 313.3h1.0M67.0 313.3h1.0M70.0 313.3h1.0M72.1 313.3h1.0M74.1 313.3h2.0M83.1 313.3h1.0M94.1 313.3h1.0M99.1 313.3h2.0M103.1 313.3h2.0M113.1 313.3h1.0M115.1 313.3h1.0M117.1 313.3h1.0M121.1 313.3h3.0M128.1 313.3h1.0M140.1 313.3h2.0M158.2 313.3h1.0M163.2 313.3h1.0M170.2 313.3h1.0M181.2 313.3h1.0M183.2 313.3h2.0M46.0 316.6h1.0M54.0 316.6h1.0M56.0 316.6h2.0M66.0 316.6h1.0M91.1 316.6h1.0M114.1 316.6h1.0M119.1 316.6h2.0M127.1 316.6h2.0M133.1 316.6h1.0M137.1 316.6h1.0M139.1 316.6h1.0M141.1 316.6h1.0M150.1 316.6h1.0M160.2 316.6h1.0M168.2 316.6h2.0M176.2 316.6h1.0M191.2 316.6h1.0M47.0 320.0h1.0M55.0 320.0h1.0M61.0 320.0h2.0M69.0 320.0h2.0M79.1 320.0h1.0M94.1 320.0h2.0M104.1 320.0h1.0M106.1 320.0h1.0M125.1 320.0h1.0M139.1 320.0h1.0M154.1 320.0h1.0M162.2 320.0h1.0M170.2 320.0h1.0M183.2 320.0h1.0M194.2 320.0h1.0M197.2 320.0h1.0M29.0 323.4h1.0M35.0 323.4h1.0M40.0 323.4h1.0M59.0 323.4h1.0M79.1 323.4h1.0M93.1 323.4h1.0M113.1 323.4h1.0M120.1 323.4h1.0M128.1 323.4h1.0M133.1 323.4h1.0M143.1 323.4h1.0M148.1 323.4h1.0M154.1 323.4h1.0M158.2 323.4h2.0M170.2 323.4h1.0M173.2 323.4h1.0M175.2 323.4h1.0M180.2 323.4h1.0M182.2 323.4h1.0M186.2 323.4h1.0M188.2 323.4h1.0M196.2 323.4h1.0M29.0 326.8h1.0M33.0 326.8h1.0M37.0 326.8h1.0M40.0 326.8h1.0M62.0 326.8h1.0M82.1 326.8h1.0M86.1 326.8h1.0M109.1 326.8h1.0M139.1 326.8h1.0M151.1 326.8h1.0M159.2 326.8h1.0M166.2 326.8h1.0M175.2 326.8h1.0M178.2 326.8h1.0M180.2 326.8h1.0M183.2 326.8h1.0M186.2 326.8h1.0M37.0 330.2h2.0M50.0 330.2h1.0M65.0 330.2h1.0M107.1 330.2h1.0M129.1 330.2h1.0M134.1 330.2h1.0M151.1 330.2h1.0M166.2 330.2h1.0M176.2 330.2h1.0M179.2 330.2h1.0M183.2 330.2h1.0M188.2 330.2h1.0M35.0 333.6h1.0M40.0 333.6h2.0M50.0 333.6h1.0M54.0 333.6h1.0M83.1 333.6h1.0M86.1 333.6h1.0M116.1 333.6h1.0M122.1 333.6h1.0M128.1 333.6h1.0M139.1 333.6h1.0M153.1 333.6h1.0M159.2 333.6h1.0M170.2 333.6h1.0M175.2 333.6h1.0M179.2 333.6h1.0M185.2 333.6h2.0M38.0 337.0h1.0M41.0 337.0h1.0M54.0 337.0h1.0M65.0 337.0h1.0M68.0 337.0h1.0M79.1 337.0h1.0M84.1 337.0h1.0M92.1 337.0h2.0M118.1 337.0h1.0M120.1 337.0h1.0M131.1 337.0h1.0M140.1 337.0h1.0M142.1 337.0h1.0M144.1 337.0h3.0M158.2 337.0h1.0M160.2 337.0h1.0M168.2 337.0h1.0M183.2 337.0h1.0M186.2 337.0h1.0M192.2 337.0h1.0M41.0 340.4h1.0M47.0 340.4h1.0M68.0 340.4h1.0M82.1 340.4h1.0M92.1 340.4h1.0M100.1 340.4h1.0M118.1 340.4h1.0M120.1 340.4h1.0M125.1 340.4h1.0M130.1 340.4h1.0M139.1 340.4h2.0M142.1 340.4h2.0M149.1 340.4h1.0M160.2 340.4h3.0M168.2 340.4h1.0M170.2 340.4h1.0M184.2 340.4h1.0M38.0 343.8h1.0M50.0 343.8h1.0M62.0 343.8h1.0M70.0 343.8h1.0M72.1 343.8h1.0M90.1 343.8h1.0M100.1 343.8h1.0M106.1 343.8h1.0M121.1 343.8h1.0M139.1 343.8h1.0M150.1 343.8h1.0M159.2 343.8h1.0M192.2 343.8h1.0M196.2 343.8h1.0M30.0 347.2h2.0M50.0 347.2h1.0M54.0 347.2h1.0M64.0 347.2h1.0M70.0 347.2h1.0M83.1 347.2h1.0M106.1 347.2h1.0M128.1 347.2h2.0M136.1 347.2h1.0M158.2 347.2h1.0M161.2 347.2h1.0M168.2 347.2h1.0M171.2 347.2h1.0M175.2 347.2h1.0M180.2 347.2h1.0M197.2 347.2h1.0M48.0 350.6h1.0M54.0 350.6h2.0M78.1 350.6h2.0M86.1 350.6h1.0M105.1 350.6h1.0M113.1 350.6h1.0M120.1 350.6h1.0M145.1 350.6h1.0M147.1 350.6h2.0M159.2 350.6h1.0M166.2 350.6h1.0M173.2 350.6h1.0M51.0 354.1h2.0M58.0 354.1h2.0M62.0 354.1h1.0M85.1 354.1h1.0M105.1 354.1h2.0M115.1 354.1h2.0M120.1 354.1h1.0M133.1 354.1h1.0M142.1 354.1h1.0M148.1 354.1h1.0M161.2 354.1h1.0M167.2 354.1h2.0M174.2 354.1h1.0M184.2 354.1h1.0M192.2 354.1h1.0M38.0 357.5h1.0M48.0 357.5h1.0M55.0 357.5h1.0M59.0 357.5h2.0M68.0 357.5h1.0M82.1 357.5h1.0M86.1 357.5h1.0M96.1 357.5h1.0M115.1 357.5h1.0M121.1 357.5h1.0M145.1 357.5h1.0M160.2 357.5h1.0M168.2 357.5h1.0M170.2 357.5h1.0M188.2 357.5h1.0M192.2 357.5h1.0M33.0 360.9h1.0M38.0 360.9h1.0M41.0 360.9h1.0M47.0 360.9h1.0M70.0 360.9h1.0M81.1 360.9h1.0M90.1 360.9h1.0M97.1 360.9h1.0M106.1 360.9h2.0M114.1 360.9h1.0M129.1 360.9h1.0M146.1 360.9h1.0M166.2 360.9h1.0M172.2 360.9h1.0M176.2 360.9h1.0M51.0 364.3h1.0M65.0 364.3h1.0M74.1 364.3h1.0M80.1 364.3h1.0M92.1 364.3h1.0M121.1 364.3h1.0M127.1 364.3h1.0M151.1 364.3h1.0M153.1 364.3h1.0M161.2 364.3h1.0M176.2 364.3h1.0M193.2 364.3h1.0M37.0 367.7h1.0M45.0 367.7h1.0M49.0 367.7h1.0M78.1 367.7h1.0M85.1 367.7h1.0M136.1 367.7h1.0M139.1 367.7h1.0M157.2 367.7h1.0M166.2 367.7h1.0M171.2 367.7h1.0M191.2 367.7h1.0M48.0 371.1h1.0M69.0 371.1h2.0M82.1 371.1h1.0M85.1 371.1h1.0M111.1 371.1h1.0M115.1 371.1h1.0M120.1 371.1h1.0M129.1 371.1h1.0M131.1 371.1h1.0M133.1 371.1h1.0M146.1 371.1h1.0M148.1 371.1h1.0M171.2 371.1h1.0M197.2 371.1h1.0M40.0 374.5h1.0M48.0 374.5h1.0M78.1 374.5h2.0M112.1 374.5h1.0M127.1 374.5h1.0M151.1 374.5h1.0M163.2 374.5h1.0M165.2 374.5h1.0M171.2 374.5h1.0M176.2 374.5h1.0M178.2 374.5h1.0M194.2 374.5h1.0M53.0 377.9h1.0M80.1 377.9h1.0M85.1 377.9h1.0M112.1 377.9h1.0M115.1 377.9h1.0M117.1 377.9h1.0M140.1 377.9h1.0M151.1 377.9h1.0M175.2 377.9h2.0M179.2 377.9h1.0M194.2 377.9h2.0M33.0 381.3h1.0M35.0 381.3h1.0M40.0 381.3h1.0M52.0 381.3h1.0M66.0 381.3h1.0M69.0 381.3h1.0M77.1 381.3h1.0M86.1 381.3h1.0M92.1 381.3h1.0M95.1 381.3h1.0M109.1 381.3h1.0M113.1 381.3h1.0M115.1 381.3h1.0M148.1 381.3h1.0M150.1 381.3h1.0M167.2 381.3h1.0M171.2 381.3h1.0M184.2 381.3h1.0M29.0 384.7h1.0M40.0 384.7h1.0M54.0 384.7h1.0M59.0 384.7h1.0M68.0 384.7h1.0M77.1 384.7h1.0M81.1 384.7h2.0M88.1 384.7h1.0M92.1 384.7h1.0M105.1 384.7h1.0M120.1 384.7h2.0M129.1 384.7h1.0M148.1 384.7h1.0M157.2 384.7h1.0M163.2 384.7h1.0M165.2 384.7h1.0M192.2 384.7h1.0M31.0 388.1h1.0M40.0 388.1h1.0M60.0 388.1h1.0M65.0 388.1h1.0M79.1 388.1h1.0M104.1 388.1h1.0M106.1 388.1h1.0M136.1 388.1h1.0M139.1 388.1h1.0M147.1 388.1h1.0M154.1 388.1h1.0M158.2 388.1h1.0M171.2 388.1h1.0M175.2 388.1h1.0M180.2 388.1h1.0M184.2 388.1h1.0M190.2 388.1h1.0M42.0 391.5h1.0M54.0 391.5h1.0M62.0 391.5h1.0M69.0 391.5h1.0M86.1 391.5h1.0M135.1 391.5h1.0M137.1 391.5h1.0M140.1 391.5h1.0M142.1 391.5h1.0M153.1 391.5h1.0M166.2 391.5h1.0M173.2 391.5h1.0M195.2 391.5h1.0M36.0 394.9h1.0M62.0 394.9h1.0M69.0 394.9h1.0M74.1 394.9h1.0M84.1 394.9h1.0M87.1 394.9h1.0M97.1 394.9h1.0M104.1 394.9h1.0M159.2 394.9h1.0M164.2 394.9h1.0M186.2 394.9h1.0M35.0 398.3h1.0M42.0 398.3h1.0M48.0 398.3h1.0M52.0 398.3h1.0M74.1 398.3h1.0M89.1 398.3h1.0M105.1 398.3h1.0M111.1 398.3h1.0M120.1 398.3h1.0M122.1 398.3h1.0M129.1 398.3h1.0M137.1 398.3h1.0M139.1 398.3h1.0M143.1 398.3h1.0M146.1 398.3h1.0M151.1 398.3h1.0M153.1 398.3h1.0M159.2 398.3h2.0M162.2 398.3h1.0M172.2 398.3h1.0M193.2 398.3h1.0M50.0 401.7h1.0M60.0 401.7h1.0M65.0 401.7h1.0M73.1 401.7h1.0M89.1 401.7h1.0M92.1 401.7h1.0M103.1 401.7h1.0M111.1 401.7h1.0M119.1 401.7h2.0M129.1 401.7h1.0M151.1 401.7h1.0M160.2 401.7h1.0M179.2 401.7h1.0M196.2 401.7h1.0M34.0 405.1h1.0M48.0 405.1h1.0M55.0 405.1h1.0M57.0 405.1h1.0M64.0 405.1h1.0M70.0 405.1h1.0M86.1 405.1h1.0M119.1 405.1h2.0M144.1 405.1h1.0M149.1 405.1h1.0M151.1 405.1h1.0M161.2 405.1h1.0M171.2 405.1h1.0M173.2 405.1h1.0M178.2 405.1h1.0M188.2 405.1h1.0M33.0 408.5h1.0M35.0 408.5h1.0M48.0 408.5h1.0M56.0 408.5h1.0M69.0 408.5h1.0M81.1 408.5h1.0M108.1 408.5h1.0M116.1 408.5h1.0M119.1 408.5h1.0M123.1 408.5h1.0M128.1 408.5h1.0M132.1 408.5h1.0M156.2 408.5h1.0M166.2 408.5h1.0M58.0 411.9h1.0M80.1 411.9h2.0M96.1 411.9h1.0M120.1 411.9h1.0M122.1 411.9h1.0M134.1 411.9h1.0M137.1 411.9h1.0M139.1 411.9h1.0M142.1 411.9h1.0M164.2 411.9h1.0M171.2 411.9h1.0M182.2 411.9h2.0M192.2 411.9h1.0M31.0 415.3h1.0M46.0 415.3h1.0M57.0 415.3h1.0M62.0 415.3h1.0M76.1 415.3h1.0M81.1 415.3h1.0M84.1 415.3h1.0M100.1 415.3h1.0M104.1 415.3h1.0M120.1 415.3h1.0M126.1 415.3h1.0M129.1 415.3h1.0M137.1 415.3h1.0M139.1 415.3h2.0M142.1 415.3h2.0M162.2 415.3h2.0M168.2 415.3h1.0M176.2 415.3h1.0M179.2 415.3h1.0M181.2 415.3h1.0M183.2 415.3h1.0M188.2 415.3h1.0M33.0 418.7h1.0M42.0 418.7h1.0M46.0 418.7h1.0M58.0 418.7h1.0M79.1 418.7h1.0M82.1 418.7h1.0M84.1 418.7h1.0M88.1 418.7h1.0M99.1 418.7h1.0M126.1 418.7h1.0M129.1 418.7h1.0M138.1 418.7h1.0M145.1 418.7h1.0M160.2 418.7h1.0M171.2 418.7h1.0M173.2 418.7h1.0M184.2 418.7h1.0M189.2 418.7h1.0M50.0 422.1h1.0M65.0 422.1h1.0M71.0 422.1h1.0M97.1 422.1h1.0M142.1 422.1h2.0M157.2 422.1h1.0M161.2 422.1h1.0M173.2 422.1h1.0M185.2 422.1h1.0M34.0 425.5h1.0M49.0 425.5h1.0M65.0 425.5h1.0M69.0 425.5h1.0M71.0 425.5h1.0M75.1 425.5h1.0M102.1 425.5h3.0M111.1 425.5h1.0M123.1 425.5h1.0M130.1 425.5h1.0M140.1 425.5h1.0M149.1 425.5h1.0M154.1 425.5h1.0M159.2 425.5h1.0M164.2 425.5h1.0M166.2 425.5h2.0M173.2 425.5h1.0M190.2 425.5h1.0M42.0 428.9h1.0M47.0 428.9h1.0M53.0 428.9h1.0M59.0 428.9h1.0M63.0 428.9h2.0M68.0 428.9h1.0M86.1 428.9h1.0M105.1 428.9h1.0M119.1 428.9h1.0M130.1 428.9h1.0M145.1 428.9h1.0M158.2 428.9h1.0M160.2 428.9h2.0M181.2 428.9h1.0M190.2 428.9h1.0M44.0 432.3h1.0M55.0 432.3h1.0M59.0 432.3h1.0M61.0 432.3h1.0M64.0 432.3h1.0M76.1 432.3h1.0M90.1 432.3h1.0M107.1 432.3h1.0M111.1 432.3h1.0M119.1 432.3h1.0M124.1 432.3h1.0M157.2 432.3h1.0M159.2 432.3h1.0M162.2 432.3h1.0M188.2 432.3h2.0M195.2 432.3h1.0M32.0 435.7h1.0M35.0 435.7h1.0M39.0 435.7h1.0M64.0 435.7h2.0M69.0 435.7h1.0M72.1 435.7h1.0M79.1 435.7h1.0M85.1 435.7h1.0M92.1 435.7h1.0M105.1 435.7h1.0M114.1 435.7h1.0M119.1 435.7h1.0M124.1 435.7h1.0M137.1 435.7h1.0M147.1 435.7h1.0M152.1 435.7h1.0M163.2 435.7h1.0M170.2 435.7h1.0M179.2 435.7h2.0M193.2 435.7h1.0M30.0 439.1h1.0M36.0 439.1h1.0M44.0 439.1h3.0M50.0 439.1h1.0M63.0 439.1h1.0M74.1 439.1h1.0M80.1 439.1h1.0M82.1 439.1h2.0M106.1 439.1h2.0M113.1 439.1h1.0M132.1 439.1h1.0M137.1 439.1h1.0M139.1 439.1h1.0M142.1 439.1h1.0M153.1 439.1h1.0M163.2 439.1h1.0M170.2 439.1h1.0M180.2 439.1h1.0M190.2 439.1h1.0M192.2 439.1h1.0M40.0 442.5h1.0M52.0 442.5h1.0M62.0 442.5h1.0M77.1 442.5h1.0M81.1 442.5h1.0M103.1 442.5h1.0M106.1 442.5h1.0M114.1 442.5h1.0M126.1 442.5h1.0M128.1 442.5h1.0M137.1 442.5h1.0M142.1 442.5h1.0M147.1 442.5h1.0M149.1 442.5h3.0M160.2 442.5h1.0M169.2 442.5h1.0M176.2 442.5h1.0M178.2 442.5h1.0M195.2 442.5h1.0M46.0 445.9h1.0M52.0 445.9h2.0M63.0 445.9h1.0M76.1 445.9h1.0M101.1 445.9h1.0M107.1 445.9h1.0M113.1 445.9h1.0M117.1 445.9h1.0M122.1 445.9h1.0M128.1 445.9h1.0M141.1 445.9h1.0M165.2 445.9h1.0M176.2 445.9h1.0M183.2 445.9h1.0M188.2 445.9h1.0M192.2 445.9h1.0M41.0 449.3h1.0M47.0 449.3h1.0M49.0 449.3h1.0M52.0 449.3h1.0M54.0 449.3h1.0M74.1 449.3h2.0M109.1 449.3h1.0M112.1 449.3h2.0M127.1 449.3h1.0M141.1 449.3h1.0M145.1 449.3h1.0M155.1 449.3h1.0M157.2 449.3h1.0M159.2 449.3h1.0M162.2 449.3h1.0M170.2 449.3h2.0M176.2 449.3h1.0M178.2 449.3h1.0" stroke="#353232" stroke-width="3.45" fill="none"/>
<path d="M92.1 36.9h1.0M97.1 36.9h1.0M107.1 36.9h1.0M128.1 36.9h1.0M130.1 36.9h1.0M176.2 36.9h1.0M195.2 36.9h1.0M69.0 40.2h1.0M75.1 40.2h1.0M81.1 40.2h1.0M95.1 40.2h1.0M138.1 40.2h1.0M152.1 40.2h1.0M163.2 40.2h1.0M176.2 40.2h1.0M110.1 43.5h1.0M126.1 43.5h1.0M141.1 43.5h1.0M146.1 43.5h1.0M192.2 43.5h1.0M30.0 46.8h1.0M58.0 46.8h1.0M80.1 46.8h1.0M92.1 46.8h1.0M94.1 46.8h2.0M107.1 46.8h1.0M110.1 46.8h1.0M126.1 46.8h1.0M128.1 46.8h1.0M148.1 46.8h1.0M150.1 46.8h1.0M82.1 50.1h1.0M110.1 50.1h1.0M114.1 50.1h1.0M169.2 50.1h1.0M174.2 50.1h1.0M197.2 50.1h1.0M58.0 53.5h1.0M60.0 53.5h1.0M68.0 53.5h1.0M129.1 53.5h1.0M137.1 53.5h1.0M139.1 53.5h1.0M149.1 53.5h1.0M169.2 53.5h1.0M186.2 53.5h1.0M192.2 53.5h1.0M194.2 53.5h1.0M88.1 56.8h1.0M104.1 56.8h1.0M107.1 56.8h1.0M110.1 56.8h1.0M126.1 56.8h1.0M128.1 56.8h2.0M131.1 56.8h1.0M163.2 56.8h1.0M167.2 56.8h1.0M197.2 56.8h1.0M68.0 60.1h1.0M86.1 60.1h1.0M107.1 60.1h1.0M110.1 60.1h1.0M128.1 60.1h1.0M130.1 60.1h2.0M135.1 60.1h1.0M169.2 60.1h1.0M174.2 60.1h1.0M178.2 60.1h1.0M55.0 63.4h1.0M109.1 63.4h2.0M112.1 63.4h1.0M130.1 63.4h1.0M169.2 63.4h1.0M180.2 63.4h1.0M195.2 63.4h1.0M30.0 66.7h1.0M34.0 66.7h1.0M37.0 66.7h1.0M67.0 66.7h1.0M77.1 66.7h1.0M110.1 66.7h1.0M114.1 66.7h1.0M130.1 66.7h1.0M160.2 66.7h1.0M165.2 66.7h1.0M169.2 66.7h1.0M192.2 66.7h1.0M32.0 70.1h2.0M44.0 70.1h1.0M53.0 70.1h1.0M115.1 70.1h1.0M137.1 70.1h1.0M145.1 70.1h1.0M150.1 70.1h1.0M172.2 70.1h1.0M176.2 70.1h1.0M178.2 70.1h1.0M185.2 70.1h1.0M84.1 73.4h1.0M109.1 73.4h1.0M112.1 73.4h1.0M128.1 73.4h1.0M131.1 73.4h1.0M137.1 73.4h1.0M159.2 73.4h1.0M179.2 73.4h1.0M195.2 73.4h1.0M71.0 76.7h1.0M109.1 76.7h1.0M128.1 76.7h1.0M137.1 76.7h1.0M140.1 76.7h1.0M176.2 76.7h1.0M192.2 76.7h1.0M194.2 76.7h2.0M79.1 80.0h1.0M157.2 80.0h1.0M48.0 83.3h1.0M67.0 83.3h1.0M70.0 83.3h1.0M81.1 83.3h1.0M103.1 83.3h1.0M111.1 83.3h1.0M124.1 83.3h1.0M136.1 83.3h1.0M138.1 83.3h1.0M141.1 83.3h1.0M144.1 83.3h1.0M150.1 83.3h2.0M155.1 83.3h1.0M174.2 83.3h1.0M81.1 86.7h1.0M109.1 86.7h1.0M141.1 86.7h1.0M47.0 90.0h1.0M49.0 90.0h1.0M66.0 90.0h1.0M90.1 90.0h1.0M95.1 90.0h1.0M131.1 90.0h1.0M155.1 90.0h1.0M43.0 93.3h1.0M45.0 93.3h1.0M47.0 93.3h1.0M49.0 93.3h1.0M81.1 93.3h2.0M99.1 93.3h1.0M107.1 93.3h1.0M124.1 93.3h1.0M131.1 93.3h1.0M136.1 93.3h2.0M166.2 93.3h1.0M172.2 93.3h1.0M180.2 93.3h2.0M194.2 93.3h1.0M34.0 96.6h1.0M45.0 96.6h1.0M60.0 96.6h1.0M81.1 96.6h1.0M89.1 96.6h1.0M96.1 96.6h1.0M107.1 96.6h1.0M113.1 96.6h1.0M137.1 96.6h1.0M148.1 96.6h1.0M157.2 96.6h1.0M166.2 96.6h1.0M168.2 96.6h1.0M176.2 96.6h1.0M180.2 96.6h1.0M46.0 99.9h1.0M60.0 99.9h1.0M148.1 99.9h1.0M176.2 99.9h1.0M192.2 99.9h1.0M56.0 103.3h1.0M81.1 103.3h1.0M98.1 103.3h1.0M149.1 103.3h1.0M162.2 103.3h2.0M192.2 103.3h1.0M71.0 106.6h1.0M124.1 106.6h1.0M129.1 106.6h3.0M149.1 106.6h1.0M155.1 106.6h1.0M169.2 106.6h1.0M173.2 106.6h1.0M180.2 106.6h1.0M184.2 106.6h3.0M43.0 109.9h1.0M50.0 109.9h1.0M60.0 109.9h1.0M89.1 109.9h1.0M91.1 109.9h1.0M98.1 109.9h1.0M139.1 109.9h1.0M149.1 109.9h2.0M194.2 109.9h1.0M61.0 113.2h1.0M97.1 113.2h1.0M136.1 113.2h1.0M157.2 113.2h1.0M179.2 113.2h1.0M29.0 116.5h1.0M47.0 116.5h1.0M61.0 116.5h2.0M131.1 116.5h1.0M136.1 116.5h1.0M152.1 116.5h1.0M170.2 116.5h1.0M176.2 116.5h1.0M193.2 116.5h2.0M67.0 119.9h1.0M88.1 119.9h1.0M114.1 119.9h1.0M136.1 119.9h2.0M194.2 119.9h2.0M34.0 123.2h1.0M38.0 123.2h1.0M67.0 123.2h1.0M88.1 123.2h1.0M100.1 123.2h2.0M107.1 123.2h1.0M109.1 123.2h1.0M114.1 123.2h1.0M124.1 123.2h1.0M137.1 123.2h1.0M141.1 123.2h1.0M34.0 126.5h1.0M50.0 126.5h1.0M71.0 126.5h1.0M80.1 126.5h1.0M82.1 126.5h2.0M98.1 126.5h1.0M107.1 126.5h1.0M124.1 126.5h1.0M126.1 126.5h1.0M137.1 126.5h1.0M140.1 126.5h2.0M154.1 126.5h1.0M168.2 126.5h1.0M41.0 129.8h1.0M49.0 129.8h1.0M106.1 129.8h1.0M114.1 129.8h1.0M125.1 129.8h2.0M128.1 129.8h1.0M168.2 129.8h1.0M176.2 129.8h1.0M51.0 133.1h1.0M60.0 133.1h1.0M79.1 133.1h1.0M119.1 133.1h1.0M127.1 133.1h1.0M141.1 133.1h1.0M197.2 133.1h1.0M45.0 136.5h1.0M60.0 136.5h1.0M106.1 136.5h1.0M119.1 136.5h1.0M137.1 136.5h1.0M195.2 136.5h1.0M88.1 139.8h1.0M107.1 139.8h1.0M109.1 139.8h1.0M114.1 139.8h1.0M130.1 139.8h1.0M134.1 139.8h1.0M141.1 139.8h1.0M168.2 139.8h1.0M171.2 139.8h1.0M176.2 139.8h1.0M197.2 139.8h1.0M72.1 143.1h2.0M102.1 143.1h1.0M107.1 143.1h1.0M110.1 143.1h1.0M114.1 143.1h1.0M127.1 143.1h1.0M137.1 143.1h1.0M141.1 143.1h1.0M146.1 143.1h1.0M169.2 143.1h1.0M193.2 143.1h1.0M72.1 146.4h1.0M110.1 146.4h1.0M134.1 146.4h1.0M140.1 146.4h1.0M150.1 146.4h1.0M152.1 146.4h1.0M185.2 146.4h1.0M195.2 146.4h1.0M45.0 149.7h1.0M60.0 149.7h1.0M71.0 149.7h1.0M83.1 149.7h1.0M109.1 149.7h1.0M130.1 149.7h2.0M155.1 149.7h1.0M173.2 149.7h1.0M186.2 149.7h1.0M193.2 149.7h3.0M50.0 153.1h1.0M68.0 153.1h1.0M72.1 153.1h1.0M79.1 153.1h1.0M83.1 153.1h1.0M99.1 153.1h1.0M109.1 153.1h1.0M130.1 153.1h1.0M149.1 153.1h2.0M173.2 153.1h1.0M50.0 156.4h1.0M71.0 156.4h1.0M110.1 156.4h1.0M127.1 156.4h1.0M37.0 159.7h1.0M66.0 159.7h1.0M110.1 159.7h1.0M123.1 159.7h1.0M167.2 159.7h1.0M32.0 163.0h1.0M37.0 163.0h1.0M49.0 163.0h1.0M88.1 163.0h1.0M102.1 163.0h1.0M114.1 163.0h1.0M126.1 163.0h1.0M137.1 163.0h1.0M142.1 163.0h1.0M148.1 163.0h1.0M162.2 163.0h1.0M173.2 163.0h1.0M176.2 163.0h1.0M178.2 163.0h1.0M194.2 163.0h1.0M197.2 163.0h1.0M34.0 166.3h1.0M39.0 166.3h1.0M48.0 166.3h1.0M55.0 166.3h1.0M98.1 166.3h1.0M100.1 166.3h1.0M102.1 166.3h1.0M114.1 166.3h1.0M127.1 166.3h2.0M131.1 166.3h1.0M133.1 166.3h2.0M162.2 166.3h1.0M172.2 166.3h1.0M175.2 166.3h1.0M195.2 166.3h1.0M57.0 169.7h1.0M95.1 169.7h1.0M114.1 169.7h1.0M124.1 169.7h1.0M128.1 169.7h1.0M133.1 169.7h1.0M148.1 169.7h1.0M156.2 169.7h1.0M176.2 169.7h1.0M178.2 169.7h1.0M67.0 173.0h1.0M74.1 173.0h1.0M104.1 173.0h2.0M128.1 173.0h2.0M131.1 173.0h1.0M161.2 173.0h1.0M169.2 173.0h1.0M197.2 173.0h1.0M52.0 176.4h1.0M87.1 176.4h1.0M113.1 176.4h1.0M140.1 176.4h1.0M143.1 176.4h1.0M162.2 176.4h1.0M192.2 176.4h1.0M194.2 176.4h1.0M91.1 179.7h3.0M101.1 179.7h1.0M112.1 179.7h1.0M153.1 179.7h1.0M159.2 179.7h1.0M40.0 183.0h1.0M42.0 183.0h1.0M46.0 183.0h1.0M49.0 183.0h1.0M54.0 183.0h1.0M68.0 183.0h1.0M102.1 183.0h1.0M114.1 183.0h1.0M124.1 183.0h2.0M130.1 183.0h1.0M138.1 183.0h1.0M141.1 183.0h1.0M143.1 183.0h1.0M158.2 183.0h1.0M165.2 183.0h1.0M172.2 183.0h2.0M88.1 186.4h1.0M155.1 186.4h1.0M178.2 186.4h1.0M190.2 186.4h1.0M41.0 189.7h1.0M47.0 189.7h1.0M66.0 189.7h2.0M91.1 189.7h1.0M105.1 189.7h1.0M125.1 189.7h1.0M130.1 189.7h1.0M141.1 189.7h1.0M164.2 189.7h1.0M185.2 189.7h1.0M189.2 189.7h2.0M197.2 189.7h1.0M91.1 193.1h1.0M97.1 193.1h1.0M123.1 193.1h1.0M125.1 193.1h1.0M159.2 193.1h1.0M32.0 196.4h1.0M42.0 196.4h1.0M81.1 196.4h2.0M92.1 196.4h1.0M139.1 196.4h1.0M141.1 196.4h1.0M177.2 196.4h1.0M185.2 196.4h1.0M40.0 199.7h1.0M50.0 199.7h2.0M59.0 199.7h1.0M139.1 199.7h1.0M143.1 199.7h1.0M173.2 199.7h1.0M61.0 203.1h1.0M63.0 203.1h1.0M89.1 203.1h1.0M101.1 203.1h1.0M117.1 203.1h2.0M127.1 203.1h1.0M168.2 203.1h1.0M172.2 203.1h2.0M181.2 203.1h1.0M67.0 206.4h1.0M84.1 206.4h1.0M127.1 206.4h1.0M143.1 206.4h1.0M145.1 206.4h1.0M149.1 206.4h1.0M152.1 206.4h1.0M159.2 206.4h1.0M166.2 206.4h1.0M173.2 206.4h1.0M175.2 206.4h1.0M179.2 206.4h1.0M188.2 206.4h1.0M194.2 206.4h1.0M197.2 206.4h1.0M71.0 209.8h1.0M84.1 209.8h1.0M113.1 209.8h1.0M118.1 209.8h1.0M120.1 209.8h1.0M127.1 209.8h2.0M130.1 209.8h1.0M155.1 209.8h1.0M159.2 209.8h1.0M164.2 209.8h1.0M88.1 213.1h1.0M121.1 213.1h1.0M125.1 213.1h1.0M149.1 213.1h1.0M174.2 213.1h1.0M176.2 213.1h2.0M179.2 213.1h1.0M189.2 213.1h1.0M49.0 216.4h1.0M51.0 216.4h1.0M60.0 216.4h1.0M72.1 216.4h1.0M118.1 216.4h1.0M121.1 216.4h1.0M125.1 216.4h1.0M143.1 216.4h1.0M149.1 216.4h1.0M155.1 216.4h1.0M176.2 216.4h1.0M186.2 216.4h1.0M189.2 216.4h1.0M51.0 219.8h1.0M66.0 219.8h1.0M89.1 219.8h1.0M109.1 219.8h1.0M125.1 219.8h2.0M141.1 219.8h1.0M153.1 219.8h1.0M164.2 219.8h1.0M176.2 219.8h1.0M182.2 219.8h1.0M191.2 219.8h1.0M82.1 223.1h1.0M102.1 223.1h1.0M105.1 223.1h1.0M125.1 223.1h1.0M141.1 223.1h1.0M175.2 223.1h1.0M186.2 223.1h1.0M189.2 223.1h1.0M191.2 223.1h1.0M57.0 226.4h1.0M67.0 226.4h1.0M75.1 226.4h1.0M80.1 226.4h1.0M88.1 226.4h1.0M92.1 226.4h1.0M105.1 226.4h1.0M133.1 226.4h1.0M141.1 226.4h1.0M180.2 226.4h1.0M189.2 226.4h1.0M32.0 229.8h1.0M49.0 229.8h1.0M57.0 229.8h2.0M60.0 229.8h2.0M67.0 229.8h1.0M94.1 229.8h1.0M101.1 229.8h1.0M112.1 229.8h1.0M123.1 229.8h1.0M125.1 229.8h1.0M152.1 229.8h1.0M154.1 229.8h2.0M163.2 229.8h1.0M184.2 229.8h3.0M188.2 229.8h1.0M48.0 233.1h1.0M50.0 233.1h1.0M55.0 233.1h1.0M134.1 233.1h1.0M144.1 233.1h1.0M149.1 233.1h1.0M155.1 233.1h2.0M160.2 233.1h1.0M164.2 233.1h1.0M181.2 233.1h1.0M184.2 233.1h1.0M76.1 236.5h1.0M98.1 236.5h1.0M103.1 236.5h1.0M105.1 236.5h1.0M113.1 236.5h1.0M124.1 236.5h1.0M129.1 236.5h1.0M143.1 236.5h1.0M149.1 236.5h1.0M153.1 236.5h1.0M162.2 236.5h1.0M194.2 236.5h2.0M45.0 239.8h1.0M57.0 239.8h1.0M62.0 239.8h1.0M94.1 239.8h1.0M116.1 239.8h1.0M139.1 239.8h1.0M159.2 239.8h1.0M162.2 239.8h1.0M166.2 239.8h1.0M57.0 243.2h1.0M113.1 243.2h1.0M122.1 243.2h1.0M125.1 243.2h1.0M142.1 243.2h1.0M149.1 243.2h1.0M167.2 243.2h1.0M192.2 243.2h1.0M197.2 243.2h1.0M49.0 246.5h1.0M61.0 246.5h1.0M78.1 246.5h1.0M82.1 246.5h1.0M121.1 246.5h1.0M130.1 246.5h1.0M133.1 246.5h1.0M171.2 246.5h1.0M185.2 246.5h1.0M189.2 246.5h1.0M192.2 246.5h1.0M61.0 249.8h1.0M74.1 249.8h1.0M82.1 249.8h1.0M124.1 249.8h1.0M130.1 249.8h1.0M143.1 249.8h1.0M48.0 253.2h1.0M85.1 253.2h1.0M89.1 253.2h1.0M124.1 253.2h1.0M143.1 253.2h1.0M192.2 253.2h1.0M45.0 256.5h1.0M84.1 256.5h1.0M94.1 256.5h1.0M102.1 256.5h1.0M121.1 256.5h1.0M128.1 256.5h1.0M144.1 256.5h1.0M185.2 256.5h1.0M190.2 256.5h1.0M192.2 256.5h1.0M51.0 259.9h1.0M55.0 259.9h1.0M128.1 259.9h1.0M161.2 259.9h2.0M170.2 259.9h1.0M177.2 259.9h1.0M197.2 259.9h1.0M32.0 263.2h1.0M76.1 263.2h1.0M84.1 263.2h1.0M94.1 263.2h1.0M102.1 263.2h1.0M113.1 263.2h2.0M121.1 263.2h1.0M141.1 263.2h1.0M147.1 263.2h1.0M159.2 263.2h1.0M192.2 263.2h1.0M47.0 266.5h1.0M53.0 266.5h1.0M63.0 266.5h1.0M105.1 266.5h1.0M133.1 266.5h1.0M150.1 266.5h1.0M192.2 266.5h1.0M197.2 266.5h1.0M54.0 269.9h1.0M71.0 269.9h1.0M83.1 269.9h1.0M87.1 269.9h1.0M159.2 269.9h1.0M189.2 269.9h1.0M38.0 273.2h1.0M54.0 273.2h1.0M68.0 273.2h1.0M76.1 273.2h1.0M102.1 273.2h1.0M109.1 273.2h1.0M125.1 273.2h1.0M143.1 273.2h1.0M195.2 273.2h1.0M32.0 276.6h1.0M76.1 276.6h1.0M124.1 276.6h1.0M142.1 276.6h1.0M178.2 276.6h1.0M185.2 276.6h1.0M56.0 279.9h1.0M65.0 279.9h2.0M68.0 279.9h1.0M71.0 279.9h1.0M76.1 279.9h1.0M99.1 279.9h1.0M116.1 279.9h1.0M136.1 279.9h1.0M143.1 279.9h1.0M150.1 279.9h1.0M154.1 279.9h1.0M159.2 279.9h1.0M163.2 279.9h1.0M171.2 279.9h1.0M181.2 279.9h1.0M186.2 279.9h1.0M192.2 279.9h1.0M62.0 283.2h1.0M91.1 283.2h1.0M116.1 283.2h1.0M121.1 283.2h1.0M171.2 283.2h1.0M174.2 283.2h1.0M181.2 283.2h1.0M40.0 286.6h1.0M92.1 286.6h1.0M95.1 286.6h1.0M112.1 286.6h1.0M117.1 286.6h1.0M121.1 286.6h1.0M141.1 286.6h1.0M143.1 286.6h1.0M147.1 286.6h1.0M151.1 286.6h1.0M190.2 286.6h1.0M35.0 289.9h1.0M84.1 289.9h1.0M95.1 289.9h1.0M105.1 289.9h1.0M133.1 289.9h1.0M157.2 289.9h1.0M162.2 289.9h1.0M167.2 289.9h1.0M180.2 289.9h1.0M188.2 289.9h1.0M74.1 293.2h1.0M78.1 293.2h1.0M112.1 293.2h1.0M134.1 293.2h1.0M143.1 293.2h2.0M157.2 293.2h1.0M191.2 293.2h1.0M194.2 293.2h1.0M51.0 296.6h1.0M94.1 296.6h1.0M125.1 296.6h1.0M141.1 296.6h1.0M184.2 296.6h1.0M186.2 296.6h1.0M51.0 303.3h1.0M104.1 303.3h1.0M116.1 303.3h1.0M123.1 303.3h1.0M138.1 303.3h1.0M143.1 303.3h1.0M159.2 303.3h1.0M185.2 303.3h2.0M49.0 306.6h1.0M70.0 306.6h1.0M79.1 306.6h1.0M81.1 306.6h1.0M126.1 306.6h1.0M155.1 306.6h1.0M172.2 306.6h1.0M76.1 309.9h1.0M143.1 309.9h1.0M146.1 309.9h1.0M167.2 309.9h1.0M172.2 309.9h1.0M37.0 313.3h1.0M60.0 313.3h1.0M88.1 313.3h1.0M116.1 313.3h1.0M125.1 313.3h1.0M146.1 313.3h1.0M152.1 313.3h1.0M165.2 313.3h1.0M180.2 313.3h1.0M186.2 313.3h1.0M188.2 313.3h1.0M111.1 316.6h1.0M126.1 316.6h1.0M185.2 316.6h1.0M189.2 316.6h1.0M127.1 320.0h1.0M137.1 320.0h2.0M144.1 320.0h2.0M150.1 320.0h2.0M157.2 320.0h1.0M159.2 320.0h1.0M184.2 320.0h2.0M188.2 320.0h2.0M195.2 320.0h1.0M37.0 323.4h1.0M62.0 323.4h1.0M70.0 323.4h1.0M80.1 323.4h1.0M94.1 323.4h1.0M100.1 323.4h1.0M116.1 323.4h1.0M137.1 323.4h2.0M144.1 323.4h1.0M146.1 323.4h1.0M162.2 323.4h1.0M166.2 323.4h1.0M172.2 323.4h1.0M178.2 323.4h1.0M189.2 323.4h1.0M191.2 323.4h1.0M194.2 323.4h2.0M64.0 326.8h1.0M79.1 326.8h2.0M122.1 326.8h1.0M137.1 326.8h2.0M146.1 326.8h1.0M150.1 326.8h1.0M153.1 326.8h1.0M155.1 326.8h1.0M172.2 326.8h1.0M179.2 326.8h1.0M189.2 326.8h1.0M194.2 326.8h1.0M52.0 330.2h1.0M59.0 330.2h1.0M61.0 330.2h1.0M113.1 330.2h1.0M121.1 330.2h1.0M128.1 330.2h1.0M137.1 330.2h1.0M157.2 330.2h1.0M163.2 330.2h1.0M172.2 330.2h1.0M189.2 330.2h1.0M47.0 333.6h1.0M59.0 333.6h1.0M64.0 333.6h1.0M109.1 333.6h2.0M165.2 333.6h1.0M40.0 337.0h1.0M47.0 337.0h1.0M50.0 337.0h1.0M80.1 337.0h1.0M82.1 337.0h1.0M106.1 337.0h1.0M127.1 337.0h1.0M130.1 337.0h1.0M138.1 337.0h1.0M150.1 337.0h1.0M155.1 337.0h1.0M159.2 337.0h1.0M172.2 337.0h1.0M178.2 337.0h1.0M185.2 337.0h1.0M188.2 337.0h1.0M80.1 340.4h1.0M109.1 340.4h2.0M152.1 340.4h1.0M172.2 340.4h1.0M185.2 340.4h1.0M188.2 340.4h2.0M37.0 343.8h1.0M40.0 343.8h1.0M48.0 343.8h1.0M54.0 343.8h2.0M59.0 343.8h1.0M64.0 343.8h1.0M66.0 343.8h1.0M80.1 343.8h1.0M109.1 343.8h1.0M115.1 343.8h1.0M120.1 343.8h1.0M127.1 343.8h1.0M141.1 343.8h1.0M155.1 343.8h1.0M165.2 343.8h1.0M175.2 343.8h2.0M184.2 343.8h1.0M189.2 343.8h1.0M194.2 343.8h1.0M37.0 347.2h1.0M59.0 347.2h1.0M110.1 347.2h1.0M116.1 347.2h1.0M125.1 347.2h1.0M137.1 347.2h1.0M139.1 347.2h1.0M141.1 347.2h1.0M163.2 347.2h1.0M172.2 347.2h1.0M178.2 347.2h1.0M186.2 347.2h1.0M195.2 347.2h1.0M64.0 350.6h1.0M70.0 350.6h1.0M109.1 350.6h2.0M115.1 350.6h1.0M130.1 350.6h1.0M137.1 350.6h1.0M139.1 350.6h1.0M144.1 350.6h1.0M163.2 350.6h1.0M165.2 350.6h1.0M176.2 350.6h1.0M189.2 350.6h1.0M29.0 354.1h1.0M50.0 354.1h1.0M64.0 354.1h1.0M69.0 354.1h1.0M80.1 354.1h1.0M127.1 354.1h1.0M138.1 354.1h1.0M151.1 354.1h1.0M159.2 354.1h1.0M162.2 354.1h1.0M178.2 354.1h1.0M185.2 354.1h1.0M196.2 354.1h1.0M64.0 357.5h1.0M94.1 357.5h1.0M128.1 357.5h1.0M148.1 357.5h1.0M153.1 357.5h1.0M163.2 357.5h1.0M189.2 357.5h1.0M197.2 357.5h1.0M51.0 360.9h1.0M54.0 360.9h1.0M61.0 360.9h1.0M64.0 360.9h1.0M74.1 360.9h1.0M80.1 360.9h1.0M83.1 360.9h1.0M111.1 360.9h2.0M115.1 360.9h2.0M130.1 360.9h1.0M137.1 360.9h1.0M144.1 360.9h1.0M161.2 360.9h1.0M165.2 360.9h1.0M189.2 360.9h1.0M61.0 364.3h1.0M79.1 364.3h1.0M83.1 364.3h1.0M128.1 364.3h1.0M141.1 364.3h1.0M144.1 364.3h1.0M150.1 364.3h1.0M152.1 364.3h1.0M159.2 364.3h1.0M162.2 364.3h1.0M165.2 364.3h1.0M172.2 364.3h1.0M178.2 364.3h1.0M184.2 364.3h2.0M188.2 364.3h2.0M194.2 364.3h1.0M47.0 367.7h1.0M52.0 367.7h1.0M54.0 367.7h1.0M64.0 367.7h2.0M70.0 367.7h1.0M79.1 367.7h2.0M92.1 367.7h1.0M109.1 367.7h1.0M113.1 367.7h1.0M128.1 367.7h1.0M130.1 367.7h1.0M133.1 367.7h1.0M138.1 367.7h1.0M148.1 367.7h1.0M150.1 367.7h1.0M152.1 367.7h2.0M163.2 367.7h1.0M176.2 367.7h1.0M178.2 367.7h1.0M184.2 367.7h1.0M189.2 367.7h1.0M194.2 367.7h1.0M47.0 371.1h1.0M52.0 371.1h1.0M94.1 371.1h1.0M112.1 371.1h1.0M128.1 371.1h1.0M130.1 371.1h1.0M138.1 371.1h1.0M141.1 371.1h1.0M152.1 371.1h1.0M157.2 371.1h1.0M161.2 371.1h1.0M165.2 371.1h1.0M176.2 371.1h1.0M52.0 374.5h1.0M54.0 374.5h1.0M64.0 374.5h1.0M74.1 374.5h1.0M94.1 374.5h1.0M106.1 374.5h1.0M110.1 374.5h1.0M137.1 374.5h1.0M141.1 374.5h1.0M152.1 374.5h2.0M157.2 374.5h1.0M166.2 374.5h1.0M37.0 377.9h1.0M47.0 377.9h1.0M52.0 377.9h1.0M79.1 377.9h1.0M106.1 377.9h1.0M110.1 377.9h1.0M152.1 377.9h1.0M155.1 377.9h1.0M157.2 377.9h1.0M189.2 377.9h1.0M47.0 381.3h1.0M79.1 381.3h1.0M93.1 381.3h1.0M110.1 381.3h1.0M112.1 381.3h1.0M120.1 381.3h1.0M141.1 381.3h1.0M144.1 381.3h1.0M152.1 381.3h1.0M159.2 381.3h1.0M162.2 381.3h1.0M165.2 381.3h1.0M176.2 381.3h1.0M192.2 381.3h1.0M61.0 384.7h1.0M110.1 384.7h1.0M116.1 384.7h1.0M128.1 384.7h1.0M137.1 384.7h1.0M141.1 384.7h1.0M159.2 384.7h1.0M185.2 384.7h1.0M51.0 388.1h1.0M55.0 388.1h1.0M59.0 388.1h1.0M64.0 388.1h1.0M66.0 388.1h1.0M69.0 388.1h2.0M128.1 388.1h1.0M138.1 388.1h1.0M142.1 388.1h3.0M157.2 388.1h1.0M159.2 388.1h1.0M163.2 388.1h1.0M165.2 388.1h2.0M178.2 388.1h1.0M194.2 388.1h1.0M43.0 391.5h1.0M48.0 391.5h1.0M70.0 391.5h2.0M73.1 391.5h2.0M79.1 391.5h2.0M127.1 391.5h2.0M130.1 391.5h1.0M136.1 391.5h1.0M139.1 391.5h1.0M145.1 391.5h1.0M151.1 391.5h1.0M155.1 391.5h1.0M157.2 391.5h1.0M164.2 391.5h1.0M178.2 391.5h1.0M185.2 391.5h1.0M34.0 394.9h1.0M48.0 394.9h2.0M71.0 394.9h1.0M79.1 394.9h2.0M86.1 394.9h1.0M116.1 394.9h1.0M121.1 394.9h1.0M133.1 394.9h2.0M150.1 394.9h1.0M171.2 394.9h2.0M185.2 394.9h1.0M192.2 394.9h2.0M195.2 394.9h1.0M49.0 398.3h1.0M55.0 398.3h2.0M62.0 398.3h1.0M80.1 398.3h1.0M100.1 398.3h1.0M115.1 398.3h1.0M121.1 398.3h1.0M125.1 398.3h1.0M128.1 398.3h1.0M134.1 398.3h1.0M145.1 398.3h1.0M157.2 398.3h1.0M161.2 398.3h1.0M177.2 398.3h1.0M181.2 398.3h1.0M186.2 398.3h1.0M192.2 398.3h1.0M194.2 398.3h2.0M52.0 401.7h1.0M55.0 401.7h1.0M74.1 401.7h1.0M86.1 401.7h1.0M118.1 401.7h1.0M139.1 401.7h1.0M144.1 401.7h2.0M150.1 401.7h1.0M154.1 401.7h1.0M165.2 401.7h1.0M167.2 401.7h1.0M180.2 401.7h1.0M188.2 401.7h1.0M192.2 401.7h1.0M52.0 405.1h1.0M71.0 405.1h1.0M100.1 405.1h1.0M103.1 405.1h1.0M125.1 405.1h1.0M168.2 405.1h1.0M175.2 405.1h2.0M180.2 405.1h1.0M185.2 405.1h1.0M189.2 405.1h1.0M194.2 405.1h1.0M34.0 408.5h1.0M43.0 408.5h1.0M52.0 408.5h1.0M97.1 408.5h1.0M133.1 408.5h1.0M154.1 408.5h1.0M165.2 408.5h1.0M168.2 408.5h1.0M49.0 411.9h1.0M52.0 411.9h1.0M64.0 411.9h1.0M73.1 411.9h1.0M79.1 411.9h1.0M85.1 411.9h1.0M100.1 411.9h1.0M107.1 411.9h1.0M111.1 411.9h1.0M114.1 411.9h2.0M127.1 411.9h1.0M129.1 411.9h1.0M131.1 411.9h1.0M143.1 411.9h1.0M161.2 411.9h1.0M194.2 411.9h1.0M52.0 415.3h1.0M69.0 415.3h1.0M80.1 415.3h1.0M85.1 415.3h1.0M88.1 415.3h1.0M93.1 415.3h1.0M97.1 415.3h1.0M111.1 415.3h1.0M114.1 415.3h3.0M118.1 415.3h2.0M121.1 415.3h1.0M128.1 415.3h1.0M133.1 415.3h1.0M148.1 415.3h1.0M159.2 415.3h1.0M170.2 415.3h2.0M185.2 415.3h2.0M194.2 415.3h1.0M31.0 418.7h1.0M52.0 418.7h1.0M76.1 418.7h1.0M80.1 418.7h1.0M93.1 418.7h1.0M96.1 418.7h1.0M107.1 418.7h1.0M118.1 418.7h2.0M127.1 418.7h1.0M142.1 418.7h2.0M157.2 418.7h1.0M162.2 418.7h1.0M174.2 418.7h1.0M179.2 418.7h1.0M183.2 418.7h1.0M52.0 422.1h1.0M61.0 422.1h1.0M69.0 422.1h1.0M74.1 422.1h1.0M88.1 422.1h1.0M92.1 422.1h1.0M98.1 422.1h1.0M100.1 422.1h1.0M102.1 422.1h1.0M128.1 422.1h1.0M131.1 422.1h1.0M141.1 422.1h1.0M144.1 422.1h1.0M149.1 422.1h1.0M155.1 422.1h1.0M174.2 422.1h1.0M189.2 422.1h1.0M79.1 425.5h2.0M85.1 425.5h2.0M88.1 425.5h1.0M90.1 425.5h1.0M97.1 425.5h2.0M100.1 425.5h1.0M105.1 425.5h1.0M115.1 425.5h1.0M125.1 425.5h2.0M133.1 425.5h1.0M138.1 425.5h1.0M141.1 425.5h2.0M144.1 425.5h1.0M148.1 425.5h1.0M186.2 425.5h1.0M188.2 425.5h1.0M193.2 425.5h1.0M196.2 425.5h1.0M34.0 428.9h1.0M43.0 428.9h1.0M51.0 428.9h2.0M56.0 428.9h1.0M79.1 428.9h1.0M89.1 428.9h1.0M115.1 428.9h2.0M118.1 428.9h1.0M128.1 428.9h1.0M157.2 428.9h1.0M179.2 428.9h1.0M185.2 428.9h1.0M192.2 428.9h2.0M196.2 428.9h1.0M34.0 432.3h1.0M54.0 432.3h1.0M62.0 432.3h1.0M88.1 432.3h1.0M102.1 432.3h1.0M118.1 432.3h1.0M134.1 432.3h1.0M137.1 432.3h1.0M139.1 432.3h1.0M142.1 432.3h2.0M151.1 432.3h1.0M179.2 432.3h1.0M185.2 432.3h1.0M196.2 432.3h1.0M34.0 435.7h1.0M116.1 435.7h1.0M134.1 435.7h1.0M139.1 435.7h3.0M143.1 435.7h1.0M162.2 435.7h1.0M185.2 435.7h1.0M35.0 439.1h1.0M53.0 439.1h1.0M58.0 439.1h1.0M61.0 439.1h2.0M102.1 439.1h1.0M116.1 439.1h1.0M118.1 439.1h1.0M143.1 439.1h1.0M145.1 439.1h1.0M150.1 439.1h2.0M154.1 439.1h1.0M157.2 439.1h1.0M159.2 439.1h1.0M173.2 439.1h1.0M193.2 439.1h1.0M45.0 442.5h2.0M61.0 442.5h1.0M83.1 442.5h1.0M86.1 442.5h1.0M89.1 442.5h1.0M93.1 442.5h1.0M115.1 442.5h1.0M134.1 442.5h1.0M143.1 442.5h1.0M155.1 442.5h1.0M159.2 442.5h1.0M162.2 442.5h1.0M171.2 442.5h1.0M174.2 442.5h1.0M189.2 442.5h2.0M193.2 442.5h1.0M43.0 445.9h1.0M50.0 445.9h1.0M61.0 445.9h2.0M69.0 445.9h1.0M80.1 445.9h1.0M82.1 445.9h1.0M97.1 445.9h1.0M151.1 445.9h1.0M159.2 445.9h1.0M161.2 445.9h1.0M168.2 445.9h1.0M173.2 445.9h1.0M177.2 445.9h1.0M196.2 445.9h1.0M33.0 449.3h1.0M61.0 449.3h1.0M70.0 449.3h1.0M118.1 449.3h1.0M134.1 449.3h1.0M144.1 449.3h1.0M185.2 449.3h1.0M188.2 449.3h2.0M193.2 449.3h1.0" stroke="#4a4b5f" stroke-width="3.45" fill="none"/>
<path d="M36.0 36.9h1.0M39.0 36.9h1.0M48.0 36.9h1.0M76.1 36.9h1.0M78.1 36.9h1.0M117.1 36.9h1.0M133.1 36.9h1.0M136.1 36.9h1.0M141.1 36.9h2.0M145.1 36.9h1.0M147.1 36.9h1.0M166.2 36.9h1.0M182.2 36.9h1.0M185.2 36.9h2.0M190.2 36.9h1.0M29.0 40.2h1.0M31.0 40.2h1.0M33.0 40.2h1.0M49.0 40.2h1.0M61.0 40.2h2.0M65.0 40.2h1.0M85.1 40.2h1.0M104.1 40.2h1.0M131.1 40.2h1.0M133.1 40.2h1.0M136.1 40.2h1.0M153.1 40.2h1.0M159.2 40.2h2.0M63.0 43.5h2.0M68.0 43.5h1.0M71.0 43.5h1.0M77.1 43.5h1.0M96.1 43.5h1.0M101.1 43.5h1.0M104.1 43.5h2.0M108.1 43.5h1.0M132.1 43.5h1.0M135.1 43.5h1.0M153.1 43.5h1.0M182.2 43.5h1.0M49.0 46.8h1.0M65.0 46.8h1.0M75.1 46.8h1.0M87.1 46.8h1.0M101.1 46.8h1.0M139.1 46.8h1.0M144.1 46.8h1.0M146.1 46.8h1.0M153.1 46.8h1.0M175.2 46.8h2.0M181.2 46.8h1.0M37.0 50.1h1.0M40.0 50.1h1.0M45.0 50.1h1.0M53.0 50.1h2.0M59.0 50.1h1.0M67.0 50.1h1.0M70.0 50.1h1.0M76.1 50.1h2.0M85.1 50.1h2.0M90.1 50.1h1.0M94.1 50.1h1.0M112.1 50.1h2.0M119.1 50.1h1.0M124.1 50.1h1.0M143.1 50.1h1.0M147.1 50.1h1.0M159.2 50.1h1.0M161.2 50.1h1.0M165.2 50.1h1.0M170.2 50.1h1.0M175.2 50.1h1.0M185.2 50.1h1.0M36.0 53.5h1.0M41.0 53.5h1.0M46.0 53.5h1.0M52.0 53.5h1.0M64.0 53.5h1.0M70.0 53.5h1.0M91.1 53.5h1.0M102.1 53.5h1.0M143.1 53.5h1.0M147.1 53.5h1.0M178.2 53.5h1.0M33.0 56.8h1.0M37.0 56.8h1.0M40.0 56.8h1.0M49.0 56.8h1.0M52.0 56.8h1.0M75.1 56.8h1.0M79.1 56.8h1.0M90.1 56.8h1.0M93.1 56.8h2.0M116.1 56.8h1.0M133.1 56.8h1.0M142.1 56.8h1.0M147.1 56.8h1.0M156.2 56.8h1.0M165.2 56.8h1.0M187.2 56.8h1.0M196.2 56.8h1.0M50.0 60.1h1.0M54.0 60.1h1.0M58.0 60.1h1.0M65.0 60.1h1.0M96.1 60.1h1.0M108.1 60.1h1.0M116.1 60.1h1.0M119.1 60.1h1.0M121.1 60.1h1.0M136.1 60.1h1.0M145.1 60.1h1.0M154.1 60.1h1.0M162.2 60.1h1.0M182.2 60.1h1.0M184.2 60.1h2.0M196.2 60.1h1.0M30.0 63.4h1.0M36.0 63.4h2.0M44.0 63.4h1.0M46.0 63.4h2.0M51.0 63.4h1.0M60.0 63.4h1.0M81.1 63.4h1.0M83.1 63.4h1.0M111.1 63.4h1.0M119.1 63.4h1.0M129.1 63.4h1.0M142.1 63.4h1.0M151.1 63.4h1.0M154.1 63.4h1.0M157.2 63.4h1.0M32.0 66.7h1.0M56.0 66.7h1.0M82.1 66.7h1.0M86.1 66.7h1.0M90.1 66.7h1.0M104.1 66.7h1.0M117.1 66.7h1.0M126.1 66.7h1.0M140.1 66.7h1.0M149.1 66.7h1.0M153.1 66.7h1.0M159.2 66.7h1.0M170.2 66.7h1.0M182.2 66.7h1.0M29.0 70.1h1.0M64.0 70.1h1.0M79.1 70.1h1.0M81.1 70.1h1.0M98.1 70.1h1.0M105.1 70.1h1.0M117.1 70.1h1.0M155.1 70.1h1.0M161.2 70.1h1.0M170.2 70.1h1.0M189.2 70.1h1.0M196.2 70.1h1.0M29.0 73.4h2.0M39.0 73.4h1.0M52.0 73.4h1.0M55.0 73.4h1.0M68.0 73.4h1.0M75.1 73.4h1.0M98.1 73.4h1.0M101.1 73.4h1.0M125.1 73.4h1.0M132.1 73.4h2.0M135.1 73.4h1.0M145.1 73.4h1.0M151.1 73.4h1.0M155.1 73.4h3.0M178.2 73.4h1.0M189.2 73.4h1.0M38.0 76.7h1.0M44.0 76.7h1.0M50.0 76.7h1.0M62.0 76.7h1.0M66.0 76.7h1.0M72.1 76.7h3.0M81.1 76.7h1.0M95.1 76.7h1.0M108.1 76.7h1.0M121.1 76.7h1.0M133.1 76.7h1.0M136.1 76.7h1.0M142.1 76.7h1.0M151.1 76.7h1.0M168.2 76.7h1.0M196.2 76.7h1.0M54.0 80.0h1.0M68.0 80.0h1.0M75.1 80.0h2.0M87.1 80.0h1.0M104.1 80.0h1.0M113.1 80.0h1.0M117.1 80.0h1.0M125.1 80.0h2.0M160.2 80.0h1.0M163.2 80.0h1.0M171.2 80.0h1.0M175.2 80.0h1.0M179.2 80.0h1.0M39.0 83.3h1.0M41.0 83.3h1.0M50.0 83.3h1.0M87.1 83.3h1.0M92.1 83.3h2.0M99.1 83.3h1.0M104.1 83.3h1.0M122.1 83.3h2.0M131.1 83.3h1.0M156.2 83.3h1.0M190.2 83.3h1.0M51.0 86.7h1.0M53.0 86.7h1.0M60.0 86.7h1.0M65.0 86.7h1.0M75.1 86.7h1.0M87.1 86.7h2.0M91.1 86.7h1.0M95.1 86.7h1.0M130.1 86.7h1.0M135.1 86.7h1.0M146.1 86.7h1.0M148.1 86.7h1.0M164.2 86.7h1.0M170.2 86.7h1.0M173.2 86.7h1.0M175.2 86.7h1.0M177.2 86.7h2.0M182.2 86.7h1.0M193.2 86.7h1.0M29.0 90.0h1.0M32.0 90.0h1.0M48.0 90.0h1.0M63.0 90.0h1.0M69.0 90.0h1.0M76.1 90.0h1.0M80.1 90.0h1.0M88.1 90.0h1.0M96.1 90.0h1.0M106.1 90.0h1.0M120.1 90.0h1.0M133.1 90.0h1.0M144.1 90.0h1.0M154.1 90.0h1.0M160.2 90.0h1.0M175.2 90.0h1.0M179.2 90.0h1.0M181.2 90.0h1.0M193.2 90.0h1.0M50.0 93.3h1.0M56.0 93.3h1.0M80.1 93.3h1.0M93.1 93.3h1.0M97.1 93.3h1.0M118.1 93.3h1.0M133.1 93.3h1.0M144.1 93.3h1.0M147.1 93.3h1.0M152.1 93.3h1.0M177.2 93.3h1.0M191.2 93.3h1.0M196.2 93.3h1.0M36.0 96.6h1.0M57.0 96.6h1.0M70.0 96.6h1.0M162.2 96.6h1.0M165.2 96.6h1.0M169.2 96.6h1.0M193.2 96.6h1.0M195.2 96.6h2.0M33.0 99.9h1.0M37.0 99.9h1.0M58.0 99.9h1.0M61.0 99.9h1.0M65.0 99.9h1.0M74.1 99.9h2.0M95.1 99.9h2.0M108.1 99.9h1.0M115.1 99.9h1.0M120.1 99.9h1.0M125.1 99.9h1.0M145.1 99.9h1.0M153.1 99.9h1.0M169.2 99.9h1.0M171.2 99.9h1.0M181.2 99.9h1.0M184.2 99.9h1.0M193.2 99.9h1.0M36.0 103.3h1.0M38.0 103.3h1.0M70.0 103.3h1.0M80.1 103.3h1.0M86.1 103.3h1.0M94.1 103.3h3.0M117.1 103.3h1.0M119.1 103.3h2.0M133.1 103.3h1.0M136.1 103.3h1.0M151.1 103.3h1.0M153.1 103.3h1.0M165.2 103.3h1.0M196.2 103.3h1.0M34.0 106.6h1.0M38.0 106.6h1.0M47.0 106.6h1.0M64.0 106.6h1.0M78.1 106.6h1.0M83.1 106.6h2.0M87.1 106.6h1.0M93.1 106.6h3.0M118.1 106.6h1.0M120.1 106.6h1.0M136.1 106.6h1.0M151.1 106.6h1.0M182.2 106.6h1.0M42.0 109.9h1.0M44.0 109.9h1.0M47.0 109.9h1.0M64.0 109.9h1.0M81.1 109.9h1.0M86.1 109.9h1.0M103.1 109.9h1.0M112.1 109.9h1.0M119.1 109.9h1.0M160.2 109.9h2.0M165.2 109.9h2.0M183.2 109.9h1.0M41.0 113.2h1.0M44.0 113.2h1.0M63.0 113.2h2.0M67.0 113.2h1.0M73.1 113.2h1.0M76.1 113.2h1.0M78.1 113.2h1.0M101.1 113.2h1.0M133.1 113.2h1.0M138.1 113.2h2.0M147.1 113.2h1.0M160.2 113.2h1.0M169.2 113.2h1.0M181.2 113.2h1.0M71.0 116.5h1.0M88.1 116.5h1.0M92.1 116.5h1.0M104.1 116.5h1.0M116.1 116.5h2.0M122.1 116.5h1.0M146.1 116.5h1.0M177.2 116.5h1.0M32.0 119.9h1.0M63.0 119.9h2.0M71.0 119.9h1.0M74.1 119.9h1.0M82.1 119.9h1.0M98.1 119.9h1.0M104.1 119.9h1.0M135.1 119.9h1.0M144.1 119.9h1.0M148.1 119.9h2.0M151.1 119.9h1.0M162.2 119.9h1.0M164.2 119.9h1.0M174.2 119.9h1.0M183.2 119.9h1.0M187.2 119.9h1.0M191.2 119.9h1.0M29.0 123.2h1.0M39.0 123.2h1.0M45.0 123.2h2.0M57.0 123.2h1.0M59.0 123.2h1.0M78.1 123.2h1.0M84.1 123.2h1.0M91.1 123.2h1.0M105.1 123.2h1.0M126.1 123.2h1.0M132.1 123.2h1.0M135.1 123.2h1.0M174.2 123.2h1.0M184.2 123.2h1.0M38.0 126.5h1.0M59.0 126.5h1.0M61.0 126.5h1.0M81.1 126.5h1.0M86.1 126.5h1.0M91.1 126.5h1.0M97.1 126.5h1.0M105.1 126.5h1.0M130.1 126.5h1.0M132.1 126.5h2.0M136.1 126.5h1.0M146.1 126.5h1.0M166.2 126.5h1.0M175.2 126.5h1.0M179.2 126.5h1.0M189.2 126.5h1.0M30.0 129.8h1.0M52.0 129.8h1.0M59.0 129.8h1.0M63.0 129.8h1.0M77.1 129.8h1.0M112.1 129.8h1.0M145.1 129.8h2.0M153.1 129.8h1.0M156.2 129.8h1.0M170.2 129.8h1.0M172.2 129.8h1.0M174.2 129.8h1.0M187.2 129.8h1.0M190.2 129.8h1.0M197.2 129.8h1.0M38.0 133.1h1.0M42.0 133.1h1.0M61.0 133.1h1.0M66.0 133.1h1.0M68.0 133.1h1.0M76.1 133.1h1.0M96.1 133.1h1.0M103.1 133.1h1.0M121.1 133.1h1.0M124.1 133.1h2.0M139.1 133.1h1.0M167.2 133.1h1.0M173.2 133.1h1.0M37.0 136.5h1.0M61.0 136.5h1.0M74.1 136.5h1.0M77.1 136.5h1.0M83.1 136.5h1.0M155.1 136.5h1.0M162.2 136.5h1.0M173.2 136.5h1.0M178.2 136.5h1.0M180.2 136.5h1.0M184.2 136.5h1.0M189.2 136.5h1.0M193.2 136.5h1.0M48.0 139.8h1.0M55.0 139.8h1.0M60.0 139.8h1.0M82.1 139.8h1.0M84.1 139.8h1.0M87.1 139.8h1.0M105.1 139.8h1.0M108.1 139.8h1.0M112.1 139.8h1.0M118.1 139.8h1.0M124.1 139.8h1.0M129.1 139.8h1.0M132.1 139.8h1.0M135.1 139.8h1.0M151.1 139.8h1.0M161.2 139.8h1.0M175.2 139.8h1.0M182.2 139.8h1.0M191.2 139.8h1.0M43.0 143.1h1.0M48.0 143.1h1.0M59.0 143.1h1.0M71.0 143.1h1.0M81.1 143.1h1.0M87.1 143.1h1.0M126.1 143.1h1.0M151.1 143.1h1.0M156.2 143.1h1.0M167.2 143.1h1.0M184.2 143.1h1.0M36.0 146.4h2.0M42.0 146.4h1.0M52.0 146.4h1.0M59.0 146.4h1.0M93.1 146.4h1.0M103.1 146.4h1.0M105.1 146.4h1.0M112.1 146.4h1.0M119.1 146.4h1.0M135.1 146.4h1.0M144.1 146.4h1.0M163.2 146.4h1.0M166.2 146.4h2.0M174.2 146.4h1.0M177.2 146.4h1.0M32.0 149.7h2.0M38.0 149.7h1.0M49.0 149.7h1.0M53.0 149.7h1.0M59.0 149.7h1.0M91.1 149.7h1.0M99.1 149.7h1.0M118.1 149.7h2.0M132.1 149.7h1.0M143.1 149.7h1.0M146.1 149.7h2.0M156.2 149.7h1.0M158.2 149.7h1.0M32.0 153.1h1.0M36.0 153.1h1.0M41.0 153.1h1.0M51.0 153.1h1.0M64.0 153.1h1.0M84.1 153.1h1.0M111.1 153.1h1.0M124.1 153.1h1.0M126.1 153.1h2.0M147.1 153.1h1.0M151.1 153.1h1.0M165.2 153.1h1.0M175.2 153.1h1.0M179.2 153.1h1.0M181.2 153.1h1.0M190.2 153.1h1.0M196.2 153.1h1.0M36.0 156.4h1.0M41.0 156.4h1.0M55.0 156.4h1.0M61.0 156.4h1.0M89.1 156.4h1.0M113.1 156.4h1.0M123.1 156.4h1.0M133.1 156.4h1.0M144.1 156.4h2.0M151.1 156.4h1.0M172.2 156.4h1.0M178.2 156.4h1.0M181.2 156.4h1.0M185.2 156.4h1.0M193.2 156.4h1.0M31.0 159.7h1.0M33.0 159.7h1.0M45.0 159.7h1.0M77.1 159.7h1.0M84.1 159.7h1.0M103.1 159.7h1.0M111.1 159.7h1.0M116.1 159.7h1.0M145.1 159.7h1.0M147.1 159.7h1.0M164.2 159.7h1.0M196.2 159.7h1.0M38.0 163.0h1.0M47.0 163.0h1.0M57.0 163.0h1.0M64.0 163.0h1.0M86.1 163.0h1.0M104.1 163.0h1.0M112.1 163.0h1.0M124.1 163.0h1.0M129.1 163.0h1.0M141.1 163.0h1.0M156.2 163.0h1.0M161.2 163.0h1.0M163.2 163.0h1.0M182.2 163.0h1.0M185.2 163.0h1.0M187.2 163.0h1.0M59.0 166.3h1.0M65.0 166.3h2.0M70.0 166.3h1.0M85.1 166.3h1.0M132.1 166.3h1.0M138.1 166.3h1.0M144.1 166.3h1.0M156.2 166.3h1.0M171.2 166.3h1.0M174.2 166.3h1.0M29.0 169.7h1.0M37.0 169.7h1.0M53.0 169.7h1.0M58.0 169.7h1.0M64.0 169.7h1.0M71.0 169.7h1.0M73.1 169.7h1.0M75.1 169.7h1.0M97.1 169.7h1.0M99.1 169.7h1.0M122.1 169.7h1.0M131.1 169.7h2.0M135.1 169.7h1.0M139.1 169.7h1.0M144.1 169.7h1.0M146.1 169.7h1.0M29.0 173.0h1.0M54.0 173.0h1.0M58.0 173.0h1.0M78.1 173.0h1.0M83.1 173.0h2.0M93.1 173.0h1.0M98.1 173.0h1.0M137.1 173.0h2.0M145.1 173.0h1.0M147.1 173.0h1.0M160.2 173.0h1.0M165.2 173.0h1.0M187.2 173.0h1.0M50.0 176.4h1.0M60.0 176.4h1.0M64.0 176.4h1.0M69.0 176.4h2.0M88.1 176.4h1.0M90.1 176.4h1.0M102.1 176.4h1.0M106.1 176.4h1.0M149.1 176.4h2.0M165.2 176.4h1.0M33.0 179.7h1.0M38.0 179.7h1.0M42.0 179.7h1.0M60.0 179.7h1.0M77.1 179.7h1.0M81.1 179.7h1.0M90.1 179.7h1.0M94.1 179.7h1.0M96.1 179.7h1.0M104.1 179.7h2.0M152.1 179.7h1.0M154.1 179.7h2.0M167.2 179.7h1.0M179.2 179.7h3.0M43.0 183.0h1.0M58.0 183.0h1.0M62.0 183.0h1.0M67.0 183.0h1.0M69.0 183.0h1.0M84.1 183.0h1.0M103.1 183.0h1.0M110.1 183.0h1.0M115.1 183.0h1.0M132.1 183.0h1.0M139.1 183.0h1.0M152.1 183.0h1.0M157.2 183.0h1.0M176.2 183.0h1.0M194.2 183.0h1.0M196.2 183.0h1.0M36.0 186.4h1.0M57.0 186.4h1.0M69.0 186.4h1.0M77.1 186.4h1.0M84.1 186.4h1.0M103.1 186.4h1.0M107.1 186.4h1.0M110.1 186.4h1.0M112.1 186.4h1.0M119.1 186.4h1.0M123.1 186.4h1.0M128.1 186.4h1.0M136.1 186.4h1.0M144.1 186.4h2.0M147.1 186.4h1.0M152.1 186.4h2.0M194.2 186.4h1.0M33.0 189.7h1.0M40.0 189.7h1.0M52.0 189.7h1.0M68.0 189.7h1.0M79.1 189.7h1.0M86.1 189.7h1.0M90.1 189.7h1.0M92.1 189.7h2.0M106.1 189.7h1.0M109.1 189.7h1.0M114.1 189.7h1.0M121.1 189.7h1.0M152.1 189.7h1.0M175.2 189.7h1.0M193.2 189.7h1.0M36.0 193.1h1.0M46.0 193.1h1.0M52.0 193.1h1.0M60.0 193.1h1.0M70.0 193.1h1.0M72.1 193.1h1.0M77.1 193.1h1.0M100.1 193.1h1.0M103.1 193.1h1.0M105.1 193.1h2.0M122.1 193.1h1.0M150.1 193.1h1.0M158.2 193.1h1.0M160.2 193.1h1.0M175.2 193.1h1.0M181.2 193.1h1.0M184.2 193.1h1.0M34.0 196.4h1.0M44.0 196.4h1.0M53.0 196.4h1.0M73.1 196.4h1.0M77.1 196.4h1.0M80.1 196.4h1.0M88.1 196.4h1.0M99.1 196.4h1.0M109.1 196.4h1.0M119.1 196.4h1.0M134.1 196.4h1.0M154.1 196.4h1.0M44.0 199.7h1.0M46.0 199.7h1.0M74.1 199.7h1.0M107.1 199.7h1.0M120.1 199.7h1.0M123.1 199.7h1.0M126.1 199.7h1.0M130.1 199.7h1.0M140.1 199.7h1.0M189.2 199.7h1.0M196.2 199.7h1.0M32.0 203.1h1.0M40.0 203.1h2.0M84.1 203.1h1.0M97.1 203.1h2.0M104.1 203.1h2.0M112.1 203.1h1.0M121.1 203.1h1.0M124.1 203.1h1.0M140.1 203.1h1.0M144.1 203.1h1.0M148.1 203.1h1.0M150.1 203.1h2.0M157.2 203.1h1.0M162.2 203.1h1.0M170.2 203.1h1.0M180.2 203.1h1.0M189.2 203.1h1.0M193.2 203.1h1.0M37.0 206.4h1.0M49.0 206.4h1.0M60.0 206.4h2.0M65.0 206.4h1.0M69.0 206.4h2.0M77.1 206.4h2.0M82.1 206.4h1.0M97.1 206.4h1.0M123.1 206.4h1.0M125.1 206.4h2.0M153.1 206.4h1.0M48.0 209.8h1.0M50.0 209.8h1.0M53.0 209.8h1.0M62.0 209.8h1.0M85.1 209.8h1.0M87.1 209.8h1.0M91.1 209.8h1.0M108.1 209.8h1.0M117.1 209.8h1.0M121.1 209.8h1.0M124.1 209.8h1.0M148.1 209.8h1.0M157.2 209.8h1.0M168.2 209.8h1.0M29.0 213.1h1.0M39.0 213.1h1.0M43.0 213.1h2.0M56.0 213.1h1.0M76.1 213.1h1.0M79.1 213.1h1.0M81.1 213.1h1.0M87.1 213.1h1.0M90.1 213.1h1.0M94.1 213.1h2.0M132.1 213.1h1.0M135.1 213.1h1.0M139.1 213.1h1.0M144.1 213.1h1.0M170.2 213.1h1.0M172.2 213.1h1.0M187.2 213.1h1.0M191.2 213.1h1.0M195.2 213.1h1.0M30.0 216.4h1.0M69.0 216.4h1.0M77.1 216.4h1.0M79.1 216.4h1.0M112.1 216.4h1.0M119.1 216.4h1.0M145.1 216.4h1.0M170.2 216.4h1.0M175.2 216.4h1.0M193.2 216.4h1.0M32.0 219.8h1.0M43.0 219.8h1.0M47.0 219.8h1.0M52.0 219.8h1.0M65.0 219.8h1.0M84.1 219.8h1.0M94.1 219.8h1.0M111.1 219.8h1.0M113.1 219.8h1.0M115.1 219.8h1.0M135.1 219.8h1.0M144.1 219.8h1.0M148.1 219.8h1.0M163.2 219.8h1.0M172.2 219.8h1.0M43.0 223.1h1.0M52.0 223.1h1.0M60.0 223.1h1.0M62.0 223.1h1.0M64.0 223.1h1.0M73.1 223.1h2.0M86.1 223.1h1.0M90.1 223.1h1.0M103.1 223.1h1.0M106.1 223.1h2.0M123.1 223.1h1.0M130.1 223.1h1.0M136.1 223.1h1.0M145.1 223.1h1.0M152.1 223.1h1.0M154.1 223.1h1.0M192.2 223.1h1.0M77.1 226.4h1.0M79.1 226.4h1.0M96.1 226.4h1.0M103.1 226.4h1.0M106.1 226.4h1.0M110.1 226.4h1.0M121.1 226.4h1.0M126.1 226.4h1.0M128.1 226.4h1.0M132.1 226.4h1.0M135.1 226.4h1.0M164.2 226.4h1.0M30.0 229.8h2.0M38.0 229.8h1.0M44.0 229.8h1.0M46.0 229.8h1.0M69.0 229.8h1.0M76.1 229.8h1.0M113.1 229.8h1.0M136.1 229.8h1.0M167.2 229.8h1.0M192.2 229.8h1.0M195.2 229.8h1.0M34.0 233.1h1.0M38.0 233.1h1.0M45.0 233.1h1.0M47.0 233.1h1.0M68.0 233.1h1.0M75.1 233.1h1.0M79.1 233.1h2.0M99.1 233.1h1.0M138.1 233.1h1.0M171.2 233.1h1.0M179.2 233.1h1.0M193.2 233.1h1.0M42.0 236.5h1.0M47.0 236.5h1.0M56.0 236.5h1.0M68.0 236.5h2.0M78.1 236.5h1.0M92.1 236.5h1.0M96.1 236.5h1.0M111.1 236.5h1.0M115.1 236.5h1.0M123.1 236.5h1.0M126.1 236.5h1.0M145.1 236.5h1.0M170.2 236.5h1.0M176.2 236.5h1.0M37.0 239.8h1.0M40.0 239.8h1.0M49.0 239.8h1.0M58.0 239.8h1.0M65.0 239.8h1.0M72.1 239.8h1.0M77.1 239.8h1.0M86.1 239.8h1.0M90.1 239.8h1.0M93.1 239.8h1.0M111.1 239.8h1.0M125.1 239.8h1.0M129.1 239.8h1.0M131.1 239.8h2.0M135.1 239.8h1.0M147.1 239.8h2.0M151.1 239.8h1.0M156.2 239.8h1.0M158.2 239.8h1.0M169.2 239.8h1.0M176.2 239.8h1.0M190.2 239.8h2.0M37.0 243.2h1.0M50.0 243.2h1.0M67.0 243.2h1.0M79.1 243.2h1.0M86.1 243.2h1.0M94.1 243.2h1.0M100.1 243.2h1.0M123.1 243.2h1.0M155.1 243.2h1.0M51.0 246.5h1.0M65.0 246.5h1.0M84.1 246.5h1.0M89.1 246.5h1.0M100.1 246.5h1.0M108.1 246.5h1.0M111.1 246.5h2.0M118.1 246.5h1.0M126.1 246.5h1.0M139.1 246.5h1.0M152.1 246.5h1.0M158.2 246.5h1.0M160.2 246.5h1.0M165.2 246.5h1.0M170.2 246.5h1.0M177.2 246.5h1.0M30.0 249.8h1.0M37.0 249.8h1.0M52.0 249.8h1.0M66.0 249.8h1.0M70.0 249.8h1.0M83.1 249.8h1.0M90.1 249.8h1.0M104.1 249.8h1.0M106.1 249.8h1.0M112.1 249.8h1.0M135.1 249.8h1.0M145.1 249.8h2.0M148.1 249.8h1.0M167.2 249.8h1.0M183.2 249.8h2.0M191.2 249.8h1.0M47.0 253.2h1.0M62.0 253.2h1.0M86.1 253.2h1.0M92.1 253.2h1.0M99.1 253.2h1.0M148.1 253.2h1.0M150.1 253.2h2.0M153.1 253.2h1.0M162.2 253.2h1.0M184.2 253.2h1.0M193.2 253.2h1.0M63.0 256.5h1.0M77.1 256.5h1.0M79.1 256.5h1.0M81.1 256.5h1.0M91.1 256.5h1.0M110.1 256.5h1.0M120.1 256.5h1.0M126.1 256.5h1.0M130.1 256.5h1.0M148.1 256.5h1.0M154.1 256.5h1.0M196.2 256.5h1.0M31.0 259.9h1.0M36.0 259.9h2.0M43.0 259.9h1.0M58.0 259.9h1.0M72.1 259.9h1.0M103.1 259.9h1.0M116.1 259.9h1.0M167.2 259.9h1.0M187.2 259.9h1.0M193.2 259.9h2.0M196.2 259.9h1.0M46.0 263.2h1.0M56.0 263.2h1.0M77.1 263.2h1.0M101.1 263.2h1.0M106.1 263.2h2.0M110.1 263.2h1.0M120.1 263.2h1.0M167.2 263.2h1.0M44.0 266.5h1.0M49.0 266.5h1.0M56.0 266.5h1.0M73.1 266.5h1.0M78.1 266.5h1.0M80.1 266.5h1.0M100.1 266.5h1.0M142.1 266.5h1.0M144.1 266.5h1.0M153.1 266.5h1.0M167.2 266.5h1.0M171.2 266.5h2.0M175.2 266.5h1.0M193.2 266.5h1.0M37.0 269.9h1.0M39.0 269.9h1.0M44.0 269.9h1.0M69.0 269.9h1.0M72.1 269.9h1.0M95.1 269.9h1.0M98.1 269.9h1.0M101.1 269.9h1.0M106.1 269.9h1.0M118.1 269.9h1.0M120.1 269.9h1.0M128.1 269.9h1.0M135.1 269.9h1.0M137.1 269.9h1.0M143.1 269.9h1.0M170.2 269.9h1.0M174.2 269.9h1.0M184.2 269.9h2.0M31.0 273.2h1.0M44.0 273.2h1.0M95.1 273.2h1.0M101.1 273.2h1.0M104.1 273.2h1.0M114.1 273.2h1.0M126.1 273.2h1.0M137.1 273.2h1.0M145.1 273.2h1.0M153.1 273.2h1.0M166.2 273.2h1.0M177.2 273.2h1.0M37.0 276.6h1.0M52.0 276.6h2.0M55.0 276.6h1.0M58.0 276.6h1.0M69.0 276.6h1.0M72.1 276.6h3.0M78.1 276.6h1.0M80.1 276.6h1.0M87.1 276.6h1.0M89.1 276.6h2.0M95.1 276.6h1.0M102.1 276.6h1.0M123.1 276.6h1.0M126.1 276.6h1.0M129.1 276.6h1.0M135.1 276.6h1.0M168.2 276.6h1.0M182.2 276.6h1.0M29.0 279.9h1.0M38.0 279.9h1.0M43.0 279.9h1.0M46.0 279.9h1.0M55.0 279.9h1.0M67.0 279.9h1.0M70.0 279.9h1.0M72.1 279.9h1.0M81.1 279.9h1.0M98.1 279.9h1.0M106.1 279.9h1.0M108.1 279.9h1.0M132.1 279.9h1.0M145.1 279.9h1.0M151.1 279.9h1.0M180.2 279.9h1.0M187.2 279.9h1.0M197.2 279.9h1.0M36.0 283.2h1.0M45.0 283.2h1.0M53.0 283.2h1.0M63.0 283.2h1.0M70.0 283.2h1.0M73.1 283.2h1.0M97.1 283.2h2.0M102.1 283.2h4.0M126.1 283.2h1.0M137.1 283.2h1.0M140.1 283.2h1.0M145.1 283.2h1.0M182.2 283.2h1.0M193.2 283.2h1.0M29.0 286.6h1.0M34.0 286.6h1.0M46.0 286.6h1.0M53.0 286.6h1.0M78.1 286.6h1.0M89.1 286.6h2.0M108.1 286.6h1.0M126.1 286.6h1.0M142.1 286.6h1.0M176.2 286.6h1.0M181.2 286.6h1.0M29.0 289.9h1.0M33.0 289.9h1.0M43.0 289.9h1.0M48.0 289.9h1.0M58.0 289.9h1.0M83.1 289.9h1.0M85.1 289.9h1.0M97.1 289.9h1.0M101.1 289.9h2.0M145.1 289.9h1.0M149.1 289.9h1.0M182.2 289.9h1.0M187.2 289.9h1.0M195.2 289.9h1.0M31.0 293.2h2.0M39.0 293.2h1.0M46.0 293.2h1.0M48.0 293.2h1.0M68.0 293.2h1.0M93.1 293.2h1.0M102.1 293.2h1.0M106.1 293.2h1.0M132.1 293.2h1.0M151.1 293.2h1.0M167.2 293.2h1.0M184.2 293.2h1.0M193.2 293.2h1.0M196.2 293.2h1.0M29.0 296.6h2.0M32.0 296.6h1.0M36.0 296.6h1.0M45.0 296.6h1.0M59.0 296.6h1.0M75.1 296.6h1.0M99.1 296.6h2.0M107.1 296.6h1.0M109.1 296.6h1.0M111.1 296.6h1.0M127.1 296.6h2.0M131.1 296.6h1.0M146.1 296.6h1.0M156.2 296.6h1.0M164.2 296.6h1.0M168.2 296.6h1.0M182.2 296.6h1.0M187.2 296.6h1.0M34.0 299.9h1.0M45.0 299.9h2.0M52.0 299.9h1.0M73.1 299.9h1.0M82.1 299.9h1.0M97.1 299.9h1.0M106.1 299.9h1.0M112.1 299.9h1.0M139.1 299.9h1.0M155.1 299.9h1.0M161.2 299.9h1.0M170.2 299.9h1.0M191.2 299.9h1.0M33.0 303.3h1.0M41.0 303.3h2.0M60.0 303.3h1.0M66.0 303.3h1.0M90.1 303.3h1.0M93.1 303.3h1.0M108.1 303.3h1.0M110.1 303.3h1.0M134.1 303.3h1.0M139.1 303.3h1.0M145.1 303.3h1.0M153.1 303.3h1.0M173.2 303.3h1.0M176.2 303.3h1.0M39.0 306.6h1.0M61.0 306.6h1.0M87.1 306.6h1.0M90.1 306.6h1.0M92.1 306.6h1.0M94.1 306.6h1.0M114.1 306.6h1.0M127.1 306.6h1.0M130.1 306.6h1.0M138.1 306.6h2.0M156.2 306.6h1.0M169.2 306.6h1.0M196.2 306.6h1.0M31.0 309.9h2.0M40.0 309.9h1.0M58.0 309.9h1.0M60.0 309.9h1.0M66.0 309.9h1.0M81.1 309.9h1.0M106.1 309.9h1.0M112.1 309.9h1.0M122.1 309.9h2.0M142.1 309.9h1.0M145.1 309.9h1.0M163.2 309.9h1.0M166.2 309.9h1.0M187.2 309.9h1.0M189.2 309.9h2.0M192.2 309.9h1.0M195.2 309.9h1.0M33.0 313.3h1.0M85.1 313.3h1.0M118.1 313.3h1.0M124.1 313.3h1.0M154.1 313.3h1.0M167.2 313.3h1.0M169.2 313.3h1.0M176.2 313.3h1.0M187.2 313.3h1.0M190.2 313.3h1.0M193.2 313.3h1.0M33.0 316.6h1.0M35.0 316.6h1.0M40.0 316.6h1.0M51.0 316.6h1.0M69.0 316.6h1.0M74.1 316.6h1.0M84.1 316.6h1.0M88.1 316.6h1.0M93.1 316.6h1.0M98.1 316.6h1.0M108.1 316.6h2.0M136.1 316.6h1.0M144.1 316.6h1.0M153.1 316.6h1.0M167.2 316.6h1.0M170.2 316.6h1.0M183.2 316.6h1.0M190.2 316.6h1.0M38.0 320.0h1.0M48.0 320.0h3.0M58.0 320.0h1.0M72.1 320.0h2.0M75.1 320.0h1.0M90.1 320.0h1.0M98.1 320.0h1.0M101.1 320.0h1.0M156.2 320.0h1.0M160.2 320.0h1.0M173.2 320.0h1.0M196.2 320.0h1.0M34.0 323.4h1.0M49.0 323.4h1.0M60.0 323.4h1.0M65.0 323.4h1.0M87.1 323.4h1.0M91.1 323.4h1.0M102.1 323.4h1.0M108.1 323.4h1.0M112.1 323.4h1.0M123.1 323.4h1.0M161.2 323.4h1.0M169.2 323.4h1.0M187.2 323.4h1.0M193.2 323.4h1.0M66.0 326.8h1.0M71.0 326.8h1.0M74.1 326.8h1.0M81.1 326.8h1.0M88.1 326.8h1.0M93.1 326.8h1.0M95.1 326.8h1.0M103.1 326.8h2.0M119.1 326.8h1.0M123.1 326.8h1.0M140.1 326.8h1.0M158.2 326.8h1.0M164.2 326.8h1.0M174.2 326.8h1.0M177.2 326.8h1.0M42.0 330.2h1.0M51.0 330.2h1.0M67.0 330.2h1.0M72.1 330.2h1.0M77.1 330.2h1.0M91.1 330.2h1.0M99.1 330.2h1.0M131.1 330.2h1.0M133.1 330.2h1.0M143.1 330.2h1.0M158.2 330.2h1.0M174.2 330.2h1.0M181.2 330.2h1.0M190.2 330.2h1.0M197.2 330.2h1.0M31.0 333.6h2.0M49.0 333.6h1.0M71.0 333.6h1.0M78.1 333.6h1.0M88.1 333.6h1.0M97.1 333.6h1.0M101.1 333.6h1.0M119.1 333.6h1.0M134.1 333.6h2.0M145.1 333.6h1.0M160.2 333.6h1.0M162.2 333.6h1.0M164.2 333.6h1.0M169.2 333.6h1.0M181.2 333.6h1.0M190.2 333.6h1.0M197.2 333.6h1.0M34.0 337.0h1.0M46.0 337.0h1.0M81.1 337.0h1.0M108.1 337.0h1.0M112.1 337.0h1.0M114.1 337.0h1.0M117.1 337.0h1.0M132.1 337.0h1.0M154.1 337.0h1.0M164.2 337.0h1.0M173.2 337.0h1.0M197.2 337.0h1.0M38.0 340.4h1.0M43.0 340.4h4.0M53.0 340.4h1.0M78.1 340.4h1.0M84.1 340.4h1.0M99.1 340.4h1.0M107.1 340.4h1.0M117.1 340.4h1.0M121.1 340.4h1.0M123.1 340.4h1.0M132.1 340.4h1.0M134.1 340.4h1.0M156.2 340.4h1.0M183.2 340.4h1.0M193.2 340.4h1.0M197.2 340.4h1.0M30.0 343.8h1.0M73.1 343.8h1.0M75.1 343.8h1.0M77.1 343.8h1.0M84.1 343.8h1.0M102.1 343.8h1.0M132.1 343.8h1.0M43.0 347.2h1.0M60.0 347.2h1.0M68.0 347.2h1.0M75.1 347.2h1.0M77.1 347.2h2.0M84.1 347.2h1.0M89.1 347.2h2.0M107.1 347.2h1.0M112.1 347.2h1.0M119.1 347.2h1.0M124.1 347.2h1.0M126.1 347.2h1.0M30.0 350.6h1.0M57.0 350.6h1.0M65.0 350.6h1.0M68.0 350.6h1.0M77.1 350.6h1.0M84.1 350.6h2.0M89.1 350.6h1.0M95.1 350.6h1.0M100.1 350.6h1.0M107.1 350.6h2.0M156.2 350.6h1.0M164.2 350.6h1.0M177.2 350.6h1.0M181.2 350.6h2.0M190.2 350.6h1.0M39.0 354.1h1.0M45.0 354.1h1.0M67.0 354.1h1.0M72.1 354.1h1.0M76.1 354.1h1.0M88.1 354.1h2.0M104.1 354.1h1.0M107.1 354.1h1.0M117.1 354.1h1.0M132.1 354.1h1.0M164.2 354.1h1.0M169.2 354.1h1.0M193.2 354.1h1.0M42.0 357.5h1.0M58.0 357.5h1.0M62.0 357.5h1.0M84.1 357.5h1.0M89.1 357.5h1.0M104.1 357.5h1.0M108.1 357.5h1.0M117.1 357.5h2.0M139.1 357.5h1.0M164.2 357.5h1.0M167.2 357.5h1.0M174.2 357.5h1.0M30.0 360.9h1.0M32.0 360.9h1.0M39.0 360.9h1.0M60.0 360.9h1.0M71.0 360.9h1.0M77.1 360.9h1.0M87.1 360.9h1.0M89.1 360.9h1.0M95.1 360.9h1.0M108.1 360.9h1.0M120.1 360.9h1.0M124.1 360.9h1.0M139.1 360.9h1.0M177.2 360.9h1.0M182.2 360.9h2.0M41.0 364.3h1.0M53.0 364.3h1.0M60.0 364.3h1.0M69.0 364.3h1.0M71.0 364.3h2.0M77.1 364.3h1.0M81.1 364.3h1.0M85.1 364.3h1.0M96.1 364.3h1.0M106.1 364.3h1.0M108.1 364.3h1.0M114.1 364.3h1.0M160.2 364.3h1.0M177.2 364.3h1.0M190.2 364.3h1.0M34.0 367.7h1.0M72.1 367.7h1.0M84.1 367.7h1.0M88.1 367.7h1.0M90.1 367.7h1.0M95.1 367.7h1.0M97.1 367.7h1.0M99.1 367.7h1.0M107.1 367.7h2.0M117.1 367.7h1.0M156.2 367.7h1.0M164.2 367.7h1.0M180.2 367.7h1.0M182.2 367.7h2.0M43.0 371.1h1.0M66.0 371.1h1.0M87.1 371.1h1.0M89.1 371.1h2.0M98.1 371.1h1.0M103.1 371.1h3.0M123.1 371.1h1.0M134.1 371.1h2.0M143.1 371.1h1.0M156.2 371.1h1.0M158.2 371.1h1.0M169.2 371.1h1.0M182.2 371.1h1.0M34.0 374.5h1.0M42.0 374.5h1.0M46.0 374.5h1.0M49.0 374.5h1.0M53.0 374.5h1.0M56.0 374.5h2.0M75.1 374.5h1.0M88.1 374.5h1.0M98.1 374.5h1.0M100.1 374.5h2.0M104.1 374.5h1.0M119.1 374.5h1.0M164.2 374.5h1.0M190.2 374.5h2.0M193.2 374.5h1.0M196.2 374.5h2.0M38.0 377.9h1.0M43.0 377.9h1.0M72.1 377.9h1.0M75.1 377.9h1.0M81.1 377.9h1.0M84.1 377.9h1.0M87.1 377.9h1.0M90.1 377.9h1.0M98.1 377.9h1.0M147.1 377.9h1.0M154.1 377.9h1.0M160.2 377.9h1.0M164.2 377.9h1.0M174.2 377.9h1.0M193.2 377.9h1.0M30.0 381.3h1.0M38.0 381.3h1.0M43.0 381.3h1.0M65.0 381.3h1.0M81.1 381.3h2.0M96.1 381.3h2.0M102.1 381.3h2.0M107.1 381.3h1.0M114.1 381.3h1.0M123.1 381.3h1.0M132.1 381.3h1.0M149.1 381.3h1.0M161.2 381.3h1.0M173.2 381.3h1.0M43.0 384.7h1.0M50.0 384.7h1.0M56.0 384.7h2.0M84.1 384.7h1.0M90.1 384.7h2.0M101.1 384.7h2.0M104.1 384.7h1.0M108.1 384.7h1.0M123.1 384.7h1.0M154.1 384.7h1.0M171.2 384.7h1.0M175.2 384.7h1.0M180.2 384.7h1.0M196.2 384.7h1.0M43.0 388.1h1.0M92.1 388.1h1.0M96.1 388.1h1.0M114.1 388.1h1.0M156.2 388.1h1.0M182.2 388.1h1.0M187.2 388.1h1.0M193.2 388.1h1.0M197.2 388.1h1.0M35.0 391.5h1.0M39.0 391.5h3.0M46.0 391.5h1.0M63.0 391.5h1.0M77.1 391.5h1.0M84.1 391.5h1.0M93.1 391.5h1.0M98.1 391.5h2.0M112.1 391.5h1.0M115.1 391.5h1.0M184.2 391.5h1.0M197.2 391.5h1.0M38.0 394.9h4.0M58.0 394.9h1.0M61.0 394.9h1.0M72.1 394.9h1.0M94.1 394.9h2.0M110.1 394.9h1.0M122.1 394.9h1.0M132.1 394.9h1.0M139.1 394.9h1.0M174.2 394.9h1.0M40.0 398.3h1.0M70.0 398.3h1.0M78.1 398.3h1.0M82.1 398.3h1.0M84.1 398.3h1.0M91.1 398.3h1.0M123.1 398.3h1.0M138.1 398.3h1.0M148.1 398.3h1.0M158.2 398.3h1.0M163.2 398.3h1.0M29.0 401.7h1.0M34.0 401.7h1.0M51.0 401.7h1.0M84.1 401.7h2.0M99.1 401.7h1.0M107.1 401.7h1.0M110.1 401.7h1.0M133.1 401.7h1.0M152.1 401.7h1.0M156.2 401.7h1.0M173.2 401.7h1.0M193.2 401.7h1.0M47.0 405.1h1.0M60.0 405.1h1.0M75.1 405.1h1.0M84.1 405.1h1.0M94.1 405.1h1.0M107.1 405.1h1.0M123.1 405.1h1.0M132.1 405.1h1.0M154.1 405.1h1.0M156.2 405.1h1.0M42.0 408.5h1.0M44.0 408.5h1.0M54.0 408.5h1.0M84.1 408.5h1.0M101.1 408.5h1.0M107.1 408.5h1.0M122.1 408.5h1.0M163.2 408.5h1.0M169.2 408.5h1.0M180.2 408.5h2.0M184.2 408.5h1.0M29.0 411.9h1.0M87.1 411.9h1.0M102.1 411.9h1.0M110.1 411.9h1.0M132.1 411.9h1.0M38.0 415.3h1.0M41.0 415.3h1.0M87.1 415.3h1.0M99.1 415.3h1.0M110.1 415.3h1.0M113.1 415.3h1.0M134.1 415.3h1.0M173.2 415.3h1.0M30.0 418.7h1.0M37.0 418.7h1.0M57.0 418.7h1.0M59.0 418.7h1.0M70.0 418.7h1.0M77.1 418.7h1.0M89.1 418.7h1.0M95.1 418.7h1.0M132.1 418.7h1.0M175.2 418.7h1.0M188.2 418.7h1.0M38.0 422.1h1.0M78.1 422.1h1.0M99.1 422.1h1.0M29.0 425.5h1.0M31.0 425.5h1.0M33.0 425.5h1.0M38.0 425.5h1.0M47.0 425.5h1.0M54.0 425.5h2.0M63.0 425.5h1.0M82.1 425.5h1.0M107.1 425.5h1.0M110.1 425.5h1.0M117.1 425.5h1.0M136.1 425.5h1.0M147.1 425.5h1.0M168.2 425.5h1.0M170.2 425.5h1.0M29.0 428.9h1.0M40.0 428.9h1.0M99.1 428.9h1.0M109.1 428.9h1.0M113.1 428.9h1.0M132.1 428.9h1.0M138.1 428.9h1.0M150.1 428.9h1.0M162.2 428.9h1.0M171.2 428.9h1.0M173.2 428.9h1.0M184.2 428.9h1.0M191.2 428.9h1.0M195.2 428.9h1.0M31.0 432.3h1.0M37.0 432.3h1.0M68.0 432.3h1.0M83.1 432.3h1.0M110.1 432.3h1.0M112.1 432.3h1.0M133.1 432.3h1.0M150.1 432.3h1.0M166.2 432.3h1.0M173.2 432.3h1.0M176.2 432.3h1.0M184.2 432.3h1.0M191.2 432.3h1.0M31.0 435.7h1.0M40.0 435.7h1.0M57.0 435.7h1.0M60.0 435.7h1.0M67.0 435.7h1.0M76.1 435.7h1.0M84.1 435.7h1.0M88.1 435.7h1.0M96.1 435.7h1.0M108.1 435.7h1.0M112.1 435.7h1.0M117.1 435.7h1.0M136.1 435.7h1.0M159.2 435.7h1.0M165.2 435.7h1.0M175.2 435.7h1.0M182.2 435.7h1.0M184.2 435.7h1.0M47.0 439.1h1.0M55.0 439.1h2.0M69.0 439.1h1.0M71.0 439.1h1.0M76.1 439.1h1.0M92.1 439.1h1.0M99.1 439.1h1.0M104.1 439.1h1.0M110.1 439.1h1.0M112.1 439.1h1.0M120.1 439.1h1.0M127.1 439.1h1.0M129.1 439.1h1.0M138.1 439.1h1.0M158.2 439.1h1.0M167.2 439.1h1.0M175.2 439.1h1.0M191.2 439.1h1.0M36.0 442.5h2.0M42.0 442.5h1.0M49.0 442.5h1.0M55.0 442.5h1.0M74.1 442.5h2.0M98.1 442.5h1.0M104.1 442.5h2.0M108.1 442.5h1.0M117.1 442.5h1.0M135.1 442.5h1.0M146.1 442.5h1.0M170.2 442.5h1.0M197.2 442.5h1.0M34.0 445.9h1.0M40.0 445.9h2.0M57.0 445.9h1.0M66.0 445.9h1.0M73.1 445.9h1.0M78.1 445.9h1.0M83.1 445.9h1.0M85.1 445.9h1.0M87.1 445.9h1.0M91.1 445.9h1.0M99.1 445.9h1.0M126.1 445.9h2.0M145.1 445.9h2.0M149.1 445.9h1.0M158.2 445.9h1.0M184.2 445.9h1.0M66.0 449.3h1.0M77.1 449.3h1.0M101.1 449.3h1.0M104.1 449.3h1.0M120.1 449.3h1.0M129.1 449.3h1.0M148.1 449.3h1.0M150.1 449.3h1.0M164.2 449.3h1.0M166.2 449.3h1.0M172.2 449.3h1.0" stroke="#5c5538" stroke-width="3.45" fill="none"/>
</g>
<g transform="rotate(0.05 205 243)" font-size="3.6" font-weight="bold" fill="#8c8c8c" stroke="#8c8c8c" stroke-width="0.3" filter="url(#tblur)">
<text x="200.2" y="37.96">CCL1</text>
<text x="200.2" y="41.28">CCL11</text>
<text x="200.2" y="44.60">CCL13</text>
<text x="200.2" y="47.92">CCL14</text>
<text x="200.2" y="51.24">CCL15</text>
<text x="200.2" y="54.56">CCL16</text>
<text x="200.2" y="57.88">CCL17</text>
<text x="200.2" y="61.20">CCL18</text>
<text x="200.2" y="64.52">CCL19</text>
<text x="200.2" y="67.84">CCL2</text>
<text x="200.2" y="71.16">CCL20</text>
<text x="200.2" y="74.48">CCL21</text>
<text x="200.2" y="77.80">CCL22</text>
<text x="200.2" y="81.12">CCL23</text>
<text x="200.2" y="84.44">CCL24</text>
<text x="200.2" y="87.76">CCL25</text>
<text x="200.2" y="91.08">CCL26</text>
<text x="200.2" y="94.40">CCL27</text>
<text x="200.2" y="97.72">CCL28</text>
<text x="200.2" y="101.04">CCL3</text>
<text x="200.2" y="104.36">CCL4</text>
<text x="200.2" y="107.68">CCL5</text>
<text x="200.2" y="111.00">CCL7</text>
<text x="200.2" y="114.32">CCL8</text>
<text x="200.2" y="117.64">CX3CL1</text>
<text x="200.2" y="120.96">CXCL1</text>
<text x="200.2" y="124.28">CXCL10</text>
<text x="200.2" y="127.60">CXCL11</text>
<text x="200.2" y="130.92">CXCL12</text>
<text x="200.2" y="134.24">CXCL13</text>
<text x="200.2" y="137.56">CXCL14</text>
<text x="200.2" y="140.88">CXCL16</text>
<text x="200.2" y="144.20">CXCL17</text>
<text x="200.2" y="147.52">CXCL2</text>
<text x="200.2" y="150.84">CXCL3</text>
<text x="200.2" y="154.16">CXCL5</text>
<text x="200.2" y="157.48">CXCL6</text>
<text x="200.2" y="160.80">CXCL8</text>
<text x="200.2" y="164.12">CXCL9</text>
<text x="200.2" y="167.44">XCL1</text>
<text x="200.2" y="170.77">C10orf54</text>
<text x="200.2" y="174.11">CD27</text>
<text x="200.2" y="177.45">CD276</text>
<text x="200.2" y="180.79">CD28</text>
<text x="200.2" y="184.13">CD40</text>
<text x="200.2" y="187.47">CD40LG</text>
<text x="200.2" y="190.81">CD48</text>
<text x="200.2" y="194.15">CD70</text>
<text x="200.2" y="197.49">CD80</text>
<text x="200.2" y="200.83">CD86</text>
<text x="200.2" y="204.17">CXCL12</text>
<text x="200.2" y="207.51">CXCR4</text>
<text x="200.2" y="210.85">ENTPD1</text>
<text x="200.2" y="214.19">HHLA2</text>
<text x="200.2" y="217.53">ICOS</text>
<text x="200.2" y="220.87">ICOSLG</text>
<text x="200.2" y="224.21">IL2RA</text>
<text x="200.2" y="227.55">IL6</text>
<text x="200.2" y="230.89">IL6R</text>
<text x="200.2" y="234.23">KLRC1</text>
<text x="200.2" y="237.57">KLRK1</text>
<text x="200.2" y="240.91">LTA</text>
<text x="200.2" y="244.25">MICB</text>
<text x="200.2" y="247.59">NT5E</text>
<text x="200.2" y="250.93">PVR</text>
<text x="200.2" y="254.27">RAET1E</text>
<text x="200.2" y="257.61">TMIGD2</text>
<text x="200.2" y="260.95">TNFRSF13B</text>
<text x="200.2" y="264.29">TNFRSF13C</text>
<text x="200.2" y="267.63">TNFRSF14</text>
<text x="200.2" y="270.97">TNFRSF17</text>
<text x="200.2" y="274.31">TNFRSF18</text>
<text x="200.2" y="277.65">TNFRSF25</text>
<text x="200.2" y="280.99">TNFRSF4</text>
<text x="200.2" y="284.33">TNFRSF8</text>
<text x="200.2" y="287.67">TNFRSF9</text>
<text x="200.2" y="291.01">TNFSF13</text>
<text x="200.2" y="294.35">TNFSF13B</text>
<text x="200.2" y="297.69">TNFSF14</text>
<text x="200.2" y="301.03">TNFSF15</text>
<text x="200.2" y="304.37">TNFSF18</text>
<text x="200.2" y="307.71">TNFSF4</text>
<text x="200.2" y="311.05">TNFSF9</text>
<text x="200.2" y="314.39">ULBP1</text>
<text x="200.2" y="317.73">IL2</text>
<text x="200.2" y="321.10">B2M</text>
<text x="200.2" y="324.51">HLA-A</text>
<text x="200.2" y="327.91">HLA-B</text>
<text x="200.2" y="331.32">HLA-C</text>
<text x="200.2" y="334.72">HLA-DMA</text>
<text x="200.2" y="338.13">HLA-DMB</text>
<text x="200.2" y="341.53">HLA-DOA</text>
<text x="200.2" y="344.94">HLA-DOB</text>
<text x="200.2" y="348.34">HLA-DPA1</text>
<text x="200.2" y="351.75">HLA-DPB1</text>
<text x="200.2" y="355.15">HLA-DQA1</text>
<text x="200.2" y="358.55">HLA-DQA2</text>
<text x="200.2" y="361.96">HLA-DQB1</text>
<text x="200.2" y="365.36">HLA-DRA</text>
<text x="200.2" y="368.77">HLA-DRB1</text>
<text x="200.2" y="372.17">HLA-E</text>
<text x="200.2" y="375.58">HLA-F</text>
<text x="200.2" y="378.98">HLA-G</text>
<text x="200.2" y="382.39">TAP1</text>
<text x="200.2" y="385.79">TAP2</text>
<text x="200.2" y="389.20">TAPBP</text>
<text x="200.2" y="392.60">CCR1</text>
<text x="200.2" y="396.00">CCR10</text>
<text x="200.2" y="399.40">CCR2</text>
<text x="200.2" y="402.80">CCR3</text>
<text x="200.2" y="406.20">CCR4</text>
<text x="200.2" y="409.60">CCR5</text>
<text x="200.2" y="413.00">CCR6</text>
<text x="200.2" y="416.40">CCR7</text>
<text x="200.2" y="419.80">CCR8</text>
<text x="200.2" y="423.20">CCR9</text>
<text x="200.2" y="426.60">CX3CR1</text>
<text x="200.2" y="430.00">CXCR1</text>
<text x="200.2" y="433.40">CXCR2</text>
<text x="200.2" y="436.80">CXCR3</text>
<text x="200.2" y="440.20">CXCR4</text>
<text x="200.2" y="443.60">CXCR5</text>
<text x="200.2" y="447.00">CXCR6</text>
<text x="200.2" y="450.40">XCR1</text>
</g>
<defs><linearGradient id="hmleg" x1="0" y1="0" x2="0" y2="1"><stop offset="0" stop-color="#f2dc3c"/><stop offset="0.18" stop-color="#e8d23a"/><stop offset="0.5" stop-color="#1c1a1a"/><stop offset="0.72" stop-color="#4a64a8"/><stop offset="1" stop-color="#5b86cc"/></linearGradient></defs>
<rect x="223.5" y="39.6" width="4" height="41.6" fill="url(#hmleg)"/>
<text x="230.5" y="42.9" font-size="4.2" fill="#333" stroke="#333" stroke-width="0.1">4</text>
<text x="230.5" y="52.699999999999996" font-size="4.2" fill="#333" stroke="#333" stroke-width="0.1">2</text>
<text x="230.5" y="62.4" font-size="4.2" fill="#333" stroke="#333" stroke-width="0.1">0</text>
<text x="230.5" y="72.30000000000001" font-size="4.2" fill="#333" stroke="#333" stroke-width="0.1">−2</text>
<text x="230.5" y="81.60000000000001" font-size="4.2" fill="#333" stroke="#333" stroke-width="0.1">−4</text>
<text x="264.2" y="15.8" font-size="12.5" font-weight="bold" fill="#111">B</text>
<rect x="311.5" y="18.5" width="123" height="107" fill="#fff" stroke="#8c8c8c" stroke-width="1"/>
<text x="314.50" y="22.60" font-size="3.4" fill="#444" stroke="#444" stroke-width="0.12">HAVCR2</text>
<ellipse cx="316.60" cy="26.48" rx="1.45" ry="0.9" fill="#c87a76"/>
<rect x="315.50" y="26.08" width="2.2" height="0.75" fill="#6b3a36" opacity="0.75"/>
<text x="319.95" y="27.68" font-size="3.4" fill="#444" stroke="#444" stroke-width="0.12">CD274</text>
<ellipse cx="316.60" cy="31.56" rx="1.45" ry="0.9" fill="#c87a76"/>
<rect x="315.50" y="31.16" width="2.2" height="0.75" fill="#6b3a36" opacity="0.75"/>
<ellipse cx="322.05" cy="31.56" rx="1.45" ry="0.9" fill="#c87a76"/>
<rect x="320.95" y="31.16" width="2.2" height="0.75" fill="#6b3a36" opacity="0.75"/>
<text x="325.40" y="32.76" font-size="3.4" fill="#444" stroke="#444" stroke-width="0.12">CD96</text>
<ellipse cx="316.60" cy="36.64" rx="1.45" ry="0.9" fill="#c87a76"/>
<rect x="315.50" y="36.24" width="2.2" height="0.75" fill="#6b3a36" opacity="0.75"/>
<ellipse cx="322.05" cy="36.64" rx="1.45" ry="0.9" fill="#c87a76"/>
<rect x="320.95" y="36.24" width="2.2" height="0.75" fill="#6b3a36" opacity="0.75"/>
<circle cx="327.50" cy="36.64" r="1.75" fill="#cc5049"/>
<ellipse cx="327.50" cy="36.74" rx="1.0" ry="0.65" fill="#6e2219" opacity="0.7"/>
<text x="330.85" y="37.84" font-size="3.4" fill="#444" stroke="#444" stroke-width="0.12">LAG3</text>
<ellipse cx="316.60" cy="41.72" rx="1.45" ry="0.9" fill="#c87a76"/>
<rect x="315.50" y="41.32" width="2.2" height="0.75" fill="#6b3a36" opacity="0.75"/>
<ellipse cx="322.05" cy="41.72" rx="1.45" ry="0.9" fill="#c87a76"/>
<rect x="320.95" y="41.32" width="2.2" height="0.75" fill="#6b3a36" opacity="0.75"/>
<circle cx="327.50" cy="41.72" r="2.15" fill="#c9453f"/>
<ellipse cx="327.50" cy="41.82" rx="1.1" ry="0.75" fill="#6e2219" opacity="0.75"/>
<circle cx="332.95" cy="41.72" r="1.75" fill="#cc5049"/>
<ellipse cx="332.95" cy="41.82" rx="1.0" ry="0.65" fill="#6e2219" opacity="0.7"/>
<text x="336.30" y="42.92" font-size="3.4" fill="#444" stroke="#444" stroke-width="0.12">LAIR1</text>
<ellipse cx="316.60" cy="46.80" rx="0.9" ry="0.5" fill="#e6c4c2"/>
<ellipse cx="322.05" cy="46.80" rx="1.45" ry="0.9" fill="#c87a76"/>
<rect x="320.95" y="46.40" width="2.2" height="0.75" fill="#6b3a36" opacity="0.75"/>
<ellipse cx="327.50" cy="46.80" rx="1.45" ry="0.9" fill="#c87a76"/>
<rect x="326.40" y="46.40" width="2.2" height="0.75" fill="#6b3a36" opacity="0.75"/>
<ellipse cx="332.95" cy="46.80" rx="0.9" ry="0.5" fill="#e6c4c2"/>
<ellipse cx="338.40" cy="46.80" rx="1.45" ry="0.9" fill="#c87a76"/>
<rect x="337.30" y="46.40" width="2.2" height="0.75" fill="#6b3a36" opacity="0.75"/>
<text x="341.75" y="48.00" font-size="3.4" fill="#444" stroke="#444" stroke-width="0.12">PVR</text>
<ellipse cx="316.60" cy="51.88" rx="1.45" ry="0.9" fill="#c87a76"/>
<rect x="315.50" y="51.48" width="2.2" height="0.75" fill="#6b3a36" opacity="0.75"/>
<ellipse cx="322.05" cy="51.88" rx="1.45" ry="0.9" fill="#c87a76"/>
<rect x="320.95" y="51.48" width="2.2" height="0.75" fill="#6b3a36" opacity="0.75"/>
<ellipse cx="327.50" cy="51.88" rx="1.45" ry="0.9" fill="#c87a76"/>
<rect x="326.40" y="51.48" width="2.2" height="0.75" fill="#6b3a36" opacity="0.75"/>
<ellipse cx="332.95" cy="51.88" rx="1.45" ry="0.9" fill="#c87a76"/>
<rect x="331.85" y="51.48" width="2.2" height="0.75" fill="#6b3a36" opacity="0.75"/>
<ellipse cx="338.40" cy="51.88" rx="1.45" ry="0.9" fill="#c87a76"/>
<rect x="337.30" y="51.48" width="2.2" height="0.75" fill="#6b3a36" opacity="0.75"/>
<ellipse cx="343.85" cy="51.88" rx="0.9" ry="0.5" fill="#e6c4c2"/>
<text x="347.20" y="53.08" font-size="3.4" fill="#444" stroke="#444" stroke-width="0.12">IDO1</text>
<ellipse cx="316.60" cy="56.96" rx="1.45" ry="0.9" fill="#c87a76"/>
<rect x="315.50" y="56.56" width="2.2" height="0.75" fill="#6b3a36" opacity="0.75"/>
<circle cx="322.05" cy="56.96" r="1.75" fill="#cc5049"/>
<ellipse cx="322.05" cy="57.06" rx="1.0" ry="0.65" fill="#6e2219" opacity="0.7"/>
<circle cx="327.50" cy="56.96" r="2.15" fill="#c9453f"/>
<ellipse cx="327.50" cy="57.06" rx="1.1" ry="0.75" fill="#6e2219" opacity="0.75"/>
<circle cx="332.95" cy="56.96" r="1.75" fill="#cc5049"/>
<ellipse cx="332.95" cy="57.06" rx="1.0" ry="0.65" fill="#6e2219" opacity="0.7"/>
<circle cx="338.40" cy="56.96" r="2.15" fill="#c9453f"/>
<ellipse cx="338.40" cy="57.06" rx="1.1" ry="0.75" fill="#6e2219" opacity="0.75"/>
<ellipse cx="343.85" cy="56.96" rx="1.45" ry="0.9" fill="#c87a76"/>
<rect x="342.75" y="56.56" width="2.2" height="0.75" fill="#6b3a36" opacity="0.75"/>
<ellipse cx="349.30" cy="56.96" rx="1.45" ry="0.9" fill="#c87a76"/>
<rect x="348.20" y="56.56" width="2.2" height="0.75" fill="#6b3a36" opacity="0.75"/>
<text x="352.65" y="58.16" font-size="3.4" fill="#444" stroke="#444" stroke-width="0.12">CD80</text>
<ellipse cx="316.60" cy="62.04" rx="1.45" ry="0.9" fill="#c87a76"/>
<rect x="315.50" y="61.64" width="2.2" height="0.75" fill="#6b3a36" opacity="0.75"/>
<ellipse cx="322.05" cy="62.04" rx="1.45" ry="0.9" fill="#c87a76"/>
<rect x="320.95" y="61.64" width="2.2" height="0.75" fill="#6b3a36" opacity="0.75"/>
<circle cx="327.50" cy="62.04" r="1.75" fill="#cc5049"/>
<ellipse cx="327.50" cy="62.14" rx="1.0" ry="0.65" fill="#6e2219" opacity="0.7"/>
<circle cx="332.95" cy="62.04" r="2.15" fill="#c9453f"/>
<ellipse cx="332.95" cy="62.14" rx="1.1" ry="0.75" fill="#6e2219" opacity="0.75"/>
<circle cx="338.40" cy="62.04" r="1.75" fill="#cc5049"/>
<ellipse cx="338.40" cy="62.14" rx="1.0" ry="0.65" fill="#6e2219" opacity="0.7"/>
<ellipse cx="343.85" cy="62.04" rx="0.9" ry="0.5" fill="#e6c4c2"/>
<ellipse cx="349.30" cy="62.04" rx="1.45" ry="0.9" fill="#c87a76"/>
<rect x="348.20" y="61.64" width="2.2" height="0.75" fill="#6b3a36" opacity="0.75"/>
<circle cx="354.75" cy="62.04" r="2.15" fill="#c9453f"/>
<ellipse cx="354.75" cy="62.14" rx="1.1" ry="0.75" fill="#6e2219" opacity="0.75"/>
<text x="358.10" y="63.24" font-size="3.4" fill="#444" stroke="#444" stroke-width="0.12">CTLA4</text>
<ellipse cx="316.60" cy="67.12" rx="1.45" ry="0.9" fill="#c87a76"/>
<rect x="315.50" y="66.72" width="2.2" height="0.75" fill="#6b3a36" opacity="0.75"/>
<ellipse cx="322.05" cy="67.12" rx="1.45" ry="0.9" fill="#c87a76"/>
<rect x="320.95" y="66.72" width="2.2" height="0.75" fill="#6b3a36" opacity="0.75"/>
<circle cx="327.50" cy="67.12" r="1.75" fill="#cc5049"/>
<ellipse cx="327.50" cy="67.22" rx="1.0" ry="0.65" fill="#6e2219" opacity="0.7"/>
<circle cx="332.95" cy="67.12" r="2.15" fill="#c9453f"/>
<ellipse cx="332.95" cy="67.22" rx="1.1" ry="0.75" fill="#6e2219" opacity="0.75"/>
<circle cx="338.40" cy="67.12" r="1.75" fill="#cc5049"/>
<ellipse cx="338.40" cy="67.22" rx="1.0" ry="0.65" fill="#6e2219" opacity="0.7"/>
<ellipse cx="343.85" cy="67.12" rx="0.9" ry="0.5" fill="#e6c4c2"/>
<ellipse cx="349.30" cy="67.12" rx="1.45" ry="0.9" fill="#c87a76"/>
<rect x="348.20" y="66.72" width="2.2" height="0.75" fill="#6b3a36" opacity="0.75"/>
<circle cx="354.75" cy="67.12" r="1.75" fill="#cc5049"/>
<ellipse cx="354.75" cy="67.22" rx="1.0" ry="0.65" fill="#6e2219" opacity="0.7"/>
<circle cx="360.20" cy="67.12" r="2.15" fill="#c9453f"/>
<ellipse cx="360.20" cy="67.22" rx="1.1" ry="0.75" fill="#6e2219" opacity="0.75"/>
<text x="363.55" y="68.32" font-size="3.4" fill="#444" stroke="#444" stroke-width="0.12">PDCD1</text>
<ellipse cx="316.60" cy="72.20" rx="1.45" ry="0.9" fill="#c87a76"/>
<rect x="315.50" y="71.80" width="2.2" height="0.75" fill="#6b3a36" opacity="0.75"/>
<ellipse cx="322.05" cy="72.20" rx="1.45" ry="0.9" fill="#c87a76"/>
<rect x="320.95" y="71.80" width="2.2" height="0.75" fill="#6b3a36" opacity="0.75"/>
<circle cx="327.50" cy="72.20" r="2.15" fill="#c9453f"/>
<ellipse cx="327.50" cy="72.30" rx="1.1" ry="0.75" fill="#6e2219" opacity="0.75"/>
<circle cx="332.95" cy="72.20" r="2.15" fill="#c9453f"/>
<ellipse cx="332.95" cy="72.30" rx="1.1" ry="0.75" fill="#6e2219" opacity="0.75"/>
<circle cx="338.40" cy="72.20" r="2.15" fill="#c9453f"/>
<ellipse cx="338.40" cy="72.30" rx="1.1" ry="0.75" fill="#6e2219" opacity="0.75"/>
<ellipse cx="343.85" cy="72.20" rx="0.9" ry="0.5" fill="#e6c4c2"/>
<ellipse cx="349.30" cy="72.20" rx="1.45" ry="0.9" fill="#c87a76"/>
<rect x="348.20" y="71.80" width="2.2" height="0.75" fill="#6b3a36" opacity="0.75"/>
<circle cx="354.75" cy="72.20" r="2.15" fill="#c9453f"/>
<ellipse cx="354.75" cy="72.30" rx="1.1" ry="0.75" fill="#6e2219" opacity="0.75"/>
<circle cx="360.20" cy="72.20" r="2.15" fill="#c9453f"/>
<ellipse cx="360.20" cy="72.30" rx="1.1" ry="0.75" fill="#6e2219" opacity="0.75"/>
<circle cx="365.65" cy="72.20" r="2.15" fill="#c9453f"/>
<ellipse cx="365.65" cy="72.30" rx="1.1" ry="0.75" fill="#6e2219" opacity="0.75"/>
<text x="369.00" y="73.40" font-size="3.4" fill="#444" stroke="#444" stroke-width="0.12">TIGIT</text>
<ellipse cx="316.60" cy="77.28" rx="1.45" ry="0.9" fill="#c87a76"/>
<rect x="315.50" y="76.88" width="2.2" height="0.75" fill="#6b3a36" opacity="0.75"/>
<ellipse cx="322.05" cy="77.28" rx="1.45" ry="0.9" fill="#c87a76"/>
<rect x="320.95" y="76.88" width="2.2" height="0.75" fill="#6b3a36" opacity="0.75"/>
<circle cx="327.50" cy="77.28" r="2.15" fill="#c9453f"/>
<ellipse cx="327.50" cy="77.38" rx="1.1" ry="0.75" fill="#6e2219" opacity="0.75"/>
<circle cx="332.95" cy="77.28" r="2.15" fill="#c9453f"/>
<ellipse cx="332.95" cy="77.38" rx="1.1" ry="0.75" fill="#6e2219" opacity="0.75"/>
<circle cx="338.40" cy="77.28" r="2.15" fill="#c9453f"/>
<ellipse cx="338.40" cy="77.38" rx="1.1" ry="0.75" fill="#6e2219" opacity="0.75"/>
<ellipse cx="343.85" cy="77.28" rx="0.9" ry="0.5" fill="#e6c4c2"/>
<ellipse cx="349.30" cy="77.28" rx="1.45" ry="0.9" fill="#c87a76"/>
<rect x="348.20" y="76.88" width="2.2" height="0.75" fill="#6b3a36" opacity="0.75"/>
<circle cx="354.75" cy="77.28" r="2.15" fill="#c9453f"/>
<ellipse cx="354.75" cy="77.38" rx="1.1" ry="0.75" fill="#6e2219" opacity="0.75"/>
<circle cx="360.20" cy="77.28" r="2.15" fill="#c9453f"/>
<ellipse cx="360.20" cy="77.38" rx="1.1" ry="0.75" fill="#6e2219" opacity="0.75"/>
<circle cx="365.65" cy="77.28" r="2.15" fill="#c9453f"/>
<ellipse cx="365.65" cy="77.38" rx="1.1" ry="0.75" fill="#6e2219" opacity="0.75"/>
<circle cx="371.10" cy="77.28" r="2.15" fill="#c9453f"/>
<ellipse cx="371.10" cy="77.38" rx="1.1" ry="0.75" fill="#6e2219" opacity="0.75"/>
<text x="374.45" y="78.48" font-size="3.4" fill="#444" stroke="#444" stroke-width="0.12">CD200R1</text>
<ellipse cx="316.60" cy="82.36" rx="1.45" ry="0.9" fill="#c87a76"/>
<rect x="315.50" y="81.96" width="2.2" height="0.75" fill="#6b3a36" opacity="0.75"/>
<ellipse cx="322.05" cy="82.36" rx="1.45" ry="0.9" fill="#c87a76"/>
<rect x="320.95" y="81.96" width="2.2" height="0.75" fill="#6b3a36" opacity="0.75"/>
<ellipse cx="327.50" cy="82.36" rx="1.45" ry="0.9" fill="#c87a76"/>
<rect x="326.40" y="81.96" width="2.2" height="0.75" fill="#6b3a36" opacity="0.75"/>
<ellipse cx="332.95" cy="82.36" rx="0.9" ry="0.5" fill="#e6c4c2"/>
<ellipse cx="338.40" cy="82.36" rx="0.9" ry="0.5" fill="#e6c4c2"/>
<ellipse cx="343.85" cy="82.36" rx="0.9" ry="0.5" fill="#e6c4c2"/>
<ellipse cx="349.30" cy="82.36" rx="1.45" ry="0.9" fill="#c87a76"/>
<rect x="348.20" y="81.96" width="2.2" height="0.75" fill="#6b3a36" opacity="0.75"/>
<ellipse cx="354.75" cy="82.36" rx="1.45" ry="0.9" fill="#c87a76"/>
<rect x="353.65" y="81.96" width="2.2" height="0.75" fill="#6b3a36" opacity="0.75"/>
<ellipse cx="360.20" cy="82.36" rx="1.45" ry="0.9" fill="#c87a76"/>
<rect x="359.10" y="81.96" width="2.2" height="0.75" fill="#6b3a36" opacity="0.75"/>
<ellipse cx="365.65" cy="82.36" rx="1.45" ry="0.9" fill="#c87a76"/>
<rect x="364.55" y="81.96" width="2.2" height="0.75" fill="#6b3a36" opacity="0.75"/>
<ellipse cx="371.10" cy="82.36" rx="1.45" ry="0.9" fill="#c87a76"/>
<rect x="370.00" y="81.96" width="2.2" height="0.75" fill="#6b3a36" opacity="0.75"/>
<ellipse cx="376.55" cy="82.36" rx="1.45" ry="0.9" fill="#c87a76"/>
<rect x="375.45" y="81.96" width="2.2" height="0.75" fill="#6b3a36" opacity="0.75"/>
<text x="379.90" y="83.56" font-size="3.4" fill="#444" stroke="#444" stroke-width="0.12">CEACAM1</text>
<ellipse cx="316.60" cy="87.44" rx="0.9" ry="0.5" fill="#e6c4c2"/>
<ellipse cx="322.05" cy="87.44" rx="0.9" ry="0.5" fill="#e6c4c2"/>
<ellipse cx="327.50" cy="87.44" rx="1.45" ry="0.9" fill="#c87a76"/>
<rect x="326.40" y="87.04" width="2.2" height="0.75" fill="#6b3a36" opacity="0.75"/>
<ellipse cx="332.95" cy="87.44" rx="0.9" ry="0.5" fill="#e6c4c2"/>
<ellipse cx="338.40" cy="87.44" rx="1.45" ry="0.9" fill="#c87a76"/>
<rect x="337.30" y="87.04" width="2.2" height="0.75" fill="#6b3a36" opacity="0.75"/>
<circle cx="343.85" cy="87.44" r="1.75" fill="#cc5049"/>
<ellipse cx="343.85" cy="87.54" rx="1.0" ry="0.65" fill="#6e2219" opacity="0.7"/>
<ellipse cx="349.30" cy="87.44" rx="0.9" ry="0.5" fill="#e6c4c2"/>
<ellipse cx="354.75" cy="87.44" rx="1.45" ry="0.9" fill="#c87a76"/>
<rect x="353.65" y="87.04" width="2.2" height="0.75" fill="#6b3a36" opacity="0.75"/>
<ellipse cx="360.20" cy="87.44" rx="0.9" ry="0.5" fill="#e6c4c2"/>
<ellipse cx="365.65" cy="87.44" rx="0.9" ry="0.5" fill="#e6c4c2"/>
<ellipse cx="371.10" cy="87.44" rx="0.9" ry="0.5" fill="#e6c4c2"/>
<ellipse cx="376.55" cy="87.44" rx="0.9" ry="0.5" fill="#e6c4c2"/>
<ellipse cx="382.00" cy="87.44" rx="0.9" ry="0.5" fill="#e6c4c2"/>
<text x="385.35" y="88.64" font-size="3.4" fill="#444" stroke="#444" stroke-width="0.12">CD276</text>
<ellipse cx="316.60" cy="92.52" rx="1.45" ry="0.9" fill="#c87a76"/>
<rect x="315.50" y="92.12" width="2.2" height="0.75" fill="#6b3a36" opacity="0.75"/>
<ellipse cx="322.05" cy="92.52" rx="1.45" ry="0.9" fill="#c87a76"/>
<rect x="320.95" y="92.12" width="2.2" height="0.75" fill="#6b3a36" opacity="0.75"/>
<ellipse cx="327.50" cy="92.52" rx="1.45" ry="0.9" fill="#c87a76"/>
<rect x="326.40" y="92.12" width="2.2" height="0.75" fill="#6b3a36" opacity="0.75"/>
<ellipse cx="332.95" cy="92.52" rx="0.9" ry="0.5" fill="#e6c4c2"/>
<ellipse cx="338.40" cy="92.52" rx="1.45" ry="0.9" fill="#c87a76"/>
<rect x="337.30" y="92.12" width="2.2" height="0.75" fill="#6b3a36" opacity="0.75"/>
<ellipse cx="343.85" cy="92.52" rx="1.45" ry="0.9" fill="#c87a76"/>
<rect x="342.75" y="92.12" width="2.2" height="0.75" fill="#6b3a36" opacity="0.75"/>
<ellipse cx="349.30" cy="92.52" rx="1.45" ry="0.9" fill="#c87a76"/>
<rect x="348.20" y="92.12" width="2.2" height="0.75" fill="#6b3a36" opacity="0.75"/>
<ellipse cx="354.75" cy="92.52" rx="1.45" ry="0.9" fill="#c87a76"/>
<rect x="353.65" y="92.12" width="2.2" height="0.75" fill="#6b3a36" opacity="0.75"/>
<ellipse cx="360.20" cy="92.52" rx="1.45" ry="0.9" fill="#c87a76"/>
<rect x="359.10" y="92.12" width="2.2" height="0.75" fill="#6b3a36" opacity="0.75"/>
<ellipse cx="365.65" cy="92.52" rx="1.45" ry="0.9" fill="#c87a76"/>
<rect x="364.55" y="92.12" width="2.2" height="0.75" fill="#6b3a36" opacity="0.75"/>
<ellipse cx="371.10" cy="92.52" rx="1.45" ry="0.9" fill="#c87a76"/>
<rect x="370.00" y="92.12" width="2.2" height="0.75" fill="#6b3a36" opacity="0.75"/>
<ellipse cx="376.55" cy="92.52" rx="1.45" ry="0.9" fill="#c87a76"/>
<rect x="375.45" y="92.12" width="2.2" height="0.75" fill="#6b3a36" opacity="0.75"/>
<ellipse cx="382.00" cy="92.52" rx="1.45" ry="0.9" fill="#c87a76"/>
<rect x="380.90" y="92.12" width="2.2" height="0.75" fill="#6b3a36" opacity="0.75"/>
<ellipse cx="387.45" cy="92.52" rx="1.45" ry="0.9" fill="#c87a76"/>
<rect x="386.35" y="92.12" width="2.2" height="0.75" fill="#6b3a36" opacity="0.75"/>
<text x="390.80" y="93.72" font-size="3.4" fill="#444" stroke="#444" stroke-width="0.12">CD200</text>
<ellipse cx="316.60" cy="97.60" rx="0.9" ry="0.5" fill="#e6c4c2"/>
<ellipse cx="322.05" cy="97.60" rx="0.9" ry="0.5" fill="#e6c4c2"/>
<circle cx="327.50" cy="97.60" r="0.55" fill="#333"/>
<ellipse cx="332.95" cy="97.60" rx="0.9" ry="0.5" fill="#e6c4c2"/>
<circle cx="338.40" cy="97.60" r="0.55" fill="#333"/>
<ellipse cx="343.85" cy="97.60" rx="0.9" ry="0.5" fill="#e6c4c2"/>
<ellipse cx="349.30" cy="97.60" rx="1.45" ry="0.9" fill="#c87a76"/>
<rect x="348.20" y="97.20" width="2.2" height="0.75" fill="#6b3a36" opacity="0.75"/>
<ellipse cx="354.75" cy="97.60" rx="0.9" ry="0.5" fill="#e6c4c2"/>
<ellipse cx="360.20" cy="97.60" rx="0.9" ry="0.5" fill="#e6c4c2"/>
<ellipse cx="365.65" cy="97.60" rx="0.9" ry="0.5" fill="#e6c4c2"/>
<ellipse cx="371.10" cy="97.60" rx="1.45" ry="0.9" fill="#c87a76"/>
<rect x="370.00" y="97.20" width="2.2" height="0.75" fill="#6b3a36" opacity="0.75"/>
<ellipse cx="376.55" cy="97.60" rx="1.45" ry="0.9" fill="#c87a76"/>
<rect x="375.45" y="97.20" width="2.2" height="0.75" fill="#6b3a36" opacity="0.75"/>
<ellipse cx="382.00" cy="97.60" rx="1.45" ry="0.9" fill="#c87a76"/>
<rect x="380.90" y="97.20" width="2.2" height="0.75" fill="#6b3a36" opacity="0.75"/>
<ellipse cx="387.45" cy="97.60" rx="1.45" ry="0.9" fill="#c87a76"/>
<rect x="386.35" y="97.20" width="2.2" height="0.75" fill="#6b3a36" opacity="0.75"/>
<ellipse cx="392.90" cy="97.60" rx="1.45" ry="0.9" fill="#c87a76"/>
<rect x="391.80" y="97.20" width="2.2" height="0.75" fill="#6b3a36" opacity="0.75"/>
<text x="396.25" y="98.80" font-size="3.4" fill="#444" stroke="#444" stroke-width="0.12">KIR3DL1</text>
<ellipse cx="316.60" cy="102.68" rx="1.45" ry="0.9" fill="#c87a76"/>
<rect x="315.50" y="102.28" width="2.2" height="0.75" fill="#6b3a36" opacity="0.75"/>
<ellipse cx="322.05" cy="102.68" rx="1.45" ry="0.9" fill="#c87a76"/>
<rect x="320.95" y="102.28" width="2.2" height="0.75" fill="#6b3a36" opacity="0.75"/>
<circle cx="327.50" cy="102.68" r="2.15" fill="#c9453f"/>
<ellipse cx="327.50" cy="102.78" rx="1.1" ry="0.75" fill="#6e2219" opacity="0.75"/>
<circle cx="332.95" cy="102.68" r="2.15" fill="#c9453f"/>
<ellipse cx="332.95" cy="102.78" rx="1.1" ry="0.75" fill="#6e2219" opacity="0.75"/>
<circle cx="338.40" cy="102.68" r="2.15" fill="#c9453f"/>
<ellipse cx="338.40" cy="102.78" rx="1.1" ry="0.75" fill="#6e2219" opacity="0.75"/>
<ellipse cx="343.85" cy="102.68" rx="0.9" ry="0.5" fill="#e6c4c2"/>
<ellipse cx="349.30" cy="102.68" rx="1.45" ry="0.9" fill="#c87a76"/>
<rect x="348.20" y="102.28" width="2.2" height="0.75" fill="#6b3a36" opacity="0.75"/>
<circle cx="354.75" cy="102.68" r="2.15" fill="#c9453f"/>
<ellipse cx="354.75" cy="102.78" rx="1.1" ry="0.75" fill="#6e2219" opacity="0.75"/>
<circle cx="360.20" cy="102.68" r="2.15" fill="#c9453f"/>
<ellipse cx="360.20" cy="102.78" rx="1.1" ry="0.75" fill="#6e2219" opacity="0.75"/>
<circle cx="365.65" cy="102.68" r="2.15" fill="#c9453f"/>
<ellipse cx="365.65" cy="102.78" rx="1.1" ry="0.75" fill="#6e2219" opacity="0.75"/>
<circle cx="371.10" cy="102.68" r="2.15" fill="#c9453f"/>
<ellipse cx="371.10" cy="102.78" rx="1.1" ry="0.75" fill="#6e2219" opacity="0.75"/>
<circle cx="376.55" cy="102.68" r="2.15" fill="#c9453f"/>
<ellipse cx="376.55" cy="102.78" rx="1.1" ry="0.75" fill="#6e2219" opacity="0.75"/>
<ellipse cx="382.00" cy="102.68" rx="1.45" ry="0.9" fill="#c87a76"/>
<rect x="380.90" y="102.28" width="2.2" height="0.75" fill="#6b3a36" opacity="0.75"/>
<ellipse cx="387.45" cy="102.68" rx="1.45" ry="0.9" fill="#c87a76"/>
<rect x="386.35" y="102.28" width="2.2" height="0.75" fill="#6b3a36" opacity="0.75"/>
<ellipse cx="392.90" cy="102.68" rx="1.45" ry="0.9" fill="#c87a76"/>
<rect x="391.80" y="102.28" width="2.2" height="0.75" fill="#6b3a36" opacity="0.75"/>
<ellipse cx="398.35" cy="102.68" rx="1.45" ry="0.9" fill="#c87a76"/>
<rect x="397.25" y="102.28" width="2.2" height="0.75" fill="#6b3a36" opacity="0.75"/>
<text x="401.70" y="103.88" font-size="3.4" fill="#444" stroke="#444" stroke-width="0.12">BTLA</text>
<ellipse cx="316.60" cy="107.76" rx="1.45" ry="0.9" fill="#c87a76"/>
<rect x="315.50" y="107.36" width="2.2" height="0.75" fill="#6b3a36" opacity="0.75"/>
<ellipse cx="322.05" cy="107.76" rx="1.45" ry="0.9" fill="#c87a76"/>
<rect x="320.95" y="107.36" width="2.2" height="0.75" fill="#6b3a36" opacity="0.75"/>
<ellipse cx="327.50" cy="107.76" rx="0.9" ry="0.5" fill="#e6c4c2"/>
<ellipse cx="332.95" cy="107.76" rx="0.9" ry="0.5" fill="#e6c4c2"/>
<ellipse cx="338.40" cy="107.76" rx="1.45" ry="0.9" fill="#c87a76"/>
<rect x="337.30" y="107.36" width="2.2" height="0.75" fill="#6b3a36" opacity="0.75"/>
<ellipse cx="343.85" cy="107.76" rx="1.45" ry="0.9" fill="#c87a76"/>
<rect x="342.75" y="107.36" width="2.2" height="0.75" fill="#6b3a36" opacity="0.75"/>
<ellipse cx="349.30" cy="107.76" rx="0.9" ry="0.5" fill="#e6c4c2"/>
<ellipse cx="354.75" cy="107.76" rx="1.45" ry="0.9" fill="#c87a76"/>
<rect x="353.65" y="107.36" width="2.2" height="0.75" fill="#6b3a36" opacity="0.75"/>
<ellipse cx="360.20" cy="107.76" rx="1.45" ry="0.9" fill="#c87a76"/>
<rect x="359.10" y="107.36" width="2.2" height="0.75" fill="#6b3a36" opacity="0.75"/>
<ellipse cx="365.65" cy="107.76" rx="1.45" ry="0.9" fill="#c87a76"/>
<rect x="364.55" y="107.36" width="2.2" height="0.75" fill="#6b3a36" opacity="0.75"/>
<ellipse cx="371.10" cy="107.76" rx="1.45" ry="0.9" fill="#c87a76"/>
<rect x="370.00" y="107.36" width="2.2" height="0.75" fill="#6b3a36" opacity="0.75"/>
<ellipse cx="376.55" cy="107.76" rx="1.45" ry="0.9" fill="#c87a76"/>
<rect x="375.45" y="107.36" width="2.2" height="0.75" fill="#6b3a36" opacity="0.75"/>
<ellipse cx="382.00" cy="107.76" rx="1.45" ry="0.9" fill="#c87a76"/>
<rect x="380.90" y="107.36" width="2.2" height="0.75" fill="#6b3a36" opacity="0.75"/>
<ellipse cx="387.45" cy="107.76" rx="0.9" ry="0.5" fill="#e6c4c2"/>
<ellipse cx="392.90" cy="107.76" rx="1.45" ry="0.9" fill="#c87a76"/>
<rect x="391.80" y="107.36" width="2.2" height="0.75" fill="#6b3a36" opacity="0.75"/>
<ellipse cx="398.35" cy="107.76" rx="1.45" ry="0.9" fill="#c87a76"/>
<rect x="397.25" y="107.36" width="2.2" height="0.75" fill="#6b3a36" opacity="0.75"/>
<ellipse cx="403.80" cy="107.76" rx="1.45" ry="0.9" fill="#c87a76"/>
<rect x="402.70" y="107.36" width="2.2" height="0.75" fill="#6b3a36" opacity="0.75"/>
<text x="407.15" y="108.96" font-size="3.4" fill="#444" stroke="#444" stroke-width="0.12">ADORA2A</text>
<ellipse cx="316.60" cy="112.84" rx="1.45" ry="0.9" fill="#c87a76"/>
<rect x="315.50" y="112.44" width="2.2" height="0.75" fill="#6b3a36" opacity="0.75"/>
<ellipse cx="322.05" cy="112.84" rx="0.9" ry="0.5" fill="#e6c4c2"/>
<ellipse cx="327.50" cy="112.84" rx="0.9" ry="0.5" fill="#e6c4c2"/>
<circle cx="332.95" cy="112.84" r="0.55" fill="#333"/>
<ellipse cx="338.40" cy="112.84" rx="0.9" ry="0.5" fill="#e6c4c2"/>
<ellipse cx="343.85" cy="112.84" rx="1.45" ry="0.9" fill="#c87a76"/>
<rect x="342.75" y="112.44" width="2.2" height="0.75" fill="#6b3a36" opacity="0.75"/>
<ellipse cx="349.30" cy="112.84" rx="0.9" ry="0.5" fill="#e6c4c2"/>
<ellipse cx="354.75" cy="112.84" rx="0.9" ry="0.5" fill="#e6c4c2"/>
<ellipse cx="360.20" cy="112.84" rx="1.45" ry="0.9" fill="#c87a76"/>
<rect x="359.10" y="112.44" width="2.2" height="0.75" fill="#6b3a36" opacity="0.75"/>
<ellipse cx="365.65" cy="112.84" rx="1.45" ry="0.9" fill="#c87a76"/>
<rect x="364.55" y="112.44" width="2.2" height="0.75" fill="#6b3a36" opacity="0.75"/>
<circle cx="371.10" cy="112.84" r="0.55" fill="#333"/>
<ellipse cx="376.55" cy="112.84" rx="0.9" ry="0.5" fill="#e6c4c2"/>
<ellipse cx="382.00" cy="112.84" rx="0.9" ry="0.5" fill="#e6c4c2"/>
<ellipse cx="387.45" cy="112.84" rx="1.45" ry="0.9" fill="#c87a76"/>
<rect x="386.35" y="112.44" width="2.2" height="0.75" fill="#6b3a36" opacity="0.75"/>
<ellipse cx="392.90" cy="112.84" rx="0.9" ry="0.5" fill="#e6c4c2"/>
<ellipse cx="398.35" cy="112.84" rx="0.9" ry="0.5" fill="#e6c4c2"/>
<ellipse cx="403.80" cy="112.84" rx="1.45" ry="0.9" fill="#c87a76"/>
<rect x="402.70" y="112.44" width="2.2" height="0.75" fill="#6b3a36" opacity="0.75"/>
<ellipse cx="409.25" cy="112.84" rx="1.45" ry="0.9" fill="#c87a76"/>
<rect x="408.15" y="112.44" width="2.2" height="0.75" fill="#6b3a36" opacity="0.75"/>
<text x="412.60" y="114.04" font-size="3.4" fill="#444" stroke="#444" stroke-width="0.12">LGALS9</text>
<ellipse cx="316.60" cy="117.92" rx="0.9" ry="0.5" fill="#e6c4c2"/>
<ellipse cx="322.05" cy="117.92" rx="0.9" ry="0.5" fill="#e6c4c2"/>
<ellipse cx="327.50" cy="117.92" rx="0.9" ry="0.5" fill="#e6c4c2"/>
<ellipse cx="332.95" cy="117.92" rx="0.9" ry="0.5" fill="#e6c4c2"/>
<ellipse cx="338.40" cy="117.92" rx="0.9" ry="0.5" fill="#e6c4c2"/>
<ellipse cx="343.85" cy="117.92" rx="0.9" ry="0.5" fill="#e6c4c2"/>
<ellipse cx="349.30" cy="117.92" rx="1.45" ry="0.9" fill="#c87a76"/>
<rect x="348.20" y="117.52" width="2.2" height="0.75" fill="#6b3a36" opacity="0.75"/>
<ellipse cx="354.75" cy="117.92" rx="0.9" ry="0.5" fill="#e6c4c2"/>
<ellipse cx="360.20" cy="117.92" rx="0.9" ry="0.5" fill="#e6c4c2"/>
<ellipse cx="365.65" cy="117.92" rx="0.9" ry="0.5" fill="#e6c4c2"/>
<ellipse cx="371.10" cy="117.92" rx="0.9" ry="0.5" fill="#e6c4c2"/>
<ellipse cx="376.55" cy="117.92" rx="0.9" ry="0.5" fill="#e6c4c2"/>
<ellipse cx="382.00" cy="117.92" rx="0.9" ry="0.5" fill="#e6c4c2"/>
<ellipse cx="387.45" cy="117.92" rx="0.9" ry="0.5" fill="#e6c4c2"/>
<ellipse cx="392.90" cy="117.92" rx="1.45" ry="0.9" fill="#c87a76"/>
<rect x="391.80" y="117.52" width="2.2" height="0.75" fill="#6b3a36" opacity="0.75"/>
<ellipse cx="398.35" cy="117.92" rx="0.9" ry="0.5" fill="#e6c4c2"/>
<ellipse cx="403.80" cy="117.92" rx="0.9" ry="0.5" fill="#e6c4c2"/>
<ellipse cx="409.25" cy="117.92" rx="0.9" ry="0.5" fill="#e6c4c2"/>
<ellipse cx="414.70" cy="117.92" rx="1.45" ry="0.9" fill="#c87a76"/>
<rect x="413.60" y="117.52" width="2.2" height="0.75" fill="#6b3a36" opacity="0.75"/>
<text x="418.05" y="119.12" font-size="3.4" fill="#444" stroke="#444" stroke-width="0.12">VTCN1</text>
<ellipse cx="316.60" cy="123.00" rx="1.45" ry="0.9" fill="#c87a76"/>
<rect x="315.50" y="122.60" width="2.2" height="0.75" fill="#6b3a36" opacity="0.75"/>
<ellipse cx="322.05" cy="123.00" rx="1.45" ry="0.9" fill="#c87a76"/>
<rect x="320.95" y="122.60" width="2.2" height="0.75" fill="#6b3a36" opacity="0.75"/>
<ellipse cx="327.50" cy="123.00" rx="1.45" ry="0.9" fill="#c87a76"/>
<rect x="326.40" y="122.60" width="2.2" height="0.75" fill="#6b3a36" opacity="0.75"/>
<ellipse cx="332.95" cy="123.00" rx="0.9" ry="0.5" fill="#e6c4c2"/>
<ellipse cx="338.40" cy="123.00" rx="1.45" ry="0.9" fill="#c87a76"/>
<rect x="337.30" y="122.60" width="2.2" height="0.75" fill="#6b3a36" opacity="0.75"/>
<circle cx="343.85" cy="123.00" r="1.75" fill="#cc5049"/>
<ellipse cx="343.85" cy="123.10" rx="1.0" ry="0.65" fill="#6e2219" opacity="0.7"/>
<ellipse cx="349.30" cy="123.00" rx="1.45" ry="0.9" fill="#c87a76"/>
<rect x="348.20" y="122.60" width="2.2" height="0.75" fill="#6b3a36" opacity="0.75"/>
<ellipse cx="354.75" cy="123.00" rx="1.45" ry="0.9" fill="#c87a76"/>
<rect x="353.65" y="122.60" width="2.2" height="0.75" fill="#6b3a36" opacity="0.75"/>
<ellipse cx="360.20" cy="123.00" rx="0.9" ry="0.5" fill="#e6c4c2"/>
<ellipse cx="365.65" cy="123.00" rx="0.9" ry="0.5" fill="#e6c4c2"/>
<ellipse cx="371.10" cy="123.00" rx="1.45" ry="0.9" fill="#c87a76"/>
<rect x="370.00" y="122.60" width="2.2" height="0.75" fill="#6b3a36" opacity="0.75"/>
<ellipse cx="376.55" cy="123.00" rx="1.45" ry="0.9" fill="#c87a76"/>
<rect x="375.45" y="122.60" width="2.2" height="0.75" fill="#6b3a36" opacity="0.75"/>
<ellipse cx="382.00" cy="123.00" rx="1.45" ry="0.9" fill="#c87a76"/>
<rect x="380.90" y="122.60" width="2.2" height="0.75" fill="#6b3a36" opacity="0.75"/>
<circle cx="387.45" cy="123.00" r="1.75" fill="#cc5049"/>
<ellipse cx="387.45" cy="123.10" rx="1.0" ry="0.65" fill="#6e2219" opacity="0.7"/>
<ellipse cx="392.90" cy="123.00" rx="1.45" ry="0.9" fill="#c87a76"/>
<rect x="391.80" y="122.60" width="2.2" height="0.75" fill="#6b3a36" opacity="0.75"/>
<ellipse cx="398.35" cy="123.00" rx="1.45" ry="0.9" fill="#c87a76"/>
<rect x="397.25" y="122.60" width="2.2" height="0.75" fill="#6b3a36" opacity="0.75"/>
<ellipse cx="403.80" cy="123.00" rx="1.45" ry="0.9" fill="#c87a76"/>
<rect x="402.70" y="122.60" width="2.2" height="0.75" fill="#6b3a36" opacity="0.75"/>
<ellipse cx="409.25" cy="123.00" rx="1.45" ry="0.9" fill="#c87a76"/>
<rect x="408.15" y="122.60" width="2.2" height="0.75" fill="#6b3a36" opacity="0.75"/>
<ellipse cx="414.70" cy="123.00" rx="1.45" ry="0.9" fill="#c87a76"/>
<rect x="413.60" y="122.60" width="2.2" height="0.75" fill="#6b3a36" opacity="0.75"/>
<ellipse cx="420.15" cy="123.00" rx="0.9" ry="0.5" fill="#e6c4c2"/>
<text x="423.50" y="124.20" font-size="3.4" fill="#444" stroke="#444" stroke-width="0.12">UPF1</text>
<g font-size="3.3" fill="#444" stroke="#444" stroke-width="0.08">
<text x="406.2" y="32.1">* p &lt; 0.05</text>
<text x="406.2" y="38.5">** p &lt; 0.01</text>
<text x="406.2" y="43.8">Correlation</text>
</g>
<defs><linearGradient id="corleg" x1="0" y1="0" x2="0" y2="1"><stop offset="0" stop-color="#7a0f1c"/><stop offset="0.25" stop-color="#d9786a"/><stop offset="0.5" stop-color="#f7f4f3"/><stop offset="0.75" stop-color="#8d8fc0"/><stop offset="1" stop-color="#262260"/></linearGradient></defs>
<rect x="405.9" y="45.8" width="3.7" height="17.4" fill="url(#corleg)"/>
<g font-size="2.9" fill="#444" stroke="#444" stroke-width="0.06">
<text x="411.1" y="47.8">1.0</text>
<text x="411.1" y="51.8">0.5</text>
<text x="411.1" y="55.7">0.0</text>
<text x="411.1" y="59.6">−0.5</text>
<text x="411.1" y="63.5">−1.0</text>
</g>
<text x="238.6" y="159.6" font-size="12.5" font-weight="bold" fill="#111">C</text>
<path d="M442.11 270.27A61.2 61.2 0 0 1 445.20 282.68L440.85 283.29A56.8 56.8 0 0 0 437.97 271.77Z" fill="#f4a460"/>
<path d="M445.20 282.68A61.2 61.2 0 0 1 434.11 327.17L430.55 324.59A56.8 56.8 0 0 0 440.85 283.29Z" fill="#e8507e"/>
<path d="M434.11 327.17A61.2 61.2 0 0 1 418.82 341.94L416.36 338.29A56.8 56.8 0 0 0 430.55 324.59Z" fill="#f08c88"/>
<path d="M418.82 341.94A61.2 61.2 0 0 1 323.40 291.20L327.80 291.20A56.8 56.8 0 0 0 416.36 338.29Z" fill="#3f9a3c"/>
<path d="M323.40 291.20A61.2 61.2 0 0 1 327.09 270.27L331.23 271.77A56.8 56.8 0 0 0 327.80 291.20Z" fill="#a6d68c"/>
<path d="M327.09 270.27A61.2 61.2 0 0 1 333.86 256.98L337.51 259.44A56.8 56.8 0 0 0 331.23 271.77Z" fill="#3e6ea8"/>
<path d="M333.86 256.98A61.2 61.2 0 0 1 384.60 230.00L384.60 234.40A56.8 56.8 0 0 0 337.51 259.44Z" fill="#a3c6dc"/>
<path fill="#cd9881" d="M482.21 255.90A103.8 103.8 0 0 1 483.25 258.92L476.41 261.16A96.6 96.6 0 0 0 475.44 258.35Z"/>
<path fill="#ddaaa9" d="M474.88 258.56A96.0 96.0 0 0 1 475.84 261.34L469.95 263.27A89.8 89.8 0 0 0 469.05 260.66Z"/>
<path fill="#c9e5c9" d="M468.48 260.87A89.2 89.2 0 0 1 469.38 263.46L463.67 265.32A83.2 83.2 0 0 0 462.84 262.91ZM470.40 266.79A89.2 89.2 0 0 1 471.10 269.44L465.29 270.90A83.2 83.2 0 0 0 464.62 268.43ZM469.38 318.94A89.2 89.2 0 0 1 468.48 321.53L462.84 319.49A83.2 83.2 0 0 0 463.67 317.08ZM444.15 357.61A89.2 89.2 0 0 1 442.08 359.41L438.21 354.82A83.2 83.2 0 0 0 440.14 353.15ZM295.91 281.69A89.2 89.2 0 0 1 296.24 278.97L302.19 279.79A83.2 83.2 0 0 0 301.87 282.33ZM301.97 257.61A89.2 89.2 0 0 1 303.04 255.09L308.52 257.52A83.2 83.2 0 0 0 307.52 259.87ZM304.51 251.93A89.2 89.2 0 0 1 305.75 249.49L311.06 252.29A83.2 83.2 0 0 0 309.90 254.57Z"/>
<path fill="#f8c4bb" d="M462.28 263.11A82.6 82.6 0 0 1 463.10 265.51L457.40 267.38A76.6 76.6 0 0 0 456.64 265.15ZM464.05 268.60A82.6 82.6 0 0 1 464.70 271.05L458.89 272.51A76.6 76.6 0 0 0 458.28 270.24Z"/>
<path fill="#b2a0ce" d="M455.13 265.70A75.0 75.0 0 0 1 455.88 267.87L450.37 269.68A69.2 69.2 0 0 0 449.68 267.67ZM311.87 272.90A75.0 75.0 0 0 1 312.46 270.68L318.04 272.27A69.2 69.2 0 0 0 317.49 274.32Z"/>
<path fill="#3d64a6" d="M448.94 267.99A68.4 68.4 0 0 1 449.59 269.88L444.08 271.69A62.6 62.6 0 0 0 443.48 269.95ZM449.71 270.24A68.4 68.4 0 0 1 450.30 272.16L444.73 273.78A62.6 62.6 0 0 0 444.19 272.02ZM450.40 272.53A68.4 68.4 0 0 1 450.92 274.47L445.30 275.89A62.6 62.6 0 0 0 444.82 274.11ZM451.01 274.84A68.4 68.4 0 0 1 451.47 276.79L445.80 278.01A62.6 62.6 0 0 0 445.38 276.23ZM451.54 277.17A68.4 68.4 0 0 1 451.93 279.13L446.22 280.16A62.6 62.6 0 0 0 445.87 278.36ZM451.99 279.51A68.4 68.4 0 0 1 452.31 281.49L446.57 282.31A62.6 62.6 0 0 0 446.28 280.50ZM452.82 296.16A68.4 68.4 0 0 1 452.64 298.16L446.88 297.57A62.6 62.6 0 0 0 447.04 295.74ZM451.93 303.27A68.4 68.4 0 0 1 451.54 305.23L445.87 304.04A62.6 62.6 0 0 0 446.22 302.24ZM451.47 305.61A68.4 68.4 0 0 1 451.01 307.56L445.38 306.17A62.6 62.6 0 0 0 445.80 304.39ZM450.30 310.24A68.4 68.4 0 0 1 449.71 312.16L444.19 310.38A62.6 62.6 0 0 0 444.73 308.62ZM449.59 312.52A68.4 68.4 0 0 1 448.94 314.41L443.48 312.45A62.6 62.6 0 0 0 444.08 310.71ZM445.99 321.36A68.4 68.4 0 0 1 445.08 323.14L439.95 320.43A62.6 62.6 0 0 0 440.79 318.80ZM444.90 323.48A68.4 68.4 0 0 1 443.93 325.23L438.90 322.35A62.6 62.6 0 0 0 439.79 320.74ZM436.87 335.31A68.4 68.4 0 0 1 435.56 336.83L431.24 332.96A62.6 62.6 0 0 0 432.44 331.57ZM431.98 340.54A68.4 68.4 0 0 1 430.51 341.90L426.62 337.60A62.6 62.6 0 0 0 427.96 336.35ZM428.42 343.72A68.4 68.4 0 0 1 426.86 344.98L423.28 340.42A62.6 62.6 0 0 0 424.70 339.27ZM424.65 346.65A68.4 68.4 0 0 1 423.01 347.80L419.75 343.00A62.6 62.6 0 0 0 421.25 341.95ZM420.68 349.31A68.4 68.4 0 0 1 418.97 350.34L416.05 345.33A62.6 62.6 0 0 0 417.62 344.38ZM418.63 350.53A68.4 68.4 0 0 1 416.88 351.50L414.14 346.39A62.6 62.6 0 0 0 415.75 345.50ZM403.27 357.00A68.4 68.4 0 0 1 401.33 357.52L399.91 351.90A62.6 62.6 0 0 0 401.69 351.42ZM400.96 357.61A68.4 68.4 0 0 1 399.01 358.07L397.79 352.40A62.6 62.6 0 0 0 399.57 351.98ZM393.93 358.96A68.4 68.4 0 0 1 391.94 359.21L391.32 353.44A62.6 62.6 0 0 0 393.14 353.21ZM391.56 359.24A68.4 68.4 0 0 1 389.56 359.42L389.14 353.64A62.6 62.6 0 0 0 390.97 353.48ZM386.80 359.56A68.4 68.4 0 0 1 384.79 359.60L384.77 353.80A62.6 62.6 0 0 0 386.61 353.77ZM384.41 359.60A68.4 68.4 0 0 1 382.40 359.56L382.59 353.77A62.6 62.6 0 0 0 384.43 353.80ZM377.26 359.21A68.4 68.4 0 0 1 375.27 358.96L376.06 353.21A62.6 62.6 0 0 0 377.88 353.44ZM374.89 358.91A68.4 68.4 0 0 1 372.91 358.59L373.90 352.88A62.6 62.6 0 0 0 375.71 353.17ZM363.28 356.19A68.4 68.4 0 0 1 361.39 355.54L363.35 350.08A62.6 62.6 0 0 0 365.09 350.68ZM361.03 355.41A68.4 68.4 0 0 1 359.15 354.69L361.31 349.31A62.6 62.6 0 0 0 363.03 349.96ZM356.60 353.61A68.4 68.4 0 0 1 354.79 352.76L357.32 347.54A62.6 62.6 0 0 0 358.98 348.32ZM354.44 352.59A68.4 68.4 0 0 1 352.66 351.68L355.37 346.55A62.6 62.6 0 0 0 357.00 347.39ZM346.19 347.80A68.4 68.4 0 0 1 344.55 346.65L347.95 341.95A62.6 62.6 0 0 0 349.45 343.00ZM344.24 346.42A68.4 68.4 0 0 1 342.64 345.22L346.20 340.64A62.6 62.6 0 0 0 347.66 341.74ZM332.08 335.02A68.4 68.4 0 0 1 330.82 333.46L335.38 329.88A62.6 62.6 0 0 0 336.53 331.30ZM330.58 333.16A68.4 68.4 0 0 1 329.38 331.56L334.06 328.14A62.6 62.6 0 0 0 335.16 329.60ZM324.12 323.14A68.4 68.4 0 0 1 323.21 321.36L328.41 318.80A62.6 62.6 0 0 0 329.25 320.43ZM321.11 316.65A68.4 68.4 0 0 1 320.39 314.77L325.84 312.77A62.6 62.6 0 0 0 326.49 314.49ZM320.26 314.41A68.4 68.4 0 0 1 319.61 312.52L325.12 310.71A62.6 62.6 0 0 0 325.72 312.45ZM318.19 307.56A68.4 68.4 0 0 1 317.73 305.61L323.40 304.39A62.6 62.6 0 0 0 323.82 306.17ZM317.66 305.23A68.4 68.4 0 0 1 317.27 303.27L322.98 302.24A62.6 62.6 0 0 0 323.33 304.04ZM316.35 295.78A68.4 68.4 0 0 1 316.25 293.78L322.04 293.56A62.6 62.6 0 0 0 322.14 295.39ZM316.20 291.01A68.4 68.4 0 0 1 316.24 289.00L322.03 289.19A62.6 62.6 0 0 0 322.00 291.03ZM316.25 288.62A68.4 68.4 0 0 1 316.35 286.62L322.14 287.01A62.6 62.6 0 0 0 322.04 288.84ZM316.38 286.24A68.4 68.4 0 0 1 316.56 284.24L322.32 284.83A62.6 62.6 0 0 0 322.16 286.66ZM316.59 283.86A68.4 68.4 0 0 1 316.84 281.87L322.59 282.66A62.6 62.6 0 0 0 322.36 284.48ZM316.89 281.49A68.4 68.4 0 0 1 317.21 279.51L322.92 280.50A62.6 62.6 0 0 0 322.63 282.31ZM317.27 279.13A68.4 68.4 0 0 1 317.66 277.17L323.33 278.36A62.6 62.6 0 0 0 322.98 280.16ZM317.73 276.79A68.4 68.4 0 0 1 318.19 274.84L323.82 276.23A62.6 62.6 0 0 0 323.40 278.01ZM318.28 274.47A68.4 68.4 0 0 1 318.80 272.53L324.38 274.11A62.6 62.6 0 0 0 323.90 275.89ZM318.90 272.16A68.4 68.4 0 0 1 319.49 270.24L325.01 272.02A62.6 62.6 0 0 0 324.47 273.78ZM319.61 269.88A68.4 68.4 0 0 1 320.26 267.99L325.72 269.95A62.6 62.6 0 0 0 325.12 271.69ZM323.21 261.04A68.4 68.4 0 0 1 324.12 259.26L329.25 261.97A62.6 62.6 0 0 0 328.41 263.60ZM324.30 258.92A68.4 68.4 0 0 1 325.27 257.17L330.30 260.05A62.6 62.6 0 0 0 329.41 261.66ZM325.46 256.83A68.4 68.4 0 0 1 326.49 255.12L331.42 258.18A62.6 62.6 0 0 0 330.47 259.75ZM326.69 254.79A68.4 68.4 0 0 1 327.79 253.11L332.60 256.34A62.6 62.6 0 0 0 331.61 257.88ZM328.00 252.79A68.4 68.4 0 0 1 329.15 251.15L333.85 254.55A62.6 62.6 0 0 0 332.80 256.05ZM329.38 250.84A68.4 68.4 0 0 1 330.58 249.24L335.16 252.80A62.6 62.6 0 0 0 334.06 254.26ZM330.82 248.94A68.4 68.4 0 0 1 332.08 247.38L336.53 251.10A62.6 62.6 0 0 0 335.38 252.52ZM332.33 247.09A68.4 68.4 0 0 1 333.64 245.57L337.96 249.44A62.6 62.6 0 0 0 336.76 250.83Z"/>
<path fill="#b05d38" d="M483.39 259.33A103.8 103.8 0 0 1 484.32 262.38L477.40 264.38A96.6 96.6 0 0 0 476.53 261.54Z"/>
<path fill="#1f1212" d="M475.96 261.73A96.0 96.0 0 0 1 476.83 264.55L470.87 266.27A89.8 89.8 0 0 0 470.06 263.63ZM293.36 261.34A96.0 96.0 0 0 1 294.32 258.56L300.15 260.66A89.8 89.8 0 0 0 299.25 263.27Z"/>
<path fill="#e9f5e9" d="M469.49 263.81A89.2 89.2 0 0 1 470.29 266.43L464.53 268.10A83.2 83.2 0 0 0 463.78 265.66Z"/>
<path fill="#fad6d0" d="M463.21 265.84A82.6 82.6 0 0 1 463.95 268.27L458.19 269.93A76.6 76.6 0 0 0 457.50 267.68ZM311.75 252.27A82.6 82.6 0 0 1 312.98 250.05L318.18 253.04A76.6 76.6 0 0 0 317.04 255.10Z"/>
<path fill="#6e4e92" d="M455.98 268.17A75.0 75.0 0 0 1 456.65 270.38L451.08 271.99A69.2 69.2 0 0 0 450.46 269.95ZM311.27 275.45A75.0 75.0 0 0 1 311.79 273.21L317.42 274.60A69.2 69.2 0 0 0 316.94 276.67Z"/>
<path fill="#c07e61" d="M484.44 262.80A103.8 103.8 0 0 1 485.26 265.88L478.28 267.63A96.6 96.6 0 0 0 477.51 264.77ZM284.88 262.38A103.8 103.8 0 0 1 285.81 259.33L292.67 261.54A96.6 96.6 0 0 0 291.80 264.38Z"/>
<path fill="#aa706f" d="M476.94 264.93A96.0 96.0 0 0 1 477.70 267.78L471.69 269.29A89.8 89.8 0 0 0 470.97 266.63Z"/>
<path fill="#aa96c8" d="M456.74 270.68A75.0 75.0 0 0 1 457.33 272.90L451.71 274.32A69.2 69.2 0 0 0 451.16 272.27Z"/>
<path fill="#d5a895" d="M485.37 266.30A103.8 103.8 0 0 1 486.09 269.41L479.05 270.92A96.6 96.6 0 0 0 478.38 268.03Z"/>
<path fill="#d49593" d="M477.80 268.17A96.0 96.0 0 0 1 478.46 271.04L472.40 272.35A89.8 89.8 0 0 0 471.78 269.66ZM374.37 386.65A96.0 96.0 0 0 1 371.44 386.29L372.29 380.15A89.8 89.8 0 0 0 375.03 380.49ZM361.18 384.30A96.0 96.0 0 0 1 358.33 383.54L360.03 377.57A89.8 89.8 0 0 0 362.69 378.29ZM320.21 362.41A96.0 96.0 0 0 1 318.06 360.40L322.36 355.93A89.8 89.8 0 0 0 324.37 357.81ZM299.74 336.09A96.0 96.0 0 0 1 298.40 333.46L303.97 330.73A89.8 89.8 0 0 0 305.22 333.19Z"/>
<path fill="#d6ecd6" d="M471.20 269.80A89.2 89.2 0 0 1 471.81 272.47L465.95 273.73A83.2 83.2 0 0 0 465.37 271.24Z"/>
<path fill="#fbdfda" d="M464.79 271.39A82.6 82.6 0 0 1 465.36 273.86L459.49 275.12A76.6 76.6 0 0 0 458.96 272.82Z"/>
<path fill="#bbabd3" d="M457.41 273.21A75.0 75.0 0 0 1 457.93 275.45L452.26 276.67A69.2 69.2 0 0 0 451.78 274.60Z"/>
<path fill="#ba7150" d="M486.18 269.83A103.8 103.8 0 0 1 486.79 272.96L479.70 274.23A96.6 96.6 0 0 0 479.13 271.31Z"/>
<path fill="#986462" d="M478.54 271.44A96.0 96.0 0 0 1 479.11 274.33L473.00 275.42A89.8 89.8 0 0 0 472.48 272.71Z"/>
<path fill="#cee8ce" d="M471.89 272.84A89.2 89.2 0 0 1 472.41 275.53L466.51 276.58A83.2 83.2 0 0 0 466.02 274.07ZM303.19 254.75A89.2 89.2 0 0 1 304.35 252.27L309.74 254.88A83.2 83.2 0 0 0 308.66 257.20Z"/>
<path fill="#f9c9c1" d="M465.43 274.20A82.6 82.6 0 0 1 465.91 276.69L460.01 277.74A76.6 76.6 0 0 0 459.56 275.43ZM309.21 257.45A82.6 82.6 0 0 1 310.28 255.15L315.68 257.77A76.6 76.6 0 0 0 314.69 259.90ZM310.44 254.84A82.6 82.6 0 0 1 311.59 252.57L316.89 255.38A76.6 76.6 0 0 0 315.82 257.48Z"/>
<path fill="#a08abf" d="M457.99 275.76A75.0 75.0 0 0 1 458.43 278.02L452.72 279.04A69.2 69.2 0 0 0 452.32 276.95ZM310.03 283.20A75.0 75.0 0 0 1 310.31 280.92L316.05 281.71A69.2 69.2 0 0 0 315.79 283.82Z"/>
<path fill="#bd7758" d="M486.86 273.39A103.8 103.8 0 0 1 487.36 276.54L480.23 277.56A96.6 96.6 0 0 0 479.77 274.62Z"/>
<path fill="#724a49" d="M479.18 274.73A96.0 96.0 0 0 1 479.64 277.64L473.50 278.52A89.8 89.8 0 0 0 473.07 275.79Z"/>
<path fill="#4b9150" d="M472.48 275.89A89.2 89.2 0 0 1 472.91 278.60L466.97 279.45A83.2 83.2 0 0 0 466.57 276.92Z"/>
<path fill="#ba3c34" d="M465.97 277.03A82.6 82.6 0 0 1 466.37 279.53L460.43 280.38A76.6 76.6 0 0 0 460.06 278.06Z"/>
<path fill="#644289" d="M458.49 278.33A75.0 75.0 0 0 1 458.85 280.61L453.11 281.43A69.2 69.2 0 0 0 452.77 279.33ZM310.77 278.02A75.0 75.0 0 0 1 311.21 275.76L316.88 276.95A69.2 69.2 0 0 0 316.48 279.04Z"/>
<path fill="#f1f1f5" d="M487.42 276.97A103.8 103.8 0 0 1 487.81 280.13L480.65 280.90A96.6 96.6 0 0 0 480.29 277.96ZM339.29 197.81A103.8 103.8 0 0 1 342.18 196.46L345.12 203.03A96.6 96.6 0 0 0 342.44 204.29Z"/>
<path fill="#d3918f" d="M479.69 278.04A96.0 96.0 0 0 1 480.05 280.97L473.89 281.63A89.8 89.8 0 0 0 473.55 278.89ZM432.43 374.44A96.0 96.0 0 0 1 429.85 375.87L426.92 370.40A89.8 89.8 0 0 0 429.34 369.06ZM426.50 377.57A96.0 96.0 0 0 1 423.83 378.82L421.30 373.16A89.8 89.8 0 0 0 423.80 371.99ZM348.45 380.13A96.0 96.0 0 0 1 345.74 378.98L348.25 373.31A89.8 89.8 0 0 0 350.79 374.39ZM313.12 355.29A96.0 96.0 0 0 1 311.19 353.06L315.93 349.07A89.8 89.8 0 0 0 317.74 351.15ZM294.32 323.84A96.0 96.0 0 0 1 293.36 321.06L299.25 319.13A89.8 89.8 0 0 0 300.15 321.74ZM325.66 215.43A96.0 96.0 0 0 1 328.01 213.65L331.66 218.66A89.8 89.8 0 0 0 329.46 220.32ZM342.70 204.83A96.0 96.0 0 0 1 345.37 203.58L347.90 209.24A89.8 89.8 0 0 0 345.40 210.41Z"/>
<path fill="#dceedc" d="M472.96 278.97A89.2 89.2 0 0 1 473.29 281.69L467.33 282.33A83.2 83.2 0 0 0 467.01 279.79ZM296.72 306.51A89.2 89.2 0 0 1 296.29 303.80L302.23 302.95A83.2 83.2 0 0 0 302.63 305.48Z"/>
<path fill="#facfc8" d="M466.42 279.88A82.6 82.6 0 0 1 466.73 282.39L460.76 283.03A76.6 76.6 0 0 0 460.48 280.70ZM459.99 324.95A82.6 82.6 0 0 1 458.92 327.25L453.52 324.63A76.6 76.6 0 0 0 454.51 322.50Z"/>
<path fill="#d8dee9" d="M487.85 280.57A103.8 103.8 0 0 1 488.13 283.74L480.95 284.26A96.6 96.6 0 0 0 480.69 281.30ZM487.36 305.86A103.8 103.8 0 0 1 486.86 309.01L479.77 307.78A96.6 96.6 0 0 0 480.23 304.84ZM296.46 346.02A103.8 103.8 0 0 1 294.82 343.29L301.04 339.68A96.6 96.6 0 0 0 302.57 342.22Z"/>
<path fill="#d2908e" d="M480.09 281.37A96.0 96.0 0 0 1 480.35 284.30L474.17 284.75A89.8 89.8 0 0 0 473.93 282.00ZM480.60 291.40A96.0 96.0 0 0 1 480.55 294.35L474.35 294.15A89.8 89.8 0 0 0 474.40 291.39ZM475.84 321.06A96.0 96.0 0 0 1 474.88 323.84L469.05 321.74A89.8 89.8 0 0 0 469.95 319.13ZM455.81 355.59A96.0 96.0 0 0 1 453.80 357.74L449.33 353.44A89.8 89.8 0 0 0 451.21 351.43ZM381.05 387.13A96.0 96.0 0 0 1 378.10 386.98L378.52 380.79A89.8 89.8 0 0 0 381.28 380.94ZM367.73 385.71A96.0 96.0 0 0 1 364.84 385.14L366.11 379.08A89.8 89.8 0 0 0 368.82 379.60ZM342.34 377.40A96.0 96.0 0 0 1 339.71 376.06L342.61 370.58A89.8 89.8 0 0 0 345.07 371.83ZM322.74 364.61A96.0 96.0 0 0 1 320.51 362.68L324.65 358.06A89.8 89.8 0 0 0 326.73 359.87ZM293.24 320.67A96.0 96.0 0 0 1 292.37 317.85L298.33 316.13A89.8 89.8 0 0 0 299.14 318.77ZM290.66 310.96A96.0 96.0 0 0 1 290.09 308.07L296.20 306.98A89.8 89.8 0 0 0 296.72 309.69ZM328.34 213.42A96.0 96.0 0 0 1 330.75 211.72L334.23 216.86A89.8 89.8 0 0 0 331.97 218.44ZM336.77 207.96A96.0 96.0 0 0 1 339.35 206.53L342.28 212.00A89.8 89.8 0 0 0 339.86 213.34ZM381.45 195.25A96.0 96.0 0 0 1 384.40 195.20L384.41 201.40A89.8 89.8 0 0 0 381.65 201.45Z"/>
<path fill="#ead5cc" d="M488.16 284.18A103.8 103.8 0 0 1 488.33 287.36L481.13 287.63A96.6 96.6 0 0 0 480.98 284.66Z"/>
<path fill="#d08a88" d="M480.38 284.70A96.0 96.0 0 0 1 480.53 287.65L474.34 287.88A89.8 89.8 0 0 0 474.19 285.12ZM460.13 350.46A96.0 96.0 0 0 1 458.27 352.75L453.51 348.78A89.8 89.8 0 0 0 455.25 346.63ZM423.46 378.98A96.0 96.0 0 0 1 420.75 380.13L418.41 374.39A89.8 89.8 0 0 0 420.95 373.31ZM410.87 383.54A96.0 96.0 0 0 1 408.02 384.30L406.51 378.29A89.8 89.8 0 0 0 409.17 377.57ZM288.60 291.00A96.0 96.0 0 0 1 288.65 288.05L294.85 288.25A89.8 89.8 0 0 0 294.80 291.01ZM288.85 284.30A96.0 96.0 0 0 1 289.11 281.37L295.27 282.00A89.8 89.8 0 0 0 295.03 284.75ZM289.56 277.64A96.0 96.0 0 0 1 290.02 274.73L296.13 275.79A89.8 89.8 0 0 0 295.70 278.52ZM290.74 271.04A96.0 96.0 0 0 1 291.40 268.17L297.42 269.66A89.8 89.8 0 0 0 296.80 272.35ZM320.51 219.72A96.0 96.0 0 0 1 322.74 217.79L326.73 222.53A89.8 89.8 0 0 0 324.65 224.34ZM345.74 203.42A96.0 96.0 0 0 1 348.45 202.27L350.79 208.01A89.8 89.8 0 0 0 348.25 209.09ZM364.84 197.26A96.0 96.0 0 0 1 367.73 196.69L368.82 202.80A89.8 89.8 0 0 0 366.11 203.32Z"/>
<path fill="#d2d9e6" d="M488.34 287.79A103.8 103.8 0 0 1 488.40 290.98L481.20 291.00A96.6 96.6 0 0 0 481.15 288.03ZM472.51 346.39A103.8 103.8 0 0 1 470.78 349.06L464.80 345.05A96.6 96.6 0 0 0 466.41 342.56ZM281.35 301.83A103.8 103.8 0 0 1 281.07 298.66L288.25 298.14A96.6 96.6 0 0 0 288.51 301.10Z"/>
<path fill="#d18d8b" d="M480.55 288.05A96.0 96.0 0 0 1 480.60 291.00L474.40 291.01A89.8 89.8 0 0 0 474.35 288.25ZM417.24 381.48A96.0 96.0 0 0 1 414.46 382.44L412.53 376.55A89.8 89.8 0 0 0 415.14 375.65ZM387.75 387.15A96.0 96.0 0 0 1 384.80 387.20L384.79 381.00A89.8 89.8 0 0 0 387.55 380.95ZM351.58 381.34A96.0 96.0 0 0 1 348.82 380.28L351.13 374.53A89.8 89.8 0 0 0 353.71 375.52ZM330.75 370.68A96.0 96.0 0 0 1 328.34 368.98L331.97 363.96A89.8 89.8 0 0 0 334.23 365.54ZM348.82 202.12A96.0 96.0 0 0 1 351.58 201.06L353.71 206.88A89.8 89.8 0 0 0 351.13 207.87Z"/>
<path fill="#d5dbe7" d="M488.40 291.42A103.8 103.8 0 0 1 488.34 294.61L481.15 294.37A96.6 96.6 0 0 0 481.20 291.40ZM329.41 379.11A103.8 103.8 0 0 1 326.74 377.38L330.75 371.40A96.6 96.6 0 0 0 333.24 373.01Z"/>
<path fill="#f6f4f9" d="M459.60 291.36A75.0 75.0 0 0 1 459.56 293.66L453.76 293.47A69.2 69.2 0 0 0 453.80 291.34ZM371.42 365.03A75.0 75.0 0 0 1 369.16 364.59L370.35 358.92A69.2 69.2 0 0 0 372.44 359.32ZM379.52 216.37A75.0 75.0 0 0 1 381.83 216.25L382.04 222.05A69.2 69.2 0 0 0 379.92 222.16Z"/>
<path fill="#ced6e4" d="M488.33 295.04A103.8 103.8 0 0 1 488.16 298.22L480.98 297.74A96.6 96.6 0 0 0 481.13 294.77ZM291.21 336.51A103.8 103.8 0 0 1 289.86 333.62L296.43 330.68A96.6 96.6 0 0 0 297.69 333.36Z"/>
<path fill="#d28f8d" d="M480.53 294.75A96.0 96.0 0 0 1 480.38 297.70L474.19 297.28A89.8 89.8 0 0 0 474.34 294.52ZM462.15 347.79A96.0 96.0 0 0 1 460.37 350.14L455.48 346.34A89.8 89.8 0 0 0 457.14 344.14ZM333.56 372.51A96.0 96.0 0 0 1 331.08 370.90L334.54 365.75A89.8 89.8 0 0 0 336.85 367.25ZM301.36 339.03A96.0 96.0 0 0 1 299.93 336.45L305.40 333.52A89.8 89.8 0 0 0 306.74 335.94Z"/>
<path fill="#ead6cd" d="M488.13 298.66A103.8 103.8 0 0 1 487.85 301.83L480.69 301.10A96.6 96.6 0 0 0 480.95 298.14Z"/>
<path fill="#d69b99" d="M480.35 298.10A96.0 96.0 0 0 1 480.09 301.03L473.93 300.40A89.8 89.8 0 0 0 474.17 297.65ZM476.83 317.85A96.0 96.0 0 0 1 475.96 320.67L470.06 318.77A89.8 89.8 0 0 0 470.87 316.13Z"/>
<path fill="#d7cee5" d="M459.41 296.59A75.0 75.0 0 0 1 459.21 298.88L453.44 298.29A69.2 69.2 0 0 0 453.62 296.17Z"/>
<path fill="#e0e4ec" d="M487.81 302.27A103.8 103.8 0 0 1 487.42 305.43L480.29 304.44A96.6 96.6 0 0 0 480.65 301.50Z"/>
<path fill="#d79b99" d="M480.05 301.43A96.0 96.0 0 0 1 479.69 304.36L473.55 303.51A89.8 89.8 0 0 0 473.89 300.77ZM479.64 304.76A96.0 96.0 0 0 1 479.18 307.67L473.07 306.61A89.8 89.8 0 0 0 473.50 303.88Z"/>
<path fill="#f9f8fb" d="M459.17 299.20A75.0 75.0 0 0 1 458.89 301.48L453.15 300.69A69.2 69.2 0 0 0 453.41 298.58ZM338.30 350.20A75.0 75.0 0 0 1 336.51 348.75L340.23 344.30A69.2 69.2 0 0 0 341.88 345.64ZM371.73 217.31A75.0 75.0 0 0 1 374.01 216.95L374.83 222.69A69.2 69.2 0 0 0 372.73 223.03Z"/>
<path fill="#bfcadd" d="M486.79 309.44A103.8 103.8 0 0 1 486.18 312.57L479.13 311.09A96.6 96.6 0 0 0 479.70 308.17ZM405.97 392.78A103.8 103.8 0 0 1 402.84 393.39L401.57 386.30A96.6 96.6 0 0 0 404.49 385.73Z"/>
<path fill="#d59796" d="M479.11 308.07A96.0 96.0 0 0 1 478.54 310.96L472.48 309.69A89.8 89.8 0 0 0 473.00 306.98Z"/>
<path fill="#d5cbe4" d="M458.43 304.38A75.0 75.0 0 0 1 457.99 306.64L452.32 305.45A69.2 69.2 0 0 0 452.72 303.36ZM456.65 312.02A75.0 75.0 0 0 1 455.98 314.23L450.46 312.45A69.2 69.2 0 0 0 451.08 310.41ZM405.12 363.34A75.0 75.0 0 0 1 402.90 363.93L401.48 358.31A69.2 69.2 0 0 0 403.53 357.76Z"/>
<path fill="#f0f1f4" d="M486.09 312.99A103.8 103.8 0 0 1 485.37 316.10L478.38 314.37A96.6 96.6 0 0 0 479.05 311.48Z"/>
<path fill="#d28e8c" d="M478.46 311.36A96.0 96.0 0 0 1 477.80 314.23L471.78 312.74A89.8 89.8 0 0 0 472.40 310.05ZM291.50 267.78A96.0 96.0 0 0 1 292.26 264.93L298.23 266.63A89.8 89.8 0 0 0 297.51 269.29Z"/>
<path fill="#e0f0e0" d="M471.81 309.93A89.2 89.2 0 0 1 471.20 312.60L465.37 311.16A83.2 83.2 0 0 0 465.95 308.67ZM372.00 379.51A89.2 89.2 0 0 1 369.29 379.08L370.32 373.17A83.2 83.2 0 0 0 372.85 373.57Z"/>
<path fill="#fbddd8" d="M465.36 308.54A82.6 82.6 0 0 1 464.79 311.01L458.96 309.58A76.6 76.6 0 0 0 459.49 307.28Z"/>
<path fill="#d1c6e1" d="M457.93 306.95A75.0 75.0 0 0 1 457.41 309.19L451.78 307.80A69.2 69.2 0 0 0 452.26 305.73ZM450.75 326.55A75.0 75.0 0 0 1 449.63 328.56L444.60 325.67A69.2 69.2 0 0 0 445.63 323.82ZM441.95 339.53A75.0 75.0 0 0 1 440.44 341.27L436.12 337.40A69.2 69.2 0 0 0 437.52 335.79Z"/>
<path fill="#e3c6ba" d="M485.26 316.52A103.8 103.8 0 0 1 484.44 319.60L477.51 317.63A96.6 96.6 0 0 0 478.28 314.77Z"/>
<path fill="#d18e8c" d="M477.70 314.62A96.0 96.0 0 0 1 476.94 317.47L470.97 315.77A89.8 89.8 0 0 0 471.69 313.11ZM470.80 333.46A96.0 96.0 0 0 1 469.46 336.09L463.98 333.19A89.8 89.8 0 0 0 465.23 330.73ZM371.44 196.11A96.0 96.0 0 0 1 374.37 195.75L375.03 201.91A89.8 89.8 0 0 0 372.29 202.25Z"/>
<path fill="#f0e1dc" d="M484.32 320.02A103.8 103.8 0 0 1 483.39 323.07L476.53 320.86A96.6 96.6 0 0 0 477.40 318.02Z"/>
<path fill="#fbf8f8" d="M483.25 323.48A103.8 103.8 0 0 1 482.21 326.50L475.44 324.05A96.6 96.6 0 0 0 476.41 321.24ZM283.83 316.10A103.8 103.8 0 0 1 283.11 312.99L290.15 311.48A96.6 96.6 0 0 0 290.82 314.37Z"/>
<path fill="#f9ccc5" d="M463.10 316.89A82.6 82.6 0 0 1 462.28 319.29L456.64 317.25A76.6 76.6 0 0 0 457.40 315.02ZM439.74 352.70A82.6 82.6 0 0 1 437.83 354.36L433.96 349.78A76.6 76.6 0 0 0 435.74 348.23Z"/>
<path fill="#ddd5e9" d="M455.88 314.53A75.0 75.0 0 0 1 455.13 316.70L449.68 314.73A69.2 69.2 0 0 0 450.37 312.72ZM353.95 359.65A75.0 75.0 0 0 1 351.86 358.68L354.40 353.46A69.2 69.2 0 0 0 356.32 354.36ZM351.58 358.54A75.0 75.0 0 0 1 349.53 357.49L352.24 352.37A69.2 69.2 0 0 0 354.13 353.33ZM311.21 306.64A75.0 75.0 0 0 1 310.77 304.38L316.48 303.36A69.2 69.2 0 0 0 316.88 305.45Z"/>
<path fill="#d5dce7" d="M482.07 326.91A103.8 103.8 0 0 1 480.92 329.88L474.24 327.20A96.6 96.6 0 0 0 475.30 324.43Z"/>
<path fill="#d59694" d="M474.74 324.22A96.0 96.0 0 0 1 473.68 326.98L467.93 324.67A89.8 89.8 0 0 0 468.92 322.09ZM451.14 360.40A96.0 96.0 0 0 1 448.99 362.41L444.83 357.81A89.8 89.8 0 0 0 446.84 355.93ZM377.70 386.95A96.0 96.0 0 0 1 374.77 386.69L375.40 380.53A89.8 89.8 0 0 0 378.15 380.77ZM339.35 375.87A96.0 96.0 0 0 1 336.77 374.44L339.86 369.06A89.8 89.8 0 0 0 342.28 370.40ZM303.08 341.90A96.0 96.0 0 0 1 301.56 339.37L306.93 336.26A89.8 89.8 0 0 0 308.35 338.63Z"/>
<path fill="#f3f3f6" d="M480.76 330.29A103.8 103.8 0 0 1 479.51 333.22L472.93 330.31A96.6 96.6 0 0 0 474.09 327.57ZM391.62 394.76A103.8 103.8 0 0 1 388.44 394.93L388.17 387.73A96.6 96.6 0 0 0 391.14 387.58ZM359.28 391.86A103.8 103.8 0 0 1 356.20 391.04L358.17 384.11A96.6 96.6 0 0 0 361.03 384.88ZM314.98 368.19A103.8 103.8 0 0 1 312.65 366.02L317.64 360.83A96.6 96.6 0 0 0 319.81 362.85Z"/>
<path fill="#d69a98" d="M473.53 327.35A96.0 96.0 0 0 1 472.38 330.06L466.71 327.55A89.8 89.8 0 0 0 467.79 325.01Z"/>
<path fill="#e8eaf0" d="M479.34 333.62A103.8 103.8 0 0 1 477.99 336.51L471.51 333.36A96.6 96.6 0 0 0 472.77 330.68Z"/>
<path fill="#d28f8e" d="M472.22 330.43A96.0 96.0 0 0 1 470.97 333.10L465.39 330.40A89.8 89.8 0 0 0 466.56 327.90ZM301.56 243.03A96.0 96.0 0 0 1 303.08 240.50L308.35 243.77A89.8 89.8 0 0 0 306.93 246.14Z"/>
<path fill="#cbe6cb" d="M466.01 327.65A89.2 89.2 0 0 1 464.85 330.13L459.46 327.52A83.2 83.2 0 0 0 460.54 325.20Z"/>
<path fill="#eddcd5" d="M477.80 336.90A103.8 103.8 0 0 1 476.35 339.74L469.99 336.37A96.6 96.6 0 0 0 471.33 333.73Z"/>
<path fill="#d8cfe6" d="M451.94 324.22A75.0 75.0 0 0 1 450.89 326.27L445.77 323.56A69.2 69.2 0 0 0 446.73 321.67Z"/>
<path fill="#f5ece8" d="M476.15 340.12A103.8 103.8 0 0 1 474.60 342.91L468.36 339.32A96.6 96.6 0 0 0 469.80 336.73ZM388.01 394.94A103.8 103.8 0 0 1 384.82 395.00L384.80 387.80A96.6 96.6 0 0 0 387.77 387.75Z"/>
<path fill="#d59795" d="M469.27 336.45A96.0 96.0 0 0 1 467.84 339.03L462.46 335.94A89.8 89.8 0 0 0 463.80 333.52ZM345.37 378.82A96.0 96.0 0 0 1 342.70 377.57L345.40 371.99A89.8 89.8 0 0 0 347.90 373.16ZM310.93 352.75A96.0 96.0 0 0 1 309.07 350.46L313.95 346.63A89.8 89.8 0 0 0 315.69 348.78ZM288.65 294.35A96.0 96.0 0 0 1 288.60 291.40L294.80 291.39A89.8 89.8 0 0 0 294.85 294.15Z"/>
<path fill="#e3e7ee" d="M474.38 343.29A103.8 103.8 0 0 1 472.74 346.02L466.63 342.22A96.6 96.6 0 0 0 468.16 339.68Z"/>
<path fill="#d39290" d="M467.64 339.37A96.0 96.0 0 0 1 466.12 341.90L460.85 338.63A89.8 89.8 0 0 0 462.27 336.26ZM458.01 353.06A96.0 96.0 0 0 1 456.08 355.29L451.46 351.15A89.8 89.8 0 0 0 453.27 349.07ZM438.12 370.90A96.0 96.0 0 0 1 435.64 372.51L432.35 367.25A89.8 89.8 0 0 0 434.66 365.75ZM420.38 380.28A96.0 96.0 0 0 1 417.62 381.34L415.49 375.52A89.8 89.8 0 0 0 418.07 374.53ZM289.51 304.36A96.0 96.0 0 0 1 289.15 301.43L295.31 300.77A89.8 89.8 0 0 0 295.65 303.51ZM296.98 251.97A96.0 96.0 0 0 1 298.23 249.30L303.81 252.00A89.8 89.8 0 0 0 302.64 254.50ZM339.71 206.34A96.0 96.0 0 0 1 342.34 205.00L345.07 210.57A89.8 89.8 0 0 0 342.61 211.82ZM374.77 195.71A96.0 96.0 0 0 1 377.70 195.45L378.15 201.63A89.8 89.8 0 0 0 375.40 201.87Z"/>
<path fill="#d18d8c" d="M465.91 342.24A96.0 96.0 0 0 1 464.30 344.72L459.15 341.26A89.8 89.8 0 0 0 460.65 338.95ZM290.02 307.67A96.0 96.0 0 0 1 289.56 304.76L295.70 303.88A89.8 89.8 0 0 0 296.13 306.61Z"/>
<path fill="#d7dde8" d="M470.53 349.42A103.8 103.8 0 0 1 468.70 352.04L462.87 347.82A96.6 96.6 0 0 0 464.57 345.39ZM338.90 384.40A103.8 103.8 0 0 1 336.06 382.95L339.43 376.59A96.6 96.6 0 0 0 342.07 377.93ZM307.61 221.58A103.8 103.8 0 0 1 309.78 219.25L314.97 224.24A96.6 96.6 0 0 0 312.95 226.41Z"/>
<path fill="#d49594" d="M464.08 345.05A96.0 96.0 0 0 1 462.38 347.46L457.36 343.83A89.8 89.8 0 0 0 458.94 341.57ZM333.90 209.68A96.0 96.0 0 0 1 336.43 208.16L339.54 213.53A89.8 89.8 0 0 0 337.17 214.95ZM355.13 199.84A96.0 96.0 0 0 1 357.95 198.97L359.67 204.93A89.8 89.8 0 0 0 357.03 205.74Z"/>
<path fill="#cfd6e4" d="M468.45 352.39A103.8 103.8 0 0 1 466.53 354.93L460.85 350.51A96.6 96.6 0 0 0 462.63 348.14Z"/>
<path fill="#d7dde9" d="M466.26 355.28A103.8 103.8 0 0 1 464.25 357.75L458.73 353.14A96.6 96.6 0 0 0 460.60 350.83Z"/>
<path fill="#f3f0f7" d="M443.60 337.50A75.0 75.0 0 0 1 442.15 339.29L437.70 335.57A69.2 69.2 0 0 0 439.04 333.92ZM310.71 304.07A75.0 75.0 0 0 1 310.35 301.79L316.09 300.97A69.2 69.2 0 0 0 316.43 303.07ZM309.99 298.88A75.0 75.0 0 0 1 309.79 296.59L315.58 296.17A69.2 69.2 0 0 0 315.76 298.29Z"/>
<path fill="#f4eae7" d="M463.98 358.09A103.8 103.8 0 0 1 461.88 360.49L456.52 355.69A96.6 96.6 0 0 0 458.47 353.45Z"/>
<path fill="#eddbd4" d="M461.59 360.82A103.8 103.8 0 0 1 459.42 363.15L454.23 358.16A96.6 96.6 0 0 0 456.25 355.99Z"/>
<path fill="#ebecf2" d="M459.12 363.46A103.8 103.8 0 0 1 456.86 365.72L451.85 360.55A96.6 96.6 0 0 0 453.95 358.45Z"/>
<path fill="#c98583" d="M453.52 358.03A96.0 96.0 0 0 1 451.43 360.12L447.12 355.67A89.8 89.8 0 0 0 449.07 353.72ZM354.74 382.44A96.0 96.0 0 0 1 351.96 381.48L354.06 375.65A89.8 89.8 0 0 0 356.67 376.55ZM307.05 234.61A96.0 96.0 0 0 1 308.83 232.26L313.72 236.06A89.8 89.8 0 0 0 312.06 238.26Z"/>
<path fill="#f8f7f8" d="M456.55 366.02A103.8 103.8 0 0 1 454.22 368.19L449.39 362.85A96.6 96.6 0 0 0 451.56 360.83Z"/>
<path fill="#c4b7d9" d="M436.59 345.26A75.0 75.0 0 0 1 434.90 346.83L431.01 342.53A69.2 69.2 0 0 0 432.57 341.08ZM428.56 351.97A75.0 75.0 0 0 1 426.67 353.29L423.42 348.49A69.2 69.2 0 0 0 425.16 347.27ZM402.59 364.01A75.0 75.0 0 0 1 400.35 364.53L399.13 358.86A69.2 69.2 0 0 0 401.20 358.38Z"/>
<path fill="#dce1eb" d="M453.89 368.48A103.8 103.8 0 0 1 451.49 370.58L446.85 365.07A96.6 96.6 0 0 0 449.09 363.12ZM384.38 395.00A103.8 103.8 0 0 1 381.19 394.94L381.43 387.75A96.6 96.6 0 0 0 384.40 387.80ZM345.51 387.36A103.8 103.8 0 0 1 342.58 386.11L345.49 379.53A96.6 96.6 0 0 0 348.23 380.69Z"/>
<path fill="#d59896" d="M448.69 362.68A96.0 96.0 0 0 1 446.46 364.61L442.47 359.87A89.8 89.8 0 0 0 444.55 358.06Z"/>
<path fill="#edeff3" d="M451.15 370.85A103.8 103.8 0 0 1 448.68 372.86L444.23 367.20A96.6 96.6 0 0 0 446.54 365.33Z"/>
<path fill="#d69a99" d="M446.15 364.87A96.0 96.0 0 0 1 443.86 366.73L440.03 361.85A89.8 89.8 0 0 0 442.18 360.11Z"/>
<path fill="#cce6cc" d="M441.79 359.65A89.2 89.2 0 0 1 439.66 361.38L435.96 356.66A83.2 83.2 0 0 0 437.95 355.05Z"/>
<path fill="#f8bfb5" d="M437.56 354.59A82.6 82.6 0 0 1 435.59 356.18L431.89 351.46A76.6 76.6 0 0 0 433.71 349.98ZM375.79 373.33A82.6 82.6 0 0 1 373.28 373.02L374.10 367.08A76.6 76.6 0 0 0 376.43 367.36Z"/>
<path fill="#c7badb" d="M432.69 348.75A75.0 75.0 0 0 1 430.90 350.20L427.32 345.64A69.2 69.2 0 0 0 428.97 344.30Z"/>
<path fill="#f5f4f7" d="M448.33 373.13A103.8 103.8 0 0 1 445.79 375.05L441.54 369.23A96.6 96.6 0 0 0 443.91 367.45Z"/>
<path fill="#d39291" d="M443.54 366.97A96.0 96.0 0 0 1 441.19 368.75L437.54 363.74A89.8 89.8 0 0 0 439.74 362.08ZM394.43 386.69A96.0 96.0 0 0 1 391.50 386.95L391.05 380.77A89.8 89.8 0 0 0 393.80 380.53Z"/>
<path fill="#ebd8d0" d="M445.44 375.30A103.8 103.8 0 0 1 442.82 377.13L438.79 371.17A96.6 96.6 0 0 0 441.22 369.47Z"/>
<path fill="#cc8785" d="M440.86 368.98A96.0 96.0 0 0 1 438.45 370.68L434.97 365.54A89.8 89.8 0 0 0 437.23 363.96ZM397.76 386.29A96.0 96.0 0 0 1 394.83 386.65L394.17 380.49A89.8 89.8 0 0 0 396.91 380.15ZM317.77 360.12A96.0 96.0 0 0 1 315.68 358.03L320.13 353.72A89.8 89.8 0 0 0 322.08 355.67ZM296.82 330.06A96.0 96.0 0 0 1 295.67 327.35L301.41 325.01A89.8 89.8 0 0 0 302.49 327.55ZM313.39 226.81A96.0 96.0 0 0 1 315.40 224.66L319.87 228.96A89.8 89.8 0 0 0 317.99 230.97Z"/>
<path fill="#428848" d="M436.88 363.47A89.2 89.2 0 0 1 434.63 365.05L431.27 360.08A83.2 83.2 0 0 0 433.36 358.61Z"/>
<path fill="#b1322c" d="M433.01 358.13A82.6 82.6 0 0 1 430.93 359.58L427.57 354.61A76.6 76.6 0 0 0 429.49 353.26ZM353.82 214.55A82.6 82.6 0 0 1 356.19 213.64L358.25 219.27A76.6 76.6 0 0 0 356.05 220.12Z"/>
<path fill="#ecd8d1" d="M442.46 377.38A103.8 103.8 0 0 1 439.79 379.11L435.96 373.01A96.6 96.6 0 0 0 438.45 371.40Z"/>
<path fill="#f4f4f6" d="M439.42 379.34A103.8 103.8 0 0 1 436.69 380.98L433.08 374.76A96.6 96.6 0 0 0 435.62 373.23Z"/>
<path fill="#ca8684" d="M435.30 372.72A96.0 96.0 0 0 1 432.77 374.24L429.66 368.87A89.8 89.8 0 0 0 432.03 367.45ZM371.04 386.24A96.0 96.0 0 0 1 368.13 385.78L369.19 379.67A89.8 89.8 0 0 0 371.92 380.10ZM336.43 374.24A96.0 96.0 0 0 1 333.90 372.72L337.17 367.45A89.8 89.8 0 0 0 339.54 368.87Z"/>
<path fill="#cce7cc" d="M431.71 366.94A89.2 89.2 0 0 1 429.36 368.36L426.35 363.17A83.2 83.2 0 0 0 428.54 361.85Z"/>
<path fill="#fad3cc" d="M428.22 361.34A82.6 82.6 0 0 1 426.05 362.65L423.04 357.46A76.6 76.6 0 0 0 425.06 356.25Z"/>
<path fill="#d7cde5" d="M424.21 354.89A75.0 75.0 0 0 1 422.24 356.07L419.33 351.06A69.2 69.2 0 0 0 421.15 349.96ZM311.79 309.19A75.0 75.0 0 0 1 311.27 306.95L316.94 305.73A69.2 69.2 0 0 0 317.42 307.80Z"/>
<path fill="#e6e9ef" d="M436.31 381.20A103.8 103.8 0 0 1 433.52 382.75L430.13 376.40A96.6 96.6 0 0 0 432.72 374.96Z"/>
<path fill="#e7f4e7" d="M429.04 368.54A89.2 89.2 0 0 1 426.64 369.87L423.81 364.58A83.2 83.2 0 0 0 426.05 363.34Z"/>
<path fill="#fce8e4" d="M425.75 362.82A82.6 82.6 0 0 1 423.53 364.05L420.70 358.76A76.6 76.6 0 0 0 422.76 357.62Z"/>
<path fill="#c6b9da" d="M421.96 356.23A75.0 75.0 0 0 1 419.95 357.35L417.22 352.23A69.2 69.2 0 0 0 419.07 351.20Z"/>
<path fill="#f7f6f8" d="M433.14 382.95A103.8 103.8 0 0 1 430.30 384.40L427.13 377.93A96.6 96.6 0 0 0 429.77 376.59Z"/>
<path fill="#cf8988" d="M429.49 376.06A96.0 96.0 0 0 1 426.86 377.40L424.13 371.83A89.8 89.8 0 0 0 426.59 370.58Z"/>
<path fill="#faf8fb" d="M419.67 357.49A75.0 75.0 0 0 1 417.62 358.54L415.07 353.33A69.2 69.2 0 0 0 416.96 352.37Z"/>
<path fill="#e4c8bc" d="M429.91 384.59A103.8 103.8 0 0 1 427.02 385.94L424.08 379.37A96.6 96.6 0 0 0 426.76 378.11ZM320.52 372.86A103.8 103.8 0 0 1 318.05 370.85L322.66 365.33A96.6 96.6 0 0 0 324.97 367.20Z"/>
<path fill="#f2f2f5" d="M426.62 386.11A103.8 103.8 0 0 1 423.69 387.36L420.97 380.69A96.6 96.6 0 0 0 423.71 379.53ZM359.70 190.43A103.8 103.8 0 0 1 362.81 189.71L364.32 196.75A96.6 96.6 0 0 0 361.43 197.42Z"/>
<path fill="#e8f4e8" d="M420.71 372.76A89.2 89.2 0 0 1 418.19 373.83L415.93 368.28A83.2 83.2 0 0 0 418.28 367.28ZM337.17 366.75A89.2 89.2 0 0 1 334.87 365.25L338.22 360.27A83.2 83.2 0 0 0 340.36 361.67Z"/>
<path fill="#fce5e2" d="M418.04 366.73A82.6 82.6 0 0 1 415.70 367.72L413.44 362.16A76.6 76.6 0 0 0 415.61 361.24Z"/>
<path fill="#f1e2dd" d="M423.28 387.52A103.8 103.8 0 0 1 420.31 388.67L417.83 381.90A96.6 96.6 0 0 0 420.60 380.84Z"/>
<path fill="#e0e4ed" d="M419.90 388.81A103.8 103.8 0 0 1 416.88 389.85L414.64 383.01A96.6 96.6 0 0 0 417.45 382.04ZM413.00 391.04A103.8 103.8 0 0 1 409.92 391.86L408.17 384.88A96.6 96.6 0 0 0 411.03 384.11ZM310.08 218.94A103.8 103.8 0 0 1 312.34 216.68L317.35 221.85A96.6 96.6 0 0 0 315.25 223.95Z"/>
<path fill="#efecf5" d="M410.10 361.73A75.0 75.0 0 0 1 407.93 362.48L406.12 356.97A69.2 69.2 0 0 0 408.13 356.28Z"/>
<path fill="#e8d1c7" d="M416.47 389.99A103.8 103.8 0 0 1 413.42 390.92L411.42 384.00A96.6 96.6 0 0 0 414.26 383.13Z"/>
<path fill="#cf8987" d="M414.07 382.56A96.0 96.0 0 0 1 411.25 383.43L409.53 377.47A89.8 89.8 0 0 0 412.17 376.66Z"/>
<path fill="#c1e1c1" d="M409.01 377.00A89.2 89.2 0 0 1 406.36 377.70L404.90 371.89A83.2 83.2 0 0 0 407.37 371.22ZM375.09 379.89A89.2 89.2 0 0 1 372.37 379.56L373.19 373.61A83.2 83.2 0 0 0 375.73 373.93Z"/>
<path fill="#f9ccc4" d="M407.20 370.65A82.6 82.6 0 0 1 404.75 371.30L403.29 365.49A76.6 76.6 0 0 0 405.56 364.88Z"/>
<path fill="#ecedf2" d="M409.50 391.97A103.8 103.8 0 0 1 406.39 392.69L404.88 385.65A96.6 96.6 0 0 0 407.77 384.98ZM355.78 390.92A103.8 103.8 0 0 1 352.73 389.99L354.94 383.13A96.6 96.6 0 0 0 357.78 384.00Z"/>
<path fill="#d49492" d="M407.63 384.40A96.0 96.0 0 0 1 404.76 385.06L403.45 379.00A89.8 89.8 0 0 0 406.14 378.38ZM308.83 350.14A96.0 96.0 0 0 1 307.05 347.79L312.06 344.14A89.8 89.8 0 0 0 313.72 346.34ZM295.52 326.98A96.0 96.0 0 0 1 294.46 324.22L300.28 322.09A89.8 89.8 0 0 0 301.27 324.67ZM289.11 301.03A96.0 96.0 0 0 1 288.85 298.10L295.03 297.65A89.8 89.8 0 0 0 295.27 300.40Z"/>
<path fill="#dbeedb" d="M406.00 377.80A89.2 89.2 0 0 1 403.33 378.41L402.07 372.55A83.2 83.2 0 0 0 404.56 371.97ZM297.39 272.47A89.2 89.2 0 0 1 298.00 269.80L303.83 271.24A83.2 83.2 0 0 0 303.25 273.73Z"/>
<path fill="#fce2dd" d="M404.41 371.39A82.6 82.6 0 0 1 401.94 371.96L400.68 366.09A76.6 76.6 0 0 0 402.98 365.56Z"/>
<path fill="#d49391" d="M404.36 385.14A96.0 96.0 0 0 1 401.47 385.71L400.38 379.60A89.8 89.8 0 0 0 403.09 379.08ZM401.07 385.78A96.0 96.0 0 0 1 398.16 386.24L397.28 380.10A89.8 89.8 0 0 0 400.01 379.67ZM306.82 347.46A96.0 96.0 0 0 1 305.12 345.05L310.26 341.57A89.8 89.8 0 0 0 311.84 343.83ZM318.06 222.00A96.0 96.0 0 0 1 320.21 219.99L324.37 224.59A89.8 89.8 0 0 0 322.36 226.47Z"/>
<path fill="#f7f5fa" d="M400.04 364.59A75.0 75.0 0 0 1 397.78 365.03L396.76 359.32A69.2 69.2 0 0 0 398.85 358.92ZM315.12 262.96A75.0 75.0 0 0 1 316.02 260.84L321.32 263.19A69.2 69.2 0 0 0 320.49 265.14ZM336.51 233.65A75.0 75.0 0 0 1 338.30 232.20L341.88 236.76A69.2 69.2 0 0 0 340.23 238.10Z"/>
<path fill="#f4e9e5" d="M402.41 393.46A103.8 103.8 0 0 1 399.26 393.96L398.24 386.83A96.6 96.6 0 0 0 401.18 386.37Z"/>
<path fill="#f8f6fa" d="M397.47 365.09A75.0 75.0 0 0 1 395.19 365.45L394.37 359.71A69.2 69.2 0 0 0 396.47 359.37ZM349.25 357.35A75.0 75.0 0 0 1 347.24 356.23L350.13 351.20A69.2 69.2 0 0 0 351.98 352.23Z"/>
<path fill="#e8d0c6" d="M398.83 394.02A103.8 103.8 0 0 1 395.67 394.41L394.90 387.25A96.6 96.6 0 0 0 397.84 386.89ZM284.76 319.60A103.8 103.8 0 0 1 283.94 316.52L290.92 314.77A96.6 96.6 0 0 0 291.69 317.63Z"/>
<path fill="#d0c5e0" d="M394.88 365.49A75.0 75.0 0 0 1 392.60 365.77L391.98 360.01A69.2 69.2 0 0 0 394.09 359.75Z"/>
<path fill="#f4e9e4" d="M395.23 394.45A103.8 103.8 0 0 1 392.06 394.73L391.54 387.55A96.6 96.6 0 0 0 394.50 387.29Z"/>
<path fill="#c8bbdb" d="M392.28 365.81A75.0 75.0 0 0 1 389.99 366.01L389.57 360.22A69.2 69.2 0 0 0 391.69 360.04Z"/>
<path fill="#cb8785" d="M391.10 386.98A96.0 96.0 0 0 1 388.15 387.13L387.92 380.94A89.8 89.8 0 0 0 390.68 380.79ZM368.13 196.62A96.0 96.0 0 0 1 371.04 196.16L371.92 202.30A89.8 89.8 0 0 0 369.19 202.73Z"/>
<path fill="#c5b7d9" d="M387.06 366.16A75.0 75.0 0 0 1 384.76 366.20L384.74 360.40A69.2 69.2 0 0 0 386.87 360.36Z"/>
<path fill="#d39391" d="M384.40 387.20A96.0 96.0 0 0 1 381.45 387.15L381.65 380.95A89.8 89.8 0 0 0 384.41 381.00ZM364.44 385.06A96.0 96.0 0 0 1 361.57 384.40L363.06 378.38A89.8 89.8 0 0 0 365.75 379.00Z"/>
<path fill="#d2c7e2" d="M384.44 366.20A75.0 75.0 0 0 1 382.14 366.16L382.33 360.36A69.2 69.2 0 0 0 384.46 360.40Z"/>
<path fill="#dfe4ec" d="M380.76 394.93A103.8 103.8 0 0 1 377.58 394.76L378.06 387.58A96.6 96.6 0 0 0 381.03 387.73Z"/>
<path fill="#debdae" d="M377.14 394.73A103.8 103.8 0 0 1 373.97 394.45L374.70 387.29A96.6 96.6 0 0 0 377.66 387.55Z"/>
<path fill="#d9dfe9" d="M373.53 394.41A103.8 103.8 0 0 1 370.37 394.02L371.36 386.89A96.6 96.6 0 0 0 374.30 387.25ZM315.31 213.92A103.8 103.8 0 0 1 317.71 211.82L322.35 217.33A96.6 96.6 0 0 0 320.11 219.28Z"/>
<path fill="#c9bcdc" d="M376.60 365.77A75.0 75.0 0 0 1 374.32 365.49L375.11 359.75A69.2 69.2 0 0 0 377.22 360.01ZM358.80 361.62A75.0 75.0 0 0 1 356.65 360.80L358.81 355.42A69.2 69.2 0 0 0 360.80 356.18Z"/>
<path fill="#f8f1ef" d="M369.94 393.96A103.8 103.8 0 0 1 366.79 393.46L368.02 386.37A96.6 96.6 0 0 0 370.96 386.83Z"/>
<path fill="#fce2de" d="M372.93 372.97A82.6 82.6 0 0 1 370.43 372.57L371.46 366.66A76.6 76.6 0 0 0 373.78 367.03Z"/>
<path fill="#c5b8da" d="M374.01 365.45A75.0 75.0 0 0 1 371.73 365.09L372.73 359.37A69.2 69.2 0 0 0 374.83 359.71Z"/>
<path fill="#dde2eb" d="M366.36 393.39A103.8 103.8 0 0 1 363.23 392.78L364.71 385.73A96.6 96.6 0 0 0 367.63 386.30ZM296.69 236.01A103.8 103.8 0 0 1 298.42 233.34L304.40 237.35A96.6 96.6 0 0 0 302.79 239.84Z"/>
<path fill="#e7eaf0" d="M362.81 392.69A103.8 103.8 0 0 1 359.70 391.97L361.43 384.98A96.6 96.6 0 0 0 364.32 385.65ZM294.82 239.11A103.8 103.8 0 0 1 296.46 236.38L302.57 240.18A96.6 96.6 0 0 0 301.04 242.72Z"/>
<path fill="#d69896" d="M357.95 383.43A96.0 96.0 0 0 1 355.13 382.56L357.03 376.66A89.8 89.8 0 0 0 359.67 377.47ZM304.90 344.72A96.0 96.0 0 0 1 303.29 342.24L308.55 338.95A89.8 89.8 0 0 0 310.05 341.26Z"/>
<path fill="#f3f3f5" d="M352.32 389.85A103.8 103.8 0 0 1 349.30 388.81L351.75 382.04A96.6 96.6 0 0 0 354.56 383.01Z"/>
<path fill="#ccc0de" d="M361.27 362.48A75.0 75.0 0 0 1 359.10 361.73L361.07 356.28A69.2 69.2 0 0 0 363.08 356.97ZM309.60 291.04A75.0 75.0 0 0 1 309.64 288.74L315.44 288.93A69.2 69.2 0 0 0 315.40 291.06ZM309.79 285.81A75.0 75.0 0 0 1 309.99 283.52L315.76 284.11A69.2 69.2 0 0 0 315.58 286.23ZM324.02 246.99A75.0 75.0 0 0 1 325.40 245.15L329.98 248.71A69.2 69.2 0 0 0 328.70 250.41Z"/>
<path fill="#efded8" d="M348.89 388.67A103.8 103.8 0 0 1 345.92 387.52L348.60 380.84A96.6 96.6 0 0 0 351.37 381.90Z"/>
<path fill="#f4eae6" d="M342.18 385.94A103.8 103.8 0 0 1 339.29 384.59L342.44 378.11A96.6 96.6 0 0 0 345.12 379.37ZM289.86 248.78A103.8 103.8 0 0 1 291.21 245.89L297.69 249.04A96.6 96.6 0 0 0 296.43 251.72Z"/>
<path fill="#d1d9e6" d="M335.68 382.75A103.8 103.8 0 0 1 332.89 381.20L336.48 374.96A96.6 96.6 0 0 0 339.07 376.40Z"/>
<path fill="#e6cdc3" d="M332.51 380.98A103.8 103.8 0 0 1 329.78 379.34L333.58 373.23A96.6 96.6 0 0 0 336.12 374.76Z"/>
<path fill="#f0ecf5" d="M346.96 356.07A75.0 75.0 0 0 1 344.99 354.89L348.05 349.96A69.2 69.2 0 0 0 349.87 351.06ZM323.83 335.16A75.0 75.0 0 0 1 322.51 333.27L327.31 330.02A69.2 69.2 0 0 0 328.53 331.76Z"/>
<path fill="#fdeae7" d="M340.68 361.16A82.6 82.6 0 0 1 338.55 359.78L341.90 354.79A76.6 76.6 0 0 0 343.87 356.08Z"/>
<path fill="#fcfafa" d="M326.38 377.13A103.8 103.8 0 0 1 323.76 375.30L327.98 369.47A96.6 96.6 0 0 0 330.41 371.17Z"/>
<path fill="#dbd2e7" d="M342.53 353.29A75.0 75.0 0 0 1 340.64 351.97L344.04 347.27A69.2 69.2 0 0 0 345.78 348.49Z"/>
<path fill="#e0c0b2" d="M323.41 375.05A103.8 103.8 0 0 1 320.87 373.13L325.29 367.45A96.6 96.6 0 0 0 327.66 369.23Z"/>
<path fill="#d69997" d="M328.01 368.75A96.0 96.0 0 0 1 325.66 366.97L329.46 362.08A89.8 89.8 0 0 0 331.66 363.74ZM303.29 240.16A96.0 96.0 0 0 1 304.90 237.68L310.05 241.14A89.8 89.8 0 0 0 308.55 243.45Z"/>
<path fill="#d6cde5" d="M340.39 351.78A75.0 75.0 0 0 1 338.55 350.40L342.11 345.82A69.2 69.2 0 0 0 343.81 347.10Z"/>
<path fill="#d3908f" d="M325.34 366.73A96.0 96.0 0 0 1 323.05 364.87L327.02 360.11A89.8 89.8 0 0 0 329.17 361.85Z"/>
<path fill="#c5cfe0" d="M317.71 370.58A103.8 103.8 0 0 1 315.31 368.48L320.11 363.12A96.6 96.6 0 0 0 322.35 365.07Z"/>
<path fill="#f4f2f8" d="M336.27 348.55A75.0 75.0 0 0 1 334.53 347.04L338.40 342.72A69.2 69.2 0 0 0 340.01 344.12ZM314.18 265.40A75.0 75.0 0 0 1 315.00 263.25L320.38 265.41A69.2 69.2 0 0 0 319.62 267.40Z"/>
<path fill="#e5f3e5" d="M324.77 357.36A89.2 89.2 0 0 1 322.77 355.49L326.93 351.17A83.2 83.2 0 0 0 328.80 352.91ZM300.72 321.53A89.2 89.2 0 0 1 299.82 318.94L305.53 317.08A83.2 83.2 0 0 0 306.36 319.49Z"/>
<path fill="#fce5e1" d="M329.20 352.47A82.6 82.6 0 0 1 327.35 350.74L331.50 346.41A76.6 76.6 0 0 0 333.23 348.02Z"/>
<path fill="#f0e1db" d="M312.34 365.72A103.8 103.8 0 0 1 310.08 363.46L315.25 358.45A96.6 96.6 0 0 0 317.35 360.55Z"/>
<path fill="#deefde" d="M322.50 355.24A89.2 89.2 0 0 1 320.56 353.30L324.87 349.12A83.2 83.2 0 0 0 326.68 350.93Z"/>
<path fill="#fbdbd6" d="M327.10 350.50A82.6 82.6 0 0 1 325.30 348.70L329.61 344.53A76.6 76.6 0 0 0 331.27 346.19ZM303.23 305.37A82.6 82.6 0 0 1 302.83 302.87L308.77 302.02A76.6 76.6 0 0 0 309.14 304.34Z"/>
<path fill="#f1e3de" d="M309.78 363.15A103.8 103.8 0 0 1 307.61 360.82L312.95 355.99A96.6 96.6 0 0 0 314.97 358.16Z"/>
<path fill="#d18c8a" d="M315.40 357.74A96.0 96.0 0 0 1 313.39 355.59L317.99 351.43A89.8 89.8 0 0 0 319.87 353.44ZM298.23 333.10A96.0 96.0 0 0 1 296.98 330.43L302.64 327.90A89.8 89.8 0 0 0 303.81 330.40ZM291.40 314.23A96.0 96.0 0 0 1 290.74 311.36L296.80 310.05A89.8 89.8 0 0 0 297.42 312.74ZM288.82 297.70A96.0 96.0 0 0 1 288.67 294.75L294.86 294.52A89.8 89.8 0 0 0 295.01 297.28ZM298.40 248.94A96.0 96.0 0 0 1 299.74 246.31L305.22 249.21A89.8 89.8 0 0 0 303.97 251.67ZM299.93 245.95A96.0 96.0 0 0 1 301.36 243.37L306.74 246.46A89.8 89.8 0 0 0 305.40 248.88Z"/>
<path fill="#c6e3c6" d="M320.31 353.03A89.2 89.2 0 0 1 318.44 351.03L322.89 347.00A83.2 83.2 0 0 0 324.63 348.87ZM318.19 350.75A89.2 89.2 0 0 1 316.39 348.68L320.98 344.81A83.2 83.2 0 0 0 322.65 346.74Z"/>
<path fill="#f9c8c0" d="M325.06 348.45A82.6 82.6 0 0 1 323.33 346.60L327.78 342.57A76.6 76.6 0 0 0 329.39 344.30ZM303.84 273.86A82.6 82.6 0 0 1 304.41 271.39L310.24 272.82A76.6 76.6 0 0 0 309.71 275.12Z"/>
<path fill="#f5ebe8" d="M307.32 360.49A103.8 103.8 0 0 1 305.22 358.09L310.73 353.45A96.6 96.6 0 0 0 312.68 355.69Z"/>
<path fill="#f7b9af" d="M323.10 346.34A82.6 82.6 0 0 1 321.44 344.43L326.02 340.56A76.6 76.6 0 0 0 327.57 342.34Z"/>
<path fill="#f2eef6" d="M328.76 341.27A75.0 75.0 0 0 1 327.25 339.53L331.68 335.79A69.2 69.2 0 0 0 333.08 337.40Z"/>
<path fill="#e2e6ee" d="M304.95 357.75A103.8 103.8 0 0 1 302.94 355.28L308.60 350.83A96.6 96.6 0 0 0 310.47 353.14ZM320.87 209.27A103.8 103.8 0 0 1 323.41 207.35L327.66 213.17A96.6 96.6 0 0 0 325.29 214.95Z"/>
<path fill="#d2c8e2" d="M327.05 339.29A75.0 75.0 0 0 1 325.60 337.50L330.16 333.92A69.2 69.2 0 0 0 331.50 335.57Z"/>
<path fill="#fbf8f7" d="M302.67 354.93A103.8 103.8 0 0 1 300.75 352.39L306.57 348.14A96.6 96.6 0 0 0 308.35 350.51Z"/>
<path fill="#d1c7e2" d="M325.40 337.25A75.0 75.0 0 0 1 324.02 335.41L328.70 331.99A69.2 69.2 0 0 0 329.98 333.69Z"/>
<path fill="#cbd4e3" d="M300.50 352.04A103.8 103.8 0 0 1 298.67 349.42L304.63 345.39A96.6 96.6 0 0 0 306.33 347.82Z"/>
<path fill="#e9ebf1" d="M298.42 349.06A103.8 103.8 0 0 1 296.69 346.39L302.79 342.56A96.6 96.6 0 0 0 304.40 345.05ZM285.81 323.07A103.8 103.8 0 0 1 284.88 320.02L291.80 318.02A96.6 96.6 0 0 0 292.67 320.86Z"/>
<path fill="#d1d8e5" d="M294.60 342.91A103.8 103.8 0 0 1 293.05 340.12L299.40 336.73A96.6 96.6 0 0 0 300.84 339.32Z"/>
<path fill="#efebf5" d="M319.57 328.56A75.0 75.0 0 0 1 318.45 326.55L323.57 323.82A69.2 69.2 0 0 0 324.60 325.67ZM316.15 260.55A75.0 75.0 0 0 1 317.12 258.46L322.34 261.00A69.2 69.2 0 0 0 321.44 262.92Z"/>
<path fill="#e9d3ca" d="M292.85 339.74A103.8 103.8 0 0 1 291.40 336.90L297.87 333.73A96.6 96.6 0 0 0 299.21 336.37ZM287.13 255.49A103.8 103.8 0 0 1 288.28 252.52L294.96 255.20A96.6 96.6 0 0 0 293.90 257.97ZM366.79 188.94A103.8 103.8 0 0 1 369.94 188.44L370.96 195.57A96.6 96.6 0 0 0 368.02 196.03Z"/>
<path fill="#d4cae3" d="M318.31 326.27A75.0 75.0 0 0 1 317.26 324.22L322.47 321.67A69.2 69.2 0 0 0 323.43 323.56Z"/>
<path fill="#faf7f6" d="M289.69 333.22A103.8 103.8 0 0 1 288.44 330.29L295.11 327.57A96.6 96.6 0 0 0 296.27 330.31Z"/>
<path fill="#f8f7fb" d="M316.02 321.56A75.0 75.0 0 0 1 315.12 319.44L320.49 317.26A69.2 69.2 0 0 0 321.32 319.21Z"/>
<path fill="#e6e9f0" d="M288.28 329.88A103.8 103.8 0 0 1 287.13 326.91L293.90 324.43A96.6 96.6 0 0 0 294.96 327.20Z"/>
<path fill="#ded6e9" d="M315.00 319.15A75.0 75.0 0 0 1 314.18 317.00L319.62 315.00A69.2 69.2 0 0 0 320.38 316.99Z"/>
<path fill="#d5dce8" d="M286.99 326.50A103.8 103.8 0 0 1 285.95 323.48L292.79 321.24A96.6 96.6 0 0 0 293.76 324.05Z"/>
<path fill="#fde9e6" d="M306.92 319.29A82.6 82.6 0 0 1 306.10 316.89L311.80 315.02A76.6 76.6 0 0 0 312.56 317.25Z"/>
<path fill="#cbbfdd" d="M314.07 316.70A75.0 75.0 0 0 1 313.32 314.53L318.83 312.72A69.2 69.2 0 0 0 319.52 314.73Z"/>
<path fill="#cfe8cf" d="M299.71 318.59A89.2 89.2 0 0 1 298.91 315.97L304.67 314.30A83.2 83.2 0 0 0 305.42 316.74Z"/>
<path fill="#f9cac3" d="M305.99 316.56A82.6 82.6 0 0 1 305.25 314.13L311.01 312.47A76.6 76.6 0 0 0 311.70 314.72Z"/>
<path fill="#cd8886" d="M292.26 317.47A96.0 96.0 0 0 1 291.50 314.62L297.51 313.11A89.8 89.8 0 0 0 298.23 315.77ZM323.05 217.53A96.0 96.0 0 0 1 325.34 215.67L329.17 220.55A89.8 89.8 0 0 0 327.02 222.29ZM361.57 198.00A96.0 96.0 0 0 1 364.44 197.34L365.75 203.40A89.8 89.8 0 0 0 363.06 204.02Z"/>
<path fill="#e5cbc0" d="M283.02 312.57A103.8 103.8 0 0 1 282.41 309.44L289.50 308.17A96.6 96.6 0 0 0 290.07 311.09ZM345.92 194.88A103.8 103.8 0 0 1 348.89 193.73L351.37 200.50A96.6 96.6 0 0 0 348.60 201.56Z"/>
<path fill="#549a58" d="M297.31 309.56A89.2 89.2 0 0 1 296.79 306.87L302.69 305.82A83.2 83.2 0 0 0 303.18 308.33Z"/>
<path fill="#d85d4e" d="M303.77 308.20A82.6 82.6 0 0 1 303.29 305.71L309.19 304.66A76.6 76.6 0 0 0 309.64 306.97Z"/>
<path fill="#d3dae6" d="M282.34 309.01A103.8 103.8 0 0 1 281.84 305.86L288.97 304.84A96.6 96.6 0 0 0 289.43 307.78Z"/>
<path fill="#ccd5e3" d="M281.78 305.43A103.8 103.8 0 0 1 281.39 302.27L288.55 301.50A96.6 96.6 0 0 0 288.91 304.44Z"/>
<path fill="#dbe1ea" d="M281.04 298.22A103.8 103.8 0 0 1 280.87 295.04L288.07 294.77A96.6 96.6 0 0 0 288.22 297.74Z"/>
<path fill="#cec3e0" d="M309.77 296.28A75.0 75.0 0 0 1 309.65 293.97L315.45 293.76A69.2 69.2 0 0 0 315.56 295.88ZM327.25 242.87A75.0 75.0 0 0 1 328.76 241.13L333.08 245.00A69.2 69.2 0 0 0 331.68 246.61Z"/>
<path fill="#f0e0da" d="M280.86 294.61A103.8 103.8 0 0 1 280.80 291.42L288.00 291.40A96.6 96.6 0 0 0 288.05 294.37Z"/>
<path fill="#f7f0ee" d="M280.80 290.98A103.8 103.8 0 0 1 280.86 287.79L288.05 288.03A96.6 96.6 0 0 0 288.00 291.00Z"/>
<path fill="#d0e8d0" d="M295.40 291.01A89.2 89.2 0 0 1 295.45 288.27L301.44 288.47A83.2 83.2 0 0 0 301.40 291.03Z"/>
<path fill="#f9cbc3" d="M302.00 291.03A82.6 82.6 0 0 1 302.04 288.49L308.04 288.69A76.6 76.6 0 0 0 308.00 291.04ZM305.25 268.27A82.6 82.6 0 0 1 305.99 265.84L311.70 267.68A76.6 76.6 0 0 0 311.01 269.93Z"/>
<path fill="#f3e6e2" d="M280.87 287.36A103.8 103.8 0 0 1 281.04 284.18L288.22 284.66A96.6 96.6 0 0 0 288.07 287.63Z"/>
<path fill="#c88583" d="M288.67 287.65A96.0 96.0 0 0 1 288.82 284.70L295.01 285.12A89.8 89.8 0 0 0 294.86 287.88ZM290.09 274.33A96.0 96.0 0 0 1 290.66 271.44L296.72 272.71A89.8 89.8 0 0 0 296.20 275.42Z"/>
<path fill="#c4e3c4" d="M295.46 287.90A89.2 89.2 0 0 1 295.60 285.16L301.59 285.57A83.2 83.2 0 0 0 301.46 288.12Z"/>
<path fill="#fbd8d2" d="M302.06 288.14A82.6 82.6 0 0 1 302.19 285.61L308.18 286.02A76.6 76.6 0 0 0 308.05 288.37Z"/>
<path fill="#c4b6d8" d="M309.65 288.43A75.0 75.0 0 0 1 309.77 286.12L315.56 286.52A69.2 69.2 0 0 0 315.45 288.64ZM310.35 280.61A75.0 75.0 0 0 1 310.71 278.33L316.43 279.33A69.2 69.2 0 0 0 316.09 281.43ZM313.32 267.87A75.0 75.0 0 0 1 314.07 265.70L319.52 267.67A69.2 69.2 0 0 0 318.83 269.68Z"/>
<path fill="#ecd9d2" d="M281.07 283.74A103.8 103.8 0 0 1 281.35 280.57L288.51 281.30A96.6 96.6 0 0 0 288.25 284.26ZM288.44 252.11A103.8 103.8 0 0 1 289.69 249.18L296.27 252.09A96.6 96.6 0 0 0 295.11 254.83Z"/>
<path fill="#d7ecd7" d="M295.63 284.79A89.2 89.2 0 0 1 295.87 282.06L301.84 282.68A83.2 83.2 0 0 0 301.62 285.22ZM298.91 266.43A89.2 89.2 0 0 1 299.71 263.81L305.42 265.66A83.2 83.2 0 0 0 304.67 268.10Z"/>
<path fill="#facec7" d="M302.21 285.27A82.6 82.6 0 0 1 302.43 282.74L308.40 283.35A76.6 76.6 0 0 0 308.20 285.70ZM303.29 276.69A82.6 82.6 0 0 1 303.77 274.20L309.64 275.43A76.6 76.6 0 0 0 309.19 277.74ZM308.08 260.10A82.6 82.6 0 0 1 309.07 257.76L314.56 260.19A76.6 76.6 0 0 0 313.64 262.36Z"/>
<path fill="#e4c9bd" d="M281.39 280.13A103.8 103.8 0 0 1 281.78 276.97L288.91 277.96A96.6 96.6 0 0 0 288.55 280.90Z"/>
<path fill="#bd7d7b" d="M289.15 280.97A96.0 96.0 0 0 1 289.51 278.04L295.65 278.89A89.8 89.8 0 0 0 295.31 281.63Z"/>
<path fill="#f9c5bd" d="M302.47 282.39A82.6 82.6 0 0 1 302.78 279.88L308.72 280.70A76.6 76.6 0 0 0 308.44 283.03Z"/>
<path fill="#e0bfb1" d="M281.84 276.54A103.8 103.8 0 0 1 282.34 273.39L289.43 274.62A96.6 96.6 0 0 0 288.97 277.56Z"/>
<path fill="#d3ead3" d="M296.29 278.60A89.2 89.2 0 0 1 296.72 275.89L302.63 276.92A83.2 83.2 0 0 0 302.23 279.45ZM298.10 269.44A89.2 89.2 0 0 1 298.80 266.79L304.58 268.43A83.2 83.2 0 0 0 303.91 270.90Z"/>
<path fill="#fbd9d3" d="M302.83 279.53A82.6 82.6 0 0 1 303.23 277.03L309.14 278.06A76.6 76.6 0 0 0 308.77 280.38Z"/>
<path fill="#dcb9a9" d="M282.41 272.96A103.8 103.8 0 0 1 283.02 269.83L290.07 271.31A96.6 96.6 0 0 0 289.50 274.23ZM283.94 265.88A103.8 103.8 0 0 1 284.76 262.80L291.69 264.77A96.6 96.6 0 0 0 290.92 267.63Z"/>
<path fill="#cde7cd" d="M296.79 275.53A89.2 89.2 0 0 1 297.31 272.84L303.18 274.07A83.2 83.2 0 0 0 302.69 276.58Z"/>
<path fill="#d9b2a1" d="M283.11 269.41A103.8 103.8 0 0 1 283.83 266.30L290.82 268.03A96.6 96.6 0 0 0 290.15 270.92Z"/>
<path fill="#fad1ca" d="M304.50 271.05A82.6 82.6 0 0 1 305.15 268.60L310.92 270.24A76.6 76.6 0 0 0 310.31 272.51Z"/>
<path fill="#e1b5b4" d="M292.37 264.55A96.0 96.0 0 0 1 293.24 261.73L299.14 263.63A89.8 89.8 0 0 0 298.33 266.27ZM295.67 255.05A96.0 96.0 0 0 1 296.82 252.34L302.49 254.85A89.8 89.8 0 0 0 301.41 257.39Z"/>
<path fill="#5a3680" d="M312.55 270.38A75.0 75.0 0 0 1 313.22 268.17L318.74 269.95A69.2 69.2 0 0 0 318.12 271.99Z"/>
<path fill="#b2603c" d="M285.95 258.92A103.8 103.8 0 0 1 286.99 255.90L293.76 258.35A96.6 96.6 0 0 0 292.79 261.16Z"/>
<path fill="#d8ecd8" d="M299.82 263.46A89.2 89.2 0 0 1 300.72 260.87L306.36 262.91A83.2 83.2 0 0 0 305.53 265.32Z"/>
<path fill="#facfc7" d="M306.10 265.51A82.6 82.6 0 0 1 306.92 263.11L312.56 265.15A76.6 76.6 0 0 0 311.80 267.38Z"/>
<path fill="#d08b89" d="M294.46 258.18A96.0 96.0 0 0 1 295.52 255.42L301.27 257.73A89.8 89.8 0 0 0 300.28 260.31ZM378.10 195.42A96.0 96.0 0 0 1 381.05 195.27L381.28 201.46A89.8 89.8 0 0 0 378.52 201.61Z"/>
<path fill="#c4e2c4" d="M300.84 260.52A89.2 89.2 0 0 1 301.83 257.96L307.39 260.19A83.2 83.2 0 0 0 306.48 262.58Z"/>
<path fill="#fce4e0" d="M307.04 262.79A82.6 82.6 0 0 1 307.95 260.42L313.52 262.65A76.6 76.6 0 0 0 312.67 264.85Z"/>
<path fill="#e1e5ed" d="M291.40 245.50A103.8 103.8 0 0 1 292.85 242.66L299.21 246.03A96.6 96.6 0 0 0 297.87 248.67Z"/>
<path fill="#f2eff6" d="M317.26 258.18A75.0 75.0 0 0 1 318.31 256.13L323.43 258.84A69.2 69.2 0 0 0 322.47 260.73Z"/>
<path fill="#dadfea" d="M293.05 242.28A103.8 103.8 0 0 1 294.60 239.49L300.84 243.08A96.6 96.6 0 0 0 299.40 245.67ZM312.65 216.38A103.8 103.8 0 0 1 314.98 214.21L319.81 219.55A96.6 96.6 0 0 0 317.64 221.57Z"/>
<path fill="#dfefdf" d="M305.93 249.16A89.2 89.2 0 0 1 307.26 246.76L312.46 249.75A83.2 83.2 0 0 0 311.22 251.99Z"/>
<path fill="#f1eef6" d="M318.45 255.85A75.0 75.0 0 0 1 319.57 253.84L324.60 256.73A69.2 69.2 0 0 0 323.57 258.58ZM321.08 251.32A75.0 75.0 0 0 1 322.33 249.39L327.15 252.62A69.2 69.2 0 0 0 325.99 254.41Z"/>
<path fill="#f4faf4" d="M307.44 246.44A89.2 89.2 0 0 1 308.86 244.09L313.95 247.26A83.2 83.2 0 0 0 312.63 249.45Z"/>
<path fill="#fef4f3" d="M313.15 249.75A82.6 82.6 0 0 1 314.46 247.58L319.55 250.74A76.6 76.6 0 0 0 318.34 252.76Z"/>
<path fill="#f5f2f8" d="M319.73 253.56A75.0 75.0 0 0 1 320.91 251.59L325.84 254.65A69.2 69.2 0 0 0 324.74 256.47Z"/>
<path fill="#f7fbf7" d="M309.05 243.77A89.2 89.2 0 0 1 310.55 241.47L315.53 244.82A83.2 83.2 0 0 0 314.13 246.96Z"/>
<path fill="#f9f4f3" d="M298.67 232.98A103.8 103.8 0 0 1 300.50 230.36L306.33 234.58A96.6 96.6 0 0 0 304.63 237.01Z"/>
<path fill="#c98684" d="M305.12 237.35A96.0 96.0 0 0 1 306.82 234.94L311.84 238.57A89.8 89.8 0 0 0 310.26 240.83Z"/>
<path fill="#aed8ae" d="M310.75 241.17A89.2 89.2 0 0 1 312.33 238.92L317.19 242.44A83.2 83.2 0 0 0 315.72 244.53Z"/>
<path fill="#f6aea2" d="M316.22 244.87A82.6 82.6 0 0 1 317.67 242.79L322.54 246.31A76.6 76.6 0 0 0 321.19 248.23Z"/>
<path fill="#e0d9eb" d="M322.51 249.13A75.0 75.0 0 0 1 323.83 247.24L328.53 250.64A69.2 69.2 0 0 0 327.31 252.38Z"/>
<path fill="#ead4cb" d="M300.75 230.01A103.8 103.8 0 0 1 302.67 227.47L308.35 231.89A96.6 96.6 0 0 0 306.57 234.26Z"/>
<path fill="#badeba" d="M312.55 238.62A89.2 89.2 0 0 1 314.19 236.43L318.93 240.11A83.2 83.2 0 0 0 317.39 242.16Z"/>
<path fill="#f6afa3" d="M317.88 242.51A82.6 82.6 0 0 1 319.40 240.48L324.14 244.17A76.6 76.6 0 0 0 322.72 246.05Z"/>
<path fill="#ecd8d0" d="M302.94 227.12A103.8 103.8 0 0 1 304.95 224.65L310.47 229.26A96.6 96.6 0 0 0 308.60 231.57ZM356.20 191.36A103.8 103.8 0 0 1 359.28 190.54L361.03 197.52A96.6 96.6 0 0 0 358.17 198.29Z"/>
<path fill="#d18b89" d="M309.07 231.94A96.0 96.0 0 0 1 310.93 229.65L315.69 233.62A89.8 89.8 0 0 0 313.95 235.77Z"/>
<path fill="#76bc76" d="M314.42 236.14A89.2 89.2 0 0 1 316.15 234.01L320.75 237.85A83.2 83.2 0 0 0 319.14 239.84Z"/>
<path fill="#ee7662" d="M319.62 240.21A82.6 82.6 0 0 1 321.21 238.24L325.82 242.09A76.6 76.6 0 0 0 324.34 243.91Z"/>
<path fill="#dfd8ea" d="M325.60 244.90A75.0 75.0 0 0 1 327.05 243.11L331.50 246.83A69.2 69.2 0 0 0 330.16 248.48Z"/>
<path fill="#e4e8ef" d="M305.22 224.31A103.8 103.8 0 0 1 307.32 221.91L312.68 226.71A96.6 96.6 0 0 0 310.73 228.95Z"/>
<path fill="#ce8987" d="M311.19 229.34A96.0 96.0 0 0 1 313.12 227.11L317.74 231.25A89.8 89.8 0 0 0 315.93 233.33ZM331.08 211.50A96.0 96.0 0 0 1 333.56 209.89L336.85 215.15A89.8 89.8 0 0 0 334.54 216.65ZM351.96 200.92A96.0 96.0 0 0 1 354.74 199.96L356.67 205.85A89.8 89.8 0 0 0 354.06 206.75Z"/>
<path fill="#5da360" d="M316.39 233.72A89.2 89.2 0 0 1 318.19 231.65L322.65 235.66A83.2 83.2 0 0 0 320.98 237.59Z"/>
<path fill="#d65b4d" d="M321.44 237.97A82.6 82.6 0 0 1 323.10 236.06L327.57 240.06A76.6 76.6 0 0 0 326.02 241.84Z"/>
<path fill="#6ab06c" d="M318.44 231.37A89.2 89.2 0 0 1 320.31 229.37L324.63 233.53A83.2 83.2 0 0 0 322.89 235.40ZM322.77 226.91A89.2 89.2 0 0 1 324.77 225.04L328.80 229.49A83.2 83.2 0 0 0 326.93 231.23Z"/>
<path fill="#ea725f" d="M323.33 235.80A82.6 82.6 0 0 1 325.06 233.95L329.39 238.10A76.6 76.6 0 0 0 327.78 239.83Z"/>
<path fill="#f9f7fb" d="M328.97 240.90A75.0 75.0 0 0 1 330.54 239.21L334.72 243.23A69.2 69.2 0 0 0 333.27 244.79Z"/>
<path fill="#d59695" d="M315.68 224.37A96.0 96.0 0 0 1 317.77 222.28L322.08 226.73A89.8 89.8 0 0 0 320.13 228.68Z"/>
<path fill="#539957" d="M320.56 229.10A89.2 89.2 0 0 1 322.50 227.16L326.68 231.47A83.2 83.2 0 0 0 324.87 233.28ZM345.67 210.95A89.2 89.2 0 0 1 348.15 209.79L350.60 215.26A83.2 83.2 0 0 0 348.28 216.34Z"/>
<path fill="#be4138" d="M325.30 233.70A82.6 82.6 0 0 1 327.10 231.90L331.27 236.21A76.6 76.6 0 0 0 329.61 237.87Z"/>
<path fill="#f07a66" d="M327.35 231.66A82.6 82.6 0 0 1 329.20 229.93L333.23 234.38A76.6 76.6 0 0 0 331.50 235.99Z"/>
<path fill="#478d4d" d="M325.05 224.79A89.2 89.2 0 0 1 327.12 222.99L330.99 227.58A83.2 83.2 0 0 0 329.06 229.25Z"/>
<path fill="#bb3e35" d="M329.46 229.70A82.6 82.6 0 0 1 331.37 228.04L335.24 232.62A76.6 76.6 0 0 0 333.46 234.17Z"/>
<path fill="#d0d8e5" d="M318.05 211.55A103.8 103.8 0 0 1 320.52 209.54L324.97 215.20A96.6 96.6 0 0 0 322.66 217.07Z"/>
<path fill="#5ea461" d="M327.41 222.75A89.2 89.2 0 0 1 329.54 221.02L333.24 225.74A83.2 83.2 0 0 0 331.25 227.35ZM332.32 218.93A89.2 89.2 0 0 1 334.57 217.35L337.93 222.32A83.2 83.2 0 0 0 335.84 223.79ZM378.56 202.20A89.2 89.2 0 0 1 381.30 202.06L381.52 208.06A83.2 83.2 0 0 0 378.97 208.19Z"/>
<path fill="#da5f50" d="M331.64 227.81A82.6 82.6 0 0 1 333.61 226.22L337.31 230.94A76.6 76.6 0 0 0 335.49 232.42Z"/>
<path fill="#438949" d="M329.83 220.79A89.2 89.2 0 0 1 332.02 219.15L335.56 223.99A83.2 83.2 0 0 0 333.51 225.53ZM337.49 215.46A89.2 89.2 0 0 1 339.84 214.04L342.85 219.23A83.2 83.2 0 0 0 340.66 220.55ZM342.89 212.35A89.2 89.2 0 0 1 345.33 211.11L347.97 216.50A83.2 83.2 0 0 0 345.69 217.66Z"/>
<path fill="#b0312b" d="M333.88 226.00A82.6 82.6 0 0 1 335.91 224.48L339.45 229.32A76.6 76.6 0 0 0 337.57 230.74Z"/>
<path fill="#d8b09f" d="M323.76 207.10A103.8 103.8 0 0 1 326.38 205.27L330.41 211.23A96.6 96.6 0 0 0 327.98 212.93Z"/>
<path fill="#d4594b" d="M336.19 224.27A82.6 82.6 0 0 1 338.27 222.82L341.63 227.79A76.6 76.6 0 0 0 339.71 229.14Z"/>
<path fill="#f4f1f8" d="M340.64 230.43A75.0 75.0 0 0 1 342.53 229.11L345.78 233.91A69.2 69.2 0 0 0 344.04 235.13ZM366.61 218.39A75.0 75.0 0 0 1 368.85 217.87L370.07 223.54A69.2 69.2 0 0 0 368.00 224.02Z"/>
<path fill="#f8f3f1" d="M326.74 205.02A103.8 103.8 0 0 1 329.41 203.29L333.24 209.39A96.6 96.6 0 0 0 330.75 211.00Z"/>
<path fill="#82c382" d="M334.87 217.15A89.2 89.2 0 0 1 337.17 215.65L340.36 220.73A83.2 83.2 0 0 0 338.22 222.13Z"/>
<path fill="#f39586" d="M338.55 222.62A82.6 82.6 0 0 1 340.68 221.24L343.87 226.32A76.6 76.6 0 0 0 341.90 227.61Z"/>
<path fill="#ebedf2" d="M329.78 203.06A103.8 103.8 0 0 1 332.51 201.42L336.12 207.64A96.6 96.6 0 0 0 333.58 209.17Z"/>
<path fill="#b63831" d="M340.98 221.06A82.6 82.6 0 0 1 343.15 219.75L346.16 224.94A76.6 76.6 0 0 0 344.14 226.15Z"/>
<path fill="#f7efec" d="M332.89 201.20A103.8 103.8 0 0 1 335.68 199.65L339.07 206.00A96.6 96.6 0 0 0 336.48 207.44Z"/>
<path fill="#589e5b" d="M340.16 213.86A89.2 89.2 0 0 1 342.56 212.53L345.39 217.82A83.2 83.2 0 0 0 343.15 219.06Z"/>
<path fill="#de6454" d="M343.45 219.58A82.6 82.6 0 0 1 345.67 218.35L348.50 223.64A76.6 76.6 0 0 0 346.44 224.78Z"/>
<path fill="#efdfd9" d="M336.06 199.45A103.8 103.8 0 0 1 338.90 198.00L342.07 204.47A96.6 96.6 0 0 0 339.43 205.81Z"/>
<path fill="#c6493e" d="M345.97 218.19A82.6 82.6 0 0 1 348.24 217.04L350.88 222.42A76.6 76.6 0 0 0 348.78 223.49ZM356.51 213.52A82.6 82.6 0 0 1 358.91 212.70L360.78 218.40A76.6 76.6 0 0 0 358.55 219.16Z"/>
<path fill="#f2eff7" d="M349.53 224.91A75.0 75.0 0 0 1 351.58 223.86L354.13 229.07A69.2 69.2 0 0 0 352.24 230.03ZM351.86 223.72A75.0 75.0 0 0 1 353.95 222.75L356.32 228.04A69.2 69.2 0 0 0 354.40 228.94Z"/>
<path fill="#c1443a" d="M348.55 216.88A82.6 82.6 0 0 1 350.85 215.81L353.30 221.29A76.6 76.6 0 0 0 351.17 222.28Z"/>
<path fill="#faf5f4" d="M342.58 196.29A103.8 103.8 0 0 1 345.51 195.04L348.23 201.71A96.6 96.6 0 0 0 345.49 202.87Z"/>
<path fill="#478d4c" d="M348.49 209.64A89.2 89.2 0 0 1 351.01 208.57L353.27 214.12A83.2 83.2 0 0 0 350.92 215.12Z"/>
<path fill="#be4037" d="M351.16 215.67A82.6 82.6 0 0 1 353.50 214.68L355.76 220.24A76.6 76.6 0 0 0 353.59 221.16Z"/>
<path fill="#488e4d" d="M351.36 208.43A89.2 89.2 0 0 1 353.92 207.44L355.98 213.08A83.2 83.2 0 0 0 353.59 213.99Z"/>
<path fill="#e4e7ef" d="M349.30 193.59A103.8 103.8 0 0 1 352.32 192.55L354.56 199.39A96.6 96.6 0 0 0 351.75 200.36Z"/>
<path fill="#448a4a" d="M354.27 207.32A89.2 89.2 0 0 1 356.86 206.42L358.72 212.13A83.2 83.2 0 0 0 356.31 212.96Z"/>
<path fill="#f2e5e1" d="M352.73 192.41A103.8 103.8 0 0 1 355.78 191.48L357.78 198.40A96.6 96.6 0 0 0 354.94 199.27Z"/>
<path fill="#77bd77" d="M357.21 206.31A89.2 89.2 0 0 1 359.83 205.51L361.50 211.27A83.2 83.2 0 0 0 359.06 212.02Z"/>
<path fill="#e36a59" d="M359.24 212.59A82.6 82.6 0 0 1 361.67 211.85L363.33 217.61A76.6 76.6 0 0 0 361.08 218.30Z"/>
<path fill="#d49392" d="M358.33 198.86A96.0 96.0 0 0 1 361.18 198.10L362.69 204.11A89.8 89.8 0 0 0 360.03 204.83Z"/>
<path fill="#408646" d="M360.19 205.40A89.2 89.2 0 0 1 362.84 204.70L364.30 210.51A83.2 83.2 0 0 0 361.83 211.18Z"/>
<path fill="#a72623" d="M362.00 211.75A82.6 82.6 0 0 1 364.45 211.10L365.91 216.91A76.6 76.6 0 0 0 363.64 217.52Z"/>
<path fill="#4a904f" d="M363.20 204.60A89.2 89.2 0 0 1 365.87 203.99L367.13 209.85A83.2 83.2 0 0 0 364.64 210.43Z"/>
<path fill="#bb3d35" d="M364.79 211.01A82.6 82.6 0 0 1 367.26 210.44L368.52 216.31A76.6 76.6 0 0 0 366.22 216.84Z"/>
<path fill="#edeef3" d="M363.23 189.62A103.8 103.8 0 0 1 366.36 189.01L367.63 196.10A96.6 96.6 0 0 0 364.71 196.67Z"/>
<path fill="#397f40" d="M366.24 203.91A89.2 89.2 0 0 1 368.93 203.39L369.98 209.29A83.2 83.2 0 0 0 367.47 209.78Z"/>
<path fill="#961414" d="M367.60 210.37A82.6 82.6 0 0 1 370.09 209.89L371.14 215.79A76.6 76.6 0 0 0 368.83 216.24Z"/>
<path fill="#f3f1f8" d="M369.16 217.81A75.0 75.0 0 0 1 371.42 217.37L372.44 223.08A69.2 69.2 0 0 0 370.35 223.48Z"/>
<path fill="#5ca25f" d="M369.29 203.32A89.2 89.2 0 0 1 372.00 202.89L372.85 208.83A83.2 83.2 0 0 0 370.32 209.23Z"/>
<path fill="#e56c5a" d="M370.43 209.83A82.6 82.6 0 0 1 372.93 209.43L373.78 215.37A76.6 76.6 0 0 0 371.46 215.74Z"/>
<path fill="#f1e3dd" d="M370.37 188.38A103.8 103.8 0 0 1 373.53 187.99L374.30 195.15A96.6 96.6 0 0 0 371.36 195.51Z"/>
<path fill="#3b8142" d="M372.37 202.84A89.2 89.2 0 0 1 375.09 202.51L375.73 208.47A83.2 83.2 0 0 0 373.19 208.79Z"/>
<path fill="#ca4e43" d="M373.28 209.38A82.6 82.6 0 0 1 375.79 209.07L376.43 215.04A76.6 76.6 0 0 0 374.10 215.32Z"/>
<path fill="#eeddd6" d="M373.97 187.95A103.8 103.8 0 0 1 377.14 187.67L377.66 194.85A96.6 96.6 0 0 0 374.70 195.11Z"/>
<path fill="#5fa562" d="M375.46 202.47A89.2 89.2 0 0 1 378.19 202.23L378.62 208.22A83.2 83.2 0 0 0 376.08 208.44Z"/>
<path fill="#f07864" d="M376.14 209.03A82.6 82.6 0 0 1 378.67 208.81L379.10 214.80A76.6 76.6 0 0 0 376.75 215.00Z"/>
<path fill="#f5f5f7" d="M377.58 187.64A103.8 103.8 0 0 1 380.76 187.47L381.03 194.67A96.6 96.6 0 0 0 378.06 194.82Z"/>
<path fill="#d15649" d="M379.01 208.79A82.6 82.6 0 0 1 381.54 208.66L381.77 214.65A76.6 76.6 0 0 0 379.42 214.78Z"/>
<path fill="#eeeff3" d="M381.19 187.46A103.8 103.8 0 0 1 384.38 187.40L384.40 194.60A96.6 96.6 0 0 0 381.43 194.65Z"/>
<path fill="#569c5a" d="M381.67 202.05A89.2 89.2 0 0 1 384.41 202.00L384.43 208.00A83.2 83.2 0 0 0 381.87 208.04Z"/>
<path fill="#cf5347" d="M381.89 208.64A82.6 82.6 0 0 1 384.43 208.60L384.44 214.60A76.6 76.6 0 0 0 382.09 214.64Z"/>
<g font-size="4" fill="#363636" stroke="#363636" stroke-width="0.12">
<text transform="translate(484.45 256.82) rotate(-19.00)" dy="1.4">B_cell</text>
<text transform="translate(485.59 260.33) rotate(-17.00)" dy="1.4">T_cell_CD4</text>
<text transform="translate(486.60 263.87) rotate(-15.00)" dy="1.4">T_cell_CD8</text>
<text transform="translate(487.49 267.45) rotate(-13.00)" dy="1.4">Neutrophil</text>
<text transform="translate(488.26 271.05) rotate(-11.00)" dy="1.4">Macrophage</text>
<text transform="translate(488.90 274.68) rotate(-9.00)" dy="1.4">DC</text>
<text transform="translate(489.41 278.33) rotate(-7.00)" dy="1.4">B cells naive</text>
<text transform="translate(489.80 282.00) rotate(-5.00)" dy="1.4">B cells memory</text>
<text transform="translate(490.06 285.67) rotate(-3.00)" dy="1.4">Plasma cells</text>
<text transform="translate(490.18 289.36) rotate(-1.00)" dy="1.4">T cells CD8</text>
<text transform="translate(490.18 293.04) rotate(1.00)" dy="1.4">T cells CD4 naive</text>
<text transform="translate(490.06 296.73) rotate(3.00)" dy="1.4">T cells CD4 memory resting</text>
<text transform="translate(489.80 300.40) rotate(5.00)" dy="1.4">T cells CD4 memory activated</text>
<text transform="translate(489.41 304.07) rotate(7.00)" dy="1.4">T cells follicular helper</text>
<text transform="translate(488.90 307.72) rotate(9.00)" dy="1.4">T cells regulatory (Tregs)</text>
<text transform="translate(488.26 311.35) rotate(11.00)" dy="1.4">T cells gamma delta</text>
<text transform="translate(487.49 314.95) rotate(13.00)" dy="1.4">NK cells resting</text>
<text transform="translate(486.60 318.53) rotate(15.00)" dy="1.4">NK cells activated</text>
<text transform="translate(485.59 322.07) rotate(17.00)" dy="1.4">Monocytes</text>
<text transform="translate(484.45 325.58) rotate(19.00)" dy="1.4">Macrophages M0</text>
<text transform="translate(483.19 329.04) rotate(21.00)" dy="1.4">Macrophages M1</text>
<text transform="translate(481.81 332.46) rotate(23.00)" dy="1.4">Macrophages M2</text>
<text transform="translate(480.31 335.83) rotate(25.00)" dy="1.4">Dendritic cells resting</text>
<text transform="translate(478.69 339.14) rotate(27.00)" dy="1.4">Dendritic cells activated</text>
<text transform="translate(476.96 342.40) rotate(29.00)" dy="1.4">Mast cells resting</text>
<text transform="translate(475.12 345.59) rotate(31.00)" dy="1.4">Mast cells activated</text>
<text transform="translate(473.16 348.71) rotate(33.00)" dy="1.4">Eosinophils</text>
<text transform="translate(471.10 351.77) rotate(35.00)" dy="1.4">Neutrophils</text>
<text transform="translate(468.94 354.75) rotate(37.00)" dy="1.4">B_cells</text>
<text transform="translate(466.67 357.66) rotate(39.00)" dy="1.4">Macrophages_M1</text>
<text transform="translate(464.30 360.48) rotate(41.00)" dy="1.4">Macrophages_M2</text>
<text transform="translate(461.83 363.22) rotate(43.00)" dy="1.4">Monocytes</text>
<text transform="translate(459.27 365.87) rotate(45.00)" dy="1.4">Neutrophils</text>
<text transform="translate(456.62 368.43) rotate(47.00)" dy="1.4">NK_cells</text>
<text transform="translate(453.88 370.90) rotate(49.00)" dy="1.4">T_cells_CD4</text>
<text transform="translate(451.06 373.27) rotate(51.00)" dy="1.4">T_cells_CD8</text>
<text transform="translate(448.15 375.54) rotate(53.00)" dy="1.4">Tregs</text>
<text transform="translate(445.17 377.70) rotate(55.00)" dy="1.4">Dendritic_cells</text>
<text transform="translate(442.11 379.76) rotate(57.00)" dy="1.4">aDC</text>
<text transform="translate(438.99 381.72) rotate(59.00)" dy="1.4">Adipocytes</text>
<text transform="translate(435.80 383.56) rotate(61.00)" dy="1.4">Astrocytes</text>
<text transform="translate(432.54 385.29) rotate(63.00)" dy="1.4">B-cells</text>
<text transform="translate(429.23 386.91) rotate(65.00)" dy="1.4">Basophils</text>
<text transform="translate(425.86 388.41) rotate(67.00)" dy="1.4">CD4+_memory_T-cells</text>
<text transform="translate(422.44 389.79) rotate(69.00)" dy="1.4">CD4+_naive_T-cells</text>
<text transform="translate(418.98 391.05) rotate(71.00)" dy="1.4">CD4+_T-cells</text>
<text transform="translate(415.47 392.19) rotate(73.00)" dy="1.4">CD4+_Tcm</text>
<text transform="translate(411.93 393.20) rotate(75.00)" dy="1.4">CD4+_Tem</text>
<text transform="translate(408.35 394.09) rotate(77.00)" dy="1.4">CD8+_naive_T-cells</text>
<text transform="translate(404.75 394.86) rotate(79.00)" dy="1.4">CD8+_T-cells</text>
<text transform="translate(401.12 395.50) rotate(81.00)" dy="1.4">CD8+_Tcm</text>
<text transform="translate(397.47 396.01) rotate(83.00)" dy="1.4">CD8+_Tem</text>
<text transform="translate(393.80 396.40) rotate(85.00)" dy="1.4">cDC</text>
<text transform="translate(390.13 396.66) rotate(87.00)" dy="1.4">Chondrocytes</text>
<text transform="translate(386.44 396.78) rotate(89.00)" dy="1.4">Class-switched_memory_B-cells</text>
<text transform="translate(382.76 396.78) rotate(271.00)" dy="1.4" text-anchor="end">CLP</text>
<text transform="translate(379.07 396.66) rotate(273.00)" dy="1.4" text-anchor="end">CMP</text>
<text transform="translate(375.40 396.40) rotate(275.00)" dy="1.4" text-anchor="end">DC</text>
<text transform="translate(371.73 396.01) rotate(277.00)" dy="1.4" text-anchor="end">Endothelial_cells</text>
<text transform="translate(368.08 395.50) rotate(279.00)" dy="1.4" text-anchor="end">Eosinophils</text>
<text transform="translate(364.45 394.86) rotate(281.00)" dy="1.4" text-anchor="end">Epithelial_cells</text>
<text transform="translate(360.85 394.09) rotate(283.00)" dy="1.4" text-anchor="end">Erythrocytes</text>
<text transform="translate(357.27 393.20) rotate(285.00)" dy="1.4" text-anchor="end">Fibroblasts</text>
<text transform="translate(353.73 392.19) rotate(287.00)" dy="1.4" text-anchor="end">GMP</text>
<text transform="translate(350.22 391.05) rotate(289.00)" dy="1.4" text-anchor="end">HSC</text>
<text transform="translate(346.76 389.79) rotate(291.00)" dy="1.4" text-anchor="end">iDC</text>
<text transform="translate(343.34 388.41) rotate(293.00)" dy="1.4" text-anchor="end">Keratinocytes</text>
<text transform="translate(339.97 386.91) rotate(295.00)" dy="1.4" text-anchor="end">ly_Endothelial_cells</text>
<text transform="translate(336.66 385.29) rotate(297.00)" dy="1.4" text-anchor="end">Macrophages</text>
<text transform="translate(333.40 383.56) rotate(299.00)" dy="1.4" text-anchor="end">Macrophages_M1</text>
<text transform="translate(330.21 381.72) rotate(301.00)" dy="1.4" text-anchor="end">Macrophages_M2</text>
<text transform="translate(327.09 379.76) rotate(303.00)" dy="1.4" text-anchor="end">Mast_cells</text>
<text transform="translate(324.03 377.70) rotate(305.00)" dy="1.4" text-anchor="end">Megakaryocytes</text>
<text transform="translate(321.05 375.54) rotate(307.00)" dy="1.4" text-anchor="end">Melanocytes</text>
<text transform="translate(318.14 373.27) rotate(309.00)" dy="1.4" text-anchor="end">Memory_B-cells</text>
<text transform="translate(315.32 370.90) rotate(311.00)" dy="1.4" text-anchor="end">MEP</text>
<text transform="translate(312.58 368.43) rotate(313.00)" dy="1.4" text-anchor="end">Mesangial_cells</text>
<text transform="translate(309.93 365.87) rotate(315.00)" dy="1.4" text-anchor="end">Monocytes</text>
<text transform="translate(307.37 363.22) rotate(317.00)" dy="1.4" text-anchor="end">MPP</text>
<text transform="translate(304.90 360.48) rotate(319.00)" dy="1.4" text-anchor="end">MSC</text>
<text transform="translate(302.53 357.66) rotate(321.00)" dy="1.4" text-anchor="end">mv_Endothelial_cells</text>
<text transform="translate(300.26 354.75) rotate(323.00)" dy="1.4" text-anchor="end">Myocytes</text>
<text transform="translate(298.10 351.77) rotate(325.00)" dy="1.4" text-anchor="end">naive_B-cells</text>
<text transform="translate(296.04 348.71) rotate(327.00)" dy="1.4" text-anchor="end">Neutrophils</text>
<text transform="translate(294.08 345.59) rotate(329.00)" dy="1.4" text-anchor="end">NK_cells</text>
<text transform="translate(292.24 342.40) rotate(331.00)" dy="1.4" text-anchor="end">NKT</text>
<text transform="translate(290.51 339.14) rotate(333.00)" dy="1.4" text-anchor="end">Osteoblast</text>
<text transform="translate(288.89 335.83) rotate(335.00)" dy="1.4" text-anchor="end">pDC</text>
<text transform="translate(287.39 332.46) rotate(337.00)" dy="1.4" text-anchor="end">Pericytes</text>
<text transform="translate(286.01 329.04) rotate(339.00)" dy="1.4" text-anchor="end">Plasma_cells</text>
<text transform="translate(284.75 325.58) rotate(341.00)" dy="1.4" text-anchor="end">Platelets</text>
<text transform="translate(283.61 322.07) rotate(343.00)" dy="1.4" text-anchor="end">Preadipocytes</text>
<text transform="translate(282.60 318.53) rotate(345.00)" dy="1.4" text-anchor="end">pro_B-cells</text>
<text transform="translate(281.71 314.95) rotate(347.00)" dy="1.4" text-anchor="end">Sebocytes</text>
<text transform="translate(280.94 311.35) rotate(349.00)" dy="1.4" text-anchor="end">Skeletal_muscle</text>
<text transform="translate(280.30 307.72) rotate(351.00)" dy="1.4" text-anchor="end">Smooth_muscle</text>
<text transform="translate(279.79 304.07) rotate(353.00)" dy="1.4" text-anchor="end">Tgd_cells</text>
<text transform="translate(279.40 300.40) rotate(355.00)" dy="1.4" text-anchor="end">Th1_cells</text>
<text transform="translate(279.14 296.73) rotate(357.00)" dy="1.4" text-anchor="end">Th2_cells</text>
<text transform="translate(279.02 293.04) rotate(359.00)" dy="1.4" text-anchor="end">Tregs</text>
<text transform="translate(279.02 289.36) rotate(361.00)" dy="1.4" text-anchor="end">T_cells</text>
<text transform="translate(279.14 285.67) rotate(363.00)" dy="1.4" text-anchor="end">CD8_T_cells</text>
<text transform="translate(279.40 282.00) rotate(365.00)" dy="1.4" text-anchor="end">Cytotoxic_lymphocytes</text>
<text transform="translate(279.79 278.33) rotate(367.00)" dy="1.4" text-anchor="end">B_lineage</text>
<text transform="translate(280.30 274.68) rotate(369.00)" dy="1.4" text-anchor="end">NK_cells</text>
<text transform="translate(280.94 271.05) rotate(371.00)" dy="1.4" text-anchor="end">Monocytic_lineage</text>
<text transform="translate(281.71 267.45) rotate(373.00)" dy="1.4" text-anchor="end">Myeloid_dendritic_cells</text>
<text transform="translate(282.60 263.87) rotate(375.00)" dy="1.4" text-anchor="end">Neutrophils</text>
<text transform="translate(283.61 260.33) rotate(377.00)" dy="1.4" text-anchor="end">Endothelial_cells</text>
<text transform="translate(284.75 256.82) rotate(379.00)" dy="1.4" text-anchor="end">Fibroblasts</text>
<text transform="translate(286.01 253.36) rotate(381.00)" dy="1.4" text-anchor="end">Bcells</text>
<text transform="translate(287.39 249.94) rotate(383.00)" dy="1.4" text-anchor="end">CAFs</text>
<text transform="translate(288.89 246.57) rotate(385.00)" dy="1.4" text-anchor="end">CD4_Tcells</text>
<text transform="translate(290.51 243.26) rotate(387.00)" dy="1.4" text-anchor="end">CD8_Tcells</text>
<text transform="translate(292.24 240.00) rotate(389.00)" dy="1.4" text-anchor="end">Endothelial</text>
<text transform="translate(294.08 236.81) rotate(391.00)" dy="1.4" text-anchor="end">Macrophages</text>
<text transform="translate(296.04 233.69) rotate(393.00)" dy="1.4" text-anchor="end">NKcells</text>
<text transform="translate(298.10 230.63) rotate(395.00)" dy="1.4" text-anchor="end">Activated B cell</text>
<text transform="translate(300.26 227.65) rotate(397.00)" dy="1.4" text-anchor="end">Activated CD4 T cell</text>
<text transform="translate(302.53 224.74) rotate(399.00)" dy="1.4" text-anchor="end">Activated CD8 T cell</text>
<text transform="translate(304.90 221.92) rotate(401.00)" dy="1.4" text-anchor="end">Central memory CD4 T cell</text>
<text transform="translate(307.37 219.18) rotate(403.00)" dy="1.4" text-anchor="end">Central memory CD8 T cell</text>
<text transform="translate(309.93 216.53) rotate(405.00)" dy="1.4" text-anchor="end">Effector memeory CD4 T cell</text>
<text transform="translate(312.58 213.97) rotate(407.00)" dy="1.4" text-anchor="end">Effector memeory CD8 T cell</text>
<text transform="translate(315.32 211.50) rotate(409.00)" dy="1.4" text-anchor="end">Gamma delta T cell</text>
<text transform="translate(318.14 209.13) rotate(411.00)" dy="1.4" text-anchor="end">Immature  B cell</text>
<text transform="translate(321.05 206.86) rotate(413.00)" dy="1.4" text-anchor="end">Memory B cell</text>
<text transform="translate(324.03 204.70) rotate(415.00)" dy="1.4" text-anchor="end">Regulatory T cell</text>
<text transform="translate(327.09 202.64) rotate(417.00)" dy="1.4" text-anchor="end">T follicular helper cell</text>
<text transform="translate(330.21 200.68) rotate(419.00)" dy="1.4" text-anchor="end">Type 1 T helper cell</text>
<text transform="translate(333.40 198.84) rotate(421.00)" dy="1.4" text-anchor="end">Type 17 T helper cell</text>
<text transform="translate(336.66 197.11) rotate(423.00)" dy="1.4" text-anchor="end">Type 2 T helper cell</text>
<text transform="translate(339.97 195.49) rotate(425.00)" dy="1.4" text-anchor="end">Activated dendritic cell</text>
<text transform="translate(343.34 193.99) rotate(427.00)" dy="1.4" text-anchor="end">CD56bright natural killer cell</text>
<text transform="translate(346.76 192.61) rotate(429.00)" dy="1.4" text-anchor="end">CD56dim natural killer cell</text>
<text transform="translate(350.22 191.35) rotate(431.00)" dy="1.4" text-anchor="end">Myeloid derived suppressor cell</text>
<text transform="translate(353.73 190.21) rotate(433.00)" dy="1.4" text-anchor="end">Natural killer cell</text>
<text transform="translate(357.27 189.20) rotate(435.00)" dy="1.4" text-anchor="end">Immature dendritic cell</text>
<text transform="translate(360.85 188.31) rotate(437.00)" dy="1.4" text-anchor="end">Plasmacytoid dendritic cell</text>
<text transform="translate(364.45 187.54) rotate(439.00)" dy="1.4" text-anchor="end">Natural killer T cell</text>
<text transform="translate(368.08 186.90) rotate(441.00)" dy="1.4" text-anchor="end">Eosinophil</text>
<text transform="translate(371.73 186.39) rotate(443.00)" dy="1.4" text-anchor="end">Macrophage</text>
<text transform="translate(375.40 186.00) rotate(445.00)" dy="1.4" text-anchor="end">Mast cell</text>
<text transform="translate(379.07 185.74) rotate(447.00)" dy="1.4" text-anchor="end">Monocyte</text>
<text transform="translate(382.76 185.62) rotate(449.00)" dy="1.4" text-anchor="end">Neutrophil</text>
</g>
<text x="357" y="254.2" font-size="10" fill="#222">Algorithms</text>
<rect x="360.8" y="260.5" width="8.4" height="8.2" fill="#a3c6dc"/>
<text x="372.3" y="267.9" font-size="6.5" fill="#333">ssGSEA</text>
<rect x="360.8" y="272.1" width="8.4" height="8.2" fill="#3e6ea8"/>
<text x="372.3" y="279.5" font-size="6.5" fill="#333">EPIC</text>
<rect x="360.8" y="283.6" width="8.4" height="8.2" fill="#a6d68c"/>
<text x="372.3" y="291.0" font-size="6.5" fill="#333">MCP-counter</text>
<rect x="360.8" y="295.1" width="8.4" height="8.2" fill="#3f9a3c"/>
<text x="372.3" y="302.5" font-size="6.5" fill="#333">xCell</text>
<rect x="360.8" y="306.6" width="8.4" height="8.2" fill="#f08c88"/>
<text x="372.3" y="314.0" font-size="6.5" fill="#333">quanTIseq</text>
<rect x="360.8" y="318.1" width="8.4" height="8.2" fill="#e8507e"/>
<text x="372.3" y="325.5" font-size="6.5" fill="#333">CIBERSORTx</text>
<rect x="360.8" y="329.7" width="8.4" height="8.2" fill="#f4a460"/>
<text x="372.3" y="337.1" font-size="6.5" fill="#333">TIMER</text>
<defs><linearGradient id="lg_sp"><stop offset="0" stop-color="#4a6fa5"/><stop offset="0.5" stop-color="#fbf8f8"/><stop offset="1" stop-color="#b0532a"/></linearGradient><linearGradient id="lg_ro"><stop offset="0" stop-color="#c48383"/><stop offset="0.35" stop-color="#f4eaea"/><stop offset="0.7" stop-color="#8a7070"/><stop offset="1" stop-color="#141010"/></linearGradient><linearGradient id="lg_gr"><stop offset="0" stop-color="#ffffff"/><stop offset="0.5" stop-color="#5aa55a"/><stop offset="1" stop-color="#1f5a25"/></linearGradient><linearGradient id="lg_re"><stop offset="0" stop-color="#ffffff"/><stop offset="0.5" stop-color="#e0543c"/><stop offset="1" stop-color="#6a1010"/></linearGradient><linearGradient id="lg_pu"><stop offset="0" stop-color="#ffffff"/><stop offset="0.5" stop-color="#a28cc6"/><stop offset="1" stop-color="#4a1c7c"/></linearGradient></defs>
<rect x="389.2" y="188.1" width="21" height="3.1" rx="0" fill="url(#lg_sp)" stroke="#3a3a3a" stroke-width="0.45"/>
<text x="414.1" y="191.0" font-size="4.6" fill="#2a2a2a" stroke="#2a2a2a" stroke-width="0.12">Spearman correlation coefficient</text>
<text x="390.2" y="194.1" font-size="3.1" fill="#333" stroke="#333" stroke-width="0.08" text-anchor="middle">−0.52</text>
<text x="399.6" y="194.1" font-size="3.1" fill="#333" stroke="#333" stroke-width="0.08" text-anchor="middle">0</text>
<text x="408.6" y="194.1" font-size="3.1" fill="#333" stroke="#333" stroke-width="0.08" text-anchor="middle">0.52</text>
<rect x="389.2" y="195.8" width="21" height="3.1" rx="0" fill="url(#lg_ro)" stroke="#3a3a3a" stroke-width="0.45"/>
<text x="414.1" y="198.7" font-size="4.6" fill="#2a2a2a" stroke="#2a2a2a" stroke-width="0.12">-log10 pvalue (correlation)</text>
<text x="389.6" y="201.8" font-size="3.1" fill="#333" stroke="#333" stroke-width="0.08" text-anchor="middle">0</text>
<text x="399.6" y="201.8" font-size="3.1" fill="#333" stroke="#333" stroke-width="0.08" text-anchor="middle">18</text>
<text x="409.2" y="201.8" font-size="3.1" fill="#333" stroke="#333" stroke-width="0.08" text-anchor="middle">37</text>
<rect x="389.2" y="203.1" width="21" height="3.1" rx="1.5" fill="url(#lg_gr)" stroke="#3a3a3a" stroke-width="0.45"/>
<text x="414.1" y="206.0" font-size="4.6" fill="#2a2a2a" stroke="#2a2a2a" stroke-width="0.12">Median score in High-UPF1 group</text>
<text x="389.6" y="209.1" font-size="3.1" fill="#333" stroke="#333" stroke-width="0.08" text-anchor="middle">0</text>
<text x="409.4" y="209.1" font-size="3.1" fill="#333" stroke="#333" stroke-width="0.08" text-anchor="middle">1</text>
<rect x="389.2" y="210.7" width="21" height="3.1" rx="1.5" fill="url(#lg_re)" stroke="#3a3a3a" stroke-width="0.45"/>
<text x="414.1" y="213.6" font-size="4.6" fill="#2a2a2a" stroke="#2a2a2a" stroke-width="0.12">Median score in Low-UPF1 group</text>
<text x="389.6" y="216.7" font-size="3.1" fill="#333" stroke="#333" stroke-width="0.08" text-anchor="middle">0</text>
<text x="409.4" y="216.7" font-size="3.1" fill="#333" stroke="#333" stroke-width="0.08" text-anchor="middle">1</text>
<rect x="389.2" y="218.1" width="21" height="3.1" rx="1.5" fill="url(#lg_pu)" stroke="#3a3a3a" stroke-width="0.45"/>
<text x="414.1" y="221.0" font-size="4.6" fill="#2a2a2a" stroke="#2a2a2a" stroke-width="0.12">-log10 pvalue (high vs low)</text>
<text x="389.6" y="224.1" font-size="3.1" fill="#333" stroke="#333" stroke-width="0.08" text-anchor="middle">0</text>
<text x="409.4" y="224.1" font-size="3.1" fill="#333" stroke="#333" stroke-width="0.08" text-anchor="middle">1</text>
<rect x="389.2" y="226" width="9.6" height="2.8" fill="#fff" stroke="#3a3a3a" stroke-width="0.45"/>
<rect x="399.6" y="226" width="10.6" height="2.8" fill="#3d64a6" stroke="#3a3a3a" stroke-width="0.45"/>
<text x="394" y="228.4" font-size="2.4" fill="#333" text-anchor="middle">NO</text>
<text x="404.9" y="228.4" font-size="2.4" fill="#fff" text-anchor="middle">YES</text>
<text x="414.1" y="229.4" font-size="4.6" fill="#2a2a2a" stroke="#2a2a2a" stroke-width="0.12">Statistically significant</text>
</svg>
</body></html>
